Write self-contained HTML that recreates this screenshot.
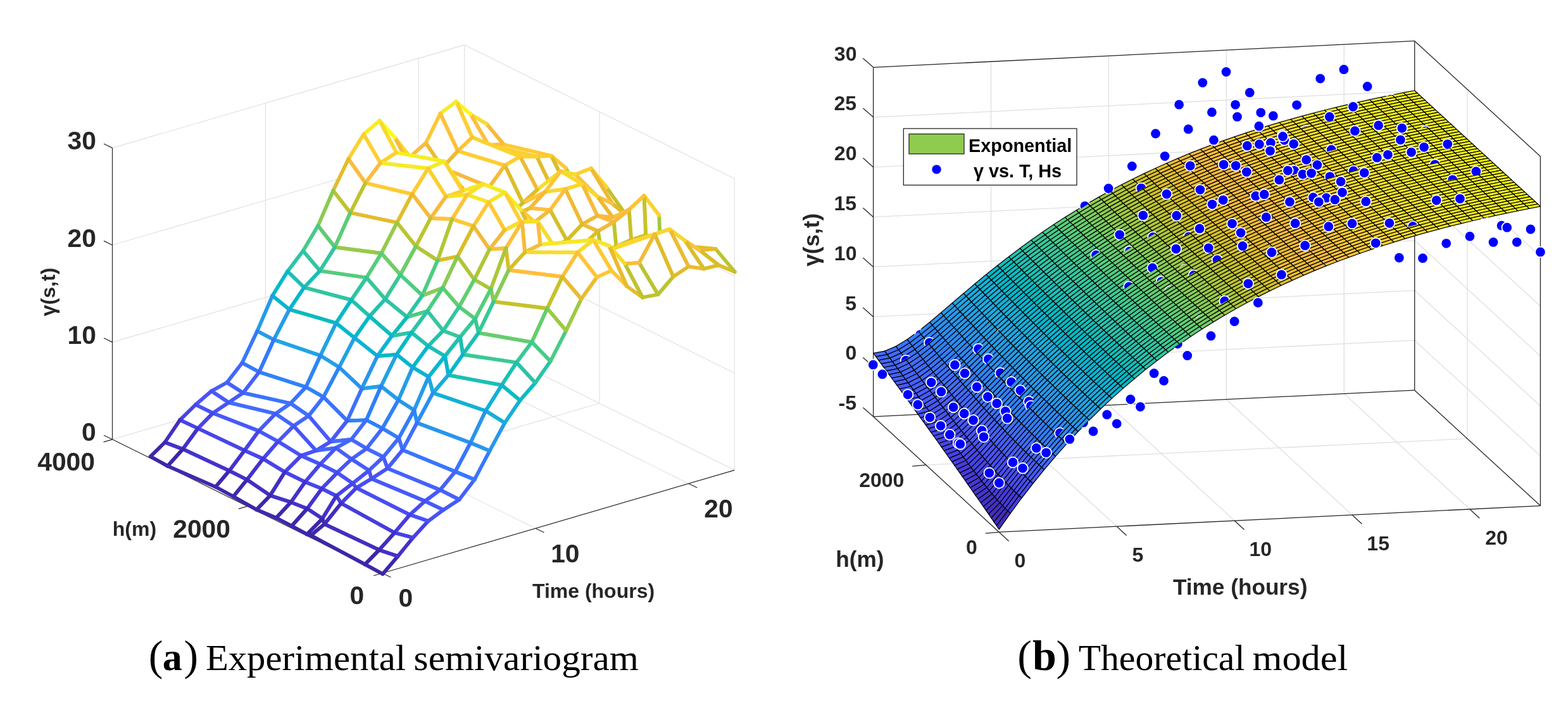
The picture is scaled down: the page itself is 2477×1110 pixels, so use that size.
<!DOCTYPE html>
<html lang="en"><head><meta charset="utf-8"><title>Experimental semivariogram and theoretical model</title>
<style>html,body{margin:0;padding:0;background:#fff}body{width:2477px;height:1110px;overflow:hidden}svg{display:block}</style>
</head><body>
<svg xmlns="http://www.w3.org/2000/svg" width="2477" height="1110" viewBox="0 0 2477 1110">
<rect width="2477" height="1110" fill="#fff"/>
<g id="left-axes" fill="none">
<line x1="177.5" y1="693.8" x2="733.8" y2="531.1" stroke="#dfdfdf" stroke-width="1.1"/>
<line x1="177.5" y1="540.4" x2="733.8" y2="377.7" stroke="#dfdfdf" stroke-width="1.1"/>
<line x1="177.5" y1="387" x2="733.8" y2="224.3" stroke="#dfdfdf" stroke-width="1.1"/>
<line x1="177.5" y1="233.6" x2="733.8" y2="70.9" stroke="#dfdfdf" stroke-width="1.1"/>
<line x1="419.4" y1="623.1" x2="419.4" y2="162.9" stroke="#dfdfdf" stroke-width="1.1"/>
<line x1="661.2" y1="552.3" x2="661.2" y2="92.1" stroke="#dfdfdf" stroke-width="1.1"/>
<line x1="733.8" y1="531.1" x2="733.8" y2="70.9" stroke="#dfdfdf" stroke-width="1.1"/>
<line x1="733.8" y1="531.1" x2="1160.3" y2="742.3" stroke="#dfdfdf" stroke-width="1.1"/>
<line x1="733.8" y1="377.7" x2="1160.3" y2="588.9" stroke="#dfdfdf" stroke-width="1.1"/>
<line x1="733.8" y1="224.3" x2="1160.3" y2="435.5" stroke="#dfdfdf" stroke-width="1.1"/>
<line x1="733.8" y1="70.9" x2="1160.3" y2="282.1" stroke="#dfdfdf" stroke-width="1.1"/>
<line x1="947" y1="636.7" x2="947" y2="176.5" stroke="#dfdfdf" stroke-width="1.1"/>
<line x1="1160.3" y1="742.3" x2="1160.3" y2="282.1" stroke="#dfdfdf" stroke-width="1.1"/>
<line x1="845.9" y1="834.3" x2="419.4" y2="623.1" stroke="#dfdfdf" stroke-width="1.1"/>
<line x1="1087.7" y1="763.5" x2="661.2" y2="552.3" stroke="#dfdfdf" stroke-width="1.1"/>
<line x1="390.8" y1="799.4" x2="947" y2="636.7" stroke="#dfdfdf" stroke-width="1.1"/>
<line x1="177.5" y1="693.8" x2="177.5" y2="233.6" stroke="#262626" stroke-width="1.2"/>
<line x1="177.5" y1="693.8" x2="604" y2="905" stroke="#262626" stroke-width="1.2"/>
<line x1="604" y1="905" x2="1160.3" y2="742.3" stroke="#262626" stroke-width="1.2"/>
<line x1="177.5" y1="693.8" x2="164" y2="687.2" stroke="#262626" stroke-width="1.2"/>
<line x1="177.5" y1="540.4" x2="164" y2="533.8" stroke="#262626" stroke-width="1.2"/>
<line x1="177.5" y1="387" x2="164" y2="380.4" stroke="#262626" stroke-width="1.2"/>
<line x1="177.5" y1="233.6" x2="164" y2="227" stroke="#262626" stroke-width="1.2"/>
<line x1="604" y1="905" x2="590.1" y2="909" stroke="#262626" stroke-width="1.2"/>
<line x1="390.8" y1="799.4" x2="376.9" y2="803.4" stroke="#262626" stroke-width="1.2"/>
<line x1="177.5" y1="693.8" x2="163.6" y2="697.8" stroke="#262626" stroke-width="1.2"/>
<line x1="604" y1="905" x2="617.6" y2="911.5" stroke="#262626" stroke-width="1.2"/>
<line x1="845.9" y1="834.3" x2="859.5" y2="840.8" stroke="#262626" stroke-width="1.2"/>
<line x1="1087.7" y1="763.5" x2="1101.3" y2="770" stroke="#262626" stroke-width="1.2"/>
</g>
<g id="mesh" stroke-linecap="round" stroke-linejoin="round" stroke-width="5.8">
<polygon points="795.7,228.2 819.8,248.3 793.8,228.4 768.6,195.6" fill="#fff" stroke="none"/>
<line x1="795.7" y1="228.2" x2="819.8" y2="248.3" stroke="#f8ba3d"/>
<line x1="819.8" y1="248.3" x2="793.8" y2="228.4" stroke="#d1bf27"/>
<line x1="793.8" y1="228.4" x2="768.6" y2="195.6" stroke="#fec934"/>
<line x1="768.6" y1="195.6" x2="795.7" y2="228.2" stroke="#f8ba3d"/>
<polygon points="771.5,228.9 795.7,228.2 768.6,195.6 743.4,180.4" fill="#fff" stroke="none"/>
<line x1="771.5" y1="228.9" x2="795.7" y2="228.2" stroke="#febe3c"/>
<line x1="795.7" y1="228.2" x2="768.6" y2="195.6" stroke="#f8ba3d"/>
<line x1="768.6" y1="195.6" x2="743.4" y2="180.4" stroke="#f7dd2a"/>
<line x1="743.4" y1="180.4" x2="771.5" y2="228.9" stroke="#febe3c"/>
<polygon points="745.9,217.0 771.5,228.9 743.4,180.4 720.7,160.3" fill="#fff" stroke="none"/>
<line x1="745.9" y1="217.0" x2="771.5" y2="228.9" stroke="#fdce31"/>
<line x1="771.5" y1="228.9" x2="743.4" y2="180.4" stroke="#febe3c"/>
<line x1="743.4" y1="180.4" x2="720.7" y2="160.3" stroke="#f8f719"/>
<line x1="720.7" y1="160.3" x2="745.9" y2="217.0" stroke="#fdce31"/>
<polygon points="723.2,238.5 745.9,217.0 720.7,160.3 695.5,179.2" fill="#fff" stroke="none"/>
<line x1="723.2" y1="238.5" x2="745.9" y2="217.0" stroke="#fec13a"/>
<line x1="745.9" y1="217.0" x2="720.7" y2="160.3" stroke="#fdce31"/>
<line x1="720.7" y1="160.3" x2="695.5" y2="179.2" stroke="#f5ec23"/>
<line x1="695.5" y1="179.2" x2="723.2" y2="238.5" stroke="#fec13a"/>
<polygon points="698.9,265.1 723.2,238.5 695.5,179.2 672.8,225.8" fill="#fff" stroke="none"/>
<line x1="698.9" y1="265.1" x2="723.2" y2="238.5" stroke="#edba34"/>
<line x1="723.2" y1="238.5" x2="695.5" y2="179.2" stroke="#fec13a"/>
<line x1="695.5" y1="179.2" x2="672.8" y2="225.8" stroke="#fec735"/>
<line x1="672.8" y1="225.8" x2="698.9" y2="265.1" stroke="#edba34"/>
<polygon points="674.7,277.6 698.9,265.1 672.8,225.8 647.7,247.4" fill="#fff" stroke="none"/>
<line x1="674.7" y1="277.6" x2="698.9" y2="265.1" stroke="#e6bb2d"/>
<line x1="698.9" y1="265.1" x2="672.8" y2="225.8" stroke="#edba34"/>
<line x1="672.8" y1="225.8" x2="647.7" y2="247.4" stroke="#fbbc3d"/>
<line x1="647.7" y1="247.4" x2="674.7" y2="277.6" stroke="#e6bb2d"/>
<polygon points="650.5,268.9 674.7,277.6 647.7,247.4 623.6,217.0" fill="#fff" stroke="none"/>
<line x1="650.5" y1="268.9" x2="674.7" y2="277.6" stroke="#fabb3d"/>
<line x1="674.7" y1="277.6" x2="647.7" y2="247.4" stroke="#e6bb2d"/>
<line x1="647.7" y1="247.4" x2="623.6" y2="217.0" stroke="#f7dc2a"/>
<line x1="623.6" y1="217.0" x2="650.5" y2="268.9" stroke="#fabb3d"/>
<polygon points="626.1,241.0 650.5,268.9 623.6,217.0 599.6,190.5" fill="#fff" stroke="none"/>
<line x1="626.1" y1="241.0" x2="650.5" y2="268.9" stroke="#f8d92c"/>
<line x1="650.5" y1="268.9" x2="623.6" y2="217.0" stroke="#fabb3d"/>
<line x1="623.6" y1="217.0" x2="599.6" y2="190.5" stroke="#f9fb15"/>
<line x1="599.6" y1="190.5" x2="626.1" y2="241.0" stroke="#f8d92c"/>
<polygon points="600.9,257.4 626.1,241.0 599.6,190.5 574.4,212.0" fill="#fff" stroke="none"/>
<line x1="600.9" y1="257.4" x2="626.1" y2="241.0" stroke="#fcd030"/>
<line x1="626.1" y1="241.0" x2="599.6" y2="190.5" stroke="#f8d92c"/>
<line x1="599.6" y1="190.5" x2="574.4" y2="212.0" stroke="#f5ee21"/>
<line x1="574.4" y1="212.0" x2="600.9" y2="257.4" stroke="#fcd030"/>
<polygon points="577.3,289.0 600.9,257.4 574.4,212.0 550.4,251.1" fill="#fff" stroke="none"/>
<line x1="577.3" y1="289.0" x2="600.9" y2="257.4" stroke="#fbbc3d"/>
<line x1="600.9" y1="257.4" x2="574.4" y2="212.0" stroke="#fcd030"/>
<line x1="574.4" y1="212.0" x2="550.4" y2="251.1" stroke="#fcd030"/>
<line x1="550.4" y1="251.1" x2="577.3" y2="289.0" stroke="#fbbc3d"/>
<polygon points="553.4,336.0 577.3,289.0 550.4,251.1 526.3,301.0" fill="#fff" stroke="none"/>
<line x1="553.4" y1="336.0" x2="577.3" y2="289.0" stroke="#bfc32d"/>
<line x1="577.3" y1="289.0" x2="550.4" y2="251.1" stroke="#fbbc3d"/>
<line x1="550.4" y1="251.1" x2="526.3" y2="301.0" stroke="#e4bb2c"/>
<line x1="526.3" y1="301.0" x2="553.4" y2="336.0" stroke="#bfc32d"/>
<polygon points="529.0,390.4 553.4,336.0 526.3,301.0 502.3,356.5" fill="#fff" stroke="none"/>
<line x1="529.0" y1="390.4" x2="553.4" y2="336.0" stroke="#5dcc75"/>
<line x1="553.4" y1="336.0" x2="526.3" y2="301.0" stroke="#bfc32d"/>
<line x1="526.3" y1="301.0" x2="502.3" y2="356.5" stroke="#89cb53"/>
<line x1="502.3" y1="356.5" x2="529.0" y2="390.4" stroke="#5dcc75"/>
<polygon points="505.4,427.7 529.0,390.4 502.3,356.5 478.7,396.2" fill="#fff" stroke="none"/>
<line x1="505.4" y1="427.7" x2="529.0" y2="390.4" stroke="#32c69f"/>
<line x1="529.0" y1="390.4" x2="502.3" y2="356.5" stroke="#5dcc75"/>
<line x1="502.3" y1="356.5" x2="478.7" y2="396.2" stroke="#47cb87"/>
<line x1="478.7" y1="396.2" x2="505.4" y2="427.7" stroke="#32c69f"/>
<polygon points="480.5,454.0 505.4,427.7 478.7,396.2 454.2,428.5" fill="#fff" stroke="none"/>
<line x1="480.5" y1="454.0" x2="505.4" y2="427.7" stroke="#1ac0b4"/>
<line x1="505.4" y1="427.7" x2="478.7" y2="396.2" stroke="#32c69f"/>
<line x1="478.7" y1="396.2" x2="454.2" y2="428.5" stroke="#2cc4a7"/>
<line x1="454.2" y1="428.5" x2="480.5" y2="454.0" stroke="#1ac0b4"/>
<polygon points="457.2,488.7 480.5,454.0 454.2,428.5 430.3,467.0" fill="#fff" stroke="none"/>
<line x1="457.2" y1="488.7" x2="480.5" y2="454.0" stroke="#07b5cf"/>
<line x1="480.5" y1="454.0" x2="454.2" y2="428.5" stroke="#1ac0b4"/>
<line x1="454.2" y1="428.5" x2="430.3" y2="467.0" stroke="#01b9c8"/>
<line x1="430.3" y1="467.0" x2="457.2" y2="488.7" stroke="#07b5cf"/>
<polygon points="432.6,536.5 457.2,488.7 430.3,467.0 406.3,522.8" fill="#fff" stroke="none"/>
<line x1="432.6" y1="536.5" x2="457.2" y2="488.7" stroke="#259ce7"/>
<line x1="457.2" y1="488.7" x2="430.3" y2="467.0" stroke="#07b5cf"/>
<line x1="430.3" y1="467.0" x2="406.3" y2="522.8" stroke="#259ce7"/>
<line x1="406.3" y1="522.8" x2="432.6" y2="536.5" stroke="#259ce7"/>
<polygon points="409.4,587.5 432.6,536.5 406.3,522.8 382.5,573.0" fill="#fff" stroke="none"/>
<line x1="409.4" y1="587.5" x2="432.6" y2="536.5" stroke="#3479fd"/>
<line x1="432.6" y1="536.5" x2="406.3" y2="522.8" stroke="#259ce7"/>
<line x1="406.3" y1="522.8" x2="382.5" y2="573.0" stroke="#337afd"/>
<line x1="382.5" y1="573.0" x2="409.4" y2="587.5" stroke="#3479fd"/>
<polygon points="384.0,620.4 409.4,587.5 382.5,573.0 358.5,604.0" fill="#fff" stroke="none"/>
<line x1="384.0" y1="620.4" x2="409.4" y2="587.5" stroke="#4561fc"/>
<line x1="409.4" y1="587.5" x2="382.5" y2="573.0" stroke="#3479fd"/>
<line x1="382.5" y1="573.0" x2="358.5" y2="604.0" stroke="#4465fd"/>
<line x1="358.5" y1="604.0" x2="384.0" y2="620.4" stroke="#4561fc"/>
<polygon points="361.3,635.6 384.0,620.4 358.5,604.0 334.0,617.5" fill="#fff" stroke="none"/>
<line x1="361.3" y1="635.6" x2="384.0" y2="620.4" stroke="#475bf9"/>
<line x1="384.0" y1="620.4" x2="358.5" y2="604.0" stroke="#4561fc"/>
<line x1="358.5" y1="604.0" x2="334.0" y2="617.5" stroke="#465ffb"/>
<line x1="334.0" y1="617.5" x2="361.3" y2="635.6" stroke="#475bf9"/>
<polygon points="336.3,652.4 361.3,635.6 334.0,617.5 309.0,639.0" fill="#fff" stroke="none"/>
<line x1="336.3" y1="652.4" x2="361.3" y2="635.6" stroke="#4853f5"/>
<line x1="361.3" y1="635.6" x2="334.0" y2="617.5" stroke="#475bf9"/>
<line x1="334.0" y1="617.5" x2="309.0" y2="639.0" stroke="#4853f5"/>
<line x1="309.0" y1="639.0" x2="336.3" y2="652.4" stroke="#4853f5"/>
<polygon points="312.7,676.5 336.3,652.4 309.0,639.0 284.3,663.1" fill="#fff" stroke="none"/>
<line x1="312.7" y1="676.5" x2="336.3" y2="652.4" stroke="#4745e9"/>
<line x1="336.3" y1="652.4" x2="309.0" y2="639.0" stroke="#4853f5"/>
<line x1="309.0" y1="639.0" x2="284.3" y2="663.1" stroke="#4744e8"/>
<line x1="284.3" y1="663.1" x2="312.7" y2="676.5" stroke="#4745e9"/>
<polygon points="288.8,709.2 312.7,676.5 284.3,663.1 260.4,698.5" fill="#fff" stroke="none"/>
<line x1="288.8" y1="709.2" x2="312.7" y2="676.5" stroke="#4332c9"/>
<line x1="312.7" y1="676.5" x2="284.3" y2="663.1" stroke="#4745e9"/>
<line x1="284.3" y1="663.1" x2="260.4" y2="698.5" stroke="#4230c3"/>
<line x1="260.4" y1="698.5" x2="288.8" y2="709.2" stroke="#4332c9"/>
<polygon points="264.9,735.9 288.8,709.2 260.4,698.5 237.7,720.8" fill="#fff" stroke="none"/>
<line x1="264.9" y1="735.9" x2="288.8" y2="709.2" stroke="#3e26a8"/>
<line x1="288.8" y1="709.2" x2="260.4" y2="698.5" stroke="#4332c9"/>
<line x1="260.4" y1="698.5" x2="237.7" y2="720.8" stroke="#3e27ab"/>
<line x1="237.7" y1="720.8" x2="264.9" y2="735.9" stroke="#3e26a8"/>
<polygon points="870.7,246.0 894.0,265.6 819.8,248.3 795.7,228.2" fill="#fff" stroke="none"/>
<line x1="870.7" y1="246.0" x2="894.0" y2="265.6" stroke="#fec934"/>
<line x1="894.0" y1="265.6" x2="819.8" y2="248.3" stroke="#efba35"/>
<line x1="819.8" y1="248.3" x2="795.7" y2="228.2" stroke="#f8ba3d"/>
<line x1="795.7" y1="228.2" x2="870.7" y2="246.0" stroke="#fec934"/>
<polygon points="848.0,247.3 870.7,246.0 795.7,228.2 771.5,228.9" fill="#fff" stroke="none"/>
<line x1="848.0" y1="247.3" x2="870.7" y2="246.0" stroke="#fccf30"/>
<line x1="870.7" y1="246.0" x2="795.7" y2="228.2" stroke="#fec934"/>
<line x1="795.7" y1="228.2" x2="771.5" y2="228.9" stroke="#febe3c"/>
<line x1="771.5" y1="228.9" x2="848.0" y2="247.3" stroke="#fccf30"/>
<polygon points="821.6,247.3 848.0,247.3 771.5,228.9 745.9,217.0" fill="#fff" stroke="none"/>
<line x1="821.6" y1="247.3" x2="848.0" y2="247.3" stroke="#fad42e"/>
<line x1="848.0" y1="247.3" x2="771.5" y2="228.9" stroke="#fccf30"/>
<line x1="771.5" y1="228.9" x2="745.9" y2="217.0" stroke="#fdce31"/>
<line x1="745.9" y1="217.0" x2="821.6" y2="247.3" stroke="#fad42e"/>
<polygon points="797.6,261.2 821.6,247.3 745.9,217.0 723.2,238.5" fill="#fff" stroke="none"/>
<line x1="797.6" y1="261.2" x2="821.6" y2="247.3" stroke="#fdce31"/>
<line x1="821.6" y1="247.3" x2="745.9" y2="217.0" stroke="#fad42e"/>
<line x1="745.9" y1="217.0" x2="723.2" y2="238.5" stroke="#fec13a"/>
<line x1="723.2" y1="238.5" x2="797.6" y2="261.2" stroke="#fdce31"/>
<polygon points="773.0,295.3 797.6,261.2 723.2,238.5 698.9,265.1" fill="#fff" stroke="none"/>
<line x1="773.0" y1="295.3" x2="797.6" y2="261.2" stroke="#f6ba3b"/>
<line x1="797.6" y1="261.2" x2="723.2" y2="238.5" stroke="#fdce31"/>
<line x1="723.2" y1="238.5" x2="698.9" y2="265.1" stroke="#edba34"/>
<line x1="698.9" y1="265.1" x2="773.0" y2="295.3" stroke="#f6ba3b"/>
<polygon points="748.8,321.5 773.0,295.3 698.9,265.1 674.7,277.6" fill="#fff" stroke="none"/>
<line x1="748.8" y1="321.5" x2="773.0" y2="295.3" stroke="#dbbd29"/>
<line x1="773.0" y1="295.3" x2="698.9" y2="265.1" stroke="#f6ba3b"/>
<line x1="698.9" y1="265.1" x2="674.7" y2="277.6" stroke="#e6bb2d"/>
<line x1="674.7" y1="277.6" x2="748.8" y2="321.5" stroke="#dbbd29"/>
<polygon points="727.0,292.4 748.8,321.5 674.7,277.6 650.5,268.9" fill="#fff" stroke="none"/>
<line x1="727.0" y1="292.4" x2="748.8" y2="321.5" stroke="#fec636"/>
<line x1="748.8" y1="321.5" x2="674.7" y2="277.6" stroke="#dbbd29"/>
<line x1="674.7" y1="277.6" x2="650.5" y2="268.9" stroke="#fabb3d"/>
<line x1="650.5" y1="268.9" x2="727.0" y2="292.4" stroke="#fec636"/>
<polygon points="701.8,254.8 727.0,292.4 650.5,268.9 626.1,241.0" fill="#fff" stroke="none"/>
<line x1="701.8" y1="254.8" x2="727.0" y2="292.4" stroke="#f6ef20"/>
<line x1="727.0" y1="292.4" x2="650.5" y2="268.9" stroke="#fec636"/>
<line x1="650.5" y1="268.9" x2="626.1" y2="241.0" stroke="#f8d92c"/>
<line x1="626.1" y1="241.0" x2="701.8" y2="254.8" stroke="#f6ef20"/>
<polygon points="676.4,266.0 701.8,254.8 626.1,241.0 600.9,257.4" fill="#fff" stroke="none"/>
<line x1="676.4" y1="266.0" x2="701.8" y2="254.8" stroke="#f5eb23"/>
<line x1="701.8" y1="254.8" x2="626.1" y2="241.0" stroke="#f6ef20"/>
<line x1="626.1" y1="241.0" x2="600.9" y2="257.4" stroke="#fcd030"/>
<line x1="600.9" y1="257.4" x2="676.4" y2="266.0" stroke="#f5eb23"/>
<polygon points="651.2,306.6 676.4,266.0 600.9,257.4 577.3,289.0" fill="#fff" stroke="none"/>
<line x1="651.2" y1="306.6" x2="676.4" y2="266.0" stroke="#fdcb33"/>
<line x1="676.4" y1="266.0" x2="600.9" y2="257.4" stroke="#f5eb23"/>
<line x1="600.9" y1="257.4" x2="577.3" y2="289.0" stroke="#fbbc3d"/>
<line x1="577.3" y1="289.0" x2="651.2" y2="306.6" stroke="#fdcb33"/>
<polygon points="627.2,351.5 651.2,306.6 577.3,289.0 553.4,336.0" fill="#fff" stroke="none"/>
<line x1="627.2" y1="351.5" x2="651.2" y2="306.6" stroke="#e3bc2c"/>
<line x1="651.2" y1="306.6" x2="577.3" y2="289.0" stroke="#fdcb33"/>
<line x1="577.3" y1="289.0" x2="553.4" y2="336.0" stroke="#bfc32d"/>
<line x1="553.4" y1="336.0" x2="627.2" y2="351.5" stroke="#e3bc2c"/>
<polygon points="602.5,400.0 627.2,351.5 553.4,336.0 529.0,390.4" fill="#fff" stroke="none"/>
<line x1="602.5" y1="400.0" x2="627.2" y2="351.5" stroke="#96ca49"/>
<line x1="627.2" y1="351.5" x2="553.4" y2="336.0" stroke="#e3bc2c"/>
<line x1="553.4" y1="336.0" x2="529.0" y2="390.4" stroke="#5dcc75"/>
<line x1="529.0" y1="390.4" x2="602.5" y2="400.0" stroke="#96ca49"/>
<polygon points="579.0,438.5 602.5,400.0 529.0,390.4 505.4,427.7" fill="#fff" stroke="none"/>
<line x1="579.0" y1="438.5" x2="602.5" y2="400.0" stroke="#55cc7c"/>
<line x1="602.5" y1="400.0" x2="529.0" y2="390.4" stroke="#96ca49"/>
<line x1="529.0" y1="390.4" x2="505.4" y2="427.7" stroke="#32c69f"/>
<line x1="505.4" y1="427.7" x2="579.0" y2="438.5" stroke="#55cc7c"/>
<polygon points="555.0,473.6 579.0,438.5 505.4,427.7 480.5,454.0" fill="#fff" stroke="none"/>
<line x1="555.0" y1="473.6" x2="579.0" y2="438.5" stroke="#30c5a2"/>
<line x1="579.0" y1="438.5" x2="505.4" y2="427.7" stroke="#55cc7c"/>
<line x1="505.4" y1="427.7" x2="480.5" y2="454.0" stroke="#1ac0b4"/>
<line x1="480.5" y1="454.0" x2="555.0" y2="473.6" stroke="#30c5a2"/>
<polygon points="531.0,510.2 555.0,473.6 480.5,454.0 457.2,488.7" fill="#fff" stroke="none"/>
<line x1="531.0" y1="510.2" x2="555.0" y2="473.6" stroke="#05bbc1"/>
<line x1="555.0" y1="473.6" x2="480.5" y2="454.0" stroke="#30c5a2"/>
<line x1="480.5" y1="454.0" x2="457.2" y2="488.7" stroke="#07b5cf"/>
<line x1="457.2" y1="488.7" x2="531.0" y2="510.2" stroke="#05bbc1"/>
<polygon points="506.2,561.5 531.0,510.2 457.2,488.7 432.6,536.5" fill="#fff" stroke="none"/>
<line x1="506.2" y1="561.5" x2="531.0" y2="510.2" stroke="#21a4e3"/>
<line x1="531.0" y1="510.2" x2="457.2" y2="488.7" stroke="#05bbc1"/>
<line x1="457.2" y1="488.7" x2="432.6" y2="536.5" stroke="#259ce7"/>
<line x1="432.6" y1="536.5" x2="506.2" y2="561.5" stroke="#21a4e3"/>
<polygon points="483.3,611.3 506.2,561.5 432.6,536.5 409.4,587.5" fill="#fff" stroke="none"/>
<line x1="483.3" y1="611.3" x2="506.2" y2="561.5" stroke="#2e84f8"/>
<line x1="506.2" y1="561.5" x2="432.6" y2="536.5" stroke="#21a4e3"/>
<line x1="432.6" y1="536.5" x2="409.4" y2="587.5" stroke="#3479fd"/>
<line x1="409.4" y1="587.5" x2="483.3" y2="611.3" stroke="#2e84f8"/>
<polygon points="459.0,637.0 483.3,611.3 409.4,587.5 384.0,620.4" fill="#fff" stroke="none"/>
<line x1="459.0" y1="637.0" x2="483.3" y2="611.3" stroke="#3a74fe"/>
<line x1="483.3" y1="611.3" x2="409.4" y2="587.5" stroke="#2e84f8"/>
<line x1="409.4" y1="587.5" x2="384.0" y2="620.4" stroke="#4561fc"/>
<line x1="384.0" y1="620.4" x2="459.0" y2="637.0" stroke="#3a74fe"/>
<polygon points="435.2,653.3 459.0,637.0 384.0,620.4 361.3,635.6" fill="#fff" stroke="none"/>
<line x1="435.2" y1="653.3" x2="459.0" y2="637.0" stroke="#416cfe"/>
<line x1="459.0" y1="637.0" x2="384.0" y2="620.4" stroke="#3a74fe"/>
<line x1="384.0" y1="620.4" x2="361.3" y2="635.6" stroke="#475bf9"/>
<line x1="361.3" y1="635.6" x2="435.2" y2="653.3" stroke="#416cfe"/>
<polygon points="408.8,680.5 435.2,653.3 361.3,635.6 336.3,652.4" fill="#fff" stroke="none"/>
<line x1="408.8" y1="680.5" x2="435.2" y2="653.3" stroke="#4759f9"/>
<line x1="435.2" y1="653.3" x2="361.3" y2="635.6" stroke="#416cfe"/>
<line x1="361.3" y1="635.6" x2="336.3" y2="652.4" stroke="#4853f5"/>
<line x1="336.3" y1="652.4" x2="408.8" y2="680.5" stroke="#4759f9"/>
<polygon points="386.4,711.3 408.8,680.5 336.3,652.4 312.7,676.5" fill="#fff" stroke="none"/>
<line x1="386.4" y1="711.3" x2="408.8" y2="680.5" stroke="#4746ea"/>
<line x1="408.8" y1="680.5" x2="336.3" y2="652.4" stroke="#4759f9"/>
<line x1="336.3" y1="652.4" x2="312.7" y2="676.5" stroke="#4745e9"/>
<line x1="312.7" y1="676.5" x2="386.4" y2="711.3" stroke="#4746ea"/>
<polygon points="362.2,743.4 386.4,711.3 312.7,676.5 288.8,709.2" fill="#fff" stroke="none"/>
<line x1="362.2" y1="743.4" x2="386.4" y2="711.3" stroke="#4433cc"/>
<line x1="386.4" y1="711.3" x2="312.7" y2="676.5" stroke="#4746ea"/>
<line x1="312.7" y1="676.5" x2="288.8" y2="709.2" stroke="#4332c9"/>
<line x1="288.8" y1="709.2" x2="362.2" y2="743.4" stroke="#4433cc"/>
<polygon points="340.6,768.8 362.2,743.4 288.8,709.2 264.9,735.9" fill="#fff" stroke="none"/>
<line x1="340.6" y1="768.8" x2="362.2" y2="743.4" stroke="#3f29b0"/>
<line x1="362.2" y1="743.4" x2="288.8" y2="709.2" stroke="#4433cc"/>
<line x1="288.8" y1="709.2" x2="264.9" y2="735.9" stroke="#3e26a8"/>
<line x1="264.9" y1="735.9" x2="340.6" y2="768.8" stroke="#3f29b0"/>
<polygon points="898.8,302.1 923.0,322.2 894.0,265.6 870.7,246.0" fill="#fff" stroke="none"/>
<line x1="898.8" y1="302.1" x2="923.0" y2="322.2" stroke="#d8be28"/>
<line x1="923.0" y1="322.2" x2="894.0" y2="265.6" stroke="#a6c73c"/>
<line x1="894.0" y1="265.6" x2="870.7" y2="246.0" stroke="#fec934"/>
<line x1="870.7" y1="246.0" x2="898.8" y2="302.1" stroke="#d8be28"/>
<polygon points="874.6,302.8 898.8,302.1 870.7,246.0 848.0,247.3" fill="#fff" stroke="none"/>
<line x1="874.6" y1="302.8" x2="898.8" y2="302.1" stroke="#e2bc2b"/>
<line x1="898.8" y1="302.1" x2="870.7" y2="246.0" stroke="#d8be28"/>
<line x1="870.7" y1="246.0" x2="848.0" y2="247.3" stroke="#fccf30"/>
<line x1="848.0" y1="247.3" x2="874.6" y2="302.8" stroke="#e2bc2b"/>
<polygon points="848.9,299.5 874.6,302.8 848.0,247.3 821.6,247.3" fill="#fff" stroke="none"/>
<line x1="848.9" y1="299.5" x2="874.6" y2="302.8" stroke="#f0ba36"/>
<line x1="874.6" y1="302.8" x2="848.0" y2="247.3" stroke="#e2bc2b"/>
<line x1="848.0" y1="247.3" x2="821.6" y2="247.3" stroke="#fad42e"/>
<line x1="821.6" y1="247.3" x2="848.9" y2="299.5" stroke="#f0ba36"/>
<polygon points="825.9,320.6 848.9,299.5 821.6,247.3 797.6,261.2" fill="#fff" stroke="none"/>
<line x1="825.9" y1="320.6" x2="848.9" y2="299.5" stroke="#ddbd29"/>
<line x1="848.9" y1="299.5" x2="821.6" y2="247.3" stroke="#f0ba36"/>
<line x1="821.6" y1="247.3" x2="797.6" y2="261.2" stroke="#fdce31"/>
<line x1="797.6" y1="261.2" x2="825.9" y2="320.6" stroke="#ddbd29"/>
<polygon points="802.0,343.1 825.9,320.6 797.6,261.2 773.0,295.3" fill="#fff" stroke="none"/>
<line x1="802.0" y1="343.1" x2="825.9" y2="320.6" stroke="#c2c22b"/>
<line x1="825.9" y1="320.6" x2="797.6" y2="261.2" stroke="#ddbd29"/>
<line x1="797.6" y1="261.2" x2="773.0" y2="295.3" stroke="#f6ba3b"/>
<line x1="773.0" y1="295.3" x2="802.0" y2="343.1" stroke="#c2c22b"/>
<polygon points="777.8,351.3 802.0,343.1 773.0,295.3 748.8,321.5" fill="#fff" stroke="none"/>
<line x1="777.8" y1="351.3" x2="802.0" y2="343.1" stroke="#c0c32d"/>
<line x1="802.0" y1="343.1" x2="773.0" y2="295.3" stroke="#c2c22b"/>
<line x1="773.0" y1="295.3" x2="748.8" y2="321.5" stroke="#dbbd29"/>
<line x1="748.8" y1="321.5" x2="777.8" y2="351.3" stroke="#c0c32d"/>
<polygon points="753.6,338.3 777.8,351.3 748.8,321.5 727.0,292.4" fill="#fff" stroke="none"/>
<line x1="753.6" y1="338.3" x2="777.8" y2="351.3" stroke="#e2bc2b"/>
<line x1="777.8" y1="351.3" x2="748.8" y2="321.5" stroke="#c0c32d"/>
<line x1="748.8" y1="321.5" x2="727.0" y2="292.4" stroke="#fec636"/>
<line x1="727.0" y1="292.4" x2="753.6" y2="338.3" stroke="#e2bc2b"/>
<polygon points="730.8,301.5 753.6,338.3 727.0,292.4 701.8,254.8" fill="#fff" stroke="none"/>
<line x1="730.8" y1="301.5" x2="753.6" y2="338.3" stroke="#fcd12f"/>
<line x1="753.6" y1="338.3" x2="727.0" y2="292.4" stroke="#e2bc2b"/>
<line x1="727.0" y1="292.4" x2="701.8" y2="254.8" stroke="#f6ef20"/>
<line x1="701.8" y1="254.8" x2="730.8" y2="301.5" stroke="#fcd12f"/>
<polygon points="704.5,310.4 730.8,301.5 701.8,254.8 676.4,266.0" fill="#fff" stroke="none"/>
<line x1="704.5" y1="310.4" x2="730.8" y2="301.5" stroke="#fdce31"/>
<line x1="730.8" y1="301.5" x2="701.8" y2="254.8" stroke="#fcd12f"/>
<line x1="701.8" y1="254.8" x2="676.4" y2="266.0" stroke="#f5eb23"/>
<line x1="676.4" y1="266.0" x2="704.5" y2="310.4" stroke="#fdce31"/>
<polygon points="680.3,344.5 704.5,310.4 676.4,266.0 651.2,306.6" fill="#fff" stroke="none"/>
<line x1="680.3" y1="344.5" x2="704.5" y2="310.4" stroke="#f6ba3b"/>
<line x1="704.5" y1="310.4" x2="676.4" y2="266.0" stroke="#fdce31"/>
<line x1="676.4" y1="266.0" x2="651.2" y2="306.6" stroke="#fdcb33"/>
<line x1="651.2" y1="306.6" x2="680.3" y2="344.5" stroke="#f6ba3b"/>
<polygon points="657.0,389.0 680.3,344.5 651.2,306.6 627.2,351.5" fill="#fff" stroke="none"/>
<line x1="657.0" y1="389.0" x2="680.3" y2="344.5" stroke="#bcc42f"/>
<line x1="680.3" y1="344.5" x2="651.2" y2="306.6" stroke="#f6ba3b"/>
<line x1="651.2" y1="306.6" x2="627.2" y2="351.5" stroke="#e3bc2c"/>
<line x1="627.2" y1="351.5" x2="657.0" y2="389.0" stroke="#bcc42f"/>
<polygon points="632.5,434.0 657.0,389.0 627.2,351.5 602.5,400.0" fill="#fff" stroke="none"/>
<line x1="632.5" y1="434.0" x2="657.0" y2="389.0" stroke="#6ccd68"/>
<line x1="657.0" y1="389.0" x2="627.2" y2="351.5" stroke="#bcc42f"/>
<line x1="627.2" y1="351.5" x2="602.5" y2="400.0" stroke="#96ca49"/>
<line x1="602.5" y1="400.0" x2="632.5" y2="434.0" stroke="#6ccd68"/>
<polygon points="608.5,472.4 632.5,434.0 602.5,400.0 579.0,438.5" fill="#fff" stroke="none"/>
<line x1="608.5" y1="472.4" x2="632.5" y2="434.0" stroke="#37c897"/>
<line x1="632.5" y1="434.0" x2="602.5" y2="400.0" stroke="#6ccd68"/>
<line x1="602.5" y1="400.0" x2="579.0" y2="438.5" stroke="#55cc7c"/>
<line x1="579.0" y1="438.5" x2="608.5" y2="472.4" stroke="#37c897"/>
<polygon points="583.9,499.5 608.5,472.4 579.0,438.5 555.0,473.6" fill="#fff" stroke="none"/>
<line x1="583.9" y1="499.5" x2="608.5" y2="472.4" stroke="#24c1ae"/>
<line x1="608.5" y1="472.4" x2="579.0" y2="438.5" stroke="#37c897"/>
<line x1="579.0" y1="438.5" x2="555.0" y2="473.6" stroke="#30c5a2"/>
<line x1="555.0" y1="473.6" x2="583.9" y2="499.5" stroke="#24c1ae"/>
<polygon points="560.0,533.5 583.9,499.5 555.0,473.6 531.0,510.2" fill="#fff" stroke="none"/>
<line x1="560.0" y1="533.5" x2="583.9" y2="499.5" stroke="#01b8ca"/>
<line x1="583.9" y1="499.5" x2="555.0" y2="473.6" stroke="#24c1ae"/>
<line x1="555.0" y1="473.6" x2="531.0" y2="510.2" stroke="#05bbc1"/>
<line x1="531.0" y1="510.2" x2="560.0" y2="533.5" stroke="#01b8ca"/>
<polygon points="535.8,580.0 560.0,533.5 531.0,510.2 506.2,561.5" fill="#fff" stroke="none"/>
<line x1="535.8" y1="580.0" x2="560.0" y2="533.5" stroke="#23a1e4"/>
<line x1="560.0" y1="533.5" x2="531.0" y2="510.2" stroke="#01b8ca"/>
<line x1="531.0" y1="510.2" x2="506.2" y2="561.5" stroke="#21a4e3"/>
<line x1="506.2" y1="561.5" x2="535.8" y2="580.0" stroke="#23a1e4"/>
<polygon points="511.0,627.0 535.8,580.0 506.2,561.5 483.3,611.3" fill="#fff" stroke="none"/>
<line x1="511.0" y1="627.0" x2="535.8" y2="580.0" stroke="#2f83f9"/>
<line x1="535.8" y1="580.0" x2="506.2" y2="561.5" stroke="#23a1e4"/>
<line x1="506.2" y1="561.5" x2="483.3" y2="611.3" stroke="#2e84f8"/>
<line x1="483.3" y1="611.3" x2="511.0" y2="627.0" stroke="#2f83f9"/>
<polygon points="487.6,656.6 511.0,627.0 483.3,611.3 459.0,637.0" fill="#fff" stroke="none"/>
<line x1="487.6" y1="656.6" x2="511.0" y2="627.0" stroke="#3e6fff"/>
<line x1="511.0" y1="627.0" x2="483.3" y2="611.3" stroke="#2f83f9"/>
<line x1="483.3" y1="611.3" x2="459.0" y2="637.0" stroke="#3a74fe"/>
<line x1="459.0" y1="637.0" x2="487.6" y2="656.6" stroke="#3e6fff"/>
<polygon points="463.8,672.6 487.6,656.6 459.0,637.0 435.2,653.3" fill="#fff" stroke="none"/>
<line x1="463.8" y1="672.6" x2="487.6" y2="656.6" stroke="#4367fd"/>
<line x1="487.6" y1="656.6" x2="459.0" y2="637.0" stroke="#3e6fff"/>
<line x1="459.0" y1="637.0" x2="435.2" y2="653.3" stroke="#416cfe"/>
<line x1="435.2" y1="653.3" x2="463.8" y2="672.6" stroke="#4367fd"/>
<polygon points="439.4,697.2 463.8,672.6 435.2,653.3 408.8,680.5" fill="#fff" stroke="none"/>
<line x1="439.4" y1="697.2" x2="463.8" y2="672.6" stroke="#4758f8"/>
<line x1="463.8" y1="672.6" x2="435.2" y2="653.3" stroke="#4367fd"/>
<line x1="435.2" y1="653.3" x2="408.8" y2="680.5" stroke="#4759f9"/>
<line x1="408.8" y1="680.5" x2="439.4" y2="697.2" stroke="#4758f8"/>
<polygon points="415.6,724.5 439.4,697.2 408.8,680.5 386.4,711.3" fill="#fff" stroke="none"/>
<line x1="415.6" y1="724.5" x2="439.4" y2="697.2" stroke="#4747eb"/>
<line x1="439.4" y1="697.2" x2="408.8" y2="680.5" stroke="#4758f8"/>
<line x1="408.8" y1="680.5" x2="386.4" y2="711.3" stroke="#4746ea"/>
<line x1="386.4" y1="711.3" x2="415.6" y2="724.5" stroke="#4747eb"/>
<polygon points="390.2,757.5 415.6,724.5 386.4,711.3 362.2,743.4" fill="#fff" stroke="none"/>
<line x1="390.2" y1="757.5" x2="415.6" y2="724.5" stroke="#4433cc"/>
<line x1="415.6" y1="724.5" x2="386.4" y2="711.3" stroke="#4747eb"/>
<line x1="386.4" y1="711.3" x2="362.2" y2="743.4" stroke="#4433cc"/>
<line x1="362.2" y1="743.4" x2="390.2" y2="757.5" stroke="#4433cc"/>
<polygon points="368.7,784.0 390.2,757.5 362.2,743.4 340.6,768.8" fill="#fff" stroke="none"/>
<line x1="368.7" y1="784.0" x2="390.2" y2="757.5" stroke="#3f28ae"/>
<line x1="390.2" y1="757.5" x2="362.2" y2="743.4" stroke="#4433cc"/>
<line x1="362.2" y1="743.4" x2="340.6" y2="768.8" stroke="#3f29b0"/>
<line x1="340.6" y1="768.8" x2="368.7" y2="784.0" stroke="#3f28ae"/>
<polygon points="933.6,265.9 958.3,295.9 923.0,322.2 898.8,302.1" fill="#fff" stroke="none"/>
<line x1="933.6" y1="265.9" x2="958.3" y2="295.9" stroke="#fbd32e"/>
<line x1="958.3" y1="295.9" x2="923.0" y2="322.2" stroke="#f1ba37"/>
<line x1="923.0" y1="322.2" x2="898.8" y2="302.1" stroke="#d8be28"/>
<line x1="898.8" y1="302.1" x2="933.6" y2="265.9" stroke="#fbd32e"/>
<polygon points="908.9,275.6 933.6,265.9 898.8,302.1 874.6,302.8" fill="#fff" stroke="none"/>
<line x1="908.9" y1="275.6" x2="933.6" y2="265.9" stroke="#fcd030"/>
<line x1="933.6" y1="265.9" x2="898.8" y2="302.1" stroke="#fbd32e"/>
<line x1="898.8" y1="302.1" x2="874.6" y2="302.8" stroke="#e2bc2b"/>
<line x1="874.6" y1="302.8" x2="908.9" y2="275.6" stroke="#fcd030"/>
<polygon points="885.9,270.3 908.9,275.6 874.6,302.8 848.9,299.5" fill="#fff" stroke="none"/>
<line x1="885.9" y1="270.3" x2="908.9" y2="275.6" stroke="#f7dd2a"/>
<line x1="908.9" y1="275.6" x2="874.6" y2="302.8" stroke="#fcd030"/>
<line x1="874.6" y1="302.8" x2="848.9" y2="299.5" stroke="#f0ba36"/>
<line x1="848.9" y1="299.5" x2="885.9" y2="270.3" stroke="#f7dd2a"/>
<polygon points="861.5,302.8 885.9,270.3 848.9,299.5 825.9,320.6" fill="#fff" stroke="none"/>
<line x1="861.5" y1="302.8" x2="885.9" y2="270.3" stroke="#fec537"/>
<line x1="885.9" y1="270.3" x2="848.9" y2="299.5" stroke="#f7dd2a"/>
<line x1="848.9" y1="299.5" x2="825.9" y2="320.6" stroke="#ddbd29"/>
<line x1="825.9" y1="320.6" x2="861.5" y2="302.8" stroke="#fec537"/>
<polygon points="837.3,328.6 861.5,302.8 825.9,320.6 802.0,343.1" fill="#fff" stroke="none"/>
<line x1="837.3" y1="328.6" x2="861.5" y2="302.8" stroke="#f4ba39"/>
<line x1="861.5" y1="302.8" x2="825.9" y2="320.6" stroke="#fec537"/>
<line x1="825.9" y1="320.6" x2="802.0" y2="343.1" stroke="#c2c22b"/>
<line x1="802.0" y1="343.1" x2="837.3" y2="328.6" stroke="#f4ba39"/>
<polygon points="813.1,342.6 837.3,328.6 802.0,343.1 777.8,351.3" fill="#fff" stroke="none"/>
<line x1="813.1" y1="342.6" x2="837.3" y2="328.6" stroke="#ebba31"/>
<line x1="837.3" y1="328.6" x2="802.0" y2="343.1" stroke="#f4ba39"/>
<line x1="802.0" y1="343.1" x2="777.8" y2="351.3" stroke="#c0c32d"/>
<line x1="777.8" y1="351.3" x2="813.1" y2="342.6" stroke="#ebba31"/>
<polygon points="788.9,322.1 813.1,342.6 777.8,351.3 753.6,338.3" fill="#fff" stroke="none"/>
<line x1="788.9" y1="322.1" x2="813.1" y2="342.6" stroke="#fec736"/>
<line x1="813.1" y1="342.6" x2="777.8" y2="351.3" stroke="#ebba31"/>
<line x1="777.8" y1="351.3" x2="753.6" y2="338.3" stroke="#e2bc2b"/>
<line x1="753.6" y1="338.3" x2="788.9" y2="322.1" stroke="#fec736"/>
<polygon points="763.4,290.8 788.9,322.1 753.6,338.3 730.8,301.5" fill="#fff" stroke="none"/>
<line x1="763.4" y1="290.8" x2="788.9" y2="322.1" stroke="#f5ea24"/>
<line x1="788.9" y1="322.1" x2="753.6" y2="338.3" stroke="#fec736"/>
<line x1="753.6" y1="338.3" x2="730.8" y2="301.5" stroke="#fcd12f"/>
<line x1="730.8" y1="301.5" x2="763.4" y2="290.8" stroke="#f5ea24"/>
<polygon points="738.0,307.5 763.4,290.8 730.8,301.5 704.5,310.4" fill="#fff" stroke="none"/>
<line x1="738.0" y1="307.5" x2="763.4" y2="290.8" stroke="#f6e028"/>
<line x1="763.4" y1="290.8" x2="730.8" y2="301.5" stroke="#f5ea24"/>
<line x1="730.8" y1="301.5" x2="704.5" y2="310.4" stroke="#fdce31"/>
<line x1="704.5" y1="310.4" x2="738.0" y2="307.5" stroke="#f6e028"/>
<polygon points="714.2,346.0 738.0,307.5 704.5,310.4 680.3,344.5" fill="#fff" stroke="none"/>
<line x1="714.2" y1="346.0" x2="738.0" y2="307.5" stroke="#fec338"/>
<line x1="738.0" y1="307.5" x2="704.5" y2="310.4" stroke="#f6e028"/>
<line x1="704.5" y1="310.4" x2="680.3" y2="344.5" stroke="#f6ba3b"/>
<line x1="680.3" y1="344.5" x2="714.2" y2="346.0" stroke="#fec338"/>
<polygon points="691.3,411.3 714.2,346.0 680.3,344.5 657.0,389.0" fill="#fff" stroke="none"/>
<line x1="691.3" y1="411.3" x2="714.2" y2="346.0" stroke="#b2c635"/>
<line x1="714.2" y1="346.0" x2="680.3" y2="344.5" stroke="#fec338"/>
<line x1="680.3" y1="344.5" x2="657.0" y2="389.0" stroke="#bcc42f"/>
<line x1="657.0" y1="389.0" x2="691.3" y2="411.3" stroke="#b2c635"/>
<polygon points="667.2,466.7 691.3,411.3 657.0,389.0 632.5,434.0" fill="#fff" stroke="none"/>
<line x1="667.2" y1="466.7" x2="691.3" y2="411.3" stroke="#4ecc81"/>
<line x1="691.3" y1="411.3" x2="657.0" y2="389.0" stroke="#b2c635"/>
<line x1="657.0" y1="389.0" x2="632.5" y2="434.0" stroke="#6ccd68"/>
<line x1="632.5" y1="434.0" x2="667.2" y2="466.7" stroke="#4ecc81"/>
<polygon points="643.2,500.7 667.2,466.7 632.5,434.0 608.5,472.4" fill="#fff" stroke="none"/>
<line x1="643.2" y1="500.7" x2="667.2" y2="466.7" stroke="#2ec4a4"/>
<line x1="667.2" y1="466.7" x2="632.5" y2="434.0" stroke="#4ecc81"/>
<line x1="632.5" y1="434.0" x2="608.5" y2="472.4" stroke="#37c897"/>
<line x1="608.5" y1="472.4" x2="643.2" y2="500.7" stroke="#2ec4a4"/>
<polygon points="619.2,530.3 643.2,500.7 608.5,472.4 583.9,499.5" fill="#fff" stroke="none"/>
<line x1="619.2" y1="530.3" x2="643.2" y2="500.7" stroke="#0bbdbc"/>
<line x1="643.2" y1="500.7" x2="608.5" y2="472.4" stroke="#2ec4a4"/>
<line x1="608.5" y1="472.4" x2="583.9" y2="499.5" stroke="#24c1ae"/>
<line x1="583.9" y1="499.5" x2="619.2" y2="530.3" stroke="#0bbdbc"/>
<polygon points="596.3,562.3 619.2,530.3 583.9,499.5 560.0,533.5" fill="#fff" stroke="none"/>
<line x1="596.3" y1="562.3" x2="619.2" y2="530.3" stroke="#0db3d4"/>
<line x1="619.2" y1="530.3" x2="583.9" y2="499.5" stroke="#0bbdbc"/>
<line x1="583.9" y1="499.5" x2="560.0" y2="533.5" stroke="#01b8ca"/>
<line x1="560.0" y1="533.5" x2="596.3" y2="562.3" stroke="#0db3d4"/>
<polygon points="571.6,613.6 596.3,562.3 560.0,533.5 535.8,580.0" fill="#fff" stroke="none"/>
<line x1="571.6" y1="613.6" x2="596.3" y2="562.3" stroke="#2896ec"/>
<line x1="596.3" y1="562.3" x2="560.0" y2="533.5" stroke="#0db3d4"/>
<line x1="560.0" y1="533.5" x2="535.8" y2="580.0" stroke="#23a1e4"/>
<line x1="535.8" y1="580.0" x2="571.6" y2="613.6" stroke="#2896ec"/>
<polygon points="548.5,664.4 571.6,613.6 535.8,580.0 511.0,627.0" fill="#fff" stroke="none"/>
<line x1="548.5" y1="664.4" x2="571.6" y2="613.6" stroke="#3c72ff"/>
<line x1="571.6" y1="613.6" x2="535.8" y2="580.0" stroke="#2896ec"/>
<line x1="535.8" y1="580.0" x2="511.0" y2="627.0" stroke="#2f83f9"/>
<line x1="511.0" y1="627.0" x2="548.5" y2="664.4" stroke="#3c72ff"/>
<polygon points="522.4,697.4 548.5,664.4 511.0,627.0 487.6,656.6" fill="#fff" stroke="none"/>
<line x1="522.4" y1="697.4" x2="548.5" y2="664.4" stroke="#475af9"/>
<line x1="548.5" y1="664.4" x2="511.0" y2="627.0" stroke="#3c72ff"/>
<line x1="511.0" y1="627.0" x2="487.6" y2="656.6" stroke="#3e6fff"/>
<line x1="487.6" y1="656.6" x2="522.4" y2="697.4" stroke="#475af9"/>
<polygon points="499.3,711.6 522.4,697.4 487.6,656.6 463.8,672.6" fill="#fff" stroke="none"/>
<line x1="499.3" y1="711.6" x2="522.4" y2="697.4" stroke="#4755f6"/>
<line x1="522.4" y1="697.4" x2="487.6" y2="656.6" stroke="#475af9"/>
<line x1="487.6" y1="656.6" x2="463.8" y2="672.6" stroke="#4367fd"/>
<line x1="463.8" y1="672.6" x2="499.3" y2="711.6" stroke="#4755f6"/>
<polygon points="475.7,719.6 499.3,711.6 463.8,672.6 439.4,697.2" fill="#fff" stroke="none"/>
<line x1="475.7" y1="719.6" x2="499.3" y2="711.6" stroke="#4854f6"/>
<line x1="499.3" y1="711.6" x2="463.8" y2="672.6" stroke="#4755f6"/>
<line x1="463.8" y1="672.6" x2="439.4" y2="697.2" stroke="#4758f8"/>
<line x1="439.4" y1="697.2" x2="475.7" y2="719.6" stroke="#4854f6"/>
<polygon points="450.0,745.4 475.7,719.6 439.4,697.2 415.6,724.5" fill="#fff" stroke="none"/>
<line x1="450.0" y1="745.4" x2="475.7" y2="719.6" stroke="#4744e8"/>
<line x1="475.7" y1="719.6" x2="439.4" y2="697.2" stroke="#4854f6"/>
<line x1="439.4" y1="697.2" x2="415.6" y2="724.5" stroke="#4747eb"/>
<line x1="415.6" y1="724.5" x2="450.0" y2="745.4" stroke="#4744e8"/>
<polygon points="426.8,782.4 450.0,745.4 415.6,724.5 390.2,757.5" fill="#fff" stroke="none"/>
<line x1="426.8" y1="782.4" x2="450.0" y2="745.4" stroke="#422fc1"/>
<line x1="450.0" y1="745.4" x2="415.6" y2="724.5" stroke="#4744e8"/>
<line x1="415.6" y1="724.5" x2="390.2" y2="757.5" stroke="#4433cc"/>
<line x1="390.2" y1="757.5" x2="426.8" y2="782.4" stroke="#422fc1"/>
<polygon points="405.4,804.8 426.8,782.4 390.2,757.5 368.7,784.0" fill="#fff" stroke="none"/>
<line x1="405.4" y1="804.8" x2="426.8" y2="782.4" stroke="#3e27a9"/>
<line x1="426.8" y1="782.4" x2="390.2" y2="757.5" stroke="#422fc1"/>
<line x1="390.2" y1="757.5" x2="368.7" y2="784.0" stroke="#3f28ae"/>
<line x1="368.7" y1="784.0" x2="405.4" y2="804.8" stroke="#3e27a9"/>
<polygon points="967.2,321.5 989.9,340.8 958.3,295.9 933.6,265.9" fill="#fff" stroke="none"/>
<line x1="967.2" y1="321.5" x2="989.9" y2="340.8" stroke="#eeba34"/>
<line x1="989.9" y1="340.8" x2="958.3" y2="295.9" stroke="#c3c22b"/>
<line x1="958.3" y1="295.9" x2="933.6" y2="265.9" stroke="#fbd32e"/>
<line x1="933.6" y1="265.9" x2="967.2" y2="321.5" stroke="#eeba34"/>
<polygon points="943.3,310.1 967.2,321.5 933.6,265.9 908.9,275.6" fill="#fff" stroke="none"/>
<line x1="943.3" y1="310.1" x2="967.2" y2="321.5" stroke="#fec13a"/>
<line x1="967.2" y1="321.5" x2="933.6" y2="265.9" stroke="#eeba34"/>
<line x1="933.6" y1="265.9" x2="908.9" y2="275.6" stroke="#fcd030"/>
<line x1="908.9" y1="275.6" x2="943.3" y2="310.1" stroke="#fec13a"/>
<polygon points="919.5,290.6 943.3,310.1 908.9,275.6 885.9,270.3" fill="#fff" stroke="none"/>
<line x1="919.5" y1="290.6" x2="943.3" y2="310.1" stroke="#f8d92b"/>
<line x1="943.3" y1="310.1" x2="908.9" y2="275.6" stroke="#fec13a"/>
<line x1="908.9" y1="275.6" x2="885.9" y2="270.3" stroke="#f7dd2a"/>
<line x1="885.9" y1="270.3" x2="919.5" y2="290.6" stroke="#f8d92b"/>
<polygon points="893.0,298.6 919.5,290.6 885.9,270.3 861.5,302.8" fill="#fff" stroke="none"/>
<line x1="893.0" y1="298.6" x2="919.5" y2="290.6" stroke="#f9d72c"/>
<line x1="919.5" y1="290.6" x2="885.9" y2="270.3" stroke="#f8d92b"/>
<line x1="885.9" y1="270.3" x2="861.5" y2="302.8" stroke="#fec537"/>
<line x1="861.5" y1="302.8" x2="893.0" y2="298.6" stroke="#f9d72c"/>
<polygon points="869.0,331.7 893.0,298.6 861.5,302.8 837.3,328.6" fill="#fff" stroke="none"/>
<line x1="869.0" y1="331.7" x2="893.0" y2="298.6" stroke="#fec03b"/>
<line x1="893.0" y1="298.6" x2="861.5" y2="302.8" stroke="#f9d72c"/>
<line x1="861.5" y1="302.8" x2="837.3" y2="328.6" stroke="#f4ba39"/>
<line x1="837.3" y1="328.6" x2="869.0" y2="331.7" stroke="#fec03b"/>
<polygon points="844.8,350.6 869.0,331.7 837.3,328.6 813.1,342.6" fill="#fff" stroke="none"/>
<line x1="844.8" y1="350.6" x2="869.0" y2="331.7" stroke="#f5ba3a"/>
<line x1="869.0" y1="331.7" x2="837.3" y2="328.6" stroke="#fec03b"/>
<line x1="837.3" y1="328.6" x2="813.1" y2="342.6" stroke="#ebba31"/>
<line x1="813.1" y1="342.6" x2="844.8" y2="350.6" stroke="#f5ba3a"/>
<polygon points="823.1,331.7 844.8,350.6 813.1,342.6 788.9,322.1" fill="#fff" stroke="none"/>
<line x1="823.1" y1="331.7" x2="844.8" y2="350.6" stroke="#fdcd31"/>
<line x1="844.8" y1="350.6" x2="813.1" y2="342.6" stroke="#f5ba3a"/>
<line x1="813.1" y1="342.6" x2="788.9" y2="322.1" stroke="#fec736"/>
<line x1="788.9" y1="322.1" x2="823.1" y2="331.7" stroke="#fdcd31"/>
<polygon points="797.6,304.0 823.1,331.7 788.9,322.1 763.4,290.8" fill="#fff" stroke="none"/>
<line x1="797.6" y1="304.0" x2="823.1" y2="331.7" stroke="#f5ed21"/>
<line x1="823.1" y1="331.7" x2="788.9" y2="322.1" stroke="#fdcd31"/>
<line x1="788.9" y1="322.1" x2="763.4" y2="290.8" stroke="#f5ea24"/>
<line x1="763.4" y1="290.8" x2="797.6" y2="304.0" stroke="#f5ed21"/>
<polygon points="772.0,319.3 797.6,304.0 763.4,290.8 738.0,307.5" fill="#fff" stroke="none"/>
<line x1="772.0" y1="319.3" x2="797.6" y2="304.0" stroke="#f5e526"/>
<line x1="797.6" y1="304.0" x2="763.4" y2="290.8" stroke="#f5ed21"/>
<line x1="763.4" y1="290.8" x2="738.0" y2="307.5" stroke="#f6e028"/>
<line x1="738.0" y1="307.5" x2="772.0" y2="319.3" stroke="#f5e526"/>
<polygon points="748.0,357.1 772.0,319.3 738.0,307.5 714.2,346.0" fill="#fff" stroke="none"/>
<line x1="748.0" y1="357.1" x2="772.0" y2="319.3" stroke="#fec834"/>
<line x1="772.0" y1="319.3" x2="738.0" y2="307.5" stroke="#f5e526"/>
<line x1="738.0" y1="307.5" x2="714.2" y2="346.0" stroke="#fec338"/>
<line x1="714.2" y1="346.0" x2="748.0" y2="357.1" stroke="#fec834"/>
<polygon points="722.8,405.0 748.0,357.1 714.2,346.0 691.3,411.3" fill="#fff" stroke="none"/>
<line x1="722.8" y1="405.0" x2="748.0" y2="357.1" stroke="#d9bd28"/>
<line x1="748.0" y1="357.1" x2="714.2" y2="346.0" stroke="#fec834"/>
<line x1="714.2" y1="346.0" x2="691.3" y2="411.3" stroke="#b2c635"/>
<line x1="691.3" y1="411.3" x2="722.8" y2="405.0" stroke="#d9bd28"/>
<polygon points="699.4,454.6 722.8,405.0 691.3,411.3 667.2,466.7" fill="#fff" stroke="none"/>
<line x1="699.4" y1="454.6" x2="722.8" y2="405.0" stroke="#88cb53"/>
<line x1="722.8" y1="405.0" x2="691.3" y2="411.3" stroke="#d9bd28"/>
<line x1="691.3" y1="411.3" x2="667.2" y2="466.7" stroke="#4ecc81"/>
<line x1="667.2" y1="466.7" x2="699.4" y2="454.6" stroke="#88cb53"/>
<polygon points="675.3,491.2 699.4,454.6 667.2,466.7 643.2,500.7" fill="#fff" stroke="none"/>
<line x1="675.3" y1="491.2" x2="699.4" y2="454.6" stroke="#4ccb83"/>
<line x1="699.4" y1="454.6" x2="667.2" y2="466.7" stroke="#88cb53"/>
<line x1="667.2" y1="466.7" x2="643.2" y2="500.7" stroke="#2ec4a4"/>
<line x1="643.2" y1="500.7" x2="675.3" y2="491.2" stroke="#4ccb83"/>
<polygon points="650.2,525.2 675.3,491.2 643.2,500.7 619.2,530.3" fill="#fff" stroke="none"/>
<line x1="650.2" y1="525.2" x2="675.3" y2="491.2" stroke="#2cc4a7"/>
<line x1="675.3" y1="491.2" x2="643.2" y2="500.7" stroke="#4ccb83"/>
<line x1="643.2" y1="500.7" x2="619.2" y2="530.3" stroke="#0bbdbc"/>
<line x1="619.2" y1="530.3" x2="650.2" y2="525.2" stroke="#2cc4a7"/>
<polygon points="626.6,559.8 650.2,525.2 619.2,530.3 596.3,562.3" fill="#fff" stroke="none"/>
<line x1="626.6" y1="559.8" x2="650.2" y2="525.2" stroke="#02bac3"/>
<line x1="650.2" y1="525.2" x2="619.2" y2="530.3" stroke="#2cc4a7"/>
<line x1="619.2" y1="530.3" x2="596.3" y2="562.3" stroke="#0db3d4"/>
<line x1="596.3" y1="562.3" x2="626.6" y2="559.8" stroke="#02bac3"/>
<polygon points="602.0,610.0 626.6,559.8 596.3,562.3 571.6,613.6" fill="#fff" stroke="none"/>
<line x1="602.0" y1="610.0" x2="626.6" y2="559.8" stroke="#21a3e3"/>
<line x1="626.6" y1="559.8" x2="596.3" y2="562.3" stroke="#02bac3"/>
<line x1="596.3" y1="562.3" x2="571.6" y2="613.6" stroke="#2896ec"/>
<line x1="571.6" y1="613.6" x2="602.0" y2="610.0" stroke="#21a3e3"/>
<polygon points="578.7,663.3 602.0,610.0 571.6,613.6 548.5,664.4" fill="#fff" stroke="none"/>
<line x1="578.7" y1="663.3" x2="602.0" y2="610.0" stroke="#2f80fa"/>
<line x1="602.0" y1="610.0" x2="571.6" y2="613.6" stroke="#21a3e3"/>
<line x1="571.6" y1="613.6" x2="548.5" y2="664.4" stroke="#3c72ff"/>
<line x1="548.5" y1="664.4" x2="578.7" y2="663.3" stroke="#2f80fa"/>
<polygon points="555.0,694.0 578.7,663.3 548.5,664.4 522.4,697.4" fill="#fff" stroke="none"/>
<line x1="555.0" y1="694.0" x2="578.7" y2="663.3" stroke="#416bfe"/>
<line x1="578.7" y1="663.3" x2="548.5" y2="664.4" stroke="#2f80fa"/>
<line x1="548.5" y1="664.4" x2="522.4" y2="697.4" stroke="#475af9"/>
<line x1="522.4" y1="697.4" x2="555.0" y2="694.0" stroke="#416bfe"/>
<polygon points="530.6,707.4 555.0,694.0 522.4,697.4 499.3,711.6" fill="#fff" stroke="none"/>
<line x1="530.6" y1="707.4" x2="555.0" y2="694.0" stroke="#4465fd"/>
<line x1="555.0" y1="694.0" x2="522.4" y2="697.4" stroke="#416bfe"/>
<line x1="522.4" y1="697.4" x2="499.3" y2="711.6" stroke="#4755f6"/>
<line x1="499.3" y1="711.6" x2="530.6" y2="707.4" stroke="#4465fd"/>
<polygon points="505.9,733.0 530.6,707.4 499.3,711.6 475.7,719.6" fill="#fff" stroke="none"/>
<line x1="505.9" y1="733.0" x2="530.6" y2="707.4" stroke="#4756f6"/>
<line x1="530.6" y1="707.4" x2="499.3" y2="711.6" stroke="#4465fd"/>
<line x1="499.3" y1="711.6" x2="475.7" y2="719.6" stroke="#4854f6"/>
<line x1="475.7" y1="719.6" x2="505.9" y2="733.0" stroke="#4756f6"/>
<polygon points="482.0,761.1 505.9,733.0 475.7,719.6 450.0,745.4" fill="#fff" stroke="none"/>
<line x1="482.0" y1="761.1" x2="505.9" y2="733.0" stroke="#4744e8"/>
<line x1="505.9" y1="733.0" x2="475.7" y2="719.6" stroke="#4756f6"/>
<line x1="475.7" y1="719.6" x2="450.0" y2="745.4" stroke="#4744e8"/>
<line x1="450.0" y1="745.4" x2="482.0" y2="761.1" stroke="#4744e8"/>
<polygon points="459.6,793.1 482.0,761.1 450.0,745.4 426.8,782.4" fill="#fff" stroke="none"/>
<line x1="459.6" y1="793.1" x2="482.0" y2="761.1" stroke="#4332ca"/>
<line x1="482.0" y1="761.1" x2="450.0" y2="745.4" stroke="#4744e8"/>
<line x1="450.0" y1="745.4" x2="426.8" y2="782.4" stroke="#422fc1"/>
<line x1="426.8" y1="782.4" x2="459.6" y2="793.1" stroke="#4332ca"/>
<polygon points="436.4,817.7 459.6,793.1 426.8,782.4 405.4,804.8" fill="#fff" stroke="none"/>
<line x1="436.4" y1="817.7" x2="459.6" y2="793.1" stroke="#3f28ad"/>
<line x1="459.6" y1="793.1" x2="426.8" y2="782.4" stroke="#4332ca"/>
<line x1="426.8" y1="782.4" x2="405.4" y2="804.8" stroke="#3e27a9"/>
<line x1="405.4" y1="804.8" x2="436.4" y2="817.7" stroke="#3f28ad"/>
<polygon points="992.2,342.6 1016.4,362.6 989.9,340.8 967.2,321.5" fill="#fff" stroke="none"/>
<line x1="992.2" y1="342.6" x2="1016.4" y2="362.6" stroke="#e1bc2b"/>
<line x1="1016.4" y1="362.6" x2="989.9" y2="340.8" stroke="#b2c635"/>
<line x1="989.9" y1="340.8" x2="967.2" y2="321.5" stroke="#eeba34"/>
<line x1="967.2" y1="321.5" x2="992.2" y2="342.6" stroke="#e1bc2b"/>
<polygon points="968.0,343.3 992.2,342.6 967.2,321.5 943.3,310.1" fill="#fff" stroke="none"/>
<line x1="968.0" y1="343.3" x2="992.2" y2="342.6" stroke="#ebba31"/>
<line x1="992.2" y1="342.6" x2="967.2" y2="321.5" stroke="#e1bc2b"/>
<line x1="967.2" y1="321.5" x2="943.3" y2="310.1" stroke="#fec13a"/>
<line x1="943.3" y1="310.1" x2="968.0" y2="343.3" stroke="#ebba31"/>
<polygon points="943.8,340.7 968.0,343.3 943.3,310.1 919.5,290.6" fill="#fff" stroke="none"/>
<line x1="943.8" y1="340.7" x2="968.0" y2="343.3" stroke="#f7ba3c"/>
<line x1="968.0" y1="343.3" x2="943.3" y2="310.1" stroke="#ebba31"/>
<line x1="943.3" y1="310.1" x2="919.5" y2="290.6" stroke="#f8d92b"/>
<line x1="919.5" y1="290.6" x2="943.8" y2="340.7" stroke="#f7ba3c"/>
<polygon points="919.6,354.2 943.8,340.7 919.5,290.6 893.0,298.6" fill="#fff" stroke="none"/>
<line x1="919.6" y1="354.2" x2="943.8" y2="340.7" stroke="#efba35"/>
<line x1="943.8" y1="340.7" x2="919.5" y2="290.6" stroke="#f7ba3c"/>
<line x1="919.5" y1="290.6" x2="893.0" y2="298.6" stroke="#f9d72c"/>
<line x1="893.0" y1="298.6" x2="919.6" y2="354.2" stroke="#efba35"/>
<polygon points="895.4,379.7 919.6,354.2 893.0,298.6 869.0,331.7" fill="#fff" stroke="none"/>
<line x1="895.4" y1="379.7" x2="919.6" y2="354.2" stroke="#d3bf27"/>
<line x1="919.6" y1="354.2" x2="893.0" y2="298.6" stroke="#efba35"/>
<line x1="893.0" y1="298.6" x2="869.0" y2="331.7" stroke="#fec03b"/>
<line x1="869.0" y1="331.7" x2="895.4" y2="379.7" stroke="#d3bf27"/>
<polygon points="871.2,391.0 895.4,379.7 869.0,331.7 844.8,350.6" fill="#fff" stroke="none"/>
<line x1="871.2" y1="391.0" x2="895.4" y2="379.7" stroke="#ccc028"/>
<line x1="895.4" y1="379.7" x2="869.0" y2="331.7" stroke="#d3bf27"/>
<line x1="869.0" y1="331.7" x2="844.8" y2="350.6" stroke="#f5ba3a"/>
<line x1="844.8" y1="350.6" x2="871.2" y2="391.0" stroke="#ccc028"/>
<polygon points="847.0,381.2 871.2,391.0 844.8,350.6 823.1,331.7" fill="#fff" stroke="none"/>
<line x1="847.0" y1="381.2" x2="871.2" y2="391.0" stroke="#e7bb2e"/>
<line x1="871.2" y1="391.0" x2="844.8" y2="350.6" stroke="#ccc028"/>
<line x1="844.8" y1="350.6" x2="823.1" y2="331.7" stroke="#fdcd31"/>
<line x1="823.1" y1="331.7" x2="847.0" y2="381.2" stroke="#e7bb2e"/>
<polygon points="823.0,350.3 847.0,381.2 823.1,331.7 797.6,304.0" fill="#fff" stroke="none"/>
<line x1="823.0" y1="350.3" x2="847.0" y2="381.2" stroke="#fdce31"/>
<line x1="847.0" y1="381.2" x2="823.1" y2="331.7" stroke="#e7bb2e"/>
<line x1="823.1" y1="331.7" x2="797.6" y2="304.0" stroke="#f5ed21"/>
<line x1="797.6" y1="304.0" x2="823.0" y2="350.3" stroke="#fdce31"/>
<polygon points="797.2,363.4 823.0,350.3 797.6,304.0 772.0,319.3" fill="#fff" stroke="none"/>
<line x1="797.2" y1="363.4" x2="823.0" y2="350.3" stroke="#fec835"/>
<line x1="823.0" y1="350.3" x2="797.6" y2="304.0" stroke="#fdce31"/>
<line x1="797.6" y1="304.0" x2="772.0" y2="319.3" stroke="#f5e526"/>
<line x1="772.0" y1="319.3" x2="797.2" y2="363.4" stroke="#fec835"/>
<polygon points="773.3,393.7 797.2,363.4 772.0,319.3 748.0,357.1" fill="#fff" stroke="none"/>
<line x1="773.3" y1="393.7" x2="797.2" y2="363.4" stroke="#f2ba38"/>
<line x1="797.2" y1="363.4" x2="772.0" y2="319.3" stroke="#fec835"/>
<line x1="772.0" y1="319.3" x2="748.0" y2="357.1" stroke="#fec834"/>
<line x1="748.0" y1="357.1" x2="773.3" y2="393.7" stroke="#f2ba38"/>
<polygon points="749.3,441.6 773.3,393.7 748.0,357.1 722.8,405.0" fill="#fff" stroke="none"/>
<line x1="749.3" y1="441.6" x2="773.3" y2="393.7" stroke="#afc637"/>
<line x1="773.3" y1="393.7" x2="748.0" y2="357.1" stroke="#f2ba38"/>
<line x1="748.0" y1="357.1" x2="722.8" y2="405.0" stroke="#d9bd28"/>
<line x1="722.8" y1="405.0" x2="749.3" y2="441.6" stroke="#afc637"/>
<polygon points="725.3,484.5 749.3,441.6 722.8,405.0 699.4,454.6" fill="#fff" stroke="none"/>
<line x1="725.3" y1="484.5" x2="749.3" y2="441.6" stroke="#63cd70"/>
<line x1="749.3" y1="441.6" x2="722.8" y2="405.0" stroke="#afc637"/>
<line x1="722.8" y1="405.0" x2="699.4" y2="454.6" stroke="#88cb53"/>
<line x1="699.4" y1="454.6" x2="725.3" y2="484.5" stroke="#63cd70"/>
<polygon points="700.1,522.3 725.3,484.5 699.4,454.6 675.3,491.2" fill="#fff" stroke="none"/>
<line x1="700.1" y1="522.3" x2="725.3" y2="484.5" stroke="#33c79d"/>
<line x1="725.3" y1="484.5" x2="699.4" y2="454.6" stroke="#63cd70"/>
<line x1="699.4" y1="454.6" x2="675.3" y2="491.2" stroke="#4ccb83"/>
<line x1="675.3" y1="491.2" x2="700.1" y2="522.3" stroke="#33c79d"/>
<polygon points="676.5,546.5 700.1,522.3 675.3,491.2 650.2,525.2" fill="#fff" stroke="none"/>
<line x1="676.5" y1="546.5" x2="700.1" y2="522.3" stroke="#22c1b0"/>
<line x1="700.1" y1="522.3" x2="675.3" y2="491.2" stroke="#33c79d"/>
<line x1="675.3" y1="491.2" x2="650.2" y2="525.2" stroke="#2cc4a7"/>
<line x1="650.2" y1="525.2" x2="676.5" y2="546.5" stroke="#22c1b0"/>
<polygon points="651.8,580.1 676.5,546.5 650.2,525.2 626.6,559.8" fill="#fff" stroke="none"/>
<line x1="651.8" y1="580.1" x2="676.5" y2="546.5" stroke="#02b7cb"/>
<line x1="676.5" y1="546.5" x2="650.2" y2="525.2" stroke="#22c1b0"/>
<line x1="650.2" y1="525.2" x2="626.6" y2="559.8" stroke="#02bac3"/>
<line x1="626.6" y1="559.8" x2="651.8" y2="580.1" stroke="#02b7cb"/>
<polygon points="629.4,631.6 651.8,580.1 626.6,559.8 602.0,610.0" fill="#fff" stroke="none"/>
<line x1="629.4" y1="631.6" x2="651.8" y2="580.1" stroke="#249de6"/>
<line x1="651.8" y1="580.1" x2="626.6" y2="559.8" stroke="#02b7cb"/>
<line x1="626.6" y1="559.8" x2="602.0" y2="610.0" stroke="#21a3e3"/>
<line x1="602.0" y1="610.0" x2="629.4" y2="631.6" stroke="#249de6"/>
<polygon points="604.1,676.5 629.4,631.6 602.0,610.0 578.7,663.3" fill="#fff" stroke="none"/>
<line x1="604.1" y1="676.5" x2="629.4" y2="631.6" stroke="#3080fb"/>
<line x1="629.4" y1="631.6" x2="602.0" y2="610.0" stroke="#249de6"/>
<line x1="602.0" y1="610.0" x2="578.7" y2="663.3" stroke="#2f80fa"/>
<line x1="578.7" y1="663.3" x2="604.1" y2="676.5" stroke="#3080fb"/>
<polygon points="579.1,708.3 604.1,676.5 578.7,663.3 555.0,694.0" fill="#fff" stroke="none"/>
<line x1="579.1" y1="708.3" x2="604.1" y2="676.5" stroke="#4269fe"/>
<line x1="604.1" y1="676.5" x2="578.7" y2="663.3" stroke="#3080fb"/>
<line x1="578.7" y1="663.3" x2="555.0" y2="694.0" stroke="#416bfe"/>
<line x1="555.0" y1="694.0" x2="579.1" y2="708.3" stroke="#4269fe"/>
<polygon points="555.3,725.0 579.1,708.3 555.0,694.0 530.6,707.4" fill="#fff" stroke="none"/>
<line x1="555.3" y1="725.0" x2="579.1" y2="708.3" stroke="#4561fc"/>
<line x1="579.1" y1="708.3" x2="555.0" y2="694.0" stroke="#4269fe"/>
<line x1="555.0" y1="694.0" x2="530.6" y2="707.4" stroke="#4465fd"/>
<line x1="530.6" y1="707.4" x2="555.3" y2="725.0" stroke="#4561fc"/>
<polygon points="532.6,746.4 555.3,725.0 530.6,707.4 505.9,733.0" fill="#fff" stroke="none"/>
<line x1="532.6" y1="746.4" x2="555.3" y2="725.0" stroke="#4756f6"/>
<line x1="555.3" y1="725.0" x2="530.6" y2="707.4" stroke="#4561fc"/>
<line x1="530.6" y1="707.4" x2="505.9" y2="733.0" stroke="#4756f6"/>
<line x1="505.9" y1="733.0" x2="532.6" y2="746.4" stroke="#4756f6"/>
<polygon points="508.4,771.6 532.6,746.4 505.9,733.0 482.0,761.1" fill="#fff" stroke="none"/>
<line x1="508.4" y1="771.6" x2="532.6" y2="746.4" stroke="#4746ea"/>
<line x1="532.6" y1="746.4" x2="505.9" y2="733.0" stroke="#4756f6"/>
<line x1="505.9" y1="733.0" x2="482.0" y2="761.1" stroke="#4744e8"/>
<line x1="482.0" y1="761.1" x2="508.4" y2="771.6" stroke="#4746ea"/>
<polygon points="485.3,803.2 508.4,771.6 482.0,761.1 459.6,793.1" fill="#fff" stroke="none"/>
<line x1="485.3" y1="803.2" x2="508.4" y2="771.6" stroke="#4434ce"/>
<line x1="508.4" y1="771.6" x2="482.0" y2="761.1" stroke="#4746ea"/>
<line x1="482.0" y1="761.1" x2="459.6" y2="793.1" stroke="#4332ca"/>
<line x1="459.6" y1="793.1" x2="485.3" y2="803.2" stroke="#4434ce"/>
<polygon points="460.9,830.5 485.3,803.2 459.6,793.1 436.4,817.7" fill="#fff" stroke="none"/>
<line x1="460.9" y1="830.5" x2="485.3" y2="803.2" stroke="#3e27ac"/>
<line x1="485.3" y1="803.2" x2="459.6" y2="793.1" stroke="#4434ce"/>
<line x1="459.6" y1="793.1" x2="436.4" y2="817.7" stroke="#3f28ad"/>
<line x1="436.4" y1="817.7" x2="460.9" y2="830.5" stroke="#3e27ac"/>
<polygon points="1017.4,309.1 1041.2,340.0 1016.4,362.6 992.2,342.6" fill="#fff" stroke="none"/>
<line x1="1017.4" y1="309.1" x2="1041.2" y2="340.0" stroke="#fbd22f"/>
<line x1="1041.2" y1="340.0" x2="1016.4" y2="362.6" stroke="#edba33"/>
<line x1="1016.4" y1="362.6" x2="992.2" y2="342.6" stroke="#e1bc2b"/>
<line x1="992.2" y1="342.6" x2="1017.4" y2="309.1" stroke="#fbd22f"/>
<polygon points="993.6,331.2 1017.4,309.1 992.2,342.6 968.0,343.3" fill="#fff" stroke="none"/>
<line x1="993.6" y1="331.2" x2="1017.4" y2="309.1" stroke="#fec437"/>
<line x1="1017.4" y1="309.1" x2="992.2" y2="342.6" stroke="#fbd22f"/>
<line x1="992.2" y1="342.6" x2="968.0" y2="343.3" stroke="#ebba31"/>
<line x1="968.0" y1="343.3" x2="993.6" y2="331.2" stroke="#fec437"/>
<polygon points="969.7,350.6 993.6,331.2 968.0,343.3 943.8,340.7" fill="#fff" stroke="none"/>
<line x1="969.7" y1="350.6" x2="993.6" y2="331.2" stroke="#fabb3d"/>
<line x1="993.6" y1="331.2" x2="968.0" y2="343.3" stroke="#fec437"/>
<line x1="968.0" y1="343.3" x2="943.8" y2="340.7" stroke="#f7ba3c"/>
<line x1="943.8" y1="340.7" x2="969.7" y2="350.6" stroke="#fabb3d"/>
<polygon points="944.7,365.0 969.7,350.6 943.8,340.7 919.6,354.2" fill="#fff" stroke="none"/>
<line x1="944.7" y1="365.0" x2="969.7" y2="350.6" stroke="#f1ba37"/>
<line x1="969.7" y1="350.6" x2="943.8" y2="340.7" stroke="#fabb3d"/>
<line x1="943.8" y1="340.7" x2="919.6" y2="354.2" stroke="#efba35"/>
<line x1="919.6" y1="354.2" x2="944.7" y2="365.0" stroke="#f1ba37"/>
<polygon points="920.5,388.0 944.7,365.0 919.6,354.2 895.4,379.7" fill="#fff" stroke="none"/>
<line x1="920.5" y1="388.0" x2="944.7" y2="365.0" stroke="#dabd28"/>
<line x1="944.7" y1="365.0" x2="919.6" y2="354.2" stroke="#f1ba37"/>
<line x1="919.6" y1="354.2" x2="895.4" y2="379.7" stroke="#d3bf27"/>
<line x1="895.4" y1="379.7" x2="920.5" y2="388.0" stroke="#dabd28"/>
<polygon points="896.3,396.7 920.5,388.0 895.4,379.7 871.2,391.0" fill="#fff" stroke="none"/>
<line x1="896.3" y1="396.7" x2="920.5" y2="388.0" stroke="#d8be28"/>
<line x1="920.5" y1="388.0" x2="895.4" y2="379.7" stroke="#dabd28"/>
<line x1="895.4" y1="379.7" x2="871.2" y2="391.0" stroke="#ccc028"/>
<line x1="871.2" y1="391.0" x2="896.3" y2="396.7" stroke="#d8be28"/>
<polygon points="872.1,384.3 896.3,396.7 871.2,391.0 847.0,381.2" fill="#fff" stroke="none"/>
<line x1="872.1" y1="384.3" x2="896.3" y2="396.7" stroke="#f4ba39"/>
<line x1="896.3" y1="396.7" x2="871.2" y2="391.0" stroke="#d8be28"/>
<line x1="871.2" y1="391.0" x2="847.0" y2="381.2" stroke="#e7bb2e"/>
<line x1="847.0" y1="381.2" x2="872.1" y2="384.3" stroke="#f4ba39"/>
<polygon points="849.6,349.9 872.1,384.3 847.0,381.2 823.0,350.3" fill="#fff" stroke="none"/>
<line x1="849.6" y1="349.9" x2="872.1" y2="384.3" stroke="#f7db2b"/>
<line x1="872.1" y1="384.3" x2="847.0" y2="381.2" stroke="#f4ba39"/>
<line x1="847.0" y1="381.2" x2="823.0" y2="350.3" stroke="#fdce31"/>
<line x1="823.0" y1="350.3" x2="849.6" y2="349.9" stroke="#f7db2b"/>
<polygon points="824.6,350.6 849.6,349.9 823.0,350.3 797.2,363.4" fill="#fff" stroke="none"/>
<line x1="824.6" y1="350.6" x2="849.6" y2="349.9" stroke="#f6e028"/>
<line x1="849.6" y1="349.9" x2="823.0" y2="350.3" stroke="#f7db2b"/>
<line x1="823.0" y1="350.3" x2="797.2" y2="363.4" stroke="#fec835"/>
<line x1="797.2" y1="363.4" x2="824.6" y2="350.6" stroke="#f6e028"/>
<polygon points="799.2,392.0 824.6,350.6 797.2,363.4 773.3,393.7" fill="#fff" stroke="none"/>
<line x1="799.2" y1="392.0" x2="824.6" y2="350.6" stroke="#fec03a"/>
<line x1="824.6" y1="350.6" x2="797.2" y2="363.4" stroke="#f6e028"/>
<line x1="797.2" y1="363.4" x2="773.3" y2="393.7" stroke="#f2ba38"/>
<line x1="773.3" y1="393.7" x2="799.2" y2="392.0" stroke="#fec03a"/>
<polygon points="775.4,456.5 799.2,392.0 773.3,393.7 749.3,441.6" fill="#fff" stroke="none"/>
<line x1="775.4" y1="456.5" x2="799.2" y2="392.0" stroke="#abc739"/>
<line x1="799.2" y1="392.0" x2="773.3" y2="393.7" stroke="#fec03a"/>
<line x1="773.3" y1="393.7" x2="749.3" y2="441.6" stroke="#afc637"/>
<line x1="749.3" y1="441.6" x2="775.4" y2="456.5" stroke="#abc739"/>
<polygon points="750.6,503.3 775.4,456.5 749.3,441.6 725.3,484.5" fill="#fff" stroke="none"/>
<line x1="750.6" y1="503.3" x2="775.4" y2="456.5" stroke="#57cc7a"/>
<line x1="775.4" y1="456.5" x2="749.3" y2="441.6" stroke="#abc739"/>
<line x1="749.3" y1="441.6" x2="725.3" y2="484.5" stroke="#63cd70"/>
<line x1="725.3" y1="484.5" x2="750.6" y2="503.3" stroke="#57cc7a"/>
<polygon points="726.8,532.4 750.6,503.3 725.3,484.5 700.1,522.3" fill="#fff" stroke="none"/>
<line x1="726.8" y1="532.4" x2="750.6" y2="503.3" stroke="#36c899"/>
<line x1="750.6" y1="503.3" x2="725.3" y2="484.5" stroke="#57cc7a"/>
<line x1="725.3" y1="484.5" x2="700.1" y2="522.3" stroke="#33c79d"/>
<line x1="700.1" y1="522.3" x2="726.8" y2="532.4" stroke="#36c899"/>
<polygon points="703.0,562.4 726.8,532.4 700.1,522.3 676.5,546.5" fill="#fff" stroke="none"/>
<line x1="703.0" y1="562.4" x2="726.8" y2="532.4" stroke="#1dc0b3"/>
<line x1="726.8" y1="532.4" x2="700.1" y2="522.3" stroke="#36c899"/>
<line x1="700.1" y1="522.3" x2="676.5" y2="546.5" stroke="#22c1b0"/>
<line x1="676.5" y1="546.5" x2="703.0" y2="562.4" stroke="#1dc0b3"/>
<polygon points="677.0,595.1 703.0,562.4 676.5,546.5 651.8,580.1" fill="#fff" stroke="none"/>
<line x1="677.0" y1="595.1" x2="703.0" y2="562.4" stroke="#04b6cd"/>
<line x1="703.0" y1="562.4" x2="676.5" y2="546.5" stroke="#1dc0b3"/>
<line x1="676.5" y1="546.5" x2="651.8" y2="580.1" stroke="#02b7cb"/>
<line x1="651.8" y1="580.1" x2="677.0" y2="595.1" stroke="#04b6cd"/>
<polygon points="654.2,647.8 677.0,595.1 651.8,580.1 629.4,631.6" fill="#fff" stroke="none"/>
<line x1="654.2" y1="647.8" x2="677.0" y2="595.1" stroke="#269ae8"/>
<line x1="677.0" y1="595.1" x2="651.8" y2="580.1" stroke="#04b6cd"/>
<line x1="651.8" y1="580.1" x2="629.4" y2="631.6" stroke="#249de6"/>
<line x1="629.4" y1="631.6" x2="654.2" y2="647.8" stroke="#269ae8"/>
<polygon points="630.0,691.8 654.2,647.8 629.4,631.6 604.1,676.5" fill="#fff" stroke="none"/>
<line x1="630.0" y1="691.8" x2="654.2" y2="647.8" stroke="#317efb"/>
<line x1="654.2" y1="647.8" x2="629.4" y2="631.6" stroke="#269ae8"/>
<line x1="629.4" y1="631.6" x2="604.1" y2="676.5" stroke="#3080fb"/>
<line x1="604.1" y1="676.5" x2="630.0" y2="691.8" stroke="#317efb"/>
<polygon points="605.6,721.7 630.0,691.8 604.1,676.5 579.1,708.3" fill="#fff" stroke="none"/>
<line x1="605.6" y1="721.7" x2="630.0" y2="691.8" stroke="#4269fe"/>
<line x1="630.0" y1="691.8" x2="604.1" y2="676.5" stroke="#317efb"/>
<line x1="604.1" y1="676.5" x2="579.1" y2="708.3" stroke="#4269fe"/>
<line x1="579.1" y1="708.3" x2="605.6" y2="721.7" stroke="#4269fe"/>
<polygon points="582.9,742.9 605.6,721.7 579.1,708.3 555.3,725.0" fill="#fff" stroke="none"/>
<line x1="582.9" y1="742.9" x2="605.6" y2="721.7" stroke="#465dfb"/>
<line x1="605.6" y1="721.7" x2="579.1" y2="708.3" stroke="#4269fe"/>
<line x1="579.1" y1="708.3" x2="555.3" y2="725.0" stroke="#4561fc"/>
<line x1="555.3" y1="725.0" x2="582.9" y2="742.9" stroke="#465dfb"/>
<polygon points="557.2,763.3 582.9,742.9 555.3,725.0 532.6,746.4" fill="#fff" stroke="none"/>
<line x1="557.2" y1="763.3" x2="582.9" y2="742.9" stroke="#4852f4"/>
<line x1="582.9" y1="742.9" x2="555.3" y2="725.0" stroke="#465dfb"/>
<line x1="555.3" y1="725.0" x2="532.6" y2="746.4" stroke="#4756f6"/>
<line x1="532.6" y1="746.4" x2="557.2" y2="763.3" stroke="#4852f4"/>
<polygon points="531.4,783.1 557.2,763.3 532.6,746.4 508.4,771.6" fill="#fff" stroke="none"/>
<line x1="531.4" y1="783.1" x2="557.2" y2="763.3" stroke="#4746ea"/>
<line x1="557.2" y1="763.3" x2="532.6" y2="746.4" stroke="#4852f4"/>
<line x1="532.6" y1="746.4" x2="508.4" y2="771.6" stroke="#4746ea"/>
<line x1="508.4" y1="771.6" x2="531.4" y2="783.1" stroke="#4746ea"/>
<polygon points="509.3,819.0 531.4,783.1 508.4,771.6 485.3,803.2" fill="#fff" stroke="none"/>
<line x1="509.3" y1="819.0" x2="531.4" y2="783.1" stroke="#4331c8"/>
<line x1="531.4" y1="783.1" x2="508.4" y2="771.6" stroke="#4746ea"/>
<line x1="508.4" y1="771.6" x2="485.3" y2="803.2" stroke="#4434ce"/>
<line x1="485.3" y1="803.2" x2="509.3" y2="819.0" stroke="#4331c8"/>
<polygon points="485.1,843.6 509.3,819.0 485.3,803.2 460.9,830.5" fill="#fff" stroke="none"/>
<line x1="485.1" y1="843.6" x2="509.3" y2="819.0" stroke="#3e27aa"/>
<line x1="509.3" y1="819.0" x2="485.3" y2="803.2" stroke="#4331c8"/>
<line x1="485.3" y1="803.2" x2="460.9" y2="830.5" stroke="#3e27ac"/>
<line x1="460.9" y1="830.5" x2="485.1" y2="843.6" stroke="#3e27aa"/>
<polygon points="1020.1,371.3 1043.0,385.1 1041.2,340.0 1017.4,309.1" fill="#fff" stroke="none"/>
<line x1="1020.1" y1="371.3" x2="1043.0" y2="385.1" stroke="#c9c129"/>
<line x1="1043.0" y1="385.1" x2="1041.2" y2="340.0" stroke="#9fc941"/>
<line x1="1041.2" y1="340.0" x2="1017.4" y2="309.1" stroke="#fbd22f"/>
<line x1="1017.4" y1="309.1" x2="1020.1" y2="371.3" stroke="#c9c129"/>
<polygon points="997.1,379.0 1020.1,371.3 1017.4,309.1 993.6,331.2" fill="#fff" stroke="none"/>
<line x1="997.1" y1="379.0" x2="1020.1" y2="371.3" stroke="#c9c129"/>
<line x1="1020.1" y1="371.3" x2="1017.4" y2="309.1" stroke="#c9c129"/>
<line x1="1017.4" y1="309.1" x2="993.6" y2="331.2" stroke="#fec437"/>
<line x1="993.6" y1="331.2" x2="997.1" y2="379.0" stroke="#c9c129"/>
<polygon points="973.3,389.3 997.1,379.0 993.6,331.2 969.7,350.6" fill="#fff" stroke="none"/>
<line x1="973.3" y1="389.3" x2="997.1" y2="379.0" stroke="#c3c22b"/>
<line x1="997.1" y1="379.0" x2="993.6" y2="331.2" stroke="#c9c129"/>
<line x1="993.6" y1="331.2" x2="969.7" y2="350.6" stroke="#fabb3d"/>
<line x1="969.7" y1="350.6" x2="973.3" y2="389.3" stroke="#c3c22b"/>
<polygon points="950.1,399.1 973.3,389.3 969.7,350.6 944.7,365.0" fill="#fff" stroke="none"/>
<line x1="950.1" y1="399.1" x2="973.3" y2="389.3" stroke="#bfc32d"/>
<line x1="973.3" y1="389.3" x2="969.7" y2="350.6" stroke="#c3c22b"/>
<line x1="969.7" y1="350.6" x2="944.7" y2="365.0" stroke="#f1ba37"/>
<line x1="944.7" y1="365.0" x2="950.1" y2="399.1" stroke="#bfc32d"/>
<polygon points="925.9,420.9 950.1,399.1 944.7,365.0 920.5,388.0" fill="#fff" stroke="none"/>
<line x1="925.9" y1="420.9" x2="950.1" y2="399.1" stroke="#a2c83f"/>
<line x1="950.1" y1="399.1" x2="944.7" y2="365.0" stroke="#bfc32d"/>
<line x1="944.7" y1="365.0" x2="920.5" y2="388.0" stroke="#dabd28"/>
<line x1="920.5" y1="388.0" x2="925.9" y2="420.9" stroke="#a2c83f"/>
<polygon points="901.7,428.6 925.9,420.9 920.5,388.0 896.3,396.7" fill="#fff" stroke="none"/>
<line x1="901.7" y1="428.6" x2="925.9" y2="420.9" stroke="#a1c840"/>
<line x1="925.9" y1="420.9" x2="920.5" y2="388.0" stroke="#a2c83f"/>
<line x1="920.5" y1="388.0" x2="896.3" y2="396.7" stroke="#d8be28"/>
<line x1="896.3" y1="396.7" x2="901.7" y2="428.6" stroke="#a1c840"/>
<polygon points="877.5,415.0 901.7,428.6 896.3,396.7 872.1,384.3" fill="#fff" stroke="none"/>
<line x1="877.5" y1="415.0" x2="901.7" y2="428.6" stroke="#c9c129"/>
<line x1="901.7" y1="428.6" x2="896.3" y2="396.7" stroke="#a1c840"/>
<line x1="896.3" y1="396.7" x2="872.1" y2="384.3" stroke="#f4ba39"/>
<line x1="872.1" y1="384.3" x2="877.5" y2="415.0" stroke="#c9c129"/>
<polygon points="853.4,386.2 877.5,415.0 872.1,384.3 849.6,349.9" fill="#fff" stroke="none"/>
<line x1="853.4" y1="386.2" x2="877.5" y2="415.0" stroke="#fcbc3d"/>
<line x1="877.5" y1="415.0" x2="872.1" y2="384.3" stroke="#c9c129"/>
<line x1="872.1" y1="384.3" x2="849.6" y2="349.9" stroke="#f7db2b"/>
<line x1="849.6" y1="349.9" x2="853.4" y2="386.2" stroke="#fcbc3d"/>
<polygon points="829.2,398.4 853.4,386.2 849.6,349.9 824.6,350.6" fill="#fff" stroke="none"/>
<line x1="829.2" y1="398.4" x2="853.4" y2="386.2" stroke="#f7ba3c"/>
<line x1="853.4" y1="386.2" x2="849.6" y2="349.9" stroke="#fcbc3d"/>
<line x1="849.6" y1="349.9" x2="824.6" y2="350.6" stroke="#f6e028"/>
<line x1="824.6" y1="350.6" x2="829.2" y2="398.4" stroke="#f7ba3c"/>
<polygon points="803.6,426.5 829.2,398.4 824.6,350.6 799.2,392.0" fill="#fff" stroke="none"/>
<line x1="803.6" y1="426.5" x2="829.2" y2="398.4" stroke="#d8be28"/>
<line x1="829.2" y1="398.4" x2="824.6" y2="350.6" stroke="#f7ba3c"/>
<line x1="824.6" y1="350.6" x2="799.2" y2="392.0" stroke="#fec03a"/>
<line x1="799.2" y1="392.0" x2="803.6" y2="426.5" stroke="#d8be28"/>
<polygon points="779.8,476.3 803.6,426.5 799.2,392.0 775.4,456.5" fill="#fff" stroke="none"/>
<line x1="779.8" y1="476.3" x2="803.6" y2="426.5" stroke="#86cb55"/>
<line x1="803.6" y1="426.5" x2="799.2" y2="392.0" stroke="#d8be28"/>
<line x1="799.2" y1="392.0" x2="775.4" y2="456.5" stroke="#abc739"/>
<line x1="775.4" y1="456.5" x2="779.8" y2="476.3" stroke="#86cb55"/>
<polygon points="755.9,525.7 779.8,476.3 775.4,456.5 750.6,503.3" fill="#fff" stroke="none"/>
<line x1="755.9" y1="525.7" x2="779.8" y2="476.3" stroke="#38c896"/>
<line x1="779.8" y1="476.3" x2="775.4" y2="456.5" stroke="#86cb55"/>
<line x1="775.4" y1="456.5" x2="750.6" y2="503.3" stroke="#57cc7a"/>
<line x1="750.6" y1="503.3" x2="755.9" y2="525.7" stroke="#38c896"/>
<polygon points="731.2,559.8 755.9,525.7 750.6,503.3 726.8,532.4" fill="#fff" stroke="none"/>
<line x1="731.2" y1="559.8" x2="755.9" y2="525.7" stroke="#19bfb5"/>
<line x1="755.9" y1="525.7" x2="750.6" y2="503.3" stroke="#38c896"/>
<line x1="750.6" y1="503.3" x2="726.8" y2="532.4" stroke="#36c899"/>
<line x1="726.8" y1="532.4" x2="731.2" y2="559.8" stroke="#19bfb5"/>
<polygon points="708.3,592.4 731.2,559.8 726.8,532.4 703.0,562.4" fill="#fff" stroke="none"/>
<line x1="708.3" y1="592.4" x2="731.2" y2="559.8" stroke="#05b6ce"/>
<line x1="731.2" y1="559.8" x2="726.8" y2="532.4" stroke="#19bfb5"/>
<line x1="726.8" y1="532.4" x2="703.0" y2="562.4" stroke="#1dc0b3"/>
<line x1="703.0" y1="562.4" x2="708.3" y2="592.4" stroke="#05b6ce"/>
<polygon points="684.0,620.5 708.3,592.4 703.0,562.4 677.0,595.1" fill="#fff" stroke="none"/>
<line x1="684.0" y1="620.5" x2="708.3" y2="592.4" stroke="#1baade"/>
<line x1="708.3" y1="592.4" x2="703.0" y2="562.4" stroke="#05b6ce"/>
<line x1="703.0" y1="562.4" x2="677.0" y2="595.1" stroke="#04b6cd"/>
<line x1="677.0" y1="595.1" x2="684.0" y2="620.5" stroke="#1baade"/>
<polygon points="658.7,667.7 684.0,620.5 677.0,595.1 654.2,647.8" fill="#fff" stroke="none"/>
<line x1="658.7" y1="667.7" x2="684.0" y2="620.5" stroke="#2d8df2"/>
<line x1="684.0" y1="620.5" x2="677.0" y2="595.1" stroke="#1baade"/>
<line x1="677.0" y1="595.1" x2="654.2" y2="647.8" stroke="#269ae8"/>
<line x1="654.2" y1="647.8" x2="658.7" y2="667.7" stroke="#2d8df2"/>
<polygon points="636.0,710.6 658.7,667.7 654.2,647.8 630.0,691.8" fill="#fff" stroke="none"/>
<line x1="636.0" y1="710.6" x2="658.7" y2="667.7" stroke="#3e6fff"/>
<line x1="658.7" y1="667.7" x2="654.2" y2="647.8" stroke="#2d8df2"/>
<line x1="654.2" y1="647.8" x2="630.0" y2="691.8" stroke="#317efb"/>
<line x1="630.0" y1="691.8" x2="636.0" y2="710.6" stroke="#3e6fff"/>
<polygon points="612.1,739.6 636.0,710.6 630.0,691.8 605.6,721.7" fill="#fff" stroke="none"/>
<line x1="612.1" y1="739.6" x2="636.0" y2="710.6" stroke="#475cfa"/>
<line x1="636.0" y1="710.6" x2="630.0" y2="691.8" stroke="#3e6fff"/>
<line x1="630.0" y1="691.8" x2="605.6" y2="721.7" stroke="#4269fe"/>
<line x1="605.6" y1="721.7" x2="612.1" y2="739.6" stroke="#475cfa"/>
<polygon points="586.8,756.0 612.1,739.6 605.6,721.7 582.9,742.9" fill="#fff" stroke="none"/>
<line x1="586.8" y1="756.0" x2="612.1" y2="739.6" stroke="#4854f5"/>
<line x1="612.1" y1="739.6" x2="605.6" y2="721.7" stroke="#475cfa"/>
<line x1="605.6" y1="721.7" x2="582.9" y2="742.9" stroke="#465dfb"/>
<line x1="582.9" y1="742.9" x2="586.8" y2="756.0" stroke="#4854f5"/>
<polygon points="562.9,770.4 586.8,756.0 582.9,742.9 557.2,763.3" fill="#fff" stroke="none"/>
<line x1="562.9" y1="770.4" x2="586.8" y2="756.0" stroke="#484ef1"/>
<line x1="586.8" y1="756.0" x2="582.9" y2="742.9" stroke="#4854f5"/>
<line x1="582.9" y1="742.9" x2="557.2" y2="763.3" stroke="#4852f4"/>
<line x1="557.2" y1="763.3" x2="562.9" y2="770.4" stroke="#484ef1"/>
<polygon points="538.9,794.8 562.9,770.4 557.2,763.3 531.4,783.1" fill="#fff" stroke="none"/>
<line x1="538.9" y1="794.8" x2="562.9" y2="770.4" stroke="#4740e3"/>
<line x1="562.9" y1="770.4" x2="557.2" y2="763.3" stroke="#484ef1"/>
<line x1="557.2" y1="763.3" x2="531.4" y2="783.1" stroke="#4746ea"/>
<line x1="531.4" y1="783.1" x2="538.9" y2="794.8" stroke="#4740e3"/>
<polygon points="512.6,827.6 538.9,794.8 531.4,783.1 509.3,819.0" fill="#fff" stroke="none"/>
<line x1="512.6" y1="827.6" x2="538.9" y2="794.8" stroke="#412dbc"/>
<line x1="538.9" y1="794.8" x2="531.4" y2="783.1" stroke="#4740e3"/>
<line x1="531.4" y1="783.1" x2="509.3" y2="819.0" stroke="#4331c8"/>
<line x1="509.3" y1="819.0" x2="512.6" y2="827.6" stroke="#412dbc"/>
<polygon points="491.1,845.4 512.6,827.6 509.3,819.0 485.1,843.6" fill="#fff" stroke="none"/>
<line x1="491.1" y1="845.4" x2="512.6" y2="827.6" stroke="#3e28ac"/>
<line x1="512.6" y1="827.6" x2="509.3" y2="819.0" stroke="#412dbc"/>
<line x1="509.3" y1="819.0" x2="485.1" y2="843.6" stroke="#3e27aa"/>
<line x1="485.1" y1="843.6" x2="491.1" y2="845.4" stroke="#3e28ac"/>
<polygon points="1105.0,395.0 1130.4,393.0 1043.0,385.1 1020.1,371.3" fill="#fff" stroke="none"/>
<line x1="1105.0" y1="395.0" x2="1130.4" y2="393.0" stroke="#e7bb2d"/>
<line x1="1130.4" y1="393.0" x2="1043.0" y2="385.1" stroke="#e0bc2a"/>
<line x1="1043.0" y1="385.1" x2="1020.1" y2="371.3" stroke="#c9c129"/>
<line x1="1020.1" y1="371.3" x2="1105.0" y2="395.0" stroke="#e7bb2d"/>
<polygon points="1081.9,379.8 1105.0,395.0 1020.1,371.3 997.1,379.0" fill="#fff" stroke="none"/>
<line x1="1081.9" y1="379.8" x2="1105.0" y2="395.0" stroke="#fec03b"/>
<line x1="1105.0" y1="395.0" x2="1020.1" y2="371.3" stroke="#e7bb2d"/>
<line x1="1020.1" y1="371.3" x2="997.1" y2="379.0" stroke="#c9c129"/>
<line x1="997.1" y1="379.0" x2="1081.9" y2="379.8" stroke="#fec03b"/>
<polygon points="1058.0,362.1 1081.9,379.8 997.1,379.0 973.3,389.3" fill="#fff" stroke="none"/>
<line x1="1058.0" y1="362.1" x2="1081.9" y2="379.8" stroke="#f9d72d"/>
<line x1="1081.9" y1="379.8" x2="997.1" y2="379.0" stroke="#fec03b"/>
<line x1="997.1" y1="379.0" x2="973.3" y2="389.3" stroke="#c3c22b"/>
<line x1="973.3" y1="389.3" x2="1058.0" y2="362.1" stroke="#f9d72d"/>
<polygon points="1034.2,370.0 1058.0,362.1 973.3,389.3 950.1,399.1" fill="#fff" stroke="none"/>
<line x1="1034.2" y1="370.0" x2="1058.0" y2="362.1" stroke="#fad62d"/>
<line x1="1058.0" y1="362.1" x2="973.3" y2="389.3" stroke="#f9d72d"/>
<line x1="973.3" y1="389.3" x2="950.1" y2="399.1" stroke="#bfc32d"/>
<line x1="950.1" y1="399.1" x2="1034.2" y2="370.0" stroke="#fad62d"/>
<polygon points="1009.8,415.2 1034.2,370.0 950.1,399.1 925.9,420.9" fill="#fff" stroke="none"/>
<line x1="1009.8" y1="415.2" x2="1034.2" y2="370.0" stroke="#f2ba38"/>
<line x1="1034.2" y1="370.0" x2="950.1" y2="399.1" stroke="#fad62d"/>
<line x1="950.1" y1="399.1" x2="925.9" y2="420.9" stroke="#a2c83f"/>
<line x1="925.9" y1="420.9" x2="1009.8" y2="415.2" stroke="#f2ba38"/>
<polygon points="987.0,416.3 1009.8,415.2 925.9,420.9 901.7,428.6" fill="#fff" stroke="none"/>
<line x1="987.0" y1="416.3" x2="1009.8" y2="415.2" stroke="#fabb3d"/>
<line x1="1009.8" y1="415.2" x2="925.9" y2="420.9" stroke="#f2ba38"/>
<line x1="925.9" y1="420.9" x2="901.7" y2="428.6" stroke="#a1c840"/>
<line x1="901.7" y1="428.6" x2="987.0" y2="416.3" stroke="#fabb3d"/>
<polygon points="962.0,388.0 987.0,416.3 901.7,428.6 877.5,415.0" fill="#fff" stroke="none"/>
<line x1="962.0" y1="388.0" x2="987.0" y2="416.3" stroke="#f8d92b"/>
<line x1="987.0" y1="416.3" x2="901.7" y2="428.6" stroke="#fabb3d"/>
<line x1="901.7" y1="428.6" x2="877.5" y2="415.0" stroke="#c9c129"/>
<line x1="877.5" y1="415.0" x2="962.0" y2="388.0" stroke="#f8d92b"/>
<polygon points="937.3,379.0 962.0,388.0 877.5,415.0 853.4,386.2" fill="#fff" stroke="none"/>
<line x1="937.3" y1="379.0" x2="962.0" y2="388.0" stroke="#f5e825"/>
<line x1="962.0" y1="388.0" x2="877.5" y2="415.0" stroke="#f8d92b"/>
<line x1="877.5" y1="415.0" x2="853.4" y2="386.2" stroke="#fcbc3d"/>
<line x1="853.4" y1="386.2" x2="937.3" y2="379.0" stroke="#f5e825"/>
<polygon points="912.4,398.6 937.3,379.0 853.4,386.2 829.2,398.4" fill="#fff" stroke="none"/>
<line x1="912.4" y1="398.6" x2="937.3" y2="379.0" stroke="#f7dc2a"/>
<line x1="937.3" y1="379.0" x2="853.4" y2="386.2" stroke="#f5e825"/>
<line x1="853.4" y1="386.2" x2="829.2" y2="398.4" stroke="#f7ba3c"/>
<line x1="829.2" y1="398.4" x2="912.4" y2="398.6" stroke="#f7dc2a"/>
<polygon points="888.4,437.0 912.4,398.6 829.2,398.4 803.6,426.5" fill="#fff" stroke="none"/>
<line x1="888.4" y1="437.0" x2="912.4" y2="398.6" stroke="#febf3b"/>
<line x1="912.4" y1="398.6" x2="829.2" y2="398.4" stroke="#f7dc2a"/>
<line x1="829.2" y1="398.4" x2="803.6" y2="426.5" stroke="#d8be28"/>
<line x1="803.6" y1="426.5" x2="888.4" y2="437.0" stroke="#febf3b"/>
<polygon points="864.5,487.0 888.4,437.0 803.6,426.5 779.8,476.3" fill="#fff" stroke="none"/>
<line x1="864.5" y1="487.0" x2="888.4" y2="437.0" stroke="#c5c22a"/>
<line x1="888.4" y1="437.0" x2="803.6" y2="426.5" stroke="#febf3b"/>
<line x1="803.6" y1="426.5" x2="779.8" y2="476.3" stroke="#86cb55"/>
<line x1="779.8" y1="476.3" x2="864.5" y2="487.0" stroke="#c5c22a"/>
<polygon points="840.2,540.3 864.5,487.0 779.8,476.3 755.9,525.7" fill="#fff" stroke="none"/>
<line x1="840.2" y1="540.3" x2="864.5" y2="487.0" stroke="#65cd6e"/>
<line x1="864.5" y1="487.0" x2="779.8" y2="476.3" stroke="#c5c22a"/>
<line x1="779.8" y1="476.3" x2="755.9" y2="525.7" stroke="#38c896"/>
<line x1="755.9" y1="525.7" x2="840.2" y2="540.3" stroke="#65cd6e"/>
<polygon points="816.0,572.5 840.2,540.3 755.9,525.7 731.2,559.8" fill="#fff" stroke="none"/>
<line x1="816.0" y1="572.5" x2="840.2" y2="540.3" stroke="#3ac994"/>
<line x1="840.2" y1="540.3" x2="755.9" y2="525.7" stroke="#65cd6e"/>
<line x1="755.9" y1="525.7" x2="731.2" y2="559.8" stroke="#19bfb5"/>
<line x1="731.2" y1="559.8" x2="816.0" y2="572.5" stroke="#3ac994"/>
<polygon points="792.6,608.2 816.0,572.5 731.2,559.8 708.3,592.4" fill="#fff" stroke="none"/>
<line x1="792.6" y1="608.2" x2="816.0" y2="572.5" stroke="#1bc0b4"/>
<line x1="816.0" y1="572.5" x2="731.2" y2="559.8" stroke="#3ac994"/>
<line x1="731.2" y1="559.8" x2="708.3" y2="592.4" stroke="#05b6ce"/>
<line x1="708.3" y1="592.4" x2="792.6" y2="608.2" stroke="#1bc0b4"/>
<polygon points="767.2,648.8 792.6,608.2 708.3,592.4 684.0,620.5" fill="#fff" stroke="none"/>
<line x1="767.2" y1="648.8" x2="792.6" y2="608.2" stroke="#10b2d5"/>
<line x1="792.6" y1="608.2" x2="708.3" y2="592.4" stroke="#1bc0b4"/>
<line x1="708.3" y1="592.4" x2="684.0" y2="620.5" stroke="#1baade"/>
<line x1="684.0" y1="620.5" x2="767.2" y2="648.8" stroke="#10b2d5"/>
<polygon points="743.2,699.3 767.2,648.8 684.0,620.5 658.7,667.7" fill="#fff" stroke="none"/>
<line x1="743.2" y1="699.3" x2="767.2" y2="648.8" stroke="#2895ec"/>
<line x1="767.2" y1="648.8" x2="684.0" y2="620.5" stroke="#10b2d5"/>
<line x1="684.0" y1="620.5" x2="658.7" y2="667.7" stroke="#2d8df2"/>
<line x1="658.7" y1="667.7" x2="743.2" y2="699.3" stroke="#2895ec"/>
<polygon points="719.2,744.7 743.2,699.3 658.7,667.7 636.0,710.6" fill="#fff" stroke="none"/>
<line x1="719.2" y1="744.7" x2="743.2" y2="699.3" stroke="#3876fe"/>
<line x1="743.2" y1="699.3" x2="658.7" y2="667.7" stroke="#2895ec"/>
<line x1="658.7" y1="667.7" x2="636.0" y2="710.6" stroke="#3e6fff"/>
<line x1="636.0" y1="710.6" x2="719.2" y2="744.7" stroke="#3876fe"/>
<polygon points="695.3,773.7 719.2,744.7 636.0,710.6 612.1,739.6" fill="#fff" stroke="none"/>
<line x1="695.3" y1="773.7" x2="719.2" y2="744.7" stroke="#4562fc"/>
<line x1="719.2" y1="744.7" x2="636.0" y2="710.6" stroke="#3876fe"/>
<line x1="636.0" y1="710.6" x2="612.1" y2="739.6" stroke="#475cfa"/>
<line x1="612.1" y1="739.6" x2="695.3" y2="773.7" stroke="#4562fc"/>
<polygon points="671.3,791.3 695.3,773.7 612.1,739.6 586.8,756.0" fill="#fff" stroke="none"/>
<line x1="671.3" y1="791.3" x2="695.3" y2="773.7" stroke="#4759f9"/>
<line x1="695.3" y1="773.7" x2="612.1" y2="739.6" stroke="#4562fc"/>
<line x1="612.1" y1="739.6" x2="586.8" y2="756.0" stroke="#4854f5"/>
<line x1="586.8" y1="756.0" x2="671.3" y2="791.3" stroke="#4759f9"/>
<polygon points="647.4,812.8 671.3,791.3 586.8,756.0 562.9,770.4" fill="#fff" stroke="none"/>
<line x1="647.4" y1="812.8" x2="671.3" y2="791.3" stroke="#484ef1"/>
<line x1="671.3" y1="791.3" x2="586.8" y2="756.0" stroke="#4759f9"/>
<line x1="586.8" y1="756.0" x2="562.9" y2="770.4" stroke="#484ef1"/>
<line x1="562.9" y1="770.4" x2="647.4" y2="812.8" stroke="#484ef1"/>
<polygon points="623.4,841.2 647.4,812.8 562.9,770.4 538.9,794.8" fill="#fff" stroke="none"/>
<line x1="623.4" y1="841.2" x2="647.4" y2="812.8" stroke="#463cde"/>
<line x1="647.4" y1="812.8" x2="562.9" y2="770.4" stroke="#484ef1"/>
<line x1="562.9" y1="770.4" x2="538.9" y2="794.8" stroke="#4740e3"/>
<line x1="538.9" y1="794.8" x2="623.4" y2="841.2" stroke="#463cde"/>
<polygon points="599.0,868.4 623.4,841.2 538.9,794.8 512.6,827.6" fill="#fff" stroke="none"/>
<line x1="599.0" y1="868.4" x2="623.4" y2="841.2" stroke="#422ec0"/>
<line x1="623.4" y1="841.2" x2="538.9" y2="794.8" stroke="#463cde"/>
<line x1="538.9" y1="794.8" x2="512.6" y2="827.6" stroke="#412dbc"/>
<line x1="512.6" y1="827.6" x2="599.0" y2="868.4" stroke="#422ec0"/>
<polygon points="576.7,891.1 599.0,868.4 512.6,827.6 491.1,845.4" fill="#fff" stroke="none"/>
<line x1="576.7" y1="891.1" x2="599.0" y2="868.4" stroke="#3e26a8"/>
<line x1="599.0" y1="868.4" x2="512.6" y2="827.6" stroke="#422ec0"/>
<line x1="512.6" y1="827.6" x2="491.1" y2="845.4" stroke="#3e28ac"/>
<line x1="491.1" y1="845.4" x2="576.7" y2="891.1" stroke="#3e26a8"/>
<polygon points="1135.2,418.6 1160.8,429.2 1130.4,393.0 1105.0,395.0" fill="#fff" stroke="none"/>
<line x1="1135.2" y1="418.6" x2="1160.8" y2="429.2" stroke="#d9bd28"/>
<line x1="1160.8" y1="429.2" x2="1130.4" y2="393.0" stroke="#bcc42f"/>
<line x1="1130.4" y1="393.0" x2="1105.0" y2="395.0" stroke="#e7bb2d"/>
<line x1="1105.0" y1="395.0" x2="1135.2" y2="418.6" stroke="#d9bd28"/>
<polygon points="1111.8,424.4 1135.2,418.6 1105.0,395.0 1081.9,379.8" fill="#fff" stroke="none"/>
<line x1="1111.8" y1="424.4" x2="1135.2" y2="418.6" stroke="#dcbd29"/>
<line x1="1135.2" y1="418.6" x2="1105.0" y2="395.0" stroke="#d9bd28"/>
<line x1="1105.0" y1="395.0" x2="1081.9" y2="379.8" stroke="#fec03b"/>
<line x1="1081.9" y1="379.8" x2="1111.8" y2="424.4" stroke="#dcbd29"/>
<polygon points="1087.7,420.8 1111.8,424.4 1081.9,379.8 1058.0,362.1" fill="#fff" stroke="none"/>
<line x1="1087.7" y1="420.8" x2="1111.8" y2="424.4" stroke="#ecba32"/>
<line x1="1111.8" y1="424.4" x2="1081.9" y2="379.8" stroke="#dcbd29"/>
<line x1="1081.9" y1="379.8" x2="1058.0" y2="362.1" stroke="#f9d72d"/>
<line x1="1058.0" y1="362.1" x2="1087.7" y2="420.8" stroke="#ecba32"/>
<polygon points="1063.5,436.9 1087.7,420.8 1058.0,362.1 1034.2,370.0" fill="#fff" stroke="none"/>
<line x1="1063.5" y1="436.9" x2="1087.7" y2="420.8" stroke="#dfbc2a"/>
<line x1="1087.7" y1="420.8" x2="1058.0" y2="362.1" stroke="#ecba32"/>
<line x1="1058.0" y1="362.1" x2="1034.2" y2="370.0" stroke="#fad62d"/>
<line x1="1034.2" y1="370.0" x2="1063.5" y2="436.9" stroke="#dfbc2a"/>
<polygon points="1039.4,465.0 1063.5,436.9 1034.2,370.0 1009.8,415.2" fill="#fff" stroke="none"/>
<line x1="1039.4" y1="465.0" x2="1063.5" y2="436.9" stroke="#bac430"/>
<line x1="1063.5" y1="436.9" x2="1034.2" y2="370.0" stroke="#dfbc2a"/>
<line x1="1034.2" y1="370.0" x2="1009.8" y2="415.2" stroke="#f2ba38"/>
<line x1="1009.8" y1="415.2" x2="1039.4" y2="465.0" stroke="#bac430"/>
<polygon points="1015.0,469.6 1039.4,465.0 1009.8,415.2 987.0,416.3" fill="#fff" stroke="none"/>
<line x1="1015.0" y1="469.6" x2="1039.4" y2="465.0" stroke="#bfc32d"/>
<line x1="1039.4" y1="465.0" x2="1009.8" y2="415.2" stroke="#bac430"/>
<line x1="1009.8" y1="415.2" x2="987.0" y2="416.3" stroke="#fabb3d"/>
<line x1="987.0" y1="416.3" x2="1015.0" y2="469.6" stroke="#bfc32d"/>
<polygon points="990.3,452.0 1015.0,469.6 987.0,416.3 962.0,388.0" fill="#fff" stroke="none"/>
<line x1="990.3" y1="452.0" x2="1015.0" y2="469.6" stroke="#e7bb2e"/>
<line x1="1015.0" y1="469.6" x2="987.0" y2="416.3" stroke="#bfc32d"/>
<line x1="987.0" y1="416.3" x2="962.0" y2="388.0" stroke="#f8d92b"/>
<line x1="962.0" y1="388.0" x2="990.3" y2="452.0" stroke="#e7bb2e"/>
<polygon points="966.0,427.2 990.3,452.0 962.0,388.0 937.3,379.0" fill="#fff" stroke="none"/>
<line x1="966.0" y1="427.2" x2="990.3" y2="452.0" stroke="#fec834"/>
<line x1="990.3" y1="452.0" x2="962.0" y2="388.0" stroke="#e7bb2e"/>
<line x1="962.0" y1="388.0" x2="937.3" y2="379.0" stroke="#f5e825"/>
<line x1="937.3" y1="379.0" x2="966.0" y2="427.2" stroke="#fec834"/>
<polygon points="942.9,437.7 966.0,427.2 937.3,379.0 912.4,398.6" fill="#fff" stroke="none"/>
<line x1="942.9" y1="437.7" x2="966.0" y2="427.2" stroke="#fec636"/>
<line x1="966.0" y1="427.2" x2="937.3" y2="379.0" stroke="#fec834"/>
<line x1="937.3" y1="379.0" x2="912.4" y2="398.6" stroke="#f7dc2a"/>
<line x1="912.4" y1="398.6" x2="942.9" y2="437.7" stroke="#fec636"/>
<polygon points="918.2,472.0 942.9,437.7 912.4,398.6 888.4,437.0" fill="#fff" stroke="none"/>
<line x1="918.2" y1="472.0" x2="942.9" y2="437.7" stroke="#e9bb30"/>
<line x1="942.9" y1="437.7" x2="912.4" y2="398.6" stroke="#fec636"/>
<line x1="912.4" y1="398.6" x2="888.4" y2="437.0" stroke="#febf3b"/>
<line x1="888.4" y1="437.0" x2="918.2" y2="472.0" stroke="#e9bb30"/>
<polygon points="894.2,522.2 918.2,472.0 888.4,437.0 864.5,487.0" fill="#fff" stroke="none"/>
<line x1="894.2" y1="522.2" x2="918.2" y2="472.0" stroke="#9dc943"/>
<line x1="918.2" y1="472.0" x2="888.4" y2="437.0" stroke="#e9bb30"/>
<line x1="888.4" y1="437.0" x2="864.5" y2="487.0" stroke="#c5c22a"/>
<line x1="864.5" y1="487.0" x2="894.2" y2="522.2" stroke="#9dc943"/>
<polygon points="869.5,570.4 894.2,522.2 864.5,487.0 840.2,540.3" fill="#fff" stroke="none"/>
<line x1="869.5" y1="570.4" x2="894.2" y2="522.2" stroke="#48cb86"/>
<line x1="894.2" y1="522.2" x2="864.5" y2="487.0" stroke="#9dc943"/>
<line x1="864.5" y1="487.0" x2="840.2" y2="540.3" stroke="#65cd6e"/>
<line x1="840.2" y1="540.3" x2="869.5" y2="570.4" stroke="#48cb86"/>
<polygon points="845.6,604.5 869.5,570.4 840.2,540.3 816.0,572.5" fill="#fff" stroke="none"/>
<line x1="845.6" y1="604.5" x2="869.5" y2="570.4" stroke="#2ac3a8"/>
<line x1="869.5" y1="570.4" x2="840.2" y2="540.3" stroke="#48cb86"/>
<line x1="840.2" y1="540.3" x2="816.0" y2="572.5" stroke="#3ac994"/>
<line x1="816.0" y1="572.5" x2="845.6" y2="604.5" stroke="#2ac3a8"/>
<polygon points="821.5,632.2 845.6,604.5 816.0,572.5 792.6,608.2" fill="#fff" stroke="none"/>
<line x1="821.5" y1="632.2" x2="845.6" y2="604.5" stroke="#09bcbe"/>
<line x1="845.6" y1="604.5" x2="816.0" y2="572.5" stroke="#2ac3a8"/>
<line x1="816.0" y1="572.5" x2="792.6" y2="608.2" stroke="#1bc0b4"/>
<line x1="792.6" y1="608.2" x2="821.5" y2="632.2" stroke="#09bcbe"/>
<polygon points="797.4,667.7 821.5,632.2 792.6,608.2 767.2,648.8" fill="#fff" stroke="none"/>
<line x1="797.4" y1="667.7" x2="821.5" y2="632.2" stroke="#15afd8"/>
<line x1="821.5" y1="632.2" x2="792.6" y2="608.2" stroke="#09bcbe"/>
<line x1="792.6" y1="608.2" x2="767.2" y2="648.8" stroke="#10b2d5"/>
<line x1="767.2" y1="648.8" x2="797.4" y2="667.7" stroke="#15afd8"/>
<polygon points="773.5,711.9 797.4,667.7 767.2,648.8 743.2,699.3" fill="#fff" stroke="none"/>
<line x1="773.5" y1="711.9" x2="797.4" y2="667.7" stroke="#2797eb"/>
<line x1="797.4" y1="667.7" x2="767.2" y2="648.8" stroke="#15afd8"/>
<line x1="767.2" y1="648.8" x2="743.2" y2="699.3" stroke="#2895ec"/>
<line x1="743.2" y1="699.3" x2="773.5" y2="711.9" stroke="#2797eb"/>
<polygon points="749.5,757.3 773.5,711.9 743.2,699.3 719.2,744.7" fill="#fff" stroke="none"/>
<line x1="749.5" y1="757.3" x2="773.5" y2="711.9" stroke="#3678fd"/>
<line x1="773.5" y1="711.9" x2="743.2" y2="699.3" stroke="#2797eb"/>
<line x1="743.2" y1="699.3" x2="719.2" y2="744.7" stroke="#3876fe"/>
<line x1="719.2" y1="744.7" x2="749.5" y2="757.3" stroke="#3678fd"/>
<polygon points="725.5,788.8 749.5,757.3 719.2,744.7 695.3,773.7" fill="#fff" stroke="none"/>
<line x1="725.5" y1="788.8" x2="749.5" y2="757.3" stroke="#4562fc"/>
<line x1="749.5" y1="757.3" x2="719.2" y2="744.7" stroke="#3678fd"/>
<line x1="719.2" y1="744.7" x2="695.3" y2="773.7" stroke="#4562fc"/>
<line x1="695.3" y1="773.7" x2="725.5" y2="788.8" stroke="#4562fc"/>
<polygon points="700.3,805.2 725.5,788.8 695.3,773.7 671.3,791.3" fill="#fff" stroke="none"/>
<line x1="700.3" y1="805.2" x2="725.5" y2="788.8" stroke="#475af9"/>
<line x1="725.5" y1="788.8" x2="695.3" y2="773.7" stroke="#4562fc"/>
<line x1="695.3" y1="773.7" x2="671.3" y2="791.3" stroke="#4759f9"/>
<line x1="671.3" y1="791.3" x2="700.3" y2="805.2" stroke="#475af9"/>
<polygon points="676.4,822.8 700.3,805.2 671.3,791.3 647.4,812.8" fill="#fff" stroke="none"/>
<line x1="676.4" y1="822.8" x2="700.3" y2="805.2" stroke="#4851f3"/>
<line x1="700.3" y1="805.2" x2="671.3" y2="791.3" stroke="#475af9"/>
<line x1="671.3" y1="791.3" x2="647.4" y2="812.8" stroke="#484ef1"/>
<line x1="647.4" y1="812.8" x2="676.4" y2="822.8" stroke="#4851f3"/>
<polygon points="652.4,849.0 676.4,822.8 647.4,812.8 623.4,841.2" fill="#fff" stroke="none"/>
<line x1="652.4" y1="849.0" x2="676.4" y2="822.8" stroke="#4741e5"/>
<line x1="676.4" y1="822.8" x2="647.4" y2="812.8" stroke="#4851f3"/>
<line x1="647.4" y1="812.8" x2="623.4" y2="841.2" stroke="#463cde"/>
<line x1="623.4" y1="841.2" x2="652.4" y2="849.0" stroke="#4741e5"/>
<polygon points="628.4,878.3 652.4,849.0 623.4,841.2 599.0,868.4" fill="#fff" stroke="none"/>
<line x1="628.4" y1="878.3" x2="652.4" y2="849.0" stroke="#4331c7"/>
<line x1="652.4" y1="849.0" x2="623.4" y2="841.2" stroke="#4741e5"/>
<line x1="623.4" y1="841.2" x2="599.0" y2="868.4" stroke="#422ec0"/>
<line x1="599.0" y1="868.4" x2="628.4" y2="878.3" stroke="#4331c7"/>
<polygon points="604.5,906.3 628.4,878.3 599.0,868.4 576.7,891.1" fill="#fff" stroke="none"/>
<line x1="604.5" y1="906.3" x2="628.4" y2="878.3" stroke="#3e26a8"/>
<line x1="628.4" y1="878.3" x2="599.0" y2="868.4" stroke="#4331c7"/>
<line x1="599.0" y1="868.4" x2="576.7" y2="891.1" stroke="#3e26a8"/>
<line x1="576.7" y1="891.1" x2="604.5" y2="906.3" stroke="#3e26a8"/>
</g>
<g id="left-labels" font-family="'Liberation Sans',Arial,Helvetica,sans-serif" font-weight="bold">
<text x="129.10" y="696.32" font-size="40.8" fill="#262626">0</text>
<text x="106.47" y="542.92" font-size="40.8" fill="#262626">10</text>
<text x="106.47" y="389.52" font-size="40.8" fill="#262626">20</text>
<text x="106.47" y="236.00" font-size="40.8" fill="#262626">30</text>
<text x="59.20" y="743.23" font-size="40.8" fill="#262626">4000</text>
<text x="273.23" y="848.92" font-size="40.8" fill="#262626">2000</text>
<text x="552.38" y="954.23" font-size="40.8" fill="#262626">0</text>
<text x="629.38" y="958.02" font-size="40.8" fill="#262626">0</text>
<text x="870.17" y="887.83" font-size="40.8" fill="#262626">10</text>
<text x="1112.33" y="817.23" font-size="40.8" fill="#262626">20</text>
<text x="177.75" y="846.00" font-size="32" fill="#262626">h(m)</text>
<text x="840.92" y="943.60" font-size="32" fill="#262626">Time (hours)</text>
<text transform="translate(87,461.7) rotate(-90)" x="-37.44" y="0" font-size="32" fill="#262626">γ(s,t)</text>
</g>
<g id="right-grid" fill="none">
<line x1="1379.6" y1="579" x2="2234.7" y2="537.4" stroke="#dfdfdf" stroke-width="1.3"/>
<line x1="2234.7" y1="537.4" x2="2433.4" y2="719.8" stroke="#dfdfdf" stroke-width="1.3"/>
<line x1="1379.6" y1="500.2" x2="2234.7" y2="458.6" stroke="#dfdfdf" stroke-width="1.3"/>
<line x1="2234.7" y1="458.6" x2="2433.4" y2="641" stroke="#dfdfdf" stroke-width="1.3"/>
<line x1="1379.6" y1="421.4" x2="2234.7" y2="379.8" stroke="#dfdfdf" stroke-width="1.3"/>
<line x1="2234.7" y1="379.8" x2="2433.4" y2="562.2" stroke="#dfdfdf" stroke-width="1.3"/>
<line x1="1379.6" y1="342.7" x2="2234.7" y2="301.1" stroke="#dfdfdf" stroke-width="1.3"/>
<line x1="2234.7" y1="301.1" x2="2433.4" y2="483.5" stroke="#dfdfdf" stroke-width="1.3"/>
<line x1="1379.6" y1="263.9" x2="2234.7" y2="222.3" stroke="#dfdfdf" stroke-width="1.3"/>
<line x1="2234.7" y1="222.3" x2="2433.4" y2="404.7" stroke="#dfdfdf" stroke-width="1.3"/>
<line x1="1379.6" y1="185.1" x2="2234.7" y2="143.5" stroke="#dfdfdf" stroke-width="1.3"/>
<line x1="2234.7" y1="143.5" x2="2433.4" y2="325.9" stroke="#dfdfdf" stroke-width="1.3"/>
<line x1="1565.5" y1="648.8" x2="1565.5" y2="97.3" stroke="#dfdfdf" stroke-width="1.3"/>
<line x1="1764.2" y1="831.2" x2="1565.5" y2="648.8" stroke="#dfdfdf" stroke-width="1.3"/>
<line x1="1751.4" y1="639.7" x2="1751.4" y2="88.2" stroke="#dfdfdf" stroke-width="1.3"/>
<line x1="1950.1" y1="822.1" x2="1751.4" y2="639.7" stroke="#dfdfdf" stroke-width="1.3"/>
<line x1="1937.3" y1="630.7" x2="1937.3" y2="79.2" stroke="#dfdfdf" stroke-width="1.3"/>
<line x1="2136" y1="813.1" x2="1937.3" y2="630.7" stroke="#dfdfdf" stroke-width="1.3"/>
<line x1="2123.2" y1="621.6" x2="2123.2" y2="70.1" stroke="#dfdfdf" stroke-width="1.3"/>
<line x1="2321.9" y1="804" x2="2123.2" y2="621.6" stroke="#dfdfdf" stroke-width="1.3"/>
<line x1="2317.9" y1="692.6" x2="2317.9" y2="141.1" stroke="#dfdfdf" stroke-width="1.3"/>
<line x1="1462.8" y1="734.2" x2="2317.9" y2="692.6" stroke="#dfdfdf" stroke-width="1.3"/>
</g>
<g id="right-box" fill="none">
<line x1="1379.6" y1="657.8" x2="1379.6" y2="106.3" stroke="#262626" stroke-width="1.3"/>
<line x1="2234.7" y1="616.2" x2="2234.7" y2="64.7" stroke="#262626" stroke-width="1.3"/>
<line x1="2433.4" y1="798.6" x2="2433.4" y2="247.1" stroke="#262626" stroke-width="1.3"/>
<line x1="1379.6" y1="106.3" x2="2234.7" y2="64.7" stroke="#262626" stroke-width="1.3"/>
<line x1="2234.7" y1="64.7" x2="2433.4" y2="247.1" stroke="#262626" stroke-width="1.3"/>
<line x1="1379.6" y1="657.8" x2="2234.7" y2="616.2" stroke="#262626" stroke-width="1.3"/>
<line x1="2234.7" y1="616.2" x2="2433.4" y2="798.6" stroke="#262626" stroke-width="1.3"/>
<line x1="1578.3" y1="840.2" x2="2433.4" y2="798.6" stroke="#262626" stroke-width="1.3"/>
<line x1="1578.3" y1="840.2" x2="1379.6" y2="657.8" stroke="#262626" stroke-width="1.3"/>
<line x1="1379.6" y1="657.8" x2="1363.3" y2="643.4" stroke="#262626" stroke-width="1.3"/>
<line x1="1379.6" y1="579" x2="1363.3" y2="564.6" stroke="#262626" stroke-width="1.3"/>
<line x1="1379.6" y1="500.2" x2="1363.3" y2="485.8" stroke="#262626" stroke-width="1.3"/>
<line x1="1379.6" y1="421.4" x2="1363.3" y2="407" stroke="#262626" stroke-width="1.3"/>
<line x1="1379.6" y1="342.7" x2="1363.3" y2="328.3" stroke="#262626" stroke-width="1.3"/>
<line x1="1379.6" y1="263.9" x2="1363.3" y2="249.5" stroke="#262626" stroke-width="1.3"/>
<line x1="1379.6" y1="185.1" x2="1363.3" y2="170.7" stroke="#262626" stroke-width="1.3"/>
<line x1="1379.6" y1="106.3" x2="1363.3" y2="91.9" stroke="#262626" stroke-width="1.3"/>
<line x1="1578.3" y1="840.2" x2="1556.7" y2="842.1" stroke="#262626" stroke-width="1.3"/>
<line x1="1462.8" y1="734.2" x2="1441.2" y2="736.1" stroke="#262626" stroke-width="1.3"/>
<line x1="1578.3" y1="840.2" x2="1593.7" y2="854.4" stroke="#262626" stroke-width="1.3"/>
<line x1="1764.2" y1="831.2" x2="1779.6" y2="845.4" stroke="#262626" stroke-width="1.3"/>
<line x1="1950.1" y1="822.1" x2="1965.5" y2="836.3" stroke="#262626" stroke-width="1.3"/>
<line x1="2136" y1="813.1" x2="2151.4" y2="827.3" stroke="#262626" stroke-width="1.3"/>
<line x1="2321.9" y1="804" x2="2337.3" y2="818.2" stroke="#262626" stroke-width="1.3"/>
</g>
<g id="surface" stroke="#000" stroke-width="1.25" stroke-linejoin="round">
<path d="M2221.0 150.2l17.8 -3.4 -4.1 -3.8 -17.8 3.4z" fill="#f8f917"/>
<path d="M2225.2 154.1l17.8 -3.4 -4.2 -3.9 -17.8 3.4z" fill="#f8f917"/>
<path d="M2229.3 157.9l17.8 -3.4 -4.1 -3.8 -17.8 3.4z" fill="#f8f917"/>
<path d="M2233.4 161.7l17.9 -3.4 -4.2 -3.8 -17.8 3.4z" fill="#f8f917"/>
<path d="M2237.6 165.5l17.8 -3.4 -4.1 -3.8 -17.9 3.4z" fill="#f8f917"/>
<path d="M2241.7 169.3l17.8 -3.4 -4.1 -3.8 -17.8 3.4z" fill="#f8f917"/>
<path d="M2245.9 173.2l17.8 -3.4 -4.2 -3.9 -17.8 3.4z" fill="#f8f917"/>
<path d="M2250.0 177.0l17.8 -3.4 -4.1 -3.8 -17.8 3.4z" fill="#f8f917"/>
<path d="M2254.1 180.8l17.9 -3.4 -4.2 -3.8 -17.8 3.4z" fill="#f8f917"/>
<path d="M2258.3 184.6l17.8 -3.4 -4.1 -3.8 -17.9 3.4z" fill="#f8f917"/>
<path d="M2262.4 188.4l17.8 -3.4 -4.1 -3.8 -17.8 3.4z" fill="#f8f917"/>
<path d="M2266.6 192.2l17.8 -3.4 -4.2 -3.8 -17.8 3.4z" fill="#f8f917"/>
<path d="M2270.7 196.1l17.8 -3.5 -4.1 -3.8 -17.8 3.4z" fill="#f8f917"/>
<path d="M2274.8 199.9l17.9 -3.4 -4.2 -3.9 -17.8 3.5z" fill="#f8f917"/>
<path d="M2279.0 203.7l17.8 -3.4 -4.1 -3.8 -17.9 3.4z" fill="#f8f917"/>
<path d="M2283.1 207.5l17.8 -3.4 -4.1 -3.8 -17.8 3.4z" fill="#f8f917"/>
<path d="M2287.3 211.3l17.8 -3.4 -4.2 -3.8 -17.8 3.4z" fill="#f8f917"/>
<path d="M2291.4 215.1l17.8 -3.4 -4.1 -3.8 -17.8 3.4z" fill="#f8f917"/>
<path d="M2295.5 218.9l17.9 -3.4 -4.2 -3.8 -17.8 3.4z" fill="#f8f917"/>
<path d="M2299.7 222.8l17.8 -3.5 -4.1 -3.8 -17.9 3.4z" fill="#f8f917"/>
<path d="M2303.8 226.6l17.8 -3.5 -4.1 -3.8 -17.8 3.5z" fill="#f8f917"/>
<path d="M2308.0 230.4l17.8 -3.4 -4.2 -3.9 -17.8 3.5z" fill="#f8f917"/>
<path d="M2312.1 234.2l17.8 -3.4 -4.1 -3.8 -17.8 3.4z" fill="#f8f917"/>
<path d="M2316.2 238.0l17.9 -3.4 -4.2 -3.8 -17.8 3.4z" fill="#f8f917"/>
<path d="M2320.4 241.8l17.8 -3.4 -4.1 -3.8 -17.9 3.4z" fill="#f8f917"/>
<path d="M2324.5 245.6l17.8 -3.4 -4.1 -3.8 -17.8 3.4z" fill="#f8f917"/>
<path d="M2328.7 249.4l17.8 -3.4 -4.2 -3.8 -17.8 3.4z" fill="#f8f917"/>
<path d="M2332.8 253.2l17.8 -3.4 -4.1 -3.8 -17.8 3.4z" fill="#f8f917"/>
<path d="M2336.9 257.0l17.8 -3.4 -4.1 -3.8 -17.8 3.4z" fill="#f8f917"/>
<path d="M2341.1 260.9l17.8 -3.5 -4.2 -3.8 -17.8 3.4z" fill="#f8f917"/>
<path d="M2345.2 264.7l17.8 -3.5 -4.1 -3.8 -17.8 3.5z" fill="#f8f917"/>
<path d="M2349.4 268.5l17.8 -3.5 -4.2 -3.8 -17.8 3.5z" fill="#f8f917"/>
<path d="M2353.5 272.3l17.8 -3.5 -4.1 -3.8 -17.8 3.5z" fill="#f8f917"/>
<path d="M2357.6 276.1l17.8 -3.4 -4.1 -3.9 -17.8 3.5z" fill="#f8f917"/>
<path d="M2361.8 279.9l17.8 -3.4 -4.2 -3.8 -17.8 3.4z" fill="#f8f917"/>
<path d="M2365.9 283.7l17.8 -3.4 -4.1 -3.8 -17.8 3.4z" fill="#f8f917"/>
<path d="M2370.1 287.5l17.8 -3.4 -4.2 -3.8 -17.8 3.4z" fill="#f8f917"/>
<path d="M2374.2 291.3l17.8 -3.4 -4.1 -3.8 -17.8 3.4z" fill="#f8f917"/>
<path d="M2378.3 295.1l17.8 -3.4 -4.1 -3.8 -17.8 3.4z" fill="#f8f917"/>
<path d="M2382.5 298.9l17.8 -3.4 -4.2 -3.8 -17.8 3.4z" fill="#f8f917"/>
<path d="M2386.6 302.7l17.8 -3.4 -4.1 -3.8 -17.8 3.4z" fill="#f8f917"/>
<path d="M2390.7 306.5l17.9 -3.4 -4.2 -3.8 -17.8 3.4z" fill="#f8f917"/>
<path d="M2394.9 310.3l17.8 -3.4 -4.1 -3.8 -17.9 3.4z" fill="#f8f917"/>
<path d="M2399.0 314.1l17.8 -3.4 -4.1 -3.8 -17.8 3.4z" fill="#f8f917"/>
<path d="M2403.2 317.9l17.8 -3.4 -4.2 -3.8 -17.8 3.4z" fill="#f8f917"/>
<path d="M2407.3 321.7l17.8 -3.4 -4.1 -3.8 -17.8 3.4z" fill="#f8f917"/>
<path d="M2411.4 325.5l17.9 -3.4 -4.2 -3.8 -17.8 3.4z" fill="#f8f917"/>
<path d="M2415.6 329.3l17.8 -3.4 -4.1 -3.8 -17.9 3.4z" fill="#f8f917"/>
<path d="M2203.2 153.8l17.8 -3.6 -4.1 -3.8 -17.8 3.5z" fill="#f8f719"/>
<path d="M2207.4 157.6l17.8 -3.5 -4.2 -3.9 -17.8 3.6z" fill="#f8f719"/>
<path d="M2211.5 161.4l17.8 -3.5 -4.1 -3.8 -17.8 3.5z" fill="#f8f719"/>
<path d="M2215.6 165.2l17.8 -3.5 -4.1 -3.8 -17.8 3.5z" fill="#f8f719"/>
<path d="M2219.8 169.1l17.8 -3.6 -4.2 -3.8 -17.8 3.5z" fill="#f8f719"/>
<path d="M2223.9 172.9l17.8 -3.6 -4.1 -3.8 -17.8 3.6z" fill="#f8f719"/>
<path d="M2228.0 176.7l17.9 -3.5 -4.2 -3.9 -17.8 3.6z" fill="#f8f719"/>
<path d="M2232.2 180.5l17.8 -3.5 -4.1 -3.8 -17.9 3.5z" fill="#f8f719"/>
<path d="M2236.3 184.3l17.8 -3.5 -4.1 -3.8 -17.8 3.5z" fill="#f8f719"/>
<path d="M2240.5 188.1l17.8 -3.5 -4.2 -3.8 -17.8 3.5z" fill="#f8f719"/>
<path d="M2244.6 192.0l17.8 -3.6 -4.1 -3.8 -17.8 3.5z" fill="#f8f719"/>
<path d="M2248.7 195.8l17.9 -3.6 -4.2 -3.8 -17.8 3.6z" fill="#f8f719"/>
<path d="M2252.9 199.6l17.8 -3.5 -4.1 -3.9 -17.9 3.6z" fill="#f8f719"/>
<path d="M2257.0 203.4l17.8 -3.5 -4.1 -3.8 -17.8 3.5z" fill="#f8f719"/>
<path d="M2261.2 207.2l17.8 -3.5 -4.2 -3.8 -17.8 3.5z" fill="#f8f719"/>
<path d="M2265.3 211.0l17.8 -3.5 -4.1 -3.8 -17.8 3.5z" fill="#f8f719"/>
<path d="M2269.4 214.9l17.9 -3.6 -4.2 -3.8 -17.8 3.5z" fill="#f8f719"/>
<path d="M2273.6 218.7l17.8 -3.6 -4.1 -3.8 -17.9 3.6z" fill="#f8f719"/>
<path d="M2277.7 222.5l17.8 -3.6 -4.1 -3.8 -17.8 3.6z" fill="#f8f719"/>
<path d="M2281.9 226.3l17.8 -3.5 -4.2 -3.9 -17.8 3.6z" fill="#f8f719"/>
<path d="M2286.0 230.1l17.8 -3.5 -4.1 -3.8 -17.8 3.5z" fill="#f8f719"/>
<path d="M2290.1 233.9l17.9 -3.5 -4.2 -3.8 -17.8 3.5z" fill="#f8f719"/>
<path d="M2294.3 237.7l17.8 -3.5 -4.1 -3.8 -17.9 3.5z" fill="#f8f719"/>
<path d="M2298.4 241.5l17.8 -3.5 -4.1 -3.8 -17.8 3.5z" fill="#f8f719"/>
<path d="M2302.6 245.4l17.8 -3.6 -4.2 -3.8 -17.8 3.5z" fill="#f8f719"/>
<path d="M2306.7 249.2l17.8 -3.6 -4.1 -3.8 -17.8 3.6z" fill="#f8f719"/>
<path d="M2310.8 253.0l17.9 -3.6 -4.2 -3.8 -17.8 3.6z" fill="#f8f719"/>
<path d="M2315.0 256.8l17.8 -3.6 -4.1 -3.8 -17.9 3.6z" fill="#f8f719"/>
<path d="M2319.1 260.6l17.8 -3.6 -4.1 -3.8 -17.8 3.6z" fill="#f8f719"/>
<path d="M2323.3 264.4l17.8 -3.5 -4.2 -3.9 -17.8 3.6z" fill="#f8f719"/>
<path d="M2327.4 268.2l17.8 -3.5 -4.1 -3.8 -17.8 3.5z" fill="#f8f719"/>
<path d="M2331.5 272.0l17.9 -3.5 -4.2 -3.8 -17.8 3.5z" fill="#f8f719"/>
<path d="M2335.7 275.8l17.8 -3.5 -4.1 -3.8 -17.9 3.5z" fill="#f8f719"/>
<path d="M2339.8 279.6l17.8 -3.5 -4.1 -3.8 -17.8 3.5z" fill="#f8f719"/>
<path d="M2344.0 283.4l17.8 -3.5 -4.2 -3.8 -17.8 3.5z" fill="#f8f719"/>
<path d="M2348.1 287.2l17.8 -3.5 -4.1 -3.8 -17.8 3.5z" fill="#f8f719"/>
<path d="M2352.2 291.1l17.9 -3.6 -4.2 -3.8 -17.8 3.5z" fill="#f8f719"/>
<path d="M2356.4 294.9l17.8 -3.6 -4.1 -3.8 -17.9 3.6z" fill="#f8f719"/>
<path d="M2360.5 298.7l17.8 -3.6 -4.1 -3.8 -17.8 3.6z" fill="#f8f719"/>
<path d="M2364.7 302.5l17.8 -3.6 -4.2 -3.8 -17.8 3.6z" fill="#f8f719"/>
<path d="M2368.8 306.3l17.8 -3.6 -4.1 -3.8 -17.8 3.6z" fill="#f8f719"/>
<path d="M2372.9 310.1l17.8 -3.6 -4.1 -3.8 -17.8 3.6z" fill="#f8f719"/>
<path d="M2377.1 313.9l17.8 -3.6 -4.2 -3.8 -17.8 3.6z" fill="#f8f719"/>
<path d="M2381.2 317.7l17.8 -3.6 -4.1 -3.8 -17.8 3.6z" fill="#f8f719"/>
<path d="M2385.4 321.5l17.8 -3.6 -4.2 -3.8 -17.8 3.6z" fill="#f8f719"/>
<path d="M2389.5 325.3l17.8 -3.6 -4.1 -3.8 -17.8 3.6z" fill="#f8f719"/>
<path d="M2393.6 329.1l17.8 -3.6 -4.1 -3.8 -17.8 3.6z" fill="#f8f719"/>
<path d="M2397.8 332.9l17.8 -3.6 -4.2 -3.8 -17.8 3.6z" fill="#f8f719"/>
<path d="M2185.4 157.4l17.8 -3.6 -4.1 -3.9 -17.8 3.7z" fill="#f7f51b"/>
<path d="M2189.5 161.2l17.9 -3.6 -4.2 -3.8 -17.8 3.6z" fill="#f7f51b"/>
<path d="M2193.7 165.1l17.8 -3.7 -4.1 -3.8 -17.9 3.6z" fill="#f7f51b"/>
<path d="M2197.8 168.9l17.8 -3.7 -4.1 -3.8 -17.8 3.7z" fill="#f7f51b"/>
<path d="M2202.0 172.7l17.8 -3.6 -4.2 -3.9 -17.8 3.7z" fill="#f7f51b"/>
<path d="M2206.1 176.5l17.8 -3.6 -4.1 -3.8 -17.8 3.6z" fill="#f7f51b"/>
<path d="M2210.2 180.4l17.8 -3.7 -4.1 -3.8 -17.8 3.6z" fill="#f7f51b"/>
<path d="M2214.4 184.2l17.8 -3.7 -4.2 -3.8 -17.8 3.7z" fill="#f7f51b"/>
<path d="M2218.5 188.0l17.8 -3.7 -4.1 -3.8 -17.8 3.7z" fill="#f7f51b"/>
<path d="M2222.7 191.8l17.8 -3.7 -4.2 -3.8 -17.8 3.7z" fill="#f7f51b"/>
<path d="M2226.8 195.6l17.8 -3.6 -4.1 -3.9 -17.8 3.7z" fill="#f7f51b"/>
<path d="M2230.9 199.4l17.8 -3.6 -4.1 -3.8 -17.8 3.6z" fill="#f7f51b"/>
<path d="M2235.1 203.3l17.8 -3.7 -4.2 -3.8 -17.8 3.6z" fill="#f7f51b"/>
<path d="M2239.2 207.1l17.8 -3.7 -4.1 -3.8 -17.8 3.7z" fill="#f7f51b"/>
<path d="M2243.4 210.9l17.8 -3.7 -4.2 -3.8 -17.8 3.7z" fill="#f7f51b"/>
<path d="M2247.5 214.7l17.8 -3.7 -4.1 -3.8 -17.8 3.7z" fill="#f7f51b"/>
<path d="M2251.6 218.5l17.8 -3.6 -4.1 -3.9 -17.8 3.7z" fill="#f7f51c"/>
<path d="M2255.8 222.3l17.8 -3.6 -4.2 -3.8 -17.8 3.6z" fill="#f7f51c"/>
<path d="M2259.9 226.2l17.8 -3.7 -4.1 -3.8 -17.8 3.6z" fill="#f7f41c"/>
<path d="M2264.0 230.0l17.9 -3.7 -4.2 -3.8 -17.8 3.7z" fill="#f7f41c"/>
<path d="M2268.2 233.8l17.8 -3.7 -4.1 -3.8 -17.9 3.7z" fill="#f7f41c"/>
<path d="M2272.3 237.6l17.8 -3.7 -4.1 -3.8 -17.8 3.7z" fill="#f7f41c"/>
<path d="M2276.5 241.4l17.8 -3.7 -4.2 -3.8 -17.8 3.7z" fill="#f7f41c"/>
<path d="M2280.6 245.2l17.8 -3.7 -4.1 -3.8 -17.8 3.7z" fill="#f7f41c"/>
<path d="M2284.7 249.0l17.9 -3.6 -4.2 -3.9 -17.8 3.7z" fill="#f7f41c"/>
<path d="M2288.9 252.9l17.8 -3.7 -4.1 -3.8 -17.9 3.6z" fill="#f7f41c"/>
<path d="M2293.0 256.7l17.8 -3.7 -4.1 -3.8 -17.8 3.7z" fill="#f7f41c"/>
<path d="M2297.2 260.5l17.8 -3.7 -4.2 -3.8 -17.8 3.7z" fill="#f7f41c"/>
<path d="M2301.3 264.3l17.8 -3.7 -4.1 -3.8 -17.8 3.7z" fill="#f7f41c"/>
<path d="M2305.4 268.1l17.9 -3.7 -4.2 -3.8 -17.8 3.7z" fill="#f7f41c"/>
<path d="M2309.6 271.9l17.8 -3.7 -4.1 -3.8 -17.9 3.7z" fill="#f7f41c"/>
<path d="M2313.7 275.7l17.8 -3.7 -4.1 -3.8 -17.8 3.7z" fill="#f7f41c"/>
<path d="M2317.9 279.5l17.8 -3.7 -4.2 -3.8 -17.8 3.7z" fill="#f7f41c"/>
<path d="M2322.0 283.3l17.8 -3.7 -4.1 -3.8 -17.8 3.7z" fill="#f7f41c"/>
<path d="M2326.1 287.1l17.9 -3.7 -4.2 -3.8 -17.8 3.7z" fill="#f7f41c"/>
<path d="M2330.3 290.9l17.8 -3.7 -4.1 -3.8 -17.9 3.7z" fill="#f7f41c"/>
<path d="M2334.4 294.7l17.8 -3.6 -4.1 -3.9 -17.8 3.7z" fill="#f7f41c"/>
<path d="M2338.6 298.5l17.8 -3.6 -4.2 -3.8 -17.8 3.6z" fill="#f7f41c"/>
<path d="M2342.7 302.4l17.8 -3.7 -4.1 -3.8 -17.8 3.6z" fill="#f7f41c"/>
<path d="M2346.8 306.2l17.9 -3.7 -4.2 -3.8 -17.8 3.7z" fill="#f7f41c"/>
<path d="M2351.0 310.0l17.8 -3.7 -4.1 -3.8 -17.9 3.7z" fill="#f7f41c"/>
<path d="M2355.1 313.8l17.8 -3.7 -4.1 -3.8 -17.8 3.7z" fill="#f7f41c"/>
<path d="M2359.3 317.6l17.8 -3.7 -4.2 -3.8 -17.8 3.7z" fill="#f7f41c"/>
<path d="M2363.4 321.4l17.8 -3.7 -4.1 -3.8 -17.8 3.7z" fill="#f7f41c"/>
<path d="M2367.5 325.2l17.9 -3.7 -4.2 -3.8 -17.8 3.7z" fill="#f7f41c"/>
<path d="M2371.7 329.0l17.8 -3.7 -4.1 -3.8 -17.9 3.7z" fill="#f7f41c"/>
<path d="M2375.8 332.8l17.8 -3.7 -4.1 -3.8 -17.8 3.7z" fill="#f7f41c"/>
<path d="M2380.0 336.6l17.8 -3.7 -4.2 -3.8 -17.8 3.7z" fill="#f7f41c"/>
<path d="M2167.6 161.2l17.8 -3.8 -4.1 -3.8 -17.9 3.8z" fill="#f6f21d"/>
<path d="M2171.7 165.0l17.8 -3.8 -4.1 -3.8 -17.8 3.8z" fill="#f6f21d"/>
<path d="M2175.9 168.9l17.8 -3.8 -4.2 -3.9 -17.8 3.8z" fill="#f6f21d"/>
<path d="M2180.0 172.7l17.8 -3.8 -4.1 -3.8 -17.8 3.8z" fill="#f6f21d"/>
<path d="M2184.1 176.5l17.9 -3.8 -4.2 -3.8 -17.8 3.8z" fill="#f6f21d"/>
<path d="M2188.3 180.3l17.8 -3.8 -4.1 -3.8 -17.9 3.8z" fill="#f6f21d"/>
<path d="M2192.4 184.1l17.8 -3.7 -4.1 -3.9 -17.8 3.8z" fill="#f6f21d"/>
<path d="M2196.6 188.0l17.8 -3.8 -4.2 -3.8 -17.8 3.7z" fill="#f6f21d"/>
<path d="M2200.7 191.8l17.8 -3.8 -4.1 -3.8 -17.8 3.8z" fill="#f6f21d"/>
<path d="M2204.8 195.6l17.9 -3.8 -4.2 -3.8 -17.8 3.8z" fill="#f6f21d"/>
<path d="M2209.0 199.4l17.8 -3.8 -4.1 -3.8 -17.9 3.8z" fill="#f6f21d"/>
<path d="M2213.1 203.3l17.8 -3.9 -4.1 -3.8 -17.8 3.8z" fill="#f6f21d"/>
<path d="M2217.3 207.1l17.8 -3.8 -4.2 -3.9 -17.8 3.9z" fill="#f6f21d"/>
<path d="M2221.4 210.9l17.8 -3.8 -4.1 -3.8 -17.8 3.8z" fill="#f6f21d"/>
<path d="M2225.5 214.7l17.9 -3.8 -4.2 -3.8 -17.8 3.8z" fill="#f6f21d"/>
<path d="M2229.7 218.5l17.8 -3.8 -4.1 -3.8 -17.9 3.8z" fill="#f6f21d"/>
<path d="M2233.8 222.3l17.8 -3.8 -4.1 -3.8 -17.8 3.8z" fill="#f6f21d"/>
<path d="M2238.0 226.2l17.8 -3.9 -4.2 -3.8 -17.8 3.8z" fill="#f6f21d"/>
<path d="M2242.1 230.0l17.8 -3.8 -4.1 -3.9 -17.8 3.9z" fill="#f6f21e"/>
<path d="M2246.2 233.8l17.8 -3.8 -4.1 -3.8 -17.8 3.8z" fill="#f6f21e"/>
<path d="M2250.4 237.6l17.8 -3.8 -4.2 -3.8 -17.8 3.8z" fill="#f6f21e"/>
<path d="M2254.5 241.4l17.8 -3.8 -4.1 -3.8 -17.8 3.8z" fill="#f6f21e"/>
<path d="M2258.7 245.2l17.8 -3.8 -4.2 -3.8 -17.8 3.8z" fill="#f6f21e"/>
<path d="M2262.8 249.0l17.8 -3.8 -4.1 -3.8 -17.8 3.8z" fill="#f6f21e"/>
<path d="M2266.9 252.9l17.8 -3.9 -4.1 -3.8 -17.8 3.8z" fill="#f6f21e"/>
<path d="M2271.1 256.7l17.8 -3.8 -4.2 -3.9 -17.8 3.9z" fill="#f6f21e"/>
<path d="M2275.2 260.5l17.8 -3.8 -4.1 -3.8 -17.8 3.8z" fill="#f6f21e"/>
<path d="M2279.3 264.3l17.9 -3.8 -4.2 -3.8 -17.8 3.8z" fill="#f6f21e"/>
<path d="M2283.5 268.1l17.8 -3.8 -4.1 -3.8 -17.9 3.8z" fill="#f6f21e"/>
<path d="M2287.6 271.9l17.8 -3.8 -4.1 -3.8 -17.8 3.8z" fill="#f6f21e"/>
<path d="M2291.8 275.7l17.8 -3.8 -4.2 -3.8 -17.8 3.8z" fill="#f6f21e"/>
<path d="M2295.9 279.5l17.8 -3.8 -4.1 -3.8 -17.8 3.8z" fill="#f6f21e"/>
<path d="M2300.0 283.3l17.9 -3.8 -4.2 -3.8 -17.8 3.8z" fill="#f6f21e"/>
<path d="M2304.2 287.1l17.8 -3.8 -4.1 -3.8 -17.9 3.8z" fill="#f6f21e"/>
<path d="M2308.3 291.0l17.8 -3.9 -4.1 -3.8 -17.8 3.8z" fill="#f6f21e"/>
<path d="M2312.5 294.8l17.8 -3.9 -4.2 -3.8 -17.8 3.9z" fill="#f6f21e"/>
<path d="M2316.6 298.6l17.8 -3.9 -4.1 -3.8 -17.8 3.9z" fill="#f6f21e"/>
<path d="M2320.7 302.4l17.9 -3.9 -4.2 -3.8 -17.8 3.9z" fill="#f6f21e"/>
<path d="M2324.9 306.2l17.8 -3.8 -4.1 -3.9 -17.9 3.9z" fill="#f6f21e"/>
<path d="M2329.0 310.0l17.8 -3.8 -4.1 -3.8 -17.8 3.8z" fill="#f6f21e"/>
<path d="M2333.2 313.8l17.8 -3.8 -4.2 -3.8 -17.8 3.8z" fill="#f6f21e"/>
<path d="M2337.3 317.6l17.8 -3.8 -4.1 -3.8 -17.8 3.8z" fill="#f6f21e"/>
<path d="M2341.4 321.4l17.9 -3.8 -4.2 -3.8 -17.8 3.8z" fill="#f6f21e"/>
<path d="M2345.6 325.2l17.8 -3.8 -4.1 -3.8 -17.9 3.8z" fill="#f6f21e"/>
<path d="M2349.7 329.0l17.8 -3.8 -4.1 -3.8 -17.8 3.8z" fill="#f6f21e"/>
<path d="M2353.9 332.8l17.8 -3.8 -4.2 -3.8 -17.8 3.8z" fill="#f6f21e"/>
<path d="M2358.0 336.6l17.8 -3.8 -4.1 -3.8 -17.8 3.8z" fill="#f6f21e"/>
<path d="M2362.1 340.4l17.9 -3.8 -4.2 -3.8 -17.8 3.8z" fill="#f6f21e"/>
<path d="M2149.8 165.1l17.8 -3.9 -4.2 -3.8 -17.8 3.9z" fill="#f6f01f"/>
<path d="M2153.9 169.0l17.8 -4 -4.1 -3.8 -17.8 3.9z" fill="#f6f01f"/>
<path d="M2158.0 172.8l17.9 -3.9 -4.2 -3.9 -17.8 4z" fill="#f6f01f"/>
<path d="M2162.2 176.6l17.8 -3.9 -4.1 -3.8 -17.9 3.9z" fill="#f6f01f"/>
<path d="M2166.3 180.4l17.8 -3.9 -4.1 -3.8 -17.8 3.9z" fill="#f6f01f"/>
<path d="M2170.5 184.3l17.8 -4 -4.2 -3.8 -17.8 3.9z" fill="#f6f01f"/>
<path d="M2174.6 188.1l17.8 -4 -4.1 -3.8 -17.8 4z" fill="#f6f01f"/>
<path d="M2178.7 191.9l17.9 -3.9 -4.2 -3.9 -17.8 4z" fill="#f6f01f"/>
<path d="M2182.9 195.7l17.8 -3.9 -4.1 -3.8 -17.9 3.9z" fill="#f6f01f"/>
<path d="M2187.0 199.6l17.8 -4 -4.1 -3.8 -17.8 3.9z" fill="#f6f01f"/>
<path d="M2191.2 203.4l17.8 -4 -4.2 -3.8 -17.8 4z" fill="#f6f01f"/>
<path d="M2195.3 207.2l17.8 -3.9 -4.1 -3.9 -17.8 4z" fill="#f6f01f"/>
<path d="M2199.4 211.0l17.9 -3.9 -4.2 -3.8 -17.8 3.9z" fill="#f6f020"/>
<path d="M2203.6 214.8l17.8 -3.9 -4.1 -3.8 -17.9 3.9z" fill="#f6f020"/>
<path d="M2207.7 218.7l17.8 -4 -4.1 -3.8 -17.8 3.9z" fill="#f6f020"/>
<path d="M2211.9 222.5l17.8 -4 -4.2 -3.8 -17.8 4z" fill="#f6f020"/>
<path d="M2216.0 226.3l17.8 -4 -4.1 -3.8 -17.8 4z" fill="#f6f020"/>
<path d="M2220.1 230.1l17.9 -3.9 -4.2 -3.9 -17.8 4z" fill="#f6f020"/>
<path d="M2224.3 233.9l17.8 -3.9 -4.1 -3.8 -17.9 3.9z" fill="#f6f020"/>
<path d="M2228.4 237.7l17.8 -3.9 -4.1 -3.8 -17.8 3.9z" fill="#f6f020"/>
<path d="M2232.6 241.6l17.8 -4 -4.2 -3.8 -17.8 3.9z" fill="#f6f020"/>
<path d="M2236.7 245.4l17.8 -4 -4.1 -3.8 -17.8 4z" fill="#f6f020"/>
<path d="M2240.8 249.2l17.9 -4 -4.2 -3.8 -17.8 4z" fill="#f6f020"/>
<path d="M2245.0 253.0l17.8 -4 -4.1 -3.8 -17.9 4z" fill="#f6f020"/>
<path d="M2249.1 256.8l17.8 -3.9 -4.1 -3.9 -17.8 4z" fill="#f6f020"/>
<path d="M2253.3 260.6l17.8 -3.9 -4.2 -3.8 -17.8 3.9z" fill="#f6f020"/>
<path d="M2257.4 264.4l17.8 -3.9 -4.1 -3.8 -17.8 3.9z" fill="#f6f020"/>
<path d="M2261.5 268.3l17.8 -4 -4.1 -3.8 -17.8 3.9z" fill="#f6f020"/>
<path d="M2265.7 272.1l17.8 -4 -4.2 -3.8 -17.8 4z" fill="#f6f020"/>
<path d="M2269.8 275.9l17.8 -4 -4.1 -3.8 -17.8 4z" fill="#f6f020"/>
<path d="M2274.0 279.7l17.8 -4 -4.2 -3.8 -17.8 4z" fill="#f6f020"/>
<path d="M2278.1 283.5l17.8 -4 -4.1 -3.8 -17.8 4z" fill="#f6f020"/>
<path d="M2282.2 287.3l17.8 -4 -4.1 -3.8 -17.8 4z" fill="#f6f020"/>
<path d="M2286.4 291.1l17.8 -4 -4.2 -3.8 -17.8 4z" fill="#f6f020"/>
<path d="M2290.5 294.9l17.8 -3.9 -4.1 -3.9 -17.8 4z" fill="#f6f020"/>
<path d="M2294.7 298.7l17.8 -3.9 -4.2 -3.8 -17.8 3.9z" fill="#f6f020"/>
<path d="M2298.8 302.5l17.8 -3.9 -4.1 -3.8 -17.8 3.9z" fill="#f6f020"/>
<path d="M2302.9 306.3l17.8 -3.9 -4.1 -3.8 -17.8 3.9z" fill="#f6f020"/>
<path d="M2307.1 310.1l17.8 -3.9 -4.2 -3.8 -17.8 3.9z" fill="#f6f020"/>
<path d="M2311.2 314.0l17.8 -4 -4.1 -3.8 -17.8 3.9z" fill="#f6f020"/>
<path d="M2315.4 317.8l17.8 -4 -4.2 -3.8 -17.8 4z" fill="#f6f020"/>
<path d="M2319.5 321.6l17.8 -4 -4.1 -3.8 -17.8 4z" fill="#f6f020"/>
<path d="M2323.6 325.4l17.8 -4 -4.1 -3.8 -17.8 4z" fill="#f6f020"/>
<path d="M2327.8 329.2l17.8 -4 -4.2 -3.8 -17.8 4z" fill="#f6f020"/>
<path d="M2331.9 333.0l17.8 -4 -4.1 -3.8 -17.8 4z" fill="#f6f020"/>
<path d="M2336.0 336.8l17.9 -4 -4.2 -3.8 -17.8 4z" fill="#f6f020"/>
<path d="M2340.2 340.6l17.8 -4 -4.1 -3.8 -17.9 4z" fill="#f6f020"/>
<path d="M2344.3 344.4l17.8 -4 -4.1 -3.8 -17.8 4z" fill="#f6f020"/>
<path d="M2132.0 169.2l17.8 -4.1 -4.2 -3.8 -17.8 4.1z" fill="#f5ee21"/>
<path d="M2136.1 173.0l17.8 -4 -4.1 -3.9 -17.8 4.1z" fill="#f5ee21"/>
<path d="M2140.2 176.9l17.8 -4.1 -4.1 -3.8 -17.8 4z" fill="#f5ee21"/>
<path d="M2144.4 180.7l17.8 -4.1 -4.2 -3.8 -17.8 4.1z" fill="#f5ee21"/>
<path d="M2148.5 184.5l17.8 -4.1 -4.1 -3.8 -17.8 4.1z" fill="#f5ed21"/>
<path d="M2152.6 188.4l17.9 -4.1 -4.2 -3.9 -17.8 4.1z" fill="#f5ed21"/>
<path d="M2156.8 192.2l17.8 -4.1 -4.1 -3.8 -17.9 4.1z" fill="#f5ed21"/>
<path d="M2160.9 196.0l17.8 -4.1 -4.1 -3.8 -17.8 4.1z" fill="#f5ed21"/>
<path d="M2165.1 199.8l17.8 -4.1 -4.2 -3.8 -17.8 4.1z" fill="#f5ed21"/>
<path d="M2169.2 203.7l17.8 -4.1 -4.1 -3.9 -17.8 4.1z" fill="#f5ed21"/>
<path d="M2173.3 207.5l17.9 -4.1 -4.2 -3.8 -17.8 4.1z" fill="#f5ed21"/>
<path d="M2177.5 211.3l17.8 -4.1 -4.1 -3.8 -17.9 4.1z" fill="#f5ed21"/>
<path d="M2181.6 215.1l17.8 -4.1 -4.1 -3.8 -17.8 4.1z" fill="#f5ed21"/>
<path d="M2185.8 218.9l17.8 -4.1 -4.2 -3.8 -17.8 4.1z" fill="#f5ed21"/>
<path d="M2189.9 222.8l17.8 -4.1 -4.1 -3.9 -17.8 4.1z" fill="#f5ed21"/>
<path d="M2194.0 226.6l17.9 -4.1 -4.2 -3.8 -17.8 4.1z" fill="#f5ed21"/>
<path d="M2198.2 230.4l17.8 -4.1 -4.1 -3.8 -17.9 4.1z" fill="#f5ed21"/>
<path d="M2202.3 234.2l17.8 -4.1 -4.1 -3.8 -17.8 4.1z" fill="#f5ed21"/>
<path d="M2206.5 238.0l17.8 -4.1 -4.2 -3.8 -17.8 4.1z" fill="#f5ed21"/>
<path d="M2210.6 241.9l17.8 -4.2 -4.1 -3.8 -17.8 4.1z" fill="#f5ed21"/>
<path d="M2214.7 245.7l17.9 -4.1 -4.2 -3.9 -17.8 4.2z" fill="#f5ed21"/>
<path d="M2218.9 249.5l17.8 -4.1 -4.1 -3.8 -17.9 4.1z" fill="#f5ed21"/>
<path d="M2223.0 253.3l17.8 -4.1 -4.1 -3.8 -17.8 4.1z" fill="#f5ed21"/>
<path d="M2227.2 257.1l17.8 -4.1 -4.2 -3.8 -17.8 4.1z" fill="#f5ed21"/>
<path d="M2231.3 260.9l17.8 -4.1 -4.1 -3.8 -17.8 4.1z" fill="#f5ed21"/>
<path d="M2235.4 264.7l17.9 -4.1 -4.2 -3.8 -17.8 4.1z" fill="#f5ed21"/>
<path d="M2239.6 268.6l17.8 -4.2 -4.1 -3.8 -17.9 4.1z" fill="#f5ed21"/>
<path d="M2243.7 272.4l17.8 -4.1 -4.1 -3.9 -17.8 4.2z" fill="#f5ed22"/>
<path d="M2247.9 276.2l17.8 -4.1 -4.2 -3.8 -17.8 4.1z" fill="#f5ed22"/>
<path d="M2252.0 280.0l17.8 -4.1 -4.1 -3.8 -17.8 4.1z" fill="#f5ed22"/>
<path d="M2256.1 283.8l17.9 -4.1 -4.2 -3.8 -17.8 4.1z" fill="#f5ed22"/>
<path d="M2260.3 287.6l17.8 -4.1 -4.1 -3.8 -17.9 4.1z" fill="#f5ed22"/>
<path d="M2264.4 291.4l17.8 -4.1 -4.1 -3.8 -17.8 4.1z" fill="#f5ed22"/>
<path d="M2268.6 295.2l17.8 -4.1 -4.2 -3.8 -17.8 4.1z" fill="#f5ed22"/>
<path d="M2272.7 299.0l17.8 -4.1 -4.1 -3.8 -17.8 4.1z" fill="#f5ed22"/>
<path d="M2276.8 302.9l17.9 -4.2 -4.2 -3.8 -17.8 4.1z" fill="#f5ed22"/>
<path d="M2281.0 306.7l17.8 -4.2 -4.1 -3.8 -17.9 4.2z" fill="#f5ed22"/>
<path d="M2285.1 310.5l17.8 -4.2 -4.1 -3.8 -17.8 4.2z" fill="#f5ed22"/>
<path d="M2289.3 314.3l17.8 -4.2 -4.2 -3.8 -17.8 4.2z" fill="#f5ed22"/>
<path d="M2293.4 318.1l17.8 -4.1 -4.1 -3.9 -17.8 4.2z" fill="#f5ed22"/>
<path d="M2297.5 321.9l17.9 -4.1 -4.2 -3.8 -17.8 4.1z" fill="#f5ed22"/>
<path d="M2301.7 325.7l17.8 -4.1 -4.1 -3.8 -17.9 4.1z" fill="#f5ed22"/>
<path d="M2305.8 329.5l17.8 -4.1 -4.1 -3.8 -17.8 4.1z" fill="#f5ed22"/>
<path d="M2310.0 333.3l17.8 -4.1 -4.2 -3.8 -17.8 4.1z" fill="#f5ed22"/>
<path d="M2314.1 337.1l17.8 -4.1 -4.1 -3.8 -17.8 4.1z" fill="#f5ed22"/>
<path d="M2318.2 340.9l17.8 -4.1 -4.1 -3.8 -17.8 4.1z" fill="#f5ed22"/>
<path d="M2322.4 344.7l17.8 -4.1 -4.2 -3.8 -17.8 4.1z" fill="#f5ed22"/>
<path d="M2326.5 348.5l17.8 -4.1 -4.1 -3.8 -17.8 4.1z" fill="#f5ed22"/>
<path d="M2114.1 173.5l17.9 -4.3 -4.2 -3.8 -17.8 4.2z" fill="#f5eb23"/>
<path d="M2118.3 177.3l17.8 -4.3 -4.1 -3.8 -17.9 4.3z" fill="#f5eb23"/>
<path d="M2122.4 181.1l17.8 -4.2 -4.1 -3.9 -17.8 4.3z" fill="#f5eb23"/>
<path d="M2126.6 184.9l17.8 -4.2 -4.2 -3.8 -17.8 4.2z" fill="#f5eb23"/>
<path d="M2130.7 188.8l17.8 -4.3 -4.1 -3.8 -17.8 4.2z" fill="#f5eb23"/>
<path d="M2134.8 192.6l17.8 -4.2 -4.1 -3.9 -17.8 4.3z" fill="#f5eb23"/>
<path d="M2139.0 196.4l17.8 -4.2 -4.2 -3.8 -17.8 4.2z" fill="#f5eb23"/>
<path d="M2143.1 200.3l17.8 -4.3 -4.1 -3.8 -17.8 4.2z" fill="#f5eb23"/>
<path d="M2147.3 204.1l17.8 -4.3 -4.2 -3.8 -17.8 4.3z" fill="#f5eb23"/>
<path d="M2151.4 207.9l17.8 -4.2 -4.1 -3.9 -17.8 4.3z" fill="#f5eb23"/>
<path d="M2155.5 211.7l17.8 -4.2 -4.1 -3.8 -17.8 4.2z" fill="#f5eb23"/>
<path d="M2159.7 215.6l17.8 -4.3 -4.2 -3.8 -17.8 4.2z" fill="#f5eb23"/>
<path d="M2163.8 219.4l17.8 -4.3 -4.1 -3.8 -17.8 4.3z" fill="#f5eb23"/>
<path d="M2168.0 223.2l17.8 -4.3 -4.2 -3.8 -17.8 4.3z" fill="#f5eb23"/>
<path d="M2172.1 227.0l17.8 -4.2 -4.1 -3.9 -17.8 4.3z" fill="#f5eb23"/>
<path d="M2176.2 230.8l17.8 -4.2 -4.1 -3.8 -17.8 4.2z" fill="#f5eb23"/>
<path d="M2180.4 234.7l17.8 -4.3 -4.2 -3.8 -17.8 4.2z" fill="#f5eb23"/>
<path d="M2184.5 238.5l17.8 -4.3 -4.1 -3.8 -17.8 4.3z" fill="#f5eb23"/>
<path d="M2188.6 242.3l17.9 -4.3 -4.2 -3.8 -17.8 4.3z" fill="#f5eb23"/>
<path d="M2192.8 246.1l17.8 -4.2 -4.1 -3.9 -17.9 4.3z" fill="#f5eb23"/>
<path d="M2196.9 249.9l17.8 -4.2 -4.1 -3.8 -17.8 4.2z" fill="#f5eb23"/>
<path d="M2201.1 253.8l17.8 -4.3 -4.2 -3.8 -17.8 4.2z" fill="#f5ea23"/>
<path d="M2205.2 257.6l17.8 -4.3 -4.1 -3.8 -17.8 4.3z" fill="#f5ea23"/>
<path d="M2209.3 261.4l17.9 -4.3 -4.2 -3.8 -17.8 4.3z" fill="#f5ea23"/>
<path d="M2213.5 265.2l17.8 -4.3 -4.1 -3.8 -17.9 4.3z" fill="#f5ea23"/>
<path d="M2217.6 269.0l17.8 -4.3 -4.1 -3.8 -17.8 4.3z" fill="#f5ea23"/>
<path d="M2221.8 272.8l17.8 -4.2 -4.2 -3.9 -17.8 4.3z" fill="#f5ea23"/>
<path d="M2225.9 276.7l17.8 -4.3 -4.1 -3.8 -17.8 4.2z" fill="#f5ea23"/>
<path d="M2230.0 280.5l17.9 -4.3 -4.2 -3.8 -17.8 4.3z" fill="#f5ea23"/>
<path d="M2234.2 284.3l17.8 -4.3 -4.1 -3.8 -17.9 4.3z" fill="#f5ea23"/>
<path d="M2238.3 288.1l17.8 -4.3 -4.1 -3.8 -17.8 4.3z" fill="#f5ea23"/>
<path d="M2242.5 291.9l17.8 -4.3 -4.2 -3.8 -17.8 4.3z" fill="#f5ea23"/>
<path d="M2246.6 295.7l17.8 -4.3 -4.1 -3.8 -17.8 4.3z" fill="#f5ea23"/>
<path d="M2250.7 299.5l17.9 -4.3 -4.2 -3.8 -17.8 4.3z" fill="#f5ea23"/>
<path d="M2254.9 303.3l17.8 -4.3 -4.1 -3.8 -17.9 4.3z" fill="#f5ea23"/>
<path d="M2259.0 307.1l17.8 -4.2 -4.1 -3.9 -17.8 4.3z" fill="#f5ea23"/>
<path d="M2263.2 310.9l17.8 -4.2 -4.2 -3.8 -17.8 4.2z" fill="#f5ea23"/>
<path d="M2267.3 314.8l17.8 -4.3 -4.1 -3.8 -17.8 4.2z" fill="#f5ea23"/>
<path d="M2271.4 318.6l17.9 -4.3 -4.2 -3.8 -17.8 4.3z" fill="#f5ea23"/>
<path d="M2275.6 322.4l17.8 -4.3 -4.1 -3.8 -17.9 4.3z" fill="#f5ea23"/>
<path d="M2279.7 326.2l17.8 -4.3 -4.1 -3.8 -17.8 4.3z" fill="#f5ea23"/>
<path d="M2283.9 330.0l17.8 -4.3 -4.2 -3.8 -17.8 4.3z" fill="#f5ea23"/>
<path d="M2288.0 333.8l17.8 -4.3 -4.1 -3.8 -17.8 4.3z" fill="#f5ea23"/>
<path d="M2292.1 337.6l17.9 -4.3 -4.2 -3.8 -17.8 4.3z" fill="#f5ea23"/>
<path d="M2296.3 341.4l17.8 -4.3 -4.1 -3.8 -17.9 4.3z" fill="#f5ea23"/>
<path d="M2300.4 345.2l17.8 -4.3 -4.1 -3.8 -17.8 4.3z" fill="#f5ea23"/>
<path d="M2304.6 349.0l17.8 -4.3 -4.2 -3.8 -17.8 4.3z" fill="#f5ea23"/>
<path d="M2308.7 352.8l17.8 -4.3 -4.1 -3.8 -17.8 4.3z" fill="#f5ea23"/>
<path d="M2096.3 177.8l17.8 -4.3 -4.1 -3.9 -17.8 4.4z" fill="#f5e825"/>
<path d="M2100.5 181.7l17.8 -4.4 -4.2 -3.8 -17.8 4.3z" fill="#f5e825"/>
<path d="M2104.6 185.5l17.8 -4.4 -4.1 -3.8 -17.8 4.4z" fill="#f5e825"/>
<path d="M2108.7 189.3l17.9 -4.4 -4.2 -3.8 -17.8 4.4z" fill="#f5e825"/>
<path d="M2112.9 193.2l17.8 -4.4 -4.1 -3.9 -17.9 4.4z" fill="#f5e825"/>
<path d="M2117.0 197.0l17.8 -4.4 -4.1 -3.8 -17.8 4.4z" fill="#f5e825"/>
<path d="M2121.2 200.8l17.8 -4.4 -4.2 -3.8 -17.8 4.4z" fill="#f5e825"/>
<path d="M2125.3 204.7l17.8 -4.4 -4.1 -3.9 -17.8 4.4z" fill="#f5e825"/>
<path d="M2129.4 208.5l17.9 -4.4 -4.2 -3.8 -17.8 4.4z" fill="#f5e825"/>
<path d="M2133.6 212.3l17.8 -4.4 -4.1 -3.8 -17.9 4.4z" fill="#f5e825"/>
<path d="M2137.7 216.1l17.8 -4.4 -4.1 -3.8 -17.8 4.4z" fill="#f5e825"/>
<path d="M2141.9 220.0l17.8 -4.4 -4.2 -3.9 -17.8 4.4z" fill="#f5e825"/>
<path d="M2146.0 223.8l17.8 -4.4 -4.1 -3.8 -17.8 4.4z" fill="#f5e825"/>
<path d="M2150.1 227.6l17.9 -4.4 -4.2 -3.8 -17.8 4.4z" fill="#f5e825"/>
<path d="M2154.3 231.4l17.8 -4.4 -4.1 -3.8 -17.9 4.4z" fill="#f5e825"/>
<path d="M2158.4 235.3l17.8 -4.5 -4.1 -3.8 -17.8 4.4z" fill="#f5e825"/>
<path d="M2162.6 239.1l17.8 -4.4 -4.2 -3.9 -17.8 4.5z" fill="#f5e825"/>
<path d="M2166.7 242.9l17.8 -4.4 -4.1 -3.8 -17.8 4.4z" fill="#f5e825"/>
<path d="M2170.8 246.7l17.8 -4.4 -4.1 -3.8 -17.8 4.4z" fill="#f5e825"/>
<path d="M2175.0 250.6l17.8 -4.5 -4.2 -3.8 -17.8 4.4z" fill="#f5e825"/>
<path d="M2179.1 254.4l17.8 -4.5 -4.1 -3.8 -17.8 4.5z" fill="#f5e825"/>
<path d="M2183.3 258.2l17.8 -4.4 -4.2 -3.9 -17.8 4.5z" fill="#f5e825"/>
<path d="M2187.4 262.0l17.8 -4.4 -4.1 -3.8 -17.8 4.4z" fill="#f5e825"/>
<path d="M2191.5 265.8l17.8 -4.4 -4.1 -3.8 -17.8 4.4z" fill="#f5e825"/>
<path d="M2195.7 269.6l17.8 -4.4 -4.2 -3.8 -17.8 4.4z" fill="#f5e825"/>
<path d="M2199.8 273.5l17.8 -4.5 -4.1 -3.8 -17.8 4.4z" fill="#f5e825"/>
<path d="M2204.0 277.3l17.8 -4.5 -4.2 -3.8 -17.8 4.5z" fill="#f5e825"/>
<path d="M2208.1 281.1l17.8 -4.4 -4.1 -3.9 -17.8 4.5z" fill="#f5e825"/>
<path d="M2212.2 284.9l17.8 -4.4 -4.1 -3.8 -17.8 4.4z" fill="#f5e825"/>
<path d="M2216.4 288.7l17.8 -4.4 -4.2 -3.8 -17.8 4.4z" fill="#f5e825"/>
<path d="M2220.5 292.5l17.8 -4.4 -4.1 -3.8 -17.8 4.4z" fill="#f5e825"/>
<path d="M2224.7 296.3l17.8 -4.4 -4.2 -3.8 -17.8 4.4z" fill="#f5e725"/>
<path d="M2228.8 300.2l17.8 -4.5 -4.1 -3.8 -17.8 4.4z" fill="#f5e725"/>
<path d="M2232.9 304.0l17.8 -4.5 -4.1 -3.8 -17.8 4.5z" fill="#f5e725"/>
<path d="M2237.1 307.8l17.8 -4.5 -4.2 -3.8 -17.8 4.5z" fill="#f5e725"/>
<path d="M2241.2 311.6l17.8 -4.5 -4.1 -3.8 -17.8 4.5z" fill="#f5e725"/>
<path d="M2245.3 315.4l17.9 -4.5 -4.2 -3.8 -17.8 4.5z" fill="#f5e725"/>
<path d="M2249.5 319.2l17.8 -4.4 -4.1 -3.9 -17.9 4.5z" fill="#f5e725"/>
<path d="M2253.6 323.0l17.8 -4.4 -4.1 -3.8 -17.8 4.4z" fill="#f5e725"/>
<path d="M2257.8 326.8l17.8 -4.4 -4.2 -3.8 -17.8 4.4z" fill="#f5e725"/>
<path d="M2261.9 330.6l17.8 -4.4 -4.1 -3.8 -17.8 4.4z" fill="#f5e725"/>
<path d="M2266.0 334.4l17.9 -4.4 -4.2 -3.8 -17.8 4.4z" fill="#f5e725"/>
<path d="M2270.2 338.2l17.8 -4.4 -4.1 -3.8 -17.9 4.4z" fill="#f5e725"/>
<path d="M2274.3 342.0l17.8 -4.4 -4.1 -3.8 -17.8 4.4z" fill="#f5e725"/>
<path d="M2278.5 345.8l17.8 -4.4 -4.2 -3.8 -17.8 4.4z" fill="#f5e725"/>
<path d="M2282.6 349.6l17.8 -4.4 -4.1 -3.8 -17.8 4.4z" fill="#f5e725"/>
<path d="M2286.7 353.4l17.9 -4.4 -4.2 -3.8 -17.8 4.4z" fill="#f5e725"/>
<path d="M2290.9 357.2l17.8 -4.4 -4.1 -3.8 -17.9 4.4z" fill="#f5e725"/>
<path d="M2078.5 182.4l17.8 -4.6 -4.1 -3.8 -17.8 4.6z" fill="#f5e526"/>
<path d="M2082.6 186.3l17.9 -4.6 -4.2 -3.9 -17.8 4.6z" fill="#f5e526"/>
<path d="M2086.8 190.1l17.8 -4.6 -4.1 -3.8 -17.9 4.6z" fill="#f5e526"/>
<path d="M2090.9 193.9l17.8 -4.6 -4.1 -3.8 -17.8 4.6z" fill="#f5e526"/>
<path d="M2095.1 197.8l17.8 -4.6 -4.2 -3.9 -17.8 4.6z" fill="#f5e526"/>
<path d="M2099.2 201.6l17.8 -4.6 -4.1 -3.8 -17.8 4.6z" fill="#f5e526"/>
<path d="M2103.3 205.4l17.9 -4.6 -4.2 -3.8 -17.8 4.6z" fill="#f5e526"/>
<path d="M2107.5 209.3l17.8 -4.6 -4.1 -3.9 -17.9 4.6z" fill="#f5e526"/>
<path d="M2111.6 213.1l17.8 -4.6 -4.1 -3.8 -17.8 4.6z" fill="#f5e526"/>
<path d="M2115.8 216.9l17.8 -4.6 -4.2 -3.8 -17.8 4.6z" fill="#f5e526"/>
<path d="M2119.9 220.7l17.8 -4.6 -4.1 -3.8 -17.8 4.6z" fill="#f5e526"/>
<path d="M2124.0 224.6l17.9 -4.6 -4.2 -3.9 -17.8 4.6z" fill="#f5e526"/>
<path d="M2128.2 228.4l17.8 -4.6 -4.1 -3.8 -17.9 4.6z" fill="#f5e526"/>
<path d="M2132.3 232.2l17.8 -4.6 -4.1 -3.8 -17.8 4.6z" fill="#f5e526"/>
<path d="M2136.5 236.0l17.8 -4.6 -4.2 -3.8 -17.8 4.6z" fill="#f5e526"/>
<path d="M2140.6 239.9l17.8 -4.6 -4.1 -3.9 -17.8 4.6z" fill="#f5e526"/>
<path d="M2144.7 243.7l17.9 -4.6 -4.2 -3.8 -17.8 4.6z" fill="#f5e526"/>
<path d="M2148.9 247.5l17.8 -4.6 -4.1 -3.8 -17.9 4.6z" fill="#f5e526"/>
<path d="M2153.0 251.3l17.8 -4.6 -4.1 -3.8 -17.8 4.6z" fill="#f5e526"/>
<path d="M2157.2 255.2l17.8 -4.6 -4.2 -3.9 -17.8 4.6z" fill="#f5e526"/>
<path d="M2161.3 259.0l17.8 -4.6 -4.1 -3.8 -17.8 4.6z" fill="#f5e526"/>
<path d="M2165.4 262.8l17.9 -4.6 -4.2 -3.8 -17.8 4.6z" fill="#f5e526"/>
<path d="M2169.6 266.6l17.8 -4.6 -4.1 -3.8 -17.9 4.6z" fill="#f5e526"/>
<path d="M2173.7 270.4l17.8 -4.6 -4.1 -3.8 -17.8 4.6z" fill="#f5e526"/>
<path d="M2177.9 274.3l17.8 -4.7 -4.2 -3.8 -17.8 4.6z" fill="#f5e526"/>
<path d="M2182.0 278.1l17.8 -4.6 -4.1 -3.9 -17.8 4.7z" fill="#f5e426"/>
<path d="M2186.1 281.9l17.9 -4.6 -4.2 -3.8 -17.8 4.6z" fill="#f5e426"/>
<path d="M2190.3 285.7l17.8 -4.6 -4.1 -3.8 -17.9 4.6z" fill="#f5e426"/>
<path d="M2194.4 289.5l17.8 -4.6 -4.1 -3.8 -17.8 4.6z" fill="#f5e426"/>
<path d="M2198.6 293.3l17.8 -4.6 -4.2 -3.8 -17.8 4.6z" fill="#f5e426"/>
<path d="M2202.7 297.2l17.8 -4.7 -4.1 -3.8 -17.8 4.6z" fill="#f5e426"/>
<path d="M2206.8 301.0l17.9 -4.7 -4.2 -3.8 -17.8 4.7z" fill="#f5e426"/>
<path d="M2211.0 304.8l17.8 -4.6 -4.1 -3.9 -17.9 4.7z" fill="#f5e426"/>
<path d="M2215.1 308.6l17.8 -4.6 -4.1 -3.8 -17.8 4.6z" fill="#f5e426"/>
<path d="M2219.3 312.4l17.8 -4.6 -4.2 -3.8 -17.8 4.6z" fill="#f5e426"/>
<path d="M2223.4 316.2l17.8 -4.6 -4.1 -3.8 -17.8 4.6z" fill="#f5e426"/>
<path d="M2227.5 320.0l17.8 -4.6 -4.1 -3.8 -17.8 4.6z" fill="#f5e426"/>
<path d="M2231.7 323.8l17.8 -4.6 -4.2 -3.8 -17.8 4.6z" fill="#f5e426"/>
<path d="M2235.8 327.6l17.8 -4.6 -4.1 -3.8 -17.8 4.6z" fill="#f5e426"/>
<path d="M2240.0 331.4l17.8 -4.6 -4.2 -3.8 -17.8 4.6z" fill="#f5e426"/>
<path d="M2244.1 335.2l17.8 -4.6 -4.1 -3.8 -17.8 4.6z" fill="#f5e426"/>
<path d="M2248.2 339.1l17.8 -4.7 -4.1 -3.8 -17.8 4.6z" fill="#f5e426"/>
<path d="M2252.4 342.9l17.8 -4.7 -4.2 -3.8 -17.8 4.7z" fill="#f5e426"/>
<path d="M2256.5 346.7l17.8 -4.7 -4.1 -3.8 -17.8 4.7z" fill="#f5e426"/>
<path d="M2260.7 350.5l17.8 -4.7 -4.2 -3.8 -17.8 4.7z" fill="#f5e426"/>
<path d="M2264.8 354.3l17.8 -4.7 -4.1 -3.8 -17.8 4.7z" fill="#f5e426"/>
<path d="M2268.9 358.1l17.8 -4.7 -4.1 -3.8 -17.8 4.7z" fill="#f5e426"/>
<path d="M2273.1 361.9l17.8 -4.7 -4.2 -3.8 -17.8 4.7z" fill="#f5e426"/>
<path d="M2060.7 187.2l17.8 -4.8 -4.1 -3.8 -17.8 4.7z" fill="#f5e228"/>
<path d="M2064.8 191.0l17.8 -4.7 -4.1 -3.9 -17.8 4.8z" fill="#f5e228"/>
<path d="M2069.0 194.8l17.8 -4.7 -4.2 -3.8 -17.8 4.7z" fill="#f5e228"/>
<path d="M2073.1 198.7l17.8 -4.8 -4.1 -3.8 -17.8 4.7z" fill="#f5e228"/>
<path d="M2077.3 202.5l17.8 -4.7 -4.2 -3.9 -17.8 4.8z" fill="#f5e228"/>
<path d="M2081.4 206.3l17.8 -4.7 -4.1 -3.8 -17.8 4.7z" fill="#f5e228"/>
<path d="M2085.5 210.2l17.8 -4.8 -4.1 -3.8 -17.8 4.7z" fill="#f5e228"/>
<path d="M2089.7 214.0l17.8 -4.7 -4.2 -3.9 -17.8 4.8z" fill="#f5e228"/>
<path d="M2093.8 217.8l17.8 -4.7 -4.1 -3.8 -17.8 4.7z" fill="#f5e228"/>
<path d="M2097.9 221.7l17.9 -4.8 -4.2 -3.8 -17.8 4.7z" fill="#f5e228"/>
<path d="M2102.1 225.5l17.8 -4.8 -4.1 -3.8 -17.9 4.8z" fill="#f5e228"/>
<path d="M2106.2 229.3l17.8 -4.7 -4.1 -3.9 -17.8 4.8z" fill="#f5e228"/>
<path d="M2110.4 233.2l17.8 -4.8 -4.2 -3.8 -17.8 4.7z" fill="#f5e228"/>
<path d="M2114.5 237.0l17.8 -4.8 -4.1 -3.8 -17.8 4.8z" fill="#f5e128"/>
<path d="M2118.6 240.8l17.9 -4.8 -4.2 -3.8 -17.8 4.8z" fill="#f5e128"/>
<path d="M2122.8 244.7l17.8 -4.8 -4.1 -3.9 -17.9 4.8z" fill="#f5e128"/>
<path d="M2126.9 248.5l17.8 -4.8 -4.1 -3.8 -17.8 4.8z" fill="#f5e128"/>
<path d="M2131.1 252.3l17.8 -4.8 -4.2 -3.8 -17.8 4.8z" fill="#f5e128"/>
<path d="M2135.2 256.1l17.8 -4.8 -4.1 -3.8 -17.8 4.8z" fill="#f5e128"/>
<path d="M2139.3 260.0l17.9 -4.8 -4.2 -3.9 -17.8 4.8z" fill="#f5e128"/>
<path d="M2143.5 263.8l17.8 -4.8 -4.1 -3.8 -17.9 4.8z" fill="#f5e128"/>
<path d="M2147.6 267.6l17.8 -4.8 -4.1 -3.8 -17.8 4.8z" fill="#f5e128"/>
<path d="M2151.8 271.4l17.8 -4.8 -4.2 -3.8 -17.8 4.8z" fill="#f5e128"/>
<path d="M2155.9 275.2l17.8 -4.8 -4.1 -3.8 -17.8 4.8z" fill="#f5e128"/>
<path d="M2160.0 279.1l17.9 -4.8 -4.2 -3.9 -17.8 4.8z" fill="#f5e128"/>
<path d="M2164.2 282.9l17.8 -4.8 -4.1 -3.8 -17.9 4.8z" fill="#f5e128"/>
<path d="M2168.3 286.7l17.8 -4.8 -4.1 -3.8 -17.8 4.8z" fill="#f5e128"/>
<path d="M2172.5 290.5l17.8 -4.8 -4.2 -3.8 -17.8 4.8z" fill="#f5e128"/>
<path d="M2176.6 294.3l17.8 -4.8 -4.1 -3.8 -17.8 4.8z" fill="#f5e128"/>
<path d="M2180.7 298.1l17.9 -4.8 -4.2 -3.8 -17.8 4.8z" fill="#f5e128"/>
<path d="M2184.9 302.0l17.8 -4.8 -4.1 -3.9 -17.9 4.8z" fill="#f5e128"/>
<path d="M2189.0 305.8l17.8 -4.8 -4.1 -3.8 -17.8 4.8z" fill="#f5e128"/>
<path d="M2193.2 309.6l17.8 -4.8 -4.2 -3.8 -17.8 4.8z" fill="#f5e128"/>
<path d="M2197.3 313.4l17.8 -4.8 -4.1 -3.8 -17.8 4.8z" fill="#f5e128"/>
<path d="M2201.4 317.2l17.9 -4.8 -4.2 -3.8 -17.8 4.8z" fill="#f5e128"/>
<path d="M2205.6 321.0l17.8 -4.8 -4.1 -3.8 -17.9 4.8z" fill="#f5e128"/>
<path d="M2209.7 324.8l17.8 -4.8 -4.1 -3.8 -17.8 4.8z" fill="#f5e128"/>
<path d="M2213.9 328.6l17.8 -4.8 -4.2 -3.8 -17.8 4.8z" fill="#f5e128"/>
<path d="M2218.0 332.4l17.8 -4.8 -4.1 -3.8 -17.8 4.8z" fill="#f5e128"/>
<path d="M2222.1 336.3l17.9 -4.9 -4.2 -3.8 -17.8 4.8z" fill="#f5e128"/>
<path d="M2226.3 340.1l17.8 -4.9 -4.1 -3.8 -17.9 4.9z" fill="#f5e128"/>
<path d="M2230.4 343.9l17.8 -4.8 -4.1 -3.9 -17.8 4.9z" fill="#f5e128"/>
<path d="M2234.6 347.7l17.8 -4.8 -4.2 -3.8 -17.8 4.8z" fill="#f5e128"/>
<path d="M2238.7 351.5l17.8 -4.8 -4.1 -3.8 -17.8 4.8z" fill="#f5e128"/>
<path d="M2242.8 355.3l17.9 -4.8 -4.2 -3.8 -17.8 4.8z" fill="#f5e128"/>
<path d="M2247.0 359.1l17.8 -4.8 -4.1 -3.8 -17.9 4.8z" fill="#f5e128"/>
<path d="M2251.1 362.9l17.8 -4.8 -4.1 -3.8 -17.8 4.8z" fill="#f5e128"/>
<path d="M2255.3 366.7l17.8 -4.8 -4.2 -3.8 -17.8 4.8z" fill="#f5e128"/>
<path d="M2042.9 192.1l17.8 -4.9 -4.1 -3.9 -17.9 5z" fill="#f6de29"/>
<path d="M2047.0 195.9l17.8 -4.9 -4.1 -3.8 -17.8 4.9z" fill="#f6de29"/>
<path d="M2051.2 199.8l17.8 -5 -4.2 -3.8 -17.8 4.9z" fill="#f6de29"/>
<path d="M2055.3 203.6l17.8 -4.9 -4.1 -3.9 -17.8 5z" fill="#f6de29"/>
<path d="M2059.4 207.5l17.9 -5 -4.2 -3.8 -17.8 4.9z" fill="#f6de29"/>
<path d="M2063.6 211.3l17.8 -5 -4.1 -3.8 -17.9 5z" fill="#f6de29"/>
<path d="M2067.7 215.1l17.8 -4.9 -4.1 -3.9 -17.8 5z" fill="#f6de29"/>
<path d="M2071.9 219.0l17.8 -5 -4.2 -3.8 -17.8 4.9z" fill="#f6de29"/>
<path d="M2076.0 222.8l17.8 -5 -4.1 -3.8 -17.8 5z" fill="#f6de29"/>
<path d="M2080.1 226.6l17.8 -4.9 -4.1 -3.9 -17.8 5z" fill="#f6de29"/>
<path d="M2084.3 230.5l17.8 -5 -4.2 -3.8 -17.8 4.9z" fill="#f6de29"/>
<path d="M2088.4 234.3l17.8 -5 -4.1 -3.8 -17.8 5z" fill="#f6de29"/>
<path d="M2092.6 238.1l17.8 -4.9 -4.2 -3.9 -17.8 5z" fill="#f6de29"/>
<path d="M2096.7 242.0l17.8 -5 -4.1 -3.8 -17.8 4.9z" fill="#f6de29"/>
<path d="M2100.8 245.8l17.8 -5 -4.1 -3.8 -17.8 5z" fill="#f6de29"/>
<path d="M2105.0 249.6l17.8 -4.9 -4.2 -3.9 -17.8 5z" fill="#f6de29"/>
<path d="M2109.1 253.5l17.8 -5 -4.1 -3.8 -17.8 4.9z" fill="#f6de29"/>
<path d="M2113.3 257.3l17.8 -5 -4.2 -3.8 -17.8 5z" fill="#f6de29"/>
<path d="M2117.4 261.1l17.8 -5 -4.1 -3.8 -17.8 5z" fill="#f6de29"/>
<path d="M2121.5 264.9l17.8 -4.9 -4.1 -3.9 -17.8 5z" fill="#f6de29"/>
<path d="M2125.7 268.8l17.8 -5 -4.2 -3.8 -17.8 4.9z" fill="#f6de29"/>
<path d="M2129.8 272.6l17.8 -5 -4.1 -3.8 -17.8 5z" fill="#f6de29"/>
<path d="M2133.9 276.4l17.9 -5 -4.2 -3.8 -17.8 5z" fill="#f6de29"/>
<path d="M2138.1 280.2l17.8 -5 -4.1 -3.8 -17.9 5z" fill="#f6de29"/>
<path d="M2142.2 284.0l17.8 -4.9 -4.1 -3.9 -17.8 5z" fill="#f6de29"/>
<path d="M2146.4 287.9l17.8 -5 -4.2 -3.8 -17.8 4.9z" fill="#f6de29"/>
<path d="M2150.5 291.7l17.8 -5 -4.1 -3.8 -17.8 5z" fill="#f6de29"/>
<path d="M2154.6 295.5l17.9 -5 -4.2 -3.8 -17.8 5z" fill="#f6de29"/>
<path d="M2158.8 299.3l17.8 -5 -4.1 -3.8 -17.9 5z" fill="#f6de29"/>
<path d="M2162.9 303.1l17.8 -5 -4.1 -3.8 -17.8 5z" fill="#f6de29"/>
<path d="M2167.1 307.0l17.8 -5 -4.2 -3.9 -17.8 5z" fill="#f6de29"/>
<path d="M2171.2 310.8l17.8 -5 -4.1 -3.8 -17.8 5z" fill="#f6de29"/>
<path d="M2175.3 314.6l17.9 -5 -4.2 -3.8 -17.8 5z" fill="#f6de29"/>
<path d="M2179.5 318.4l17.8 -5 -4.1 -3.8 -17.9 5z" fill="#f6de29"/>
<path d="M2183.6 322.2l17.8 -5 -4.1 -3.8 -17.8 5z" fill="#f6de29"/>
<path d="M2187.8 326.0l17.8 -5 -4.2 -3.8 -17.8 5z" fill="#f6de29"/>
<path d="M2191.9 329.8l17.8 -5 -4.1 -3.8 -17.8 5z" fill="#f6de29"/>
<path d="M2196.0 333.6l17.9 -5 -4.2 -3.8 -17.8 5z" fill="#f6de29"/>
<path d="M2200.2 337.4l17.8 -5 -4.1 -3.8 -17.9 5z" fill="#f6de29"/>
<path d="M2204.3 341.3l17.8 -5 -4.1 -3.9 -17.8 5z" fill="#f6de29"/>
<path d="M2208.5 345.1l17.8 -5 -4.2 -3.8 -17.8 5z" fill="#f6de29"/>
<path d="M2212.6 348.9l17.8 -5 -4.1 -3.8 -17.8 5z" fill="#f6de29"/>
<path d="M2216.7 352.7l17.9 -5 -4.2 -3.8 -17.8 5z" fill="#f6de29"/>
<path d="M2220.9 356.5l17.8 -5 -4.1 -3.8 -17.9 5z" fill="#f6de29"/>
<path d="M2225.0 360.3l17.8 -5 -4.1 -3.8 -17.8 5z" fill="#f6de29"/>
<path d="M2229.2 364.1l17.8 -5 -4.2 -3.8 -17.8 5z" fill="#f6de29"/>
<path d="M2233.3 367.9l17.8 -5 -4.1 -3.8 -17.8 5z" fill="#f6de29"/>
<path d="M2237.4 371.7l17.9 -5 -4.2 -3.8 -17.8 5z" fill="#f6de29"/>
<path d="M2025.1 197.2l17.8 -5.1 -4.2 -3.8 -17.8 5.1z" fill="#f7db2b"/>
<path d="M2029.2 201.1l17.8 -5.2 -4.1 -3.8 -17.8 5.1z" fill="#f7db2b"/>
<path d="M2033.3 204.9l17.9 -5.1 -4.2 -3.9 -17.8 5.2z" fill="#f7db2b"/>
<path d="M2037.5 208.8l17.8 -5.2 -4.1 -3.8 -17.9 5.1z" fill="#f7db2b"/>
<path d="M2041.6 212.6l17.8 -5.1 -4.1 -3.9 -17.8 5.2z" fill="#f7db2b"/>
<path d="M2045.8 216.4l17.8 -5.1 -4.2 -3.8 -17.8 5.1z" fill="#f7db2b"/>
<path d="M2049.9 220.3l17.8 -5.2 -4.1 -3.8 -17.8 5.1z" fill="#f7db2b"/>
<path d="M2054.0 224.1l17.9 -5.1 -4.2 -3.9 -17.8 5.2z" fill="#f7db2b"/>
<path d="M2058.2 228.0l17.8 -5.2 -4.1 -3.8 -17.9 5.1z" fill="#f7db2b"/>
<path d="M2062.3 231.8l17.8 -5.2 -4.1 -3.8 -17.8 5.2z" fill="#f8db2b"/>
<path d="M2066.5 235.6l17.8 -5.1 -4.2 -3.9 -17.8 5.2z" fill="#f8db2b"/>
<path d="M2070.6 239.5l17.8 -5.2 -4.1 -3.8 -17.8 5.1z" fill="#f8da2b"/>
<path d="M2074.7 243.3l17.9 -5.2 -4.2 -3.8 -17.8 5.2z" fill="#f8da2b"/>
<path d="M2078.9 247.1l17.8 -5.1 -4.1 -3.9 -17.9 5.2z" fill="#f8da2b"/>
<path d="M2083.0 251.0l17.8 -5.2 -4.1 -3.8 -17.8 5.1z" fill="#f8da2b"/>
<path d="M2087.2 254.8l17.8 -5.2 -4.2 -3.8 -17.8 5.2z" fill="#f8da2b"/>
<path d="M2091.3 258.6l17.8 -5.1 -4.1 -3.9 -17.8 5.2z" fill="#f8da2b"/>
<path d="M2095.4 262.5l17.9 -5.2 -4.2 -3.8 -17.8 5.1z" fill="#f8da2b"/>
<path d="M2099.6 266.3l17.8 -5.2 -4.1 -3.8 -17.9 5.2z" fill="#f8da2b"/>
<path d="M2103.7 270.1l17.8 -5.2 -4.1 -3.8 -17.8 5.2z" fill="#f8da2b"/>
<path d="M2107.9 273.9l17.8 -5.1 -4.2 -3.9 -17.8 5.2z" fill="#f8da2b"/>
<path d="M2112.0 277.8l17.8 -5.2 -4.1 -3.8 -17.8 5.1z" fill="#f8da2b"/>
<path d="M2116.1 281.6l17.8 -5.2 -4.1 -3.8 -17.8 5.2z" fill="#f8da2b"/>
<path d="M2120.3 285.4l17.8 -5.2 -4.2 -3.8 -17.8 5.2z" fill="#f8da2b"/>
<path d="M2124.4 289.2l17.8 -5.2 -4.1 -3.8 -17.8 5.2z" fill="#f8da2b"/>
<path d="M2128.6 293.1l17.8 -5.2 -4.2 -3.9 -17.8 5.2z" fill="#f8da2b"/>
<path d="M2132.7 296.9l17.8 -5.2 -4.1 -3.8 -17.8 5.2z" fill="#f8da2b"/>
<path d="M2136.8 300.7l17.8 -5.2 -4.1 -3.8 -17.8 5.2z" fill="#f8da2b"/>
<path d="M2141.0 304.5l17.8 -5.2 -4.2 -3.8 -17.8 5.2z" fill="#f8da2b"/>
<path d="M2145.1 308.3l17.8 -5.2 -4.1 -3.8 -17.8 5.2z" fill="#f8da2b"/>
<path d="M2149.3 312.2l17.8 -5.2 -4.2 -3.9 -17.8 5.2z" fill="#f8da2b"/>
<path d="M2153.4 316.0l17.8 -5.2 -4.1 -3.8 -17.8 5.2z" fill="#f8da2b"/>
<path d="M2157.5 319.8l17.8 -5.2 -4.1 -3.8 -17.8 5.2z" fill="#f8da2b"/>
<path d="M2161.7 323.6l17.8 -5.2 -4.2 -3.8 -17.8 5.2z" fill="#f8da2b"/>
<path d="M2165.8 327.4l17.8 -5.2 -4.1 -3.8 -17.8 5.2z" fill="#f8da2b"/>
<path d="M2169.9 331.2l17.9 -5.2 -4.2 -3.8 -17.8 5.2z" fill="#f8da2b"/>
<path d="M2174.1 335.0l17.8 -5.2 -4.1 -3.8 -17.9 5.2z" fill="#f8da2b"/>
<path d="M2178.2 338.8l17.8 -5.2 -4.1 -3.8 -17.8 5.2z" fill="#f8da2b"/>
<path d="M2182.4 342.7l17.8 -5.3 -4.2 -3.8 -17.8 5.2z" fill="#f8da2b"/>
<path d="M2186.5 346.5l17.8 -5.2 -4.1 -3.9 -17.8 5.3z" fill="#f8da2b"/>
<path d="M2190.6 350.3l17.9 -5.2 -4.2 -3.8 -17.8 5.2z" fill="#f8da2b"/>
<path d="M2194.8 354.1l17.8 -5.2 -4.1 -3.8 -17.9 5.2z" fill="#f8da2b"/>
<path d="M2198.9 357.9l17.8 -5.2 -4.1 -3.8 -17.8 5.2z" fill="#f8da2b"/>
<path d="M2203.1 361.7l17.8 -5.2 -4.2 -3.8 -17.8 5.2z" fill="#f8da2b"/>
<path d="M2207.2 365.5l17.8 -5.2 -4.1 -3.8 -17.8 5.2z" fill="#f8da2b"/>
<path d="M2211.3 369.3l17.9 -5.2 -4.2 -3.8 -17.8 5.2z" fill="#f8da2b"/>
<path d="M2215.5 373.1l17.8 -5.2 -4.1 -3.8 -17.9 5.2z" fill="#f8da2b"/>
<path d="M2219.6 376.9l17.8 -5.2 -4.1 -3.8 -17.8 5.2z" fill="#f8da2b"/>
<path d="M2007.2 202.6l17.9 -5.4 -4.2 -3.8 -17.8 5.3z" fill="#f9d72c"/>
<path d="M2011.4 206.4l17.8 -5.3 -4.1 -3.9 -17.9 5.4z" fill="#f9d72c"/>
<path d="M2015.5 210.3l17.8 -5.4 -4.1 -3.8 -17.8 5.3z" fill="#f9d72c"/>
<path d="M2019.7 214.1l17.8 -5.3 -4.2 -3.9 -17.8 5.4z" fill="#f9d72c"/>
<path d="M2023.8 218.0l17.8 -5.4 -4.1 -3.8 -17.8 5.3z" fill="#f9d72d"/>
<path d="M2027.9 221.8l17.9 -5.4 -4.2 -3.8 -17.8 5.4z" fill="#f9d72d"/>
<path d="M2032.1 225.6l17.8 -5.3 -4.1 -3.9 -17.9 5.4z" fill="#f9d72d"/>
<path d="M2036.2 229.5l17.8 -5.4 -4.1 -3.8 -17.8 5.3z" fill="#f9d72d"/>
<path d="M2040.4 233.3l17.8 -5.3 -4.2 -3.9 -17.8 5.4z" fill="#f9d72d"/>
<path d="M2044.5 237.2l17.8 -5.4 -4.1 -3.8 -17.8 5.3z" fill="#f9d72d"/>
<path d="M2048.6 241.0l17.9 -5.4 -4.2 -3.8 -17.8 5.4z" fill="#f9d72d"/>
<path d="M2052.8 244.8l17.8 -5.3 -4.1 -3.9 -17.9 5.4z" fill="#f9d72d"/>
<path d="M2056.9 248.7l17.8 -5.4 -4.1 -3.8 -17.8 5.3z" fill="#f9d72d"/>
<path d="M2061.1 252.5l17.8 -5.4 -4.2 -3.8 -17.8 5.4z" fill="#f9d72d"/>
<path d="M2065.2 256.4l17.8 -5.4 -4.1 -3.9 -17.8 5.4z" fill="#f9d72d"/>
<path d="M2069.3 260.2l17.9 -5.4 -4.2 -3.8 -17.8 5.4z" fill="#f9d72d"/>
<path d="M2073.5 264.0l17.8 -5.4 -4.1 -3.8 -17.9 5.4z" fill="#f9d72d"/>
<path d="M2077.6 267.9l17.8 -5.4 -4.1 -3.9 -17.8 5.4z" fill="#f9d62d"/>
<path d="M2081.8 271.7l17.8 -5.4 -4.2 -3.8 -17.8 5.4z" fill="#f9d62d"/>
<path d="M2085.9 275.5l17.8 -5.4 -4.1 -3.8 -17.8 5.4z" fill="#f9d62d"/>
<path d="M2090.0 279.3l17.9 -5.4 -4.2 -3.8 -17.8 5.4z" fill="#f9d62d"/>
<path d="M2094.2 283.2l17.8 -5.4 -4.1 -3.9 -17.9 5.4z" fill="#f9d62d"/>
<path d="M2098.3 287.0l17.8 -5.4 -4.1 -3.8 -17.8 5.4z" fill="#f9d62d"/>
<path d="M2102.5 290.8l17.8 -5.4 -4.2 -3.8 -17.8 5.4z" fill="#f9d62d"/>
<path d="M2106.6 294.6l17.8 -5.4 -4.1 -3.8 -17.8 5.4z" fill="#f9d62d"/>
<path d="M2110.7 298.5l17.9 -5.4 -4.2 -3.9 -17.8 5.4z" fill="#f9d62d"/>
<path d="M2114.9 302.3l17.8 -5.4 -4.1 -3.8 -17.9 5.4z" fill="#f9d62d"/>
<path d="M2119.0 306.1l17.8 -5.4 -4.1 -3.8 -17.8 5.4z" fill="#f9d62d"/>
<path d="M2123.2 309.9l17.8 -5.4 -4.2 -3.8 -17.8 5.4z" fill="#f9d62d"/>
<path d="M2127.3 313.7l17.8 -5.4 -4.1 -3.8 -17.8 5.4z" fill="#f9d62d"/>
<path d="M2131.4 317.6l17.9 -5.4 -4.2 -3.9 -17.8 5.4z" fill="#f9d62d"/>
<path d="M2135.6 321.4l17.8 -5.4 -4.1 -3.8 -17.9 5.4z" fill="#f9d62d"/>
<path d="M2139.7 325.2l17.8 -5.4 -4.1 -3.8 -17.8 5.4z" fill="#f9d62d"/>
<path d="M2143.9 329.0l17.8 -5.4 -4.2 -3.8 -17.8 5.4z" fill="#f9d62d"/>
<path d="M2148.0 332.8l17.8 -5.4 -4.1 -3.8 -17.8 5.4z" fill="#f9d62d"/>
<path d="M2152.1 336.6l17.8 -5.4 -4.1 -3.8 -17.8 5.4z" fill="#f9d62d"/>
<path d="M2156.3 340.5l17.8 -5.5 -4.2 -3.8 -17.8 5.4z" fill="#f9d62d"/>
<path d="M2160.4 344.3l17.8 -5.5 -4.1 -3.8 -17.8 5.5z" fill="#f9d62d"/>
<path d="M2164.6 348.1l17.8 -5.4 -4.2 -3.9 -17.8 5.5z" fill="#f9d62d"/>
<path d="M2168.7 351.9l17.8 -5.4 -4.1 -3.8 -17.8 5.4z" fill="#f9d62d"/>
<path d="M2172.8 355.7l17.8 -5.4 -4.1 -3.8 -17.8 5.4z" fill="#f9d62d"/>
<path d="M2177.0 359.5l17.8 -5.4 -4.2 -3.8 -17.8 5.4z" fill="#f9d62d"/>
<path d="M2181.1 363.3l17.8 -5.4 -4.1 -3.8 -17.8 5.4z" fill="#f9d62d"/>
<path d="M2185.3 367.1l17.8 -5.4 -4.2 -3.8 -17.8 5.4z" fill="#f9d62d"/>
<path d="M2189.4 370.9l17.8 -5.4 -4.1 -3.8 -17.8 5.4z" fill="#f9d62d"/>
<path d="M2193.5 374.7l17.8 -5.4 -4.1 -3.8 -17.8 5.4z" fill="#f9d62d"/>
<path d="M2197.7 378.5l17.8 -5.4 -4.2 -3.8 -17.8 5.4z" fill="#f9d62d"/>
<path d="M2201.8 382.3l17.8 -5.4 -4.1 -3.8 -17.8 5.4z" fill="#f9d62d"/>
<path d="M1989.4 208.1l17.8 -5.5 -4.1 -3.9 -17.8 5.6z" fill="#fbd32e"/>
<path d="M1993.6 212.0l17.8 -5.6 -4.2 -3.8 -17.8 5.5z" fill="#fbd32e"/>
<path d="M1997.7 215.8l17.8 -5.5 -4.1 -3.9 -17.8 5.6z" fill="#fbd32e"/>
<path d="M2001.9 219.7l17.8 -5.6 -4.2 -3.8 -17.8 5.5z" fill="#fbd32e"/>
<path d="M2006.0 223.5l17.8 -5.5 -4.1 -3.9 -17.8 5.6z" fill="#fbd32e"/>
<path d="M2010.1 227.4l17.8 -5.6 -4.1 -3.8 -17.8 5.5z" fill="#fbd32e"/>
<path d="M2014.3 231.2l17.8 -5.6 -4.2 -3.8 -17.8 5.6z" fill="#fbd32e"/>
<path d="M2018.4 235.1l17.8 -5.6 -4.1 -3.9 -17.8 5.6z" fill="#fbd32e"/>
<path d="M2022.6 238.9l17.8 -5.6 -4.2 -3.8 -17.8 5.6z" fill="#fbd32e"/>
<path d="M2026.7 242.8l17.8 -5.6 -4.1 -3.9 -17.8 5.6z" fill="#fbd32e"/>
<path d="M2030.8 246.6l17.8 -5.6 -4.1 -3.8 -17.8 5.6z" fill="#fbd32f"/>
<path d="M2035.0 250.4l17.8 -5.6 -4.2 -3.8 -17.8 5.6z" fill="#fbd32f"/>
<path d="M2039.1 254.3l17.8 -5.6 -4.1 -3.9 -17.8 5.6z" fill="#fbd32f"/>
<path d="M2043.2 258.1l17.9 -5.6 -4.2 -3.8 -17.8 5.6z" fill="#fbd32f"/>
<path d="M2047.4 262.0l17.8 -5.6 -4.1 -3.9 -17.9 5.6z" fill="#fbd32f"/>
<path d="M2051.5 265.8l17.8 -5.6 -4.1 -3.8 -17.8 5.6z" fill="#fbd32f"/>
<path d="M2055.7 269.6l17.8 -5.6 -4.2 -3.8 -17.8 5.6z" fill="#fbd32f"/>
<path d="M2059.8 273.5l17.8 -5.6 -4.1 -3.9 -17.8 5.6z" fill="#fbd32f"/>
<path d="M2063.9 277.3l17.9 -5.6 -4.2 -3.8 -17.8 5.6z" fill="#fbd32f"/>
<path d="M2068.1 281.1l17.8 -5.6 -4.1 -3.8 -17.9 5.6z" fill="#fbd22f"/>
<path d="M2072.2 285.0l17.8 -5.7 -4.1 -3.8 -17.8 5.6z" fill="#fbd22f"/>
<path d="M2076.4 288.8l17.8 -5.6 -4.2 -3.9 -17.8 5.7z" fill="#fbd22f"/>
<path d="M2080.5 292.6l17.8 -5.6 -4.1 -3.8 -17.8 5.6z" fill="#fbd22f"/>
<path d="M2084.6 296.4l17.9 -5.6 -4.2 -3.8 -17.8 5.6z" fill="#fbd22f"/>
<path d="M2088.8 300.3l17.8 -5.7 -4.1 -3.8 -17.9 5.6z" fill="#fbd22f"/>
<path d="M2092.9 304.1l17.8 -5.6 -4.1 -3.9 -17.8 5.7z" fill="#fbd22f"/>
<path d="M2097.1 307.9l17.8 -5.6 -4.2 -3.8 -17.8 5.6z" fill="#fbd22f"/>
<path d="M2101.2 311.7l17.8 -5.6 -4.1 -3.8 -17.8 5.6z" fill="#fbd22f"/>
<path d="M2105.3 315.6l17.9 -5.7 -4.2 -3.8 -17.8 5.6z" fill="#fbd22f"/>
<path d="M2109.5 319.4l17.8 -5.7 -4.1 -3.8 -17.9 5.7z" fill="#fbd22f"/>
<path d="M2113.6 323.2l17.8 -5.6 -4.1 -3.9 -17.8 5.7z" fill="#fbd22f"/>
<path d="M2117.8 327.0l17.8 -5.6 -4.2 -3.8 -17.8 5.6z" fill="#fbd22f"/>
<path d="M2121.9 330.8l17.8 -5.6 -4.1 -3.8 -17.8 5.6z" fill="#fbd22f"/>
<path d="M2126.0 334.7l17.9 -5.7 -4.2 -3.8 -17.8 5.6z" fill="#fbd22f"/>
<path d="M2130.2 338.5l17.8 -5.7 -4.1 -3.8 -17.9 5.7z" fill="#fbd22f"/>
<path d="M2134.3 342.3l17.8 -5.7 -4.1 -3.8 -17.8 5.7z" fill="#fbd22f"/>
<path d="M2138.5 346.1l17.8 -5.6 -4.2 -3.9 -17.8 5.7z" fill="#fbd22f"/>
<path d="M2142.6 349.9l17.8 -5.6 -4.1 -3.8 -17.8 5.6z" fill="#fbd22f"/>
<path d="M2146.7 353.7l17.9 -5.6 -4.2 -3.8 -17.8 5.6z" fill="#fbd22f"/>
<path d="M2150.9 357.5l17.8 -5.6 -4.1 -3.8 -17.9 5.6z" fill="#fbd22f"/>
<path d="M2155.0 361.3l17.8 -5.6 -4.1 -3.8 -17.8 5.6z" fill="#fbd22f"/>
<path d="M2159.2 365.1l17.8 -5.6 -4.2 -3.8 -17.8 5.6z" fill="#fbd22f"/>
<path d="M2163.3 369.0l17.8 -5.7 -4.1 -3.8 -17.8 5.6z" fill="#fbd22f"/>
<path d="M2167.4 372.8l17.9 -5.7 -4.2 -3.8 -17.8 5.7z" fill="#fbd22f"/>
<path d="M2171.6 376.6l17.8 -5.7 -4.1 -3.8 -17.9 5.7z" fill="#fbd22f"/>
<path d="M2175.7 380.4l17.8 -5.7 -4.1 -3.8 -17.8 5.7z" fill="#fbd22f"/>
<path d="M2179.9 384.2l17.8 -5.7 -4.2 -3.8 -17.8 5.7z" fill="#fbd22f"/>
<path d="M2184.0 388.0l17.8 -5.7 -4.1 -3.8 -17.8 5.7z" fill="#fbd22f"/>
<path d="M1971.6 213.9l17.8 -5.8 -4.1 -3.8 -17.8 5.8z" fill="#fccf30"/>
<path d="M1975.8 217.8l17.8 -5.8 -4.2 -3.9 -17.8 5.8z" fill="#fccf30"/>
<path d="M1979.9 221.6l17.8 -5.8 -4.1 -3.8 -17.8 5.8z" fill="#fccf30"/>
<path d="M1984.0 225.5l17.9 -5.8 -4.2 -3.9 -17.8 5.8z" fill="#fccf30"/>
<path d="M1988.2 229.3l17.8 -5.8 -4.1 -3.8 -17.9 5.8z" fill="#fccf30"/>
<path d="M1992.3 233.2l17.8 -5.8 -4.1 -3.9 -17.8 5.8z" fill="#fccf30"/>
<path d="M1996.5 237.0l17.8 -5.8 -4.2 -3.8 -17.8 5.8z" fill="#fccf30"/>
<path d="M2000.6 240.9l17.8 -5.8 -4.1 -3.9 -17.8 5.8z" fill="#fccf30"/>
<path d="M2004.7 244.7l17.9 -5.8 -4.2 -3.8 -17.8 5.8z" fill="#fccf31"/>
<path d="M2008.9 248.6l17.8 -5.8 -4.1 -3.9 -17.9 5.8z" fill="#fccf31"/>
<path d="M2013.0 252.4l17.8 -5.8 -4.1 -3.8 -17.8 5.8z" fill="#fccf31"/>
<path d="M2017.2 256.3l17.8 -5.9 -4.2 -3.8 -17.8 5.8z" fill="#fccf31"/>
<path d="M2021.3 260.1l17.8 -5.8 -4.1 -3.9 -17.8 5.9z" fill="#fccf31"/>
<path d="M2025.4 263.9l17.8 -5.8 -4.1 -3.8 -17.8 5.8z" fill="#fccf31"/>
<path d="M2029.6 267.8l17.8 -5.8 -4.2 -3.9 -17.8 5.8z" fill="#fccf31"/>
<path d="M2033.7 271.6l17.8 -5.8 -4.1 -3.8 -17.8 5.8z" fill="#fcce31"/>
<path d="M2037.9 275.5l17.8 -5.9 -4.2 -3.8 -17.8 5.8z" fill="#fcce31"/>
<path d="M2042.0 279.3l17.8 -5.8 -4.1 -3.9 -17.8 5.9z" fill="#fdce31"/>
<path d="M2046.1 283.1l17.8 -5.8 -4.1 -3.8 -17.8 5.8z" fill="#fdce31"/>
<path d="M2050.3 287.0l17.8 -5.9 -4.2 -3.8 -17.8 5.8z" fill="#fdce31"/>
<path d="M2054.4 290.8l17.8 -5.8 -4.1 -3.9 -17.8 5.9z" fill="#fdce31"/>
<path d="M2058.6 294.6l17.8 -5.8 -4.2 -3.8 -17.8 5.8z" fill="#fdce31"/>
<path d="M2062.7 298.5l17.8 -5.9 -4.1 -3.8 -17.8 5.8z" fill="#fdce31"/>
<path d="M2066.8 302.3l17.8 -5.9 -4.1 -3.8 -17.8 5.9z" fill="#fdce31"/>
<path d="M2071.0 306.1l17.8 -5.8 -4.2 -3.9 -17.8 5.9z" fill="#fdce31"/>
<path d="M2075.1 310.0l17.8 -5.9 -4.1 -3.8 -17.8 5.8z" fill="#fdce31"/>
<path d="M2079.2 313.8l17.9 -5.9 -4.2 -3.8 -17.8 5.9z" fill="#fdce31"/>
<path d="M2083.4 317.6l17.8 -5.9 -4.1 -3.8 -17.9 5.9z" fill="#fdce31"/>
<path d="M2087.5 321.4l17.8 -5.8 -4.1 -3.9 -17.8 5.9z" fill="#fdce31"/>
<path d="M2091.7 325.2l17.8 -5.8 -4.2 -3.8 -17.8 5.8z" fill="#fdce31"/>
<path d="M2095.8 329.1l17.8 -5.9 -4.1 -3.8 -17.8 5.8z" fill="#fdce31"/>
<path d="M2099.9 332.9l17.9 -5.9 -4.2 -3.8 -17.8 5.9z" fill="#fdce31"/>
<path d="M2104.1 336.7l17.8 -5.9 -4.1 -3.8 -17.9 5.9z" fill="#fdce31"/>
<path d="M2108.2 340.5l17.8 -5.8 -4.1 -3.9 -17.8 5.9z" fill="#fdce31"/>
<path d="M2112.4 344.3l17.8 -5.8 -4.2 -3.8 -17.8 5.8z" fill="#fdce31"/>
<path d="M2116.5 348.2l17.8 -5.9 -4.1 -3.8 -17.8 5.8z" fill="#fdce31"/>
<path d="M2120.6 352.0l17.9 -5.9 -4.2 -3.8 -17.8 5.9z" fill="#fdce31"/>
<path d="M2124.8 355.8l17.8 -5.9 -4.1 -3.8 -17.9 5.9z" fill="#fdce31"/>
<path d="M2128.9 359.6l17.8 -5.9 -4.1 -3.8 -17.8 5.9z" fill="#fdce31"/>
<path d="M2133.1 363.4l17.8 -5.9 -4.2 -3.8 -17.8 5.9z" fill="#fdce31"/>
<path d="M2137.2 367.2l17.8 -5.9 -4.1 -3.8 -17.8 5.9z" fill="#fdce31"/>
<path d="M2141.3 371.0l17.9 -5.9 -4.2 -3.8 -17.8 5.9z" fill="#fdce31"/>
<path d="M2145.5 374.8l17.8 -5.8 -4.1 -3.9 -17.9 5.9z" fill="#fdce31"/>
<path d="M2149.6 378.6l17.8 -5.8 -4.1 -3.8 -17.8 5.8z" fill="#fdce31"/>
<path d="M2153.8 382.4l17.8 -5.8 -4.2 -3.8 -17.8 5.8z" fill="#fdce31"/>
<path d="M2157.9 386.2l17.8 -5.8 -4.1 -3.8 -17.8 5.8z" fill="#fdce31"/>
<path d="M2162.0 390.0l17.9 -5.8 -4.2 -3.8 -17.8 5.8z" fill="#fdce31"/>
<path d="M2166.2 393.8l17.8 -5.8 -4.1 -3.8 -17.9 5.8z" fill="#fdce31"/>
<path d="M1953.8 219.9l17.8 -6 -4.1 -3.8 -17.8 6z" fill="#fdcb33"/>
<path d="M1957.9 223.8l17.9 -6 -4.2 -3.9 -17.8 6z" fill="#fdcb33"/>
<path d="M1962.1 227.6l17.8 -6 -4.1 -3.8 -17.9 6z" fill="#fdcb33"/>
<path d="M1966.2 231.5l17.8 -6 -4.1 -3.9 -17.8 6z" fill="#fdcb33"/>
<path d="M1970.4 235.4l17.8 -6.1 -4.2 -3.8 -17.8 6z" fill="#fdcb33"/>
<path d="M1974.5 239.2l17.8 -6 -4.1 -3.9 -17.8 6.1z" fill="#fdcb33"/>
<path d="M1978.6 243.1l17.9 -6.1 -4.2 -3.8 -17.8 6z" fill="#fdcb33"/>
<path d="M1982.8 246.9l17.8 -6 -4.1 -3.9 -17.9 6.1z" fill="#fdcb33"/>
<path d="M1986.9 250.8l17.8 -6.1 -4.1 -3.8 -17.8 6z" fill="#fdcb33"/>
<path d="M1991.1 254.6l17.8 -6 -4.2 -3.9 -17.8 6.1z" fill="#fdca33"/>
<path d="M1995.2 258.5l17.8 -6.1 -4.1 -3.8 -17.8 6z" fill="#fdca33"/>
<path d="M1999.3 262.3l17.9 -6 -4.2 -3.9 -17.8 6.1z" fill="#fdca33"/>
<path d="M2003.5 266.2l17.8 -6.1 -4.1 -3.8 -17.9 6z" fill="#feca33"/>
<path d="M2007.6 270.0l17.8 -6.1 -4.1 -3.8 -17.8 6.1z" fill="#feca33"/>
<path d="M2011.8 273.9l17.8 -6.1 -4.2 -3.9 -17.8 6.1z" fill="#feca33"/>
<path d="M2015.9 277.7l17.8 -6.1 -4.1 -3.8 -17.8 6.1z" fill="#feca33"/>
<path d="M2020.0 281.5l17.9 -6 -4.2 -3.9 -17.8 6.1z" fill="#feca33"/>
<path d="M2024.2 285.4l17.8 -6.1 -4.1 -3.8 -17.9 6z" fill="#feca33"/>
<path d="M2028.3 289.2l17.8 -6.1 -4.1 -3.8 -17.8 6.1z" fill="#feca33"/>
<path d="M2032.5 293.1l17.8 -6.1 -4.2 -3.9 -17.8 6.1z" fill="#feca33"/>
<path d="M2036.6 296.9l17.8 -6.1 -4.1 -3.8 -17.8 6.1z" fill="#feca33"/>
<path d="M2040.7 300.7l17.9 -6.1 -4.2 -3.8 -17.8 6.1z" fill="#feca33"/>
<path d="M2044.9 304.6l17.8 -6.1 -4.1 -3.9 -17.9 6.1z" fill="#feca33"/>
<path d="M2049.0 308.4l17.8 -6.1 -4.1 -3.8 -17.8 6.1z" fill="#feca33"/>
<path d="M2053.2 312.2l17.8 -6.1 -4.2 -3.8 -17.8 6.1z" fill="#feca33"/>
<path d="M2057.3 316.1l17.8 -6.1 -4.1 -3.9 -17.8 6.1z" fill="#feca33"/>
<path d="M2061.4 319.9l17.8 -6.1 -4.1 -3.8 -17.8 6.1z" fill="#feca33"/>
<path d="M2065.6 323.7l17.8 -6.1 -4.2 -3.8 -17.8 6.1z" fill="#feca33"/>
<path d="M2069.7 327.5l17.8 -6.1 -4.1 -3.8 -17.8 6.1z" fill="#feca33"/>
<path d="M2073.9 331.4l17.8 -6.2 -4.2 -3.8 -17.8 6.1z" fill="#feca33"/>
<path d="M2078.0 335.2l17.8 -6.1 -4.1 -3.9 -17.8 6.2z" fill="#feca33"/>
<path d="M2082.1 339.0l17.8 -6.1 -4.1 -3.8 -17.8 6.1z" fill="#feca33"/>
<path d="M2086.3 342.8l17.8 -6.1 -4.2 -3.8 -17.8 6.1z" fill="#feca33"/>
<path d="M2090.4 346.6l17.8 -6.1 -4.1 -3.8 -17.8 6.1z" fill="#feca33"/>
<path d="M2094.6 350.5l17.8 -6.2 -4.2 -3.8 -17.8 6.1z" fill="#feca33"/>
<path d="M2098.7 354.3l17.8 -6.1 -4.1 -3.9 -17.8 6.2z" fill="#feca33"/>
<path d="M2102.8 358.1l17.8 -6.1 -4.1 -3.8 -17.8 6.1z" fill="#feca33"/>
<path d="M2107.0 361.9l17.8 -6.1 -4.2 -3.8 -17.8 6.1z" fill="#feca33"/>
<path d="M2111.1 365.7l17.8 -6.1 -4.1 -3.8 -17.8 6.1z" fill="#feca33"/>
<path d="M2115.2 369.5l17.9 -6.1 -4.2 -3.8 -17.8 6.1z" fill="#feca33"/>
<path d="M2119.4 373.3l17.8 -6.1 -4.1 -3.8 -17.9 6.1z" fill="#feca33"/>
<path d="M2123.5 377.1l17.8 -6.1 -4.1 -3.8 -17.8 6.1z" fill="#feca33"/>
<path d="M2127.7 381.0l17.8 -6.2 -4.2 -3.8 -17.8 6.1z" fill="#feca33"/>
<path d="M2131.8 384.8l17.8 -6.2 -4.1 -3.8 -17.8 6.2z" fill="#feca33"/>
<path d="M2135.9 388.6l17.9 -6.2 -4.2 -3.8 -17.8 6.2z" fill="#feca33"/>
<path d="M2140.1 392.4l17.8 -6.2 -4.1 -3.8 -17.9 6.2z" fill="#feca33"/>
<path d="M2144.2 396.2l17.8 -6.2 -4.1 -3.8 -17.8 6.2z" fill="#feca33"/>
<path d="M2148.4 400.0l17.8 -6.2 -4.2 -3.8 -17.8 6.2z" fill="#feca33"/>
<path d="M1936.0 226.2l17.8 -6.3 -4.1 -3.8 -17.8 6.2z" fill="#fec736"/>
<path d="M1940.1 230.1l17.8 -6.3 -4.1 -3.9 -17.8 6.3z" fill="#fec736"/>
<path d="M1944.3 233.9l17.8 -6.3 -4.2 -3.8 -17.8 6.3z" fill="#fec636"/>
<path d="M1948.4 237.8l17.8 -6.3 -4.1 -3.9 -17.8 6.3z" fill="#fec636"/>
<path d="M1952.6 241.6l17.8 -6.2 -4.2 -3.9 -17.8 6.3z" fill="#fec636"/>
<path d="M1956.7 245.5l17.8 -6.3 -4.1 -3.8 -17.8 6.2z" fill="#fec636"/>
<path d="M1960.8 249.4l17.8 -6.3 -4.1 -3.9 -17.8 6.3z" fill="#fec636"/>
<path d="M1965.0 253.2l17.8 -6.3 -4.2 -3.8 -17.8 6.3z" fill="#fec636"/>
<path d="M1969.1 257.1l17.8 -6.3 -4.1 -3.9 -17.8 6.3z" fill="#fec636"/>
<path d="M1973.2 260.9l17.9 -6.3 -4.2 -3.8 -17.8 6.3z" fill="#fec636"/>
<path d="M1977.4 264.8l17.8 -6.3 -4.1 -3.9 -17.9 6.3z" fill="#fec636"/>
<path d="M1981.5 268.6l17.8 -6.3 -4.1 -3.8 -17.8 6.3z" fill="#fec636"/>
<path d="M1985.7 272.5l17.8 -6.3 -4.2 -3.9 -17.8 6.3z" fill="#fec636"/>
<path d="M1989.8 276.3l17.8 -6.3 -4.1 -3.8 -17.8 6.3z" fill="#fec636"/>
<path d="M1993.9 280.2l17.9 -6.3 -4.2 -3.9 -17.8 6.3z" fill="#fec636"/>
<path d="M1998.1 284.0l17.8 -6.3 -4.1 -3.8 -17.9 6.3z" fill="#fec636"/>
<path d="M2002.2 287.9l17.8 -6.4 -4.1 -3.8 -17.8 6.3z" fill="#fec636"/>
<path d="M2006.4 291.7l17.8 -6.3 -4.2 -3.9 -17.8 6.4z" fill="#fec636"/>
<path d="M2010.5 295.6l17.8 -6.4 -4.1 -3.8 -17.8 6.3z" fill="#fec636"/>
<path d="M2014.6 299.4l17.9 -6.3 -4.2 -3.9 -17.8 6.4z" fill="#fec636"/>
<path d="M2018.8 303.2l17.8 -6.3 -4.1 -3.8 -17.9 6.3z" fill="#fec636"/>
<path d="M2022.9 307.1l17.8 -6.4 -4.1 -3.8 -17.8 6.3z" fill="#fec636"/>
<path d="M2027.1 310.9l17.8 -6.3 -4.2 -3.9 -17.8 6.4z" fill="#fec636"/>
<path d="M2031.2 314.7l17.8 -6.3 -4.1 -3.8 -17.8 6.3z" fill="#fec636"/>
<path d="M2035.3 318.6l17.9 -6.4 -4.2 -3.8 -17.8 6.3z" fill="#fec636"/>
<path d="M2039.5 322.4l17.8 -6.3 -4.1 -3.9 -17.9 6.4z" fill="#fec636"/>
<path d="M2043.6 326.2l17.8 -6.3 -4.1 -3.8 -17.8 6.3z" fill="#fec636"/>
<path d="M2047.8 330.1l17.8 -6.4 -4.2 -3.8 -17.8 6.3z" fill="#fec636"/>
<path d="M2051.9 333.9l17.8 -6.4 -4.1 -3.8 -17.8 6.4z" fill="#fec636"/>
<path d="M2056.0 337.7l17.9 -6.3 -4.2 -3.9 -17.8 6.4z" fill="#fec636"/>
<path d="M2060.2 341.5l17.8 -6.3 -4.1 -3.8 -17.9 6.3z" fill="#fec636"/>
<path d="M2064.3 345.4l17.8 -6.4 -4.1 -3.8 -17.8 6.3z" fill="#fec636"/>
<path d="M2068.5 349.2l17.8 -6.4 -4.2 -3.8 -17.8 6.4z" fill="#fec536"/>
<path d="M2072.6 353.0l17.8 -6.4 -4.1 -3.8 -17.8 6.4z" fill="#fec536"/>
<path d="M2076.7 356.8l17.9 -6.3 -4.2 -3.9 -17.8 6.4z" fill="#fec536"/>
<path d="M2080.9 360.7l17.8 -6.4 -4.1 -3.8 -17.9 6.3z" fill="#fec537"/>
<path d="M2085.0 364.5l17.8 -6.4 -4.1 -3.8 -17.8 6.4z" fill="#fec537"/>
<path d="M2089.2 368.3l17.8 -6.4 -4.2 -3.8 -17.8 6.4z" fill="#fec537"/>
<path d="M2093.3 372.1l17.8 -6.4 -4.1 -3.8 -17.8 6.4z" fill="#fec537"/>
<path d="M2097.4 375.9l17.8 -6.4 -4.1 -3.8 -17.8 6.4z" fill="#fec537"/>
<path d="M2101.6 379.7l17.8 -6.4 -4.2 -3.8 -17.8 6.4z" fill="#fec537"/>
<path d="M2105.7 383.5l17.8 -6.4 -4.1 -3.8 -17.8 6.4z" fill="#fec537"/>
<path d="M2109.9 387.3l17.8 -6.3 -4.2 -3.9 -17.8 6.4z" fill="#fec537"/>
<path d="M2114.0 391.1l17.8 -6.3 -4.1 -3.8 -17.8 6.3z" fill="#fec537"/>
<path d="M2118.1 394.9l17.8 -6.3 -4.1 -3.8 -17.8 6.3z" fill="#fec537"/>
<path d="M2122.3 398.8l17.8 -6.4 -4.2 -3.8 -17.8 6.3z" fill="#fec537"/>
<path d="M2126.4 402.6l17.8 -6.4 -4.1 -3.8 -17.8 6.4z" fill="#fec537"/>
<path d="M2130.6 406.4l17.8 -6.4 -4.2 -3.8 -17.8 6.4z" fill="#fec537"/>
<path d="M1918.2 232.7l17.8 -6.5 -4.1 -3.9 -17.9 6.5z" fill="#fec239"/>
<path d="M1922.3 236.6l17.8 -6.5 -4.1 -3.9 -17.8 6.5z" fill="#fec239"/>
<path d="M1926.5 240.5l17.8 -6.6 -4.2 -3.8 -17.8 6.5z" fill="#fec239"/>
<path d="M1930.6 244.3l17.8 -6.5 -4.1 -3.9 -17.8 6.6z" fill="#fec239"/>
<path d="M1934.7 248.2l17.9 -6.6 -4.2 -3.8 -17.8 6.5z" fill="#fec239"/>
<path d="M1938.9 252.1l17.8 -6.6 -4.1 -3.9 -17.9 6.6z" fill="#fec239"/>
<path d="M1943.0 255.9l17.8 -6.5 -4.1 -3.9 -17.8 6.6z" fill="#fec239"/>
<path d="M1947.2 259.8l17.8 -6.6 -4.2 -3.8 -17.8 6.5z" fill="#fec239"/>
<path d="M1951.3 263.6l17.8 -6.5 -4.1 -3.9 -17.8 6.6z" fill="#fec239"/>
<path d="M1955.4 267.5l17.8 -6.6 -4.1 -3.8 -17.8 6.5z" fill="#fec239"/>
<path d="M1959.6 271.4l17.8 -6.6 -4.2 -3.9 -17.8 6.6z" fill="#fec239"/>
<path d="M1963.7 275.2l17.8 -6.6 -4.1 -3.8 -17.8 6.6z" fill="#fec239"/>
<path d="M1967.9 279.1l17.8 -6.6 -4.2 -3.9 -17.8 6.6z" fill="#fec239"/>
<path d="M1972.0 282.9l17.8 -6.6 -4.1 -3.8 -17.8 6.6z" fill="#fec239"/>
<path d="M1976.1 286.8l17.8 -6.6 -4.1 -3.9 -17.8 6.6z" fill="#fec239"/>
<path d="M1980.3 290.6l17.8 -6.6 -4.2 -3.8 -17.8 6.6z" fill="#fec239"/>
<path d="M1984.4 294.5l17.8 -6.6 -4.1 -3.9 -17.8 6.6z" fill="#fec239"/>
<path d="M1988.6 298.3l17.8 -6.6 -4.2 -3.8 -17.8 6.6z" fill="#fec139"/>
<path d="M1992.7 302.2l17.8 -6.6 -4.1 -3.9 -17.8 6.6z" fill="#fec13a"/>
<path d="M1996.8 306.0l17.8 -6.6 -4.1 -3.8 -17.8 6.6z" fill="#fec13a"/>
<path d="M2001.0 309.8l17.8 -6.6 -4.2 -3.8 -17.8 6.6z" fill="#fec13a"/>
<path d="M2005.1 313.7l17.8 -6.6 -4.1 -3.9 -17.8 6.6z" fill="#fec13a"/>
<path d="M2009.2 317.5l17.9 -6.6 -4.2 -3.8 -17.8 6.6z" fill="#fec13a"/>
<path d="M2013.4 321.4l17.8 -6.7 -4.1 -3.8 -17.9 6.6z" fill="#fec13a"/>
<path d="M2017.5 325.2l17.8 -6.6 -4.1 -3.9 -17.8 6.7z" fill="#fec13a"/>
<path d="M2021.7 329.0l17.8 -6.6 -4.2 -3.8 -17.8 6.6z" fill="#fec13a"/>
<path d="M2025.8 332.9l17.8 -6.7 -4.1 -3.8 -17.8 6.6z" fill="#fec13a"/>
<path d="M2029.9 336.7l17.9 -6.6 -4.2 -3.9 -17.8 6.7z" fill="#fec13a"/>
<path d="M2034.1 340.5l17.8 -6.6 -4.1 -3.8 -17.9 6.6z" fill="#fec13a"/>
<path d="M2038.2 344.4l17.8 -6.7 -4.1 -3.8 -17.8 6.6z" fill="#fec13a"/>
<path d="M2042.4 348.2l17.8 -6.7 -4.2 -3.8 -17.8 6.7z" fill="#fec13a"/>
<path d="M2046.5 352.0l17.8 -6.6 -4.1 -3.9 -17.8 6.7z" fill="#fec13a"/>
<path d="M2050.6 355.8l17.9 -6.6 -4.2 -3.8 -17.8 6.6z" fill="#fec13a"/>
<path d="M2054.8 359.7l17.8 -6.7 -4.1 -3.8 -17.9 6.6z" fill="#fec13a"/>
<path d="M2058.9 363.5l17.8 -6.7 -4.1 -3.8 -17.8 6.7z" fill="#fec13a"/>
<path d="M2063.1 367.3l17.8 -6.6 -4.2 -3.9 -17.8 6.7z" fill="#fec13a"/>
<path d="M2067.2 371.1l17.8 -6.6 -4.1 -3.8 -17.8 6.6z" fill="#fec13a"/>
<path d="M2071.3 374.9l17.9 -6.6 -4.2 -3.8 -17.8 6.6z" fill="#fec13a"/>
<path d="M2075.5 378.7l17.8 -6.6 -4.1 -3.8 -17.9 6.6z" fill="#fec13a"/>
<path d="M2079.6 382.6l17.8 -6.7 -4.1 -3.8 -17.8 6.6z" fill="#fec13a"/>
<path d="M2083.8 386.4l17.8 -6.7 -4.2 -3.8 -17.8 6.7z" fill="#fec13a"/>
<path d="M2087.9 390.2l17.8 -6.7 -4.1 -3.8 -17.8 6.7z" fill="#fec13a"/>
<path d="M2092.0 394.0l17.9 -6.7 -4.2 -3.8 -17.8 6.7z" fill="#fec13a"/>
<path d="M2096.2 397.8l17.8 -6.7 -4.1 -3.8 -17.9 6.7z" fill="#fec13a"/>
<path d="M2100.3 401.6l17.8 -6.7 -4.1 -3.8 -17.8 6.7z" fill="#fec13a"/>
<path d="M2104.5 405.4l17.8 -6.6 -4.2 -3.9 -17.8 6.7z" fill="#fec13a"/>
<path d="M2108.6 409.2l17.8 -6.6 -4.1 -3.8 -17.8 6.6z" fill="#fec13a"/>
<path d="M2112.7 413.0l17.9 -6.6 -4.2 -3.8 -17.8 6.6z" fill="#fec13a"/>
<path d="M1900.4 239.5l17.8 -6.8 -4.2 -3.9 -17.8 6.8z" fill="#febe3c"/>
<path d="M1904.5 243.4l17.8 -6.8 -4.1 -3.9 -17.8 6.8z" fill="#febe3c"/>
<path d="M1908.6 247.3l17.9 -6.8 -4.2 -3.9 -17.8 6.8z" fill="#febe3c"/>
<path d="M1912.8 251.1l17.8 -6.8 -4.1 -3.8 -17.9 6.8z" fill="#febe3c"/>
<path d="M1916.9 255.0l17.8 -6.8 -4.1 -3.9 -17.8 6.8z" fill="#febe3c"/>
<path d="M1921.1 258.9l17.8 -6.8 -4.2 -3.9 -17.8 6.8z" fill="#febe3c"/>
<path d="M1925.2 262.7l17.8 -6.8 -4.1 -3.8 -17.8 6.8z" fill="#febd3c"/>
<path d="M1929.3 266.6l17.9 -6.8 -4.2 -3.9 -17.8 6.8z" fill="#febd3c"/>
<path d="M1933.5 270.5l17.8 -6.9 -4.1 -3.8 -17.9 6.8z" fill="#febd3c"/>
<path d="M1937.6 274.3l17.8 -6.8 -4.1 -3.9 -17.8 6.9z" fill="#febd3c"/>
<path d="M1941.8 278.2l17.8 -6.8 -4.2 -3.9 -17.8 6.8z" fill="#febd3c"/>
<path d="M1945.9 282.1l17.8 -6.9 -4.1 -3.8 -17.8 6.8z" fill="#febd3c"/>
<path d="M1950.0 285.9l17.9 -6.8 -4.2 -3.9 -17.8 6.9z" fill="#fdbd3d"/>
<path d="M1954.2 289.8l17.8 -6.9 -4.1 -3.8 -17.9 6.8z" fill="#fdbd3d"/>
<path d="M1958.3 293.6l17.8 -6.8 -4.1 -3.9 -17.8 6.9z" fill="#fdbd3d"/>
<path d="M1962.5 297.5l17.8 -6.9 -4.2 -3.8 -17.8 6.8z" fill="#fdbd3d"/>
<path d="M1966.6 301.3l17.8 -6.8 -4.1 -3.9 -17.8 6.9z" fill="#fdbd3d"/>
<path d="M1970.7 305.2l17.9 -6.9 -4.2 -3.8 -17.8 6.8z" fill="#fdbd3d"/>
<path d="M1974.9 309.0l17.8 -6.8 -4.1 -3.9 -17.9 6.9z" fill="#fdbd3d"/>
<path d="M1979.0 312.9l17.8 -6.9 -4.1 -3.8 -17.8 6.8z" fill="#fdbd3d"/>
<path d="M1983.2 316.7l17.8 -6.9 -4.2 -3.8 -17.8 6.9z" fill="#fdbd3d"/>
<path d="M1987.3 320.6l17.8 -6.9 -4.1 -3.9 -17.8 6.9z" fill="#fdbd3d"/>
<path d="M1991.4 324.4l17.8 -6.9 -4.1 -3.8 -17.8 6.9z" fill="#fdbd3d"/>
<path d="M1995.6 328.3l17.8 -6.9 -4.2 -3.9 -17.8 6.9z" fill="#fdbd3d"/>
<path d="M1999.7 332.1l17.8 -6.9 -4.1 -3.8 -17.8 6.9z" fill="#fdbd3d"/>
<path d="M2003.9 335.9l17.8 -6.9 -4.2 -3.8 -17.8 6.9z" fill="#fdbd3d"/>
<path d="M2008.0 339.8l17.8 -6.9 -4.1 -3.9 -17.8 6.9z" fill="#fdbd3d"/>
<path d="M2012.1 343.6l17.8 -6.9 -4.1 -3.8 -17.8 6.9z" fill="#fdbd3d"/>
<path d="M2016.3 347.4l17.8 -6.9 -4.2 -3.8 -17.8 6.9z" fill="#fdbd3d"/>
<path d="M2020.4 351.3l17.8 -6.9 -4.1 -3.9 -17.8 6.9z" fill="#fdbd3d"/>
<path d="M2024.5 355.1l17.9 -6.9 -4.2 -3.8 -17.8 6.9z" fill="#fdbd3d"/>
<path d="M2028.7 358.9l17.8 -6.9 -4.1 -3.8 -17.9 6.9z" fill="#fdbd3d"/>
<path d="M2032.8 362.8l17.8 -7 -4.1 -3.8 -17.8 6.9z" fill="#fdbd3d"/>
<path d="M2037.0 366.6l17.8 -6.9 -4.2 -3.9 -17.8 7z" fill="#fdbd3d"/>
<path d="M2041.1 370.4l17.8 -6.9 -4.1 -3.8 -17.8 6.9z" fill="#fdbd3d"/>
<path d="M2045.2 374.2l17.9 -6.9 -4.2 -3.8 -17.8 6.9z" fill="#fdbd3d"/>
<path d="M2049.4 378.0l17.8 -6.9 -4.1 -3.8 -17.9 6.9z" fill="#fdbd3d"/>
<path d="M2053.5 381.9l17.8 -7 -4.1 -3.8 -17.8 6.9z" fill="#fdbd3d"/>
<path d="M2057.7 385.7l17.8 -7 -4.2 -3.8 -17.8 7z" fill="#fdbd3d"/>
<path d="M2061.8 389.5l17.8 -6.9 -4.1 -3.9 -17.8 7z" fill="#fdbd3d"/>
<path d="M2065.9 393.3l17.9 -6.9 -4.2 -3.8 -17.8 6.9z" fill="#fdbd3d"/>
<path d="M2070.1 397.1l17.8 -6.9 -4.1 -3.8 -17.9 6.9z" fill="#fdbd3d"/>
<path d="M2074.2 400.9l17.8 -6.9 -4.1 -3.8 -17.8 6.9z" fill="#fdbd3d"/>
<path d="M2078.4 404.7l17.8 -6.9 -4.2 -3.8 -17.8 6.9z" fill="#fdbd3d"/>
<path d="M2082.5 408.5l17.8 -6.9 -4.1 -3.8 -17.8 6.9z" fill="#fdbd3d"/>
<path d="M2086.6 412.3l17.9 -6.9 -4.2 -3.8 -17.8 6.9z" fill="#fdbd3d"/>
<path d="M2090.8 416.1l17.8 -6.9 -4.1 -3.8 -17.9 6.9z" fill="#fdbd3d"/>
<path d="M2094.9 419.9l17.8 -6.9 -4.1 -3.8 -17.8 6.9z" fill="#fdbd3d"/>
<path d="M1882.5 246.6l17.9 -7.1 -4.2 -3.9 -17.8 7.1z" fill="#f9bb3d"/>
<path d="M1886.7 250.5l17.8 -7.1 -4.1 -3.9 -17.9 7.1z" fill="#f9bb3d"/>
<path d="M1890.8 254.4l17.8 -7.1 -4.1 -3.9 -17.8 7.1z" fill="#f9bb3d"/>
<path d="M1895.0 258.2l17.8 -7.1 -4.2 -3.8 -17.8 7.1z" fill="#f9bb3d"/>
<path d="M1899.1 262.1l17.8 -7.1 -4.1 -3.9 -17.8 7.1z" fill="#f9bb3d"/>
<path d="M1903.2 266.0l17.9 -7.1 -4.2 -3.9 -17.8 7.1z" fill="#f9bb3d"/>
<path d="M1907.4 269.9l17.8 -7.2 -4.1 -3.8 -17.9 7.1z" fill="#f9bb3d"/>
<path d="M1911.5 273.7l17.8 -7.1 -4.1 -3.9 -17.8 7.2z" fill="#f9bb3d"/>
<path d="M1915.7 277.6l17.8 -7.1 -4.2 -3.9 -17.8 7.1z" fill="#f9bb3d"/>
<path d="M1919.8 281.5l17.8 -7.2 -4.1 -3.8 -17.8 7.1z" fill="#f9bb3d"/>
<path d="M1923.9 285.3l17.9 -7.1 -4.2 -3.9 -17.8 7.2z" fill="#f9bb3d"/>
<path d="M1928.1 289.2l17.8 -7.1 -4.1 -3.9 -17.9 7.1z" fill="#f9ba3d"/>
<path d="M1932.2 293.1l17.8 -7.2 -4.1 -3.8 -17.8 7.1z" fill="#f9ba3d"/>
<path d="M1936.4 296.9l17.8 -7.1 -4.2 -3.9 -17.8 7.2z" fill="#f9ba3d"/>
<path d="M1940.5 300.8l17.8 -7.2 -4.1 -3.8 -17.8 7.1z" fill="#f9ba3d"/>
<path d="M1944.6 304.7l17.9 -7.2 -4.2 -3.9 -17.8 7.2z" fill="#f9ba3d"/>
<path d="M1948.8 308.5l17.8 -7.2 -4.1 -3.8 -17.9 7.2z" fill="#f8ba3d"/>
<path d="M1952.9 312.4l17.8 -7.2 -4.1 -3.9 -17.8 7.2z" fill="#f8ba3d"/>
<path d="M1957.1 316.2l17.8 -7.2 -4.2 -3.8 -17.8 7.2z" fill="#f8ba3d"/>
<path d="M1961.2 320.1l17.8 -7.2 -4.1 -3.9 -17.8 7.2z" fill="#f8ba3d"/>
<path d="M1965.3 323.9l17.9 -7.2 -4.2 -3.8 -17.8 7.2z" fill="#f8ba3d"/>
<path d="M1969.5 327.8l17.8 -7.2 -4.1 -3.9 -17.9 7.2z" fill="#f8ba3d"/>
<path d="M1973.6 331.6l17.8 -7.2 -4.1 -3.8 -17.8 7.2z" fill="#f8ba3d"/>
<path d="M1977.8 335.5l17.8 -7.2 -4.2 -3.9 -17.8 7.2z" fill="#f8ba3d"/>
<path d="M1981.9 339.3l17.8 -7.2 -4.1 -3.8 -17.8 7.2z" fill="#f8ba3d"/>
<path d="M1986.0 343.1l17.9 -7.2 -4.2 -3.8 -17.8 7.2z" fill="#f8ba3d"/>
<path d="M1990.2 347.0l17.8 -7.2 -4.1 -3.9 -17.9 7.2z" fill="#f8ba3d"/>
<path d="M1994.3 350.8l17.8 -7.2 -4.1 -3.8 -17.8 7.2z" fill="#f8ba3d"/>
<path d="M1998.5 354.7l17.8 -7.3 -4.2 -3.8 -17.8 7.2z" fill="#f8ba3d"/>
<path d="M2002.6 358.5l17.8 -7.2 -4.1 -3.9 -17.8 7.3z" fill="#f8ba3d"/>
<path d="M2006.7 362.3l17.8 -7.2 -4.1 -3.8 -17.8 7.2z" fill="#f8ba3d"/>
<path d="M2010.9 366.2l17.8 -7.3 -4.2 -3.8 -17.8 7.2z" fill="#f8ba3d"/>
<path d="M2015.0 370.0l17.8 -7.2 -4.1 -3.9 -17.8 7.3z" fill="#f8ba3d"/>
<path d="M2019.2 373.8l17.8 -7.2 -4.2 -3.8 -17.8 7.2z" fill="#f8ba3d"/>
<path d="M2023.3 377.6l17.8 -7.2 -4.1 -3.8 -17.8 7.2z" fill="#f8ba3d"/>
<path d="M2027.4 381.5l17.8 -7.3 -4.1 -3.8 -17.8 7.2z" fill="#f8ba3d"/>
<path d="M2031.6 385.3l17.8 -7.3 -4.2 -3.8 -17.8 7.3z" fill="#f8ba3d"/>
<path d="M2035.7 389.1l17.8 -7.2 -4.1 -3.9 -17.8 7.3z" fill="#f8ba3d"/>
<path d="M2039.9 392.9l17.8 -7.2 -4.2 -3.8 -17.8 7.2z" fill="#f8ba3d"/>
<path d="M2044.0 396.7l17.8 -7.2 -4.1 -3.8 -17.8 7.2z" fill="#f8ba3d"/>
<path d="M2048.1 400.5l17.8 -7.2 -4.1 -3.8 -17.8 7.2z" fill="#f8ba3d"/>
<path d="M2052.3 404.4l17.8 -7.3 -4.2 -3.8 -17.8 7.2z" fill="#f8ba3d"/>
<path d="M2056.4 408.2l17.8 -7.3 -4.1 -3.8 -17.8 7.3z" fill="#f8ba3d"/>
<path d="M2060.6 412.0l17.8 -7.3 -4.2 -3.8 -17.8 7.3z" fill="#f8ba3d"/>
<path d="M2064.7 415.8l17.8 -7.3 -4.1 -3.8 -17.8 7.3z" fill="#f8ba3d"/>
<path d="M2068.8 419.6l17.8 -7.3 -4.1 -3.8 -17.8 7.3z" fill="#f8ba3d"/>
<path d="M2073.0 423.4l17.8 -7.3 -4.2 -3.8 -17.8 7.3z" fill="#f8ba3d"/>
<path d="M2077.1 427.2l17.8 -7.3 -4.1 -3.8 -17.8 7.3z" fill="#f8ba3d"/>
<path d="M1864.7 254.0l17.8 -7.4 -4.1 -3.9 -17.8 7.4z" fill="#f3ba38"/>
<path d="M1868.9 257.9l17.8 -7.4 -4.2 -3.9 -17.8 7.4z" fill="#f3ba38"/>
<path d="M1873.0 261.7l17.8 -7.3 -4.1 -3.9 -17.8 7.4z" fill="#f2ba38"/>
<path d="M1877.2 265.6l17.8 -7.4 -4.2 -3.8 -17.8 7.3z" fill="#f2ba38"/>
<path d="M1881.3 269.5l17.8 -7.4 -4.1 -3.9 -17.8 7.4z" fill="#f2ba38"/>
<path d="M1885.4 273.4l17.8 -7.4 -4.1 -3.9 -17.8 7.4z" fill="#f2ba38"/>
<path d="M1889.6 277.3l17.8 -7.4 -4.2 -3.9 -17.8 7.4z" fill="#f2ba38"/>
<path d="M1893.7 281.2l17.8 -7.5 -4.1 -3.8 -17.8 7.4z" fill="#f2ba38"/>
<path d="M1897.8 285.0l17.9 -7.4 -4.2 -3.9 -17.8 7.5z" fill="#f2ba38"/>
<path d="M1902.0 288.9l17.8 -7.4 -4.1 -3.9 -17.9 7.4z" fill="#f2ba38"/>
<path d="M1906.1 292.8l17.8 -7.5 -4.1 -3.8 -17.8 7.4z" fill="#f2ba38"/>
<path d="M1910.3 296.7l17.8 -7.5 -4.2 -3.9 -17.8 7.5z" fill="#f2ba37"/>
<path d="M1914.4 300.5l17.8 -7.4 -4.1 -3.9 -17.8 7.5z" fill="#f2ba37"/>
<path d="M1918.5 304.4l17.9 -7.5 -4.2 -3.8 -17.8 7.4z" fill="#f2ba37"/>
<path d="M1922.7 308.3l17.8 -7.5 -4.1 -3.9 -17.9 7.5z" fill="#f1ba37"/>
<path d="M1926.8 312.1l17.8 -7.4 -4.1 -3.9 -17.8 7.5z" fill="#f1ba37"/>
<path d="M1931.0 316.0l17.8 -7.5 -4.2 -3.8 -17.8 7.4z" fill="#f1ba37"/>
<path d="M1935.1 319.8l17.8 -7.4 -4.1 -3.9 -17.8 7.5z" fill="#f1ba37"/>
<path d="M1939.2 323.7l17.9 -7.5 -4.2 -3.8 -17.8 7.4z" fill="#f1ba37"/>
<path d="M1943.4 327.6l17.8 -7.5 -4.1 -3.9 -17.9 7.5z" fill="#f1ba37"/>
<path d="M1947.5 331.4l17.8 -7.5 -4.1 -3.8 -17.8 7.5z" fill="#f1ba37"/>
<path d="M1951.7 335.3l17.8 -7.5 -4.2 -3.9 -17.8 7.5z" fill="#f1ba37"/>
<path d="M1955.8 339.1l17.8 -7.5 -4.1 -3.8 -17.8 7.5z" fill="#f1ba37"/>
<path d="M1959.9 343.0l17.9 -7.5 -4.2 -3.9 -17.8 7.5z" fill="#f1ba37"/>
<path d="M1964.1 346.8l17.8 -7.5 -4.1 -3.8 -17.9 7.5z" fill="#f1ba37"/>
<path d="M1968.2 350.7l17.8 -7.6 -4.1 -3.8 -17.8 7.5z" fill="#f1ba37"/>
<path d="M1972.4 354.5l17.8 -7.5 -4.2 -3.9 -17.8 7.6z" fill="#f1ba37"/>
<path d="M1976.5 358.3l17.8 -7.5 -4.1 -3.8 -17.8 7.5z" fill="#f1ba37"/>
<path d="M1980.6 362.2l17.9 -7.5 -4.2 -3.9 -17.8 7.5z" fill="#f1ba37"/>
<path d="M1984.8 366.0l17.8 -7.5 -4.1 -3.8 -17.9 7.5z" fill="#f1ba37"/>
<path d="M1988.9 369.8l17.8 -7.5 -4.1 -3.8 -17.8 7.5z" fill="#f1ba36"/>
<path d="M1993.1 373.7l17.8 -7.5 -4.2 -3.9 -17.8 7.5z" fill="#f1ba36"/>
<path d="M1997.2 377.5l17.8 -7.5 -4.1 -3.8 -17.8 7.5z" fill="#f0ba36"/>
<path d="M2001.3 381.3l17.9 -7.5 -4.2 -3.8 -17.8 7.5z" fill="#f0ba36"/>
<path d="M2005.5 385.2l17.8 -7.6 -4.1 -3.8 -17.9 7.5z" fill="#f0ba36"/>
<path d="M2009.6 389.0l17.8 -7.5 -4.1 -3.9 -17.8 7.6z" fill="#f0ba36"/>
<path d="M2013.8 392.8l17.8 -7.5 -4.2 -3.8 -17.8 7.5z" fill="#f0ba36"/>
<path d="M2017.9 396.6l17.8 -7.5 -4.1 -3.8 -17.8 7.5z" fill="#f0ba36"/>
<path d="M2022.0 400.5l17.9 -7.6 -4.2 -3.8 -17.8 7.5z" fill="#f0ba36"/>
<path d="M2026.2 404.3l17.8 -7.6 -4.1 -3.8 -17.9 7.6z" fill="#f0ba36"/>
<path d="M2030.3 408.1l17.8 -7.6 -4.1 -3.8 -17.8 7.6z" fill="#f0ba36"/>
<path d="M2034.5 411.9l17.8 -7.5 -4.2 -3.9 -17.8 7.6z" fill="#f0ba36"/>
<path d="M2038.6 415.7l17.8 -7.5 -4.1 -3.8 -17.8 7.5z" fill="#f0ba36"/>
<path d="M2042.7 419.5l17.9 -7.5 -4.2 -3.8 -17.8 7.5z" fill="#f0ba36"/>
<path d="M2046.9 423.3l17.8 -7.5 -4.1 -3.8 -17.9 7.5z" fill="#f0ba36"/>
<path d="M2051.0 427.1l17.8 -7.5 -4.1 -3.8 -17.8 7.5z" fill="#f0ba36"/>
<path d="M2055.2 430.9l17.8 -7.5 -4.2 -3.8 -17.8 7.5z" fill="#f0ba36"/>
<path d="M2059.3 434.7l17.8 -7.5 -4.1 -3.8 -17.8 7.5z" fill="#f0ba36"/>
<path d="M1846.9 261.7l17.8 -7.7 -4.1 -3.9 -17.8 7.7z" fill="#ebba31"/>
<path d="M1851.1 265.6l17.8 -7.7 -4.2 -3.9 -17.8 7.7z" fill="#ebba31"/>
<path d="M1855.2 269.4l17.8 -7.7 -4.1 -3.8 -17.8 7.7z" fill="#eaba31"/>
<path d="M1859.3 273.3l17.9 -7.7 -4.2 -3.9 -17.8 7.7z" fill="#eaba31"/>
<path d="M1863.5 277.2l17.8 -7.7 -4.1 -3.9 -17.9 7.7z" fill="#eaba31"/>
<path d="M1867.6 281.1l17.8 -7.7 -4.1 -3.9 -17.8 7.7z" fill="#eaba31"/>
<path d="M1871.8 285.0l17.8 -7.7 -4.2 -3.9 -17.8 7.7z" fill="#eaba31"/>
<path d="M1875.9 288.9l17.8 -7.7 -4.1 -3.9 -17.8 7.7z" fill="#eaba30"/>
<path d="M1880.0 292.8l17.8 -7.8 -4.1 -3.8 -17.8 7.7z" fill="#eabb30"/>
<path d="M1884.2 296.7l17.8 -7.8 -4.2 -3.9 -17.8 7.8z" fill="#eabb30"/>
<path d="M1888.3 300.5l17.8 -7.7 -4.1 -3.9 -17.8 7.8z" fill="#eabb30"/>
<path d="M1892.5 304.4l17.8 -7.7 -4.2 -3.9 -17.8 7.7z" fill="#eabb30"/>
<path d="M1896.6 308.3l17.8 -7.8 -4.1 -3.8 -17.8 7.7z" fill="#e9bb30"/>
<path d="M1900.7 312.2l17.8 -7.8 -4.1 -3.9 -17.8 7.8z" fill="#e9bb30"/>
<path d="M1904.9 316.0l17.8 -7.7 -4.2 -3.9 -17.8 7.8z" fill="#e9bb30"/>
<path d="M1909.0 319.9l17.8 -7.8 -4.1 -3.8 -17.8 7.7z" fill="#e9bb30"/>
<path d="M1913.2 323.8l17.8 -7.8 -4.2 -3.9 -17.8 7.8z" fill="#e9bb30"/>
<path d="M1917.3 327.6l17.8 -7.8 -4.1 -3.8 -17.8 7.8z" fill="#e9bb30"/>
<path d="M1921.4 331.5l17.8 -7.8 -4.1 -3.9 -17.8 7.8z" fill="#e9bb30"/>
<path d="M1925.6 335.4l17.8 -7.8 -4.2 -3.9 -17.8 7.8z" fill="#e9bb30"/>
<path d="M1929.7 339.2l17.8 -7.8 -4.1 -3.8 -17.8 7.8z" fill="#e9bb2f"/>
<path d="M1933.9 343.1l17.8 -7.8 -4.2 -3.9 -17.8 7.8z" fill="#e9bb2f"/>
<path d="M1938.0 346.9l17.8 -7.8 -4.1 -3.8 -17.8 7.8z" fill="#e9bb2f"/>
<path d="M1942.1 350.8l17.8 -7.8 -4.1 -3.9 -17.8 7.8z" fill="#e9bb2f"/>
<path d="M1946.3 354.6l17.8 -7.8 -4.2 -3.8 -17.8 7.8z" fill="#e9bb2f"/>
<path d="M1950.4 358.5l17.8 -7.8 -4.1 -3.9 -17.8 7.8z" fill="#e9bb2f"/>
<path d="M1954.5 362.3l17.9 -7.8 -4.2 -3.8 -17.8 7.8z" fill="#e8bb2f"/>
<path d="M1958.7 366.2l17.8 -7.9 -4.1 -3.8 -17.9 7.8z" fill="#e8bb2f"/>
<path d="M1962.8 370.0l17.8 -7.8 -4.1 -3.9 -17.8 7.9z" fill="#e8bb2f"/>
<path d="M1967.0 373.9l17.8 -7.9 -4.2 -3.8 -17.8 7.8z" fill="#e8bb2f"/>
<path d="M1971.1 377.7l17.8 -7.9 -4.1 -3.8 -17.8 7.9z" fill="#e8bb2f"/>
<path d="M1975.2 381.5l17.9 -7.8 -4.2 -3.9 -17.8 7.9z" fill="#e8bb2f"/>
<path d="M1979.4 385.4l17.8 -7.9 -4.1 -3.8 -17.9 7.8z" fill="#e8bb2f"/>
<path d="M1983.5 389.2l17.8 -7.9 -4.1 -3.8 -17.8 7.9z" fill="#e8bb2f"/>
<path d="M1987.7 393.0l17.8 -7.8 -4.2 -3.9 -17.8 7.9z" fill="#e8bb2f"/>
<path d="M1991.8 396.9l17.8 -7.9 -4.1 -3.8 -17.8 7.8z" fill="#e8bb2f"/>
<path d="M1995.9 400.7l17.9 -7.9 -4.2 -3.8 -17.8 7.9z" fill="#e8bb2f"/>
<path d="M2000.1 404.5l17.8 -7.9 -4.1 -3.8 -17.9 7.9z" fill="#e8bb2f"/>
<path d="M2004.2 408.3l17.8 -7.8 -4.1 -3.9 -17.8 7.9z" fill="#e8bb2f"/>
<path d="M2008.4 412.1l17.8 -7.8 -4.2 -3.8 -17.8 7.8z" fill="#e8bb2f"/>
<path d="M2012.5 416.0l17.8 -7.9 -4.1 -3.8 -17.8 7.8z" fill="#e8bb2f"/>
<path d="M2016.6 419.8l17.9 -7.9 -4.2 -3.8 -17.8 7.9z" fill="#e8bb2f"/>
<path d="M2020.8 423.6l17.8 -7.9 -4.1 -3.8 -17.9 7.9z" fill="#e8bb2f"/>
<path d="M2024.9 427.4l17.8 -7.9 -4.1 -3.8 -17.8 7.9z" fill="#e8bb2f"/>
<path d="M2029.1 431.2l17.8 -7.9 -4.2 -3.8 -17.8 7.9z" fill="#e8bb2f"/>
<path d="M2033.2 435.0l17.8 -7.9 -4.1 -3.8 -17.8 7.9z" fill="#e8bb2f"/>
<path d="M2037.3 438.8l17.9 -7.9 -4.2 -3.8 -17.8 7.9z" fill="#e8bb2f"/>
<path d="M2041.5 442.6l17.8 -7.9 -4.1 -3.8 -17.9 7.9z" fill="#e8bb2f"/>
<path d="M1829.1 269.7l17.8 -8 -4.1 -3.9 -17.8 8z" fill="#e2bc2b"/>
<path d="M1833.2 273.6l17.9 -8 -4.2 -3.9 -17.8 8z" fill="#e2bc2b"/>
<path d="M1837.4 277.5l17.8 -8.1 -4.1 -3.8 -17.9 8z" fill="#e1bc2b"/>
<path d="M1841.5 281.4l17.8 -8.1 -4.1 -3.9 -17.8 8.1z" fill="#e1bc2b"/>
<path d="M1845.7 285.3l17.8 -8.1 -4.2 -3.9 -17.8 8.1z" fill="#e1bc2b"/>
<path d="M1849.8 289.2l17.8 -8.1 -4.1 -3.9 -17.8 8.1z" fill="#e1bc2b"/>
<path d="M1853.9 293.1l17.9 -8.1 -4.2 -3.9 -17.8 8.1z" fill="#e1bc2b"/>
<path d="M1858.1 297.0l17.8 -8.1 -4.1 -3.9 -17.9 8.1z" fill="#e1bc2b"/>
<path d="M1862.2 300.9l17.8 -8.1 -4.1 -3.9 -17.8 8.1z" fill="#e1bc2b"/>
<path d="M1866.4 304.7l17.8 -8 -4.2 -3.9 -17.8 8.1z" fill="#e1bc2b"/>
<path d="M1870.5 308.6l17.8 -8.1 -4.1 -3.8 -17.8 8z" fill="#e0bc2b"/>
<path d="M1874.6 312.5l17.9 -8.1 -4.2 -3.9 -17.8 8.1z" fill="#e0bc2b"/>
<path d="M1878.8 316.4l17.8 -8.1 -4.1 -3.9 -17.9 8.1z" fill="#e0bc2a"/>
<path d="M1882.9 320.3l17.8 -8.1 -4.1 -3.9 -17.8 8.1z" fill="#e0bc2a"/>
<path d="M1887.1 324.2l17.8 -8.2 -4.2 -3.8 -17.8 8.1z" fill="#e0bc2a"/>
<path d="M1891.2 328.0l17.8 -8.1 -4.1 -3.9 -17.8 8.2z" fill="#e0bc2a"/>
<path d="M1895.3 331.9l17.9 -8.1 -4.2 -3.9 -17.8 8.1z" fill="#e0bc2a"/>
<path d="M1899.5 335.8l17.8 -8.2 -4.1 -3.8 -17.9 8.1z" fill="#e0bc2a"/>
<path d="M1903.6 339.6l17.8 -8.1 -4.1 -3.9 -17.8 8.2z" fill="#e0bc2a"/>
<path d="M1907.8 343.5l17.8 -8.1 -4.2 -3.9 -17.8 8.1z" fill="#dfbc2a"/>
<path d="M1911.9 347.4l17.8 -8.2 -4.1 -3.8 -17.8 8.1z" fill="#dfbc2a"/>
<path d="M1916.0 351.2l17.9 -8.1 -4.2 -3.9 -17.8 8.2z" fill="#dfbc2a"/>
<path d="M1920.2 355.1l17.8 -8.2 -4.1 -3.8 -17.9 8.1z" fill="#dfbc2a"/>
<path d="M1924.3 359.0l17.8 -8.2 -4.1 -3.9 -17.8 8.2z" fill="#dfbc2a"/>
<path d="M1928.5 362.8l17.8 -8.2 -4.2 -3.8 -17.8 8.2z" fill="#dfbc2a"/>
<path d="M1932.6 366.7l17.8 -8.2 -4.1 -3.9 -17.8 8.2z" fill="#dfbc2a"/>
<path d="M1936.7 370.5l17.8 -8.2 -4.1 -3.8 -17.8 8.2z" fill="#dfbc2a"/>
<path d="M1940.9 374.4l17.8 -8.2 -4.2 -3.9 -17.8 8.2z" fill="#dfbc2a"/>
<path d="M1945.0 378.2l17.8 -8.2 -4.1 -3.8 -17.8 8.2z" fill="#dfbc2a"/>
<path d="M1949.2 382.0l17.8 -8.1 -4.2 -3.9 -17.8 8.2z" fill="#dfbc2a"/>
<path d="M1953.3 385.9l17.8 -8.2 -4.1 -3.8 -17.8 8.1z" fill="#dfbc2a"/>
<path d="M1957.4 389.7l17.8 -8.2 -4.1 -3.8 -17.8 8.2z" fill="#dfbc2a"/>
<path d="M1961.6 393.6l17.8 -8.2 -4.2 -3.9 -17.8 8.2z" fill="#dfbc2a"/>
<path d="M1965.7 397.4l17.8 -8.2 -4.1 -3.8 -17.8 8.2z" fill="#dfbc2a"/>
<path d="M1969.8 401.2l17.9 -8.2 -4.2 -3.8 -17.8 8.2z" fill="#dfbc2a"/>
<path d="M1974.0 405.1l17.8 -8.2 -4.1 -3.9 -17.9 8.2z" fill="#debc2a"/>
<path d="M1978.1 408.9l17.8 -8.2 -4.1 -3.8 -17.8 8.2z" fill="#debc2a"/>
<path d="M1982.3 412.7l17.8 -8.2 -4.2 -3.8 -17.8 8.2z" fill="#debc2a"/>
<path d="M1986.4 416.5l17.8 -8.2 -4.1 -3.8 -17.8 8.2z" fill="#debc2a"/>
<path d="M1990.5 420.4l17.9 -8.3 -4.2 -3.8 -17.8 8.2z" fill="#debc2a"/>
<path d="M1994.7 424.2l17.8 -8.2 -4.1 -3.9 -17.9 8.3z" fill="#debc2a"/>
<path d="M1998.8 428.0l17.8 -8.2 -4.1 -3.8 -17.8 8.2z" fill="#debc2a"/>
<path d="M2003.0 431.8l17.8 -8.2 -4.2 -3.8 -17.8 8.2z" fill="#debc2a"/>
<path d="M2007.1 435.6l17.8 -8.2 -4.1 -3.8 -17.8 8.2z" fill="#debc2a"/>
<path d="M2011.2 439.4l17.9 -8.2 -4.2 -3.8 -17.8 8.2z" fill="#debc2a"/>
<path d="M2015.4 443.2l17.8 -8.2 -4.1 -3.8 -17.9 8.2z" fill="#debc2a"/>
<path d="M2019.5 447.0l17.8 -8.2 -4.1 -3.8 -17.8 8.2z" fill="#debc2a"/>
<path d="M2023.7 450.8l17.8 -8.2 -4.2 -3.8 -17.8 8.2z" fill="#debc2a"/>
<path d="M1811.3 278.0l17.8 -8.3 -4.1 -3.9 -17.9 8.3z" fill="#d7be28"/>
<path d="M1815.4 281.9l17.8 -8.3 -4.1 -3.9 -17.8 8.3z" fill="#d7be28"/>
<path d="M1819.6 285.8l17.8 -8.3 -4.2 -3.9 -17.8 8.3z" fill="#d7be28"/>
<path d="M1823.7 289.7l17.8 -8.3 -4.1 -3.9 -17.8 8.3z" fill="#d7be28"/>
<path d="M1827.8 293.7l17.9 -8.4 -4.2 -3.9 -17.8 8.3z" fill="#d7be28"/>
<path d="M1832.0 297.6l17.8 -8.4 -4.1 -3.9 -17.9 8.4z" fill="#d7be28"/>
<path d="M1836.1 301.5l17.8 -8.4 -4.1 -3.9 -17.8 8.4z" fill="#d6be28"/>
<path d="M1840.3 305.4l17.8 -8.4 -4.2 -3.9 -17.8 8.4z" fill="#d6be28"/>
<path d="M1844.4 309.3l17.8 -8.4 -4.1 -3.9 -17.8 8.4z" fill="#d6be28"/>
<path d="M1848.5 313.2l17.9 -8.5 -4.2 -3.8 -17.8 8.4z" fill="#d6be28"/>
<path d="M1852.7 317.1l17.8 -8.5 -4.1 -3.9 -17.9 8.5z" fill="#d6be28"/>
<path d="M1856.8 321.0l17.8 -8.5 -4.1 -3.9 -17.8 8.5z" fill="#d6be28"/>
<path d="M1861.0 324.8l17.8 -8.4 -4.2 -3.9 -17.8 8.5z" fill="#d6be28"/>
<path d="M1865.1 328.7l17.8 -8.4 -4.1 -3.9 -17.8 8.4z" fill="#d5be28"/>
<path d="M1869.2 332.6l17.9 -8.4 -4.2 -3.9 -17.8 8.4z" fill="#d5be28"/>
<path d="M1873.4 336.5l17.8 -8.5 -4.1 -3.8 -17.9 8.4z" fill="#d5be28"/>
<path d="M1877.5 340.4l17.8 -8.5 -4.1 -3.9 -17.8 8.5z" fill="#d5be28"/>
<path d="M1881.7 344.3l17.8 -8.5 -4.2 -3.9 -17.8 8.5z" fill="#d5be28"/>
<path d="M1885.8 348.1l17.8 -8.5 -4.1 -3.8 -17.8 8.5z" fill="#d5be28"/>
<path d="M1889.9 352.0l17.9 -8.5 -4.2 -3.9 -17.8 8.5z" fill="#d5be28"/>
<path d="M1894.1 355.9l17.8 -8.5 -4.1 -3.9 -17.9 8.5z" fill="#d5be28"/>
<path d="M1898.2 359.7l17.8 -8.5 -4.1 -3.8 -17.8 8.5z" fill="#d5be28"/>
<path d="M1902.4 363.6l17.8 -8.5 -4.2 -3.9 -17.8 8.5z" fill="#d4be28"/>
<path d="M1906.5 367.5l17.8 -8.5 -4.1 -3.9 -17.8 8.5z" fill="#d4bf28"/>
<path d="M1910.6 371.3l17.9 -8.5 -4.2 -3.8 -17.8 8.5z" fill="#d4bf28"/>
<path d="M1914.8 375.2l17.8 -8.5 -4.1 -3.9 -17.9 8.5z" fill="#d4bf28"/>
<path d="M1918.9 379.0l17.8 -8.5 -4.1 -3.8 -17.8 8.5z" fill="#d4bf28"/>
<path d="M1923.1 382.9l17.8 -8.5 -4.2 -3.9 -17.8 8.5z" fill="#d4bf28"/>
<path d="M1927.2 386.7l17.8 -8.5 -4.1 -3.8 -17.8 8.5z" fill="#d4bf28"/>
<path d="M1931.3 390.6l17.9 -8.6 -4.2 -3.8 -17.8 8.5z" fill="#d4bf28"/>
<path d="M1935.5 394.4l17.8 -8.5 -4.1 -3.9 -17.9 8.6z" fill="#d4bf28"/>
<path d="M1939.6 398.3l17.8 -8.6 -4.1 -3.8 -17.8 8.5z" fill="#d4bf28"/>
<path d="M1943.8 402.1l17.8 -8.5 -4.2 -3.9 -17.8 8.6z" fill="#d4bf28"/>
<path d="M1947.9 406.0l17.8 -8.6 -4.1 -3.8 -17.8 8.5z" fill="#d4bf27"/>
<path d="M1952.0 409.8l17.8 -8.6 -4.1 -3.8 -17.8 8.6z" fill="#d4bf27"/>
<path d="M1956.2 413.6l17.8 -8.5 -4.2 -3.9 -17.8 8.6z" fill="#d4bf27"/>
<path d="M1960.3 417.5l17.8 -8.6 -4.1 -3.8 -17.8 8.5z" fill="#d4bf27"/>
<path d="M1964.5 421.3l17.8 -8.6 -4.2 -3.8 -17.8 8.6z" fill="#d3bf27"/>
<path d="M1968.6 425.1l17.8 -8.6 -4.1 -3.8 -17.8 8.6z" fill="#d3bf27"/>
<path d="M1972.7 428.9l17.8 -8.5 -4.1 -3.9 -17.8 8.6z" fill="#d3bf27"/>
<path d="M1976.9 432.7l17.8 -8.5 -4.2 -3.8 -17.8 8.5z" fill="#d3bf27"/>
<path d="M1981.0 436.6l17.8 -8.6 -4.1 -3.8 -17.8 8.5z" fill="#d3bf27"/>
<path d="M1985.2 440.4l17.8 -8.6 -4.2 -3.8 -17.8 8.6z" fill="#d3bf27"/>
<path d="M1989.3 444.2l17.8 -8.6 -4.1 -3.8 -17.8 8.6z" fill="#d3bf27"/>
<path d="M1993.4 448.0l17.8 -8.6 -4.1 -3.8 -17.8 8.6z" fill="#d3bf27"/>
<path d="M1997.6 451.8l17.8 -8.6 -4.2 -3.8 -17.8 8.6z" fill="#d3bf27"/>
<path d="M2001.7 455.6l17.8 -8.6 -4.1 -3.8 -17.8 8.6z" fill="#d3bf27"/>
<path d="M2005.8 459.4l17.9 -8.6 -4.2 -3.8 -17.8 8.6z" fill="#d3bf27"/>
<path d="M1793.5 286.7l17.8 -8.7 -4.2 -3.9 -17.8 8.7z" fill="#ccc028"/>
<path d="M1797.6 290.6l17.8 -8.7 -4.1 -3.9 -17.8 8.7z" fill="#cbc029"/>
<path d="M1801.8 294.6l17.8 -8.8 -4.2 -3.9 -17.8 8.7z" fill="#cbc029"/>
<path d="M1805.9 298.5l17.8 -8.8 -4.1 -3.9 -17.8 8.8z" fill="#cbc129"/>
<path d="M1810.0 302.4l17.8 -8.7 -4.1 -4 -17.8 8.8z" fill="#cbc129"/>
<path d="M1814.2 306.3l17.8 -8.7 -4.2 -3.9 -17.8 8.7z" fill="#cbc129"/>
<path d="M1818.3 310.2l17.8 -8.7 -4.1 -3.9 -17.8 8.7z" fill="#cbc129"/>
<path d="M1822.5 314.1l17.8 -8.7 -4.2 -3.9 -17.8 8.7z" fill="#cac129"/>
<path d="M1826.6 318.0l17.8 -8.7 -4.1 -3.9 -17.8 8.7z" fill="#cac129"/>
<path d="M1830.7 322.0l17.8 -8.8 -4.1 -3.9 -17.8 8.7z" fill="#cac129"/>
<path d="M1834.9 325.9l17.8 -8.8 -4.2 -3.9 -17.8 8.8z" fill="#cac129"/>
<path d="M1839.0 329.8l17.8 -8.8 -4.1 -3.9 -17.8 8.8z" fill="#cac129"/>
<path d="M1843.1 333.7l17.9 -8.9 -4.2 -3.8 -17.8 8.8z" fill="#cac129"/>
<path d="M1847.3 337.6l17.8 -8.9 -4.1 -3.9 -17.9 8.9z" fill="#c9c129"/>
<path d="M1851.4 341.4l17.8 -8.8 -4.1 -3.9 -17.8 8.9z" fill="#c9c129"/>
<path d="M1855.6 345.3l17.8 -8.8 -4.2 -3.9 -17.8 8.8z" fill="#c9c129"/>
<path d="M1859.7 349.2l17.8 -8.8 -4.1 -3.9 -17.8 8.8z" fill="#c9c129"/>
<path d="M1863.8 353.1l17.9 -8.8 -4.2 -3.9 -17.8 8.8z" fill="#c9c129"/>
<path d="M1868.0 357.0l17.8 -8.9 -4.1 -3.8 -17.9 8.8z" fill="#c9c129"/>
<path d="M1872.1 360.9l17.8 -8.9 -4.1 -3.9 -17.8 8.9z" fill="#c9c129"/>
<path d="M1876.3 364.7l17.8 -8.8 -4.2 -3.9 -17.8 8.9z" fill="#c9c129"/>
<path d="M1880.4 368.6l17.8 -8.9 -4.1 -3.8 -17.8 8.8z" fill="#c8c129"/>
<path d="M1884.5 372.5l17.9 -8.9 -4.2 -3.9 -17.8 8.9z" fill="#c8c129"/>
<path d="M1888.7 376.4l17.8 -8.9 -4.1 -3.9 -17.9 8.9z" fill="#c8c129"/>
<path d="M1892.8 380.2l17.8 -8.9 -4.1 -3.8 -17.8 8.9z" fill="#c8c129"/>
<path d="M1897.0 384.1l17.8 -8.9 -4.2 -3.9 -17.8 8.9z" fill="#c8c129"/>
<path d="M1901.1 387.9l17.8 -8.9 -4.1 -3.8 -17.8 8.9z" fill="#c8c129"/>
<path d="M1905.2 391.8l17.9 -8.9 -4.2 -3.9 -17.8 8.9z" fill="#c8c129"/>
<path d="M1909.4 395.7l17.8 -9 -4.1 -3.8 -17.9 8.9z" fill="#c8c129"/>
<path d="M1913.5 399.5l17.8 -8.9 -4.1 -3.9 -17.8 9z" fill="#c8c129"/>
<path d="M1917.7 403.4l17.8 -9 -4.2 -3.8 -17.8 8.9z" fill="#c8c129"/>
<path d="M1921.8 407.2l17.8 -8.9 -4.1 -3.9 -17.8 9z" fill="#c7c129"/>
<path d="M1925.9 411.1l17.9 -9 -4.2 -3.8 -17.8 8.9z" fill="#c7c129"/>
<path d="M1930.1 414.9l17.8 -8.9 -4.1 -3.9 -17.9 9z" fill="#c7c129"/>
<path d="M1934.2 418.7l17.8 -8.9 -4.1 -3.8 -17.8 8.9z" fill="#c7c12a"/>
<path d="M1938.4 422.6l17.8 -9 -4.2 -3.8 -17.8 8.9z" fill="#c7c12a"/>
<path d="M1942.5 426.4l17.8 -8.9 -4.1 -3.9 -17.8 9z" fill="#c7c12a"/>
<path d="M1946.6 430.2l17.9 -8.9 -4.2 -3.8 -17.8 8.9z" fill="#c7c12a"/>
<path d="M1950.8 434.1l17.8 -9 -4.1 -3.8 -17.9 8.9z" fill="#c7c12a"/>
<path d="M1954.9 437.9l17.8 -9 -4.1 -3.8 -17.8 9z" fill="#c7c12a"/>
<path d="M1959.1 441.7l17.8 -9 -4.2 -3.8 -17.8 9z" fill="#c7c12a"/>
<path d="M1963.2 445.5l17.8 -8.9 -4.1 -3.9 -17.8 9z" fill="#c7c12a"/>
<path d="M1967.3 449.3l17.9 -8.9 -4.2 -3.8 -17.8 8.9z" fill="#c7c12a"/>
<path d="M1971.5 453.1l17.8 -8.9 -4.1 -3.8 -17.9 8.9z" fill="#c7c12a"/>
<path d="M1975.6 457.0l17.8 -9 -4.1 -3.8 -17.8 8.9z" fill="#c7c12a"/>
<path d="M1979.8 460.8l17.8 -9 -4.2 -3.8 -17.8 9z" fill="#c7c12a"/>
<path d="M1983.9 464.6l17.8 -9 -4.1 -3.8 -17.8 9z" fill="#c7c12a"/>
<path d="M1988.0 468.4l17.8 -9 -4.1 -3.8 -17.8 9z" fill="#c7c12a"/>
<path d="M1775.7 295.8l17.8 -9.1 -4.2 -3.9 -17.8 9z" fill="#bfc32e"/>
<path d="M1779.8 299.7l17.8 -9.1 -4.1 -3.9 -17.8 9.1z" fill="#bec32e"/>
<path d="M1783.9 303.6l17.9 -9 -4.2 -4 -17.8 9.1z" fill="#bec32e"/>
<path d="M1788.1 307.6l17.8 -9.1 -4.1 -3.9 -17.9 9z" fill="#bec32e"/>
<path d="M1792.2 311.5l17.8 -9.1 -4.1 -3.9 -17.8 9.1z" fill="#bec32e"/>
<path d="M1796.4 315.4l17.8 -9.1 -4.2 -3.9 -17.8 9.1z" fill="#bdc32e"/>
<path d="M1800.5 319.4l17.8 -9.2 -4.1 -3.9 -17.8 9.1z" fill="#bdc32e"/>
<path d="M1804.6 323.3l17.9 -9.2 -4.2 -3.9 -17.8 9.2z" fill="#bdc32e"/>
<path d="M1808.8 327.2l17.8 -9.2 -4.1 -3.9 -17.9 9.2z" fill="#bdc32f"/>
<path d="M1812.9 331.1l17.8 -9.1 -4.1 -4 -17.8 9.2z" fill="#bdc42f"/>
<path d="M1817.1 335.0l17.8 -9.1 -4.2 -3.9 -17.8 9.1z" fill="#bcc42f"/>
<path d="M1821.2 338.9l17.8 -9.1 -4.1 -3.9 -17.8 9.1z" fill="#bcc42f"/>
<path d="M1825.3 342.8l17.8 -9.1 -4.1 -3.9 -17.8 9.1z" fill="#bcc42f"/>
<path d="M1829.5 346.8l17.8 -9.2 -4.2 -3.9 -17.8 9.1z" fill="#bcc42f"/>
<path d="M1833.6 350.7l17.8 -9.3 -4.1 -3.8 -17.8 9.2z" fill="#bcc42f"/>
<path d="M1837.8 354.6l17.8 -9.3 -4.2 -3.9 -17.8 9.3z" fill="#bcc42f"/>
<path d="M1841.9 358.4l17.8 -9.2 -4.1 -3.9 -17.8 9.3z" fill="#bbc42f"/>
<path d="M1846.0 362.3l17.8 -9.2 -4.1 -3.9 -17.8 9.2z" fill="#bbc42f"/>
<path d="M1850.2 366.2l17.8 -9.2 -4.2 -3.9 -17.8 9.2z" fill="#bbc42f"/>
<path d="M1854.3 370.1l17.8 -9.2 -4.1 -3.9 -17.8 9.2z" fill="#bbc42f"/>
<path d="M1858.5 374.0l17.8 -9.3 -4.2 -3.8 -17.8 9.2z" fill="#bbc430"/>
<path d="M1862.6 377.9l17.8 -9.3 -4.1 -3.9 -17.8 9.3z" fill="#bbc430"/>
<path d="M1866.7 381.8l17.8 -9.3 -4.1 -3.9 -17.8 9.3z" fill="#bbc430"/>
<path d="M1870.9 385.6l17.8 -9.2 -4.2 -3.9 -17.8 9.3z" fill="#bac430"/>
<path d="M1875.0 389.5l17.8 -9.3 -4.1 -3.8 -17.8 9.2z" fill="#bac430"/>
<path d="M1879.2 393.4l17.8 -9.3 -4.2 -3.9 -17.8 9.3z" fill="#bac430"/>
<path d="M1883.3 397.2l17.8 -9.3 -4.1 -3.8 -17.8 9.3z" fill="#bac430"/>
<path d="M1887.4 401.1l17.8 -9.3 -4.1 -3.9 -17.8 9.3z" fill="#bac430"/>
<path d="M1891.6 405.0l17.8 -9.3 -4.2 -3.9 -17.8 9.3z" fill="#bac430"/>
<path d="M1895.7 408.8l17.8 -9.3 -4.1 -3.8 -17.8 9.3z" fill="#bac430"/>
<path d="M1899.8 412.7l17.9 -9.3 -4.2 -3.9 -17.8 9.3z" fill="#bac430"/>
<path d="M1904.0 416.5l17.8 -9.3 -4.1 -3.8 -17.9 9.3z" fill="#bac430"/>
<path d="M1908.1 420.4l17.8 -9.3 -4.1 -3.9 -17.8 9.3z" fill="#bac430"/>
<path d="M1912.3 424.2l17.8 -9.3 -4.2 -3.8 -17.8 9.3z" fill="#b9c430"/>
<path d="M1916.4 428.1l17.8 -9.4 -4.1 -3.8 -17.8 9.3z" fill="#b9c430"/>
<path d="M1920.5 431.9l17.9 -9.3 -4.2 -3.9 -17.8 9.4z" fill="#b9c430"/>
<path d="M1924.7 435.7l17.8 -9.3 -4.1 -3.8 -17.9 9.3z" fill="#b9c430"/>
<path d="M1928.8 439.6l17.8 -9.4 -4.1 -3.8 -17.8 9.3z" fill="#b9c430"/>
<path d="M1933.0 443.4l17.8 -9.3 -4.2 -3.9 -17.8 9.4z" fill="#b9c430"/>
<path d="M1937.1 447.2l17.8 -9.3 -4.1 -3.8 -17.8 9.3z" fill="#b9c430"/>
<path d="M1941.2 451.0l17.9 -9.3 -4.2 -3.8 -17.8 9.3z" fill="#b9c430"/>
<path d="M1945.4 454.9l17.8 -9.4 -4.1 -3.8 -17.9 9.3z" fill="#b9c431"/>
<path d="M1949.5 458.7l17.8 -9.4 -4.1 -3.8 -17.8 9.4z" fill="#b9c431"/>
<path d="M1953.7 462.5l17.8 -9.4 -4.2 -3.8 -17.8 9.4z" fill="#b9c431"/>
<path d="M1957.8 466.3l17.8 -9.3 -4.1 -3.9 -17.8 9.4z" fill="#b9c431"/>
<path d="M1961.9 470.1l17.9 -9.3 -4.2 -3.8 -17.8 9.3z" fill="#b9c431"/>
<path d="M1966.1 473.9l17.8 -9.3 -4.1 -3.8 -17.9 9.3z" fill="#b9c431"/>
<path d="M1970.2 477.7l17.8 -9.3 -4.1 -3.8 -17.8 9.3z" fill="#b9c431"/>
<path d="M1757.8 305.2l17.9 -9.4 -4.2 -4 -17.8 9.5z" fill="#b0c636"/>
<path d="M1762.0 309.2l17.8 -9.5 -4.1 -3.9 -17.9 9.4z" fill="#b0c636"/>
<path d="M1766.1 313.1l17.8 -9.5 -4.1 -3.9 -17.8 9.5z" fill="#afc636"/>
<path d="M1770.3 317.1l17.8 -9.5 -4.2 -4 -17.8 9.5z" fill="#afc637"/>
<path d="M1774.4 321.0l17.8 -9.5 -4.1 -3.9 -17.8 9.5z" fill="#afc637"/>
<path d="M1778.5 324.9l17.9 -9.5 -4.2 -3.9 -17.8 9.5z" fill="#afc637"/>
<path d="M1782.7 328.9l17.8 -9.5 -4.1 -4 -17.9 9.5z" fill="#aec637"/>
<path d="M1786.8 332.8l17.8 -9.5 -4.1 -3.9 -17.8 9.5z" fill="#aec637"/>
<path d="M1791.0 336.7l17.8 -9.5 -4.2 -3.9 -17.8 9.5z" fill="#aec637"/>
<path d="M1795.1 340.7l17.8 -9.6 -4.1 -3.9 -17.8 9.5z" fill="#aec637"/>
<path d="M1799.2 344.6l17.9 -9.6 -4.2 -3.9 -17.8 9.6z" fill="#adc638"/>
<path d="M1803.4 348.5l17.8 -9.6 -4.1 -3.9 -17.9 9.6z" fill="#adc638"/>
<path d="M1807.5 352.4l17.8 -9.6 -4.1 -3.9 -17.8 9.6z" fill="#adc638"/>
<path d="M1811.7 356.3l17.8 -9.5 -4.2 -4 -17.8 9.6z" fill="#adc638"/>
<path d="M1815.8 360.3l17.8 -9.6 -4.1 -3.9 -17.8 9.5z" fill="#adc638"/>
<path d="M1819.9 364.2l17.9 -9.6 -4.2 -3.9 -17.8 9.6z" fill="#acc738"/>
<path d="M1824.1 368.1l17.8 -9.7 -4.1 -3.8 -17.9 9.6z" fill="#acc738"/>
<path d="M1828.2 372.0l17.8 -9.7 -4.1 -3.9 -17.8 9.7z" fill="#acc738"/>
<path d="M1832.4 375.9l17.8 -9.7 -4.2 -3.9 -17.8 9.7z" fill="#acc738"/>
<path d="M1836.5 379.8l17.8 -9.7 -4.1 -3.9 -17.8 9.7z" fill="#acc739"/>
<path d="M1840.6 383.7l17.9 -9.7 -4.2 -3.9 -17.8 9.7z" fill="#acc739"/>
<path d="M1844.8 387.6l17.8 -9.7 -4.1 -3.9 -17.9 9.7z" fill="#abc739"/>
<path d="M1848.9 391.4l17.8 -9.6 -4.1 -3.9 -17.8 9.7z" fill="#abc739"/>
<path d="M1853.1 395.3l17.8 -9.7 -4.2 -3.8 -17.8 9.6z" fill="#abc739"/>
<path d="M1857.2 399.2l17.8 -9.7 -4.1 -3.9 -17.8 9.7z" fill="#abc739"/>
<path d="M1861.3 403.1l17.9 -9.7 -4.2 -3.9 -17.8 9.7z" fill="#abc739"/>
<path d="M1865.5 406.9l17.8 -9.7 -4.1 -3.8 -17.9 9.7z" fill="#abc739"/>
<path d="M1869.6 410.8l17.8 -9.7 -4.1 -3.9 -17.8 9.7z" fill="#abc739"/>
<path d="M1873.8 414.7l17.8 -9.7 -4.2 -3.9 -17.8 9.7z" fill="#aac739"/>
<path d="M1877.9 418.5l17.8 -9.7 -4.1 -3.8 -17.8 9.7z" fill="#aac739"/>
<path d="M1882.0 422.4l17.8 -9.7 -4.1 -3.9 -17.8 9.7z" fill="#aac73a"/>
<path d="M1886.2 426.3l17.8 -9.8 -4.2 -3.8 -17.8 9.7z" fill="#aac73a"/>
<path d="M1890.3 430.1l17.8 -9.7 -4.1 -3.9 -17.8 9.8z" fill="#aac73a"/>
<path d="M1894.5 434.0l17.8 -9.8 -4.2 -3.8 -17.8 9.7z" fill="#aac73a"/>
<path d="M1898.6 437.8l17.8 -9.7 -4.1 -3.9 -17.8 9.8z" fill="#aac73a"/>
<path d="M1902.7 441.7l17.8 -9.8 -4.1 -3.8 -17.8 9.7z" fill="#aac73a"/>
<path d="M1906.9 445.5l17.8 -9.8 -4.2 -3.8 -17.8 9.8z" fill="#aac73a"/>
<path d="M1911.0 449.3l17.8 -9.7 -4.1 -3.9 -17.8 9.8z" fill="#aac73a"/>
<path d="M1915.2 453.2l17.8 -9.8 -4.2 -3.8 -17.8 9.7z" fill="#aac73a"/>
<path d="M1919.3 457.0l17.8 -9.8 -4.1 -3.8 -17.8 9.8z" fill="#aac73a"/>
<path d="M1923.4 460.8l17.8 -9.8 -4.1 -3.8 -17.8 9.8z" fill="#aac73a"/>
<path d="M1927.6 464.6l17.8 -9.7 -4.2 -3.9 -17.8 9.8z" fill="#a9c73a"/>
<path d="M1931.7 468.5l17.8 -9.8 -4.1 -3.8 -17.8 9.7z" fill="#a9c73a"/>
<path d="M1935.8 472.3l17.9 -9.8 -4.2 -3.8 -17.8 9.8z" fill="#a9c73a"/>
<path d="M1940.0 476.1l17.8 -9.8 -4.1 -3.8 -17.9 9.8z" fill="#a9c73a"/>
<path d="M1944.1 479.9l17.8 -9.8 -4.1 -3.8 -17.8 9.8z" fill="#a9c73a"/>
<path d="M1948.3 483.7l17.8 -9.8 -4.2 -3.8 -17.8 9.8z" fill="#a9c73a"/>
<path d="M1952.4 487.5l17.8 -9.8 -4.1 -3.8 -17.8 9.8z" fill="#a9c73a"/>
<path d="M1740.0 315.1l17.8 -9.9 -4.1 -3.9 -17.8 9.8z" fill="#a0c841"/>
<path d="M1744.2 319.0l17.8 -9.8 -4.2 -4 -17.8 9.9z" fill="#9fc941"/>
<path d="M1748.3 323.0l17.8 -9.9 -4.1 -3.9 -17.8 9.8z" fill="#9fc941"/>
<path d="M1752.5 326.9l17.8 -9.8 -4.2 -4 -17.8 9.9z" fill="#9fc942"/>
<path d="M1756.6 330.9l17.8 -9.9 -4.1 -3.9 -17.8 9.8z" fill="#9fc942"/>
<path d="M1760.7 334.9l17.8 -10 -4.1 -3.9 -17.8 9.9z" fill="#9ec942"/>
<path d="M1764.9 338.8l17.8 -9.9 -4.2 -4 -17.8 10z" fill="#9ec942"/>
<path d="M1769.0 342.8l17.8 -10 -4.1 -3.9 -17.8 9.9z" fill="#9ec942"/>
<path d="M1773.1 346.7l17.9 -10 -4.2 -3.9 -17.8 10z" fill="#9dc943"/>
<path d="M1777.3 350.6l17.8 -9.9 -4.1 -4 -17.9 10z" fill="#9dc943"/>
<path d="M1781.4 354.6l17.8 -10 -4.1 -3.9 -17.8 9.9z" fill="#9dc943"/>
<path d="M1785.6 358.5l17.8 -10 -4.2 -3.9 -17.8 10z" fill="#9dc943"/>
<path d="M1789.7 362.4l17.8 -10 -4.1 -3.9 -17.8 10z" fill="#9cc943"/>
<path d="M1793.8 366.4l17.9 -10.1 -4.2 -3.9 -17.8 10z" fill="#9cc944"/>
<path d="M1798.0 370.3l17.8 -10 -4.1 -4 -17.9 10.1z" fill="#9cc944"/>
<path d="M1802.1 374.2l17.8 -10 -4.1 -3.9 -17.8 10z" fill="#9cc944"/>
<path d="M1806.3 378.1l17.8 -10 -4.2 -3.9 -17.8 10z" fill="#9cc944"/>
<path d="M1810.4 382.0l17.8 -10 -4.1 -3.9 -17.8 10z" fill="#9bc944"/>
<path d="M1814.5 385.9l17.9 -10 -4.2 -3.9 -17.8 10z" fill="#9bc944"/>
<path d="M1818.7 389.8l17.8 -10 -4.1 -3.9 -17.9 10z" fill="#9bc945"/>
<path d="M1822.8 393.7l17.8 -10 -4.1 -3.9 -17.8 10z" fill="#9bc945"/>
<path d="M1827.0 397.6l17.8 -10 -4.2 -3.9 -17.8 10z" fill="#9bc945"/>
<path d="M1831.1 401.5l17.8 -10.1 -4.1 -3.8 -17.8 10z" fill="#9ac945"/>
<path d="M1835.2 405.4l17.9 -10.1 -4.2 -3.9 -17.8 10.1z" fill="#9ac945"/>
<path d="M1839.4 409.3l17.8 -10.1 -4.1 -3.9 -17.9 10.1z" fill="#9ac945"/>
<path d="M1843.5 413.2l17.8 -10.1 -4.1 -3.9 -17.8 10.1z" fill="#9ac945"/>
<path d="M1847.7 417.1l17.8 -10.2 -4.2 -3.8 -17.8 10.1z" fill="#9ac945"/>
<path d="M1851.8 421.0l17.8 -10.2 -4.1 -3.9 -17.8 10.2z" fill="#9ac946"/>
<path d="M1855.9 424.8l17.9 -10.1 -4.2 -3.9 -17.8 10.2z" fill="#99c946"/>
<path d="M1860.1 428.7l17.8 -10.2 -4.1 -3.8 -17.9 10.1z" fill="#99c946"/>
<path d="M1864.2 432.6l17.8 -10.2 -4.1 -3.9 -17.8 10.2z" fill="#99c946"/>
<path d="M1868.4 436.4l17.8 -10.1 -4.2 -3.9 -17.8 10.2z" fill="#99c946"/>
<path d="M1872.5 440.3l17.8 -10.2 -4.1 -3.8 -17.8 10.1z" fill="#99c946"/>
<path d="M1876.6 444.1l17.9 -10.1 -4.2 -3.9 -17.8 10.2z" fill="#99c946"/>
<path d="M1880.8 448.0l17.8 -10.2 -4.1 -3.8 -17.9 10.1z" fill="#99c946"/>
<path d="M1884.9 451.8l17.8 -10.1 -4.1 -3.9 -17.8 10.2z" fill="#99c946"/>
<path d="M1889.1 455.7l17.8 -10.2 -4.2 -3.8 -17.8 10.1z" fill="#99c946"/>
<path d="M1893.2 459.5l17.8 -10.2 -4.1 -3.8 -17.8 10.2z" fill="#99c946"/>
<path d="M1897.3 463.4l17.9 -10.2 -4.2 -3.9 -17.8 10.2z" fill="#99c946"/>
<path d="M1901.5 467.2l17.8 -10.2 -4.1 -3.8 -17.9 10.2z" fill="#98c946"/>
<path d="M1905.6 471.0l17.8 -10.2 -4.1 -3.8 -17.8 10.2z" fill="#98c947"/>
<path d="M1909.8 474.8l17.8 -10.2 -4.2 -3.8 -17.8 10.2z" fill="#98c947"/>
<path d="M1913.9 478.7l17.8 -10.2 -4.1 -3.9 -17.8 10.2z" fill="#98c947"/>
<path d="M1918.0 482.5l17.8 -10.2 -4.1 -3.8 -17.8 10.2z" fill="#98c947"/>
<path d="M1922.2 486.3l17.8 -10.2 -4.2 -3.8 -17.8 10.2z" fill="#98c947"/>
<path d="M1926.3 490.1l17.8 -10.2 -4.1 -3.8 -17.8 10.2z" fill="#98c947"/>
<path d="M1930.5 493.9l17.8 -10.2 -4.2 -3.8 -17.8 10.2z" fill="#98c947"/>
<path d="M1934.6 497.7l17.8 -10.2 -4.1 -3.8 -17.8 10.2z" fill="#98c947"/>
<path d="M1722.2 325.3l17.8 -10.2 -4.1 -4 -17.8 10.2z" fill="#8ecb4e"/>
<path d="M1726.4 329.3l17.8 -10.3 -4.2 -3.9 -17.8 10.2z" fill="#8ecb4f"/>
<path d="M1730.5 333.3l17.8 -10.3 -4.1 -4 -17.8 10.3z" fill="#8ecb4f"/>
<path d="M1734.6 337.2l17.9 -10.3 -4.2 -3.9 -17.8 10.3z" fill="#8dcb4f"/>
<path d="M1738.8 341.2l17.8 -10.3 -4.1 -4 -17.9 10.3z" fill="#8dcb4f"/>
<path d="M1742.9 345.2l17.8 -10.3 -4.1 -4 -17.8 10.3z" fill="#8dcb50"/>
<path d="M1747.1 349.2l17.8 -10.4 -4.2 -3.9 -17.8 10.3z" fill="#8ccb50"/>
<path d="M1751.2 353.1l17.8 -10.3 -4.1 -4 -17.8 10.4z" fill="#8ccb50"/>
<path d="M1755.3 357.1l17.8 -10.4 -4.1 -3.9 -17.8 10.3z" fill="#8ccb50"/>
<path d="M1759.5 361.0l17.8 -10.4 -4.2 -3.9 -17.8 10.4z" fill="#8bcb51"/>
<path d="M1763.6 365.0l17.8 -10.4 -4.1 -4 -17.8 10.4z" fill="#8bcb51"/>
<path d="M1767.8 368.9l17.8 -10.4 -4.2 -3.9 -17.8 10.4z" fill="#8bcb51"/>
<path d="M1771.9 372.9l17.8 -10.5 -4.1 -3.9 -17.8 10.4z" fill="#8bcb51"/>
<path d="M1776.0 376.8l17.8 -10.4 -4.1 -4 -17.8 10.5z" fill="#8acb51"/>
<path d="M1780.2 380.7l17.8 -10.4 -4.2 -3.9 -17.8 10.4z" fill="#8acb52"/>
<path d="M1784.3 384.7l17.8 -10.5 -4.1 -3.9 -17.8 10.4z" fill="#8acb52"/>
<path d="M1788.5 388.6l17.8 -10.5 -4.2 -3.9 -17.8 10.5z" fill="#89cb52"/>
<path d="M1792.6 392.5l17.8 -10.5 -4.1 -3.9 -17.8 10.5z" fill="#89cb52"/>
<path d="M1796.7 396.4l17.8 -10.5 -4.1 -3.9 -17.8 10.5z" fill="#89cb52"/>
<path d="M1800.9 400.4l17.8 -10.6 -4.2 -3.9 -17.8 10.5z" fill="#89cb53"/>
<path d="M1805.0 404.3l17.8 -10.6 -4.1 -3.9 -17.8 10.6z" fill="#89cb53"/>
<path d="M1809.1 408.2l17.9 -10.6 -4.2 -3.9 -17.8 10.6z" fill="#88cb53"/>
<path d="M1813.3 412.1l17.8 -10.6 -4.1 -3.9 -17.9 10.6z" fill="#88cb53"/>
<path d="M1817.4 416.0l17.8 -10.6 -4.1 -3.9 -17.8 10.6z" fill="#88cb53"/>
<path d="M1821.6 419.9l17.8 -10.6 -4.2 -3.9 -17.8 10.6z" fill="#88cb53"/>
<path d="M1825.7 423.8l17.8 -10.6 -4.1 -3.9 -17.8 10.6z" fill="#88cb53"/>
<path d="M1829.8 427.7l17.9 -10.6 -4.2 -3.9 -17.8 10.6z" fill="#87cb54"/>
<path d="M1834.0 431.5l17.8 -10.5 -4.1 -3.9 -17.9 10.6z" fill="#87cb54"/>
<path d="M1838.1 435.4l17.8 -10.6 -4.1 -3.8 -17.8 10.5z" fill="#87cb54"/>
<path d="M1842.3 439.3l17.8 -10.6 -4.2 -3.9 -17.8 10.6z" fill="#87cb54"/>
<path d="M1846.4 443.2l17.8 -10.6 -4.1 -3.9 -17.8 10.6z" fill="#87cb54"/>
<path d="M1850.5 447.0l17.9 -10.6 -4.2 -3.8 -17.8 10.6z" fill="#87cb54"/>
<path d="M1854.7 450.9l17.8 -10.6 -4.1 -3.9 -17.9 10.6z" fill="#87cb54"/>
<path d="M1858.8 454.8l17.8 -10.7 -4.1 -3.8 -17.8 10.6z" fill="#87cb54"/>
<path d="M1863.0 458.6l17.8 -10.6 -4.2 -3.9 -17.8 10.7z" fill="#86cb54"/>
<path d="M1867.1 462.5l17.8 -10.7 -4.1 -3.8 -17.8 10.6z" fill="#86cb54"/>
<path d="M1871.2 466.3l17.9 -10.6 -4.2 -3.9 -17.8 10.7z" fill="#86cb54"/>
<path d="M1875.4 470.2l17.8 -10.7 -4.1 -3.8 -17.9 10.6z" fill="#86cb55"/>
<path d="M1879.5 474.0l17.8 -10.6 -4.1 -3.9 -17.8 10.7z" fill="#86cb55"/>
<path d="M1883.7 477.8l17.8 -10.6 -4.2 -3.8 -17.8 10.6z" fill="#86cb55"/>
<path d="M1887.8 481.7l17.8 -10.7 -4.1 -3.8 -17.8 10.6z" fill="#86cb55"/>
<path d="M1891.9 485.5l17.9 -10.7 -4.2 -3.8 -17.8 10.7z" fill="#86cb55"/>
<path d="M1896.1 489.3l17.8 -10.6 -4.1 -3.9 -17.9 10.7z" fill="#86cb55"/>
<path d="M1900.2 493.1l17.8 -10.6 -4.1 -3.8 -17.8 10.6z" fill="#86cb55"/>
<path d="M1904.4 497.0l17.8 -10.7 -4.2 -3.8 -17.8 10.6z" fill="#86cb55"/>
<path d="M1908.5 500.8l17.8 -10.7 -4.1 -3.8 -17.8 10.7z" fill="#86cb55"/>
<path d="M1912.6 504.6l17.9 -10.7 -4.2 -3.8 -17.8 10.7z" fill="#86cb55"/>
<path d="M1916.8 508.4l17.8 -10.7 -4.1 -3.8 -17.9 10.7z" fill="#86cb55"/>
<path d="M1704.4 336.0l17.8 -10.7 -4.1 -4 -17.8 10.7z" fill="#7bcc5d"/>
<path d="M1708.5 340.0l17.9 -10.7 -4.2 -4 -17.8 10.7z" fill="#7bcc5d"/>
<path d="M1712.7 344.0l17.8 -10.7 -4.1 -4 -17.9 10.7z" fill="#7bcc5d"/>
<path d="M1716.8 348.0l17.8 -10.8 -4.1 -3.9 -17.8 10.7z" fill="#7acc5d"/>
<path d="M1721.0 352.0l17.8 -10.8 -4.2 -4 -17.8 10.8z" fill="#7acc5e"/>
<path d="M1725.1 356.0l17.8 -10.8 -4.1 -4 -17.8 10.8z" fill="#79cc5e"/>
<path d="M1729.2 359.9l17.9 -10.7 -4.2 -4 -17.8 10.8z" fill="#79cc5e"/>
<path d="M1733.4 363.9l17.8 -10.8 -4.1 -3.9 -17.9 10.7z" fill="#79cc5e"/>
<path d="M1737.5 367.9l17.8 -10.8 -4.1 -4 -17.8 10.8z" fill="#78cc5f"/>
<path d="M1741.7 371.9l17.8 -10.9 -4.2 -3.9 -17.8 10.8z" fill="#78cc5f"/>
<path d="M1745.8 375.8l17.8 -10.8 -4.1 -4 -17.8 10.9z" fill="#78cc5f"/>
<path d="M1749.9 379.8l17.9 -10.9 -4.2 -3.9 -17.8 10.8z" fill="#77cc5f"/>
<path d="M1754.1 383.7l17.8 -10.8 -4.1 -4 -17.9 10.9z" fill="#77cc60"/>
<path d="M1758.2 387.7l17.8 -10.9 -4.1 -3.9 -17.8 10.8z" fill="#77cc60"/>
<path d="M1762.4 391.7l17.8 -11 -4.2 -3.9 -17.8 10.9z" fill="#77cc60"/>
<path d="M1766.5 395.6l17.8 -10.9 -4.1 -4 -17.8 11z" fill="#76cc60"/>
<path d="M1770.6 399.5l17.9 -10.9 -4.2 -3.9 -17.8 10.9z" fill="#76cc61"/>
<path d="M1774.8 403.5l17.8 -11 -4.1 -3.9 -17.9 10.9z" fill="#76cc61"/>
<path d="M1778.9 407.4l17.8 -11 -4.1 -3.9 -17.8 11z" fill="#75cc61"/>
<path d="M1783.1 411.3l17.8 -10.9 -4.2 -4 -17.8 11z" fill="#75cc61"/>
<path d="M1787.2 415.3l17.8 -11 -4.1 -3.9 -17.8 10.9z" fill="#75cc61"/>
<path d="M1791.3 419.2l17.8 -11 -4.1 -3.9 -17.8 11z" fill="#75cc61"/>
<path d="M1795.5 423.1l17.8 -11 -4.2 -3.9 -17.8 11z" fill="#74cc62"/>
<path d="M1799.6 427.0l17.8 -11 -4.1 -3.9 -17.8 11z" fill="#74cc62"/>
<path d="M1803.8 430.9l17.8 -11 -4.2 -3.9 -17.8 11z" fill="#74cc62"/>
<path d="M1807.9 434.8l17.8 -11 -4.1 -3.9 -17.8 11z" fill="#74cc62"/>
<path d="M1812.0 438.7l17.8 -11 -4.1 -3.9 -17.8 11z" fill="#74cd62"/>
<path d="M1816.2 442.6l17.8 -11.1 -4.2 -3.8 -17.8 11z" fill="#74cd62"/>
<path d="M1820.3 446.5l17.8 -11.1 -4.1 -3.9 -17.8 11.1z" fill="#73cd62"/>
<path d="M1824.5 450.4l17.8 -11.1 -4.2 -3.9 -17.8 11.1z" fill="#73cd63"/>
<path d="M1828.6 454.3l17.8 -11.1 -4.1 -3.9 -17.8 11.1z" fill="#73cd63"/>
<path d="M1832.7 458.1l17.8 -11.1 -4.1 -3.8 -17.8 11.1z" fill="#73cd63"/>
<path d="M1836.9 462.0l17.8 -11.1 -4.2 -3.9 -17.8 11.1z" fill="#73cd63"/>
<path d="M1841.0 465.9l17.8 -11.1 -4.1 -3.9 -17.8 11.1z" fill="#73cd63"/>
<path d="M1845.1 469.7l17.9 -11.1 -4.2 -3.8 -17.8 11.1z" fill="#72cd63"/>
<path d="M1849.3 473.6l17.8 -11.1 -4.1 -3.9 -17.9 11.1z" fill="#72cd63"/>
<path d="M1853.4 477.4l17.8 -11.1 -4.1 -3.8 -17.8 11.1z" fill="#72cd63"/>
<path d="M1857.6 481.3l17.8 -11.1 -4.2 -3.9 -17.8 11.1z" fill="#72cd63"/>
<path d="M1861.7 485.1l17.8 -11.1 -4.1 -3.8 -17.8 11.1z" fill="#72cd63"/>
<path d="M1865.8 489.0l17.9 -11.2 -4.2 -3.8 -17.8 11.1z" fill="#72cd63"/>
<path d="M1870.0 492.8l17.8 -11.1 -4.1 -3.9 -17.9 11.2z" fill="#72cd63"/>
<path d="M1874.1 496.6l17.8 -11.1 -4.1 -3.8 -17.8 11.1z" fill="#72cd64"/>
<path d="M1878.3 500.5l17.8 -11.2 -4.2 -3.8 -17.8 11.1z" fill="#72cd64"/>
<path d="M1882.4 504.3l17.8 -11.2 -4.1 -3.8 -17.8 11.2z" fill="#72cd64"/>
<path d="M1886.5 508.1l17.9 -11.1 -4.2 -3.9 -17.8 11.2z" fill="#72cd64"/>
<path d="M1890.7 511.9l17.8 -11.1 -4.1 -3.8 -17.9 11.1z" fill="#72cd64"/>
<path d="M1894.8 515.7l17.8 -11.1 -4.1 -3.8 -17.8 11.1z" fill="#72cd64"/>
<path d="M1899.0 519.5l17.8 -11.1 -4.2 -3.8 -17.8 11.1z" fill="#72cd64"/>
<path d="M1686.6 347.1l17.8 -11.1 -4.1 -4 -17.9 11.1z" fill="#68cd6c"/>
<path d="M1690.7 351.1l17.8 -11.1 -4.1 -4 -17.8 11.1z" fill="#68cd6c"/>
<path d="M1694.9 355.1l17.8 -11.1 -4.2 -4 -17.8 11.1z" fill="#67cd6c"/>
<path d="M1699.0 359.2l17.8 -11.2 -4.1 -4 -17.8 11.1z" fill="#67cd6d"/>
<path d="M1703.1 363.2l17.9 -11.2 -4.2 -4 -17.8 11.2z" fill="#66cd6d"/>
<path d="M1707.3 367.2l17.8 -11.2 -4.1 -4 -17.9 11.2z" fill="#66cd6d"/>
<path d="M1711.4 371.2l17.8 -11.3 -4.1 -3.9 -17.8 11.2z" fill="#66cd6d"/>
<path d="M1715.6 375.2l17.8 -11.3 -4.2 -4 -17.8 11.3z" fill="#65cd6e"/>
<path d="M1719.7 379.2l17.8 -11.3 -4.1 -4 -17.8 11.3z" fill="#65cd6e"/>
<path d="M1723.8 383.2l17.9 -11.3 -4.2 -4 -17.8 11.3z" fill="#65cd6e"/>
<path d="M1728.0 387.1l17.8 -11.3 -4.1 -3.9 -17.9 11.3z" fill="#64cd6f"/>
<path d="M1732.1 391.1l17.8 -11.3 -4.1 -4 -17.8 11.3z" fill="#64cd6f"/>
<path d="M1736.3 395.1l17.8 -11.4 -4.2 -3.9 -17.8 11.3z" fill="#64cd6f"/>
<path d="M1740.4 399.1l17.8 -11.4 -4.1 -4 -17.8 11.4z" fill="#63cd6f"/>
<path d="M1744.5 403.0l17.9 -11.3 -4.2 -4 -17.8 11.4z" fill="#63cd70"/>
<path d="M1748.7 407.0l17.8 -11.4 -4.1 -3.9 -17.9 11.3z" fill="#63cd70"/>
<path d="M1752.8 411.0l17.8 -11.5 -4.1 -3.9 -17.8 11.4z" fill="#63cd70"/>
<path d="M1757.0 414.9l17.8 -11.4 -4.2 -4 -17.8 11.5z" fill="#62cd70"/>
<path d="M1761.1 418.9l17.8 -11.5 -4.1 -3.9 -17.8 11.4z" fill="#62cd70"/>
<path d="M1765.2 422.8l17.9 -11.5 -4.2 -3.9 -17.8 11.5z" fill="#62cd71"/>
<path d="M1769.4 426.7l17.8 -11.4 -4.1 -4 -17.9 11.5z" fill="#62cd71"/>
<path d="M1773.5 430.7l17.8 -11.5 -4.1 -3.9 -17.8 11.4z" fill="#61cd71"/>
<path d="M1777.7 434.6l17.8 -11.5 -4.2 -3.9 -17.8 11.5z" fill="#61cd71"/>
<path d="M1781.8 438.5l17.8 -11.5 -4.1 -3.9 -17.8 11.5z" fill="#61cd71"/>
<path d="M1785.9 442.4l17.9 -11.5 -4.2 -3.9 -17.8 11.5z" fill="#61cd72"/>
<path d="M1790.1 446.3l17.8 -11.5 -4.1 -3.9 -17.9 11.5z" fill="#61cd72"/>
<path d="M1794.2 450.3l17.8 -11.6 -4.1 -3.9 -17.8 11.5z" fill="#60cd72"/>
<path d="M1798.4 454.2l17.8 -11.6 -4.2 -3.9 -17.8 11.6z" fill="#60cd72"/>
<path d="M1802.5 458.1l17.8 -11.6 -4.1 -3.9 -17.8 11.6z" fill="#60cd72"/>
<path d="M1806.6 461.9l17.9 -11.5 -4.2 -3.9 -17.8 11.6z" fill="#60cd72"/>
<path d="M1810.8 465.8l17.8 -11.5 -4.1 -3.9 -17.9 11.5z" fill="#60cd72"/>
<path d="M1814.9 469.7l17.8 -11.6 -4.1 -3.8 -17.8 11.5z" fill="#60cd73"/>
<path d="M1819.1 473.6l17.8 -11.6 -4.2 -3.9 -17.8 11.6z" fill="#5fcd73"/>
<path d="M1823.2 477.5l17.8 -11.6 -4.1 -3.9 -17.8 11.6z" fill="#5fcd73"/>
<path d="M1827.3 481.3l17.8 -11.6 -4.1 -3.8 -17.8 11.6z" fill="#5fcd73"/>
<path d="M1831.5 485.2l17.8 -11.6 -4.2 -3.9 -17.8 11.6z" fill="#5fcd73"/>
<path d="M1835.6 489.1l17.8 -11.7 -4.1 -3.8 -17.8 11.6z" fill="#5fcd73"/>
<path d="M1839.8 492.9l17.8 -11.6 -4.2 -3.9 -17.8 11.7z" fill="#5fcd73"/>
<path d="M1843.9 496.8l17.8 -11.7 -4.1 -3.8 -17.8 11.6z" fill="#5fcd73"/>
<path d="M1848.0 500.6l17.8 -11.6 -4.1 -3.9 -17.8 11.7z" fill="#5fcd73"/>
<path d="M1852.2 504.4l17.8 -11.6 -4.2 -3.8 -17.8 11.6z" fill="#5fcd73"/>
<path d="M1856.3 508.3l17.8 -11.7 -4.1 -3.8 -17.8 11.6z" fill="#5fcd73"/>
<path d="M1860.5 512.1l17.8 -11.6 -4.2 -3.9 -17.8 11.7z" fill="#5fcd73"/>
<path d="M1864.6 515.9l17.8 -11.6 -4.1 -3.8 -17.8 11.6z" fill="#5fcd73"/>
<path d="M1868.7 519.7l17.8 -11.6 -4.1 -3.8 -17.8 11.6z" fill="#5ecd74"/>
<path d="M1872.9 523.6l17.8 -11.7 -4.2 -3.8 -17.8 11.6z" fill="#5ecd74"/>
<path d="M1877.0 527.4l17.8 -11.7 -4.1 -3.8 -17.8 11.7z" fill="#5ecd74"/>
<path d="M1881.1 531.2l17.9 -11.7 -4.2 -3.8 -17.8 11.7z" fill="#5ecd74"/>
<path d="M1668.8 358.7l17.8 -11.6 -4.2 -4 -17.8 11.5z" fill="#56cc7b"/>
<path d="M1672.9 362.7l17.8 -11.6 -4.1 -4 -17.8 11.6z" fill="#55cc7b"/>
<path d="M1677.1 366.8l17.8 -11.7 -4.2 -4 -17.8 11.6z" fill="#55cc7c"/>
<path d="M1681.2 370.8l17.8 -11.6 -4.1 -4.1 -17.8 11.7z" fill="#54cc7c"/>
<path d="M1685.3 374.8l17.8 -11.6 -4.1 -4 -17.8 11.6z" fill="#54cc7c"/>
<path d="M1689.5 378.9l17.8 -11.7 -4.2 -4 -17.8 11.6z" fill="#54cc7d"/>
<path d="M1693.6 382.9l17.8 -11.7 -4.1 -4 -17.8 11.7z" fill="#53cc7d"/>
<path d="M1697.8 386.9l17.8 -11.7 -4.2 -4 -17.8 11.7z" fill="#53cc7d"/>
<path d="M1701.9 390.9l17.8 -11.7 -4.1 -4 -17.8 11.7z" fill="#53cc7e"/>
<path d="M1706.0 394.9l17.8 -11.7 -4.1 -4 -17.8 11.7z" fill="#52cc7e"/>
<path d="M1710.2 398.9l17.8 -11.8 -4.2 -3.9 -17.8 11.7z" fill="#52cc7e"/>
<path d="M1714.3 402.9l17.8 -11.8 -4.1 -4 -17.8 11.8z" fill="#52cc7e"/>
<path d="M1718.4 406.9l17.9 -11.8 -4.2 -4 -17.8 11.8z" fill="#51cc7f"/>
<path d="M1722.6 410.9l17.8 -11.8 -4.1 -4 -17.9 11.8z" fill="#51cc7f"/>
<path d="M1726.7 414.9l17.8 -11.9 -4.1 -3.9 -17.8 11.8z" fill="#51cc7f"/>
<path d="M1730.9 418.9l17.8 -11.9 -4.2 -4 -17.8 11.9z" fill="#50cc7f"/>
<path d="M1735.0 422.9l17.8 -11.9 -4.1 -4 -17.8 11.9z" fill="#50cc80"/>
<path d="M1739.1 426.8l17.9 -11.9 -4.2 -3.9 -17.8 11.9z" fill="#50cc80"/>
<path d="M1743.3 430.8l17.8 -11.9 -4.1 -4 -17.9 11.9z" fill="#4fcc80"/>
<path d="M1747.4 434.7l17.8 -11.9 -4.1 -3.9 -17.8 11.9z" fill="#4fcc80"/>
<path d="M1751.6 438.7l17.8 -12 -4.2 -3.9 -17.8 11.9z" fill="#4fcc80"/>
<path d="M1755.7 442.6l17.8 -11.9 -4.1 -4 -17.8 12z" fill="#4fcc81"/>
<path d="M1759.8 446.6l17.9 -12 -4.2 -3.9 -17.8 11.9z" fill="#4ecc81"/>
<path d="M1764.0 450.5l17.8 -12 -4.1 -3.9 -17.9 12z" fill="#4ecc81"/>
<path d="M1768.1 454.5l17.8 -12.1 -4.1 -3.9 -17.8 12z" fill="#4ecc81"/>
<path d="M1772.3 458.4l17.8 -12.1 -4.2 -3.9 -17.8 12.1z" fill="#4ecc81"/>
<path d="M1776.4 462.3l17.8 -12 -4.1 -4 -17.8 12.1z" fill="#4ecc81"/>
<path d="M1780.5 466.2l17.9 -12 -4.2 -3.9 -17.8 12z" fill="#4dcc82"/>
<path d="M1784.7 470.1l17.8 -12 -4.1 -3.9 -17.9 12z" fill="#4dcc82"/>
<path d="M1788.8 474.0l17.8 -12.1 -4.1 -3.8 -17.8 12z" fill="#4dcc82"/>
<path d="M1793.0 477.9l17.8 -12.1 -4.2 -3.9 -17.8 12.1z" fill="#4dcc82"/>
<path d="M1797.1 481.8l17.8 -12.1 -4.1 -3.9 -17.8 12.1z" fill="#4dcb82"/>
<path d="M1801.2 485.7l17.9 -12.1 -4.2 -3.9 -17.8 12.1z" fill="#4dcb82"/>
<path d="M1805.4 489.6l17.8 -12.1 -4.1 -3.9 -17.9 12.1z" fill="#4ccb82"/>
<path d="M1809.5 493.5l17.8 -12.2 -4.1 -3.8 -17.8 12.1z" fill="#4ccb83"/>
<path d="M1813.7 497.3l17.8 -12.1 -4.2 -3.9 -17.8 12.2z" fill="#4ccb83"/>
<path d="M1817.8 501.2l17.8 -12.1 -4.1 -3.9 -17.8 12.1z" fill="#4ccb83"/>
<path d="M1821.9 505.1l17.9 -12.2 -4.2 -3.8 -17.8 12.1z" fill="#4ccb83"/>
<path d="M1826.1 508.9l17.8 -12.1 -4.1 -3.9 -17.9 12.2z" fill="#4ccb83"/>
<path d="M1830.2 512.8l17.8 -12.2 -4.1 -3.8 -17.8 12.1z" fill="#4ccb83"/>
<path d="M1834.4 516.6l17.8 -12.2 -4.2 -3.8 -17.8 12.2z" fill="#4ccb83"/>
<path d="M1838.5 520.4l17.8 -12.1 -4.1 -3.9 -17.8 12.2z" fill="#4ccb83"/>
<path d="M1842.6 524.3l17.9 -12.2 -4.2 -3.8 -17.8 12.1z" fill="#4ccb83"/>
<path d="M1846.8 528.1l17.8 -12.2 -4.1 -3.8 -17.9 12.2z" fill="#4ccb83"/>
<path d="M1850.9 531.9l17.8 -12.2 -4.1 -3.8 -17.8 12.2z" fill="#4ccb83"/>
<path d="M1855.1 535.7l17.8 -12.1 -4.2 -3.9 -17.8 12.2z" fill="#4ccb83"/>
<path d="M1859.2 539.5l17.8 -12.1 -4.1 -3.8 -17.8 12.1z" fill="#4ccb83"/>
<path d="M1863.3 543.4l17.8 -12.2 -4.1 -3.8 -17.8 12.1z" fill="#4bcb83"/>
<path d="M1651.0 370.7l17.8 -12 -4.2 -4.1 -17.8 12z" fill="#44cb8a"/>
<path d="M1655.1 374.8l17.8 -12.1 -4.1 -4 -17.8 12z" fill="#43ca8a"/>
<path d="M1659.2 378.8l17.9 -12 -4.2 -4.1 -17.8 12.1z" fill="#43ca8a"/>
<path d="M1663.4 382.9l17.8 -12.1 -4.1 -4 -17.9 12z" fill="#43ca8b"/>
<path d="M1667.5 387.0l17.8 -12.2 -4.1 -4 -17.8 12.1z" fill="#42ca8b"/>
<path d="M1671.7 391.0l17.8 -12.1 -4.2 -4.1 -17.8 12.2z" fill="#42ca8b"/>
<path d="M1675.8 395.1l17.8 -12.2 -4.1 -4 -17.8 12.1z" fill="#42ca8c"/>
<path d="M1679.9 399.1l17.9 -12.2 -4.2 -4 -17.8 12.2z" fill="#41ca8c"/>
<path d="M1684.1 403.2l17.8 -12.3 -4.1 -4 -17.9 12.2z" fill="#41ca8c"/>
<path d="M1688.2 407.2l17.8 -12.3 -4.1 -4 -17.8 12.3z" fill="#41ca8d"/>
<path d="M1692.4 411.2l17.8 -12.3 -4.2 -4 -17.8 12.3z" fill="#40ca8d"/>
<path d="M1696.5 415.2l17.8 -12.3 -4.1 -4 -17.8 12.3z" fill="#40ca8d"/>
<path d="M1700.6 419.3l17.8 -12.4 -4.1 -4 -17.8 12.3z" fill="#40ca8d"/>
<path d="M1704.8 423.3l17.8 -12.4 -4.2 -4 -17.8 12.4z" fill="#3fca8e"/>
<path d="M1708.9 427.3l17.8 -12.4 -4.1 -4 -17.8 12.4z" fill="#3fca8e"/>
<path d="M1713.1 431.3l17.8 -12.4 -4.2 -4 -17.8 12.4z" fill="#3fca8e"/>
<path d="M1717.2 435.3l17.8 -12.4 -4.1 -4 -17.8 12.4z" fill="#3fca8e"/>
<path d="M1721.3 439.3l17.8 -12.5 -4.1 -3.9 -17.8 12.4z" fill="#3eca8f"/>
<path d="M1725.5 443.2l17.8 -12.4 -4.2 -4 -17.8 12.5z" fill="#3eca8f"/>
<path d="M1729.6 447.2l17.8 -12.5 -4.1 -3.9 -17.8 12.4z" fill="#3eca8f"/>
<path d="M1733.8 451.2l17.8 -12.5 -4.2 -4 -17.8 12.5z" fill="#3eca8f"/>
<path d="M1737.9 455.2l17.8 -12.6 -4.1 -3.9 -17.8 12.5z" fill="#3eca8f"/>
<path d="M1742.0 459.1l17.8 -12.5 -4.1 -4 -17.8 12.6z" fill="#3eca90"/>
<path d="M1746.2 463.1l17.8 -12.6 -4.2 -3.9 -17.8 12.5z" fill="#3dca90"/>
<path d="M1750.3 467.0l17.8 -12.5 -4.1 -4 -17.8 12.6z" fill="#3dc990"/>
<path d="M1754.4 471.0l17.9 -12.6 -4.2 -3.9 -17.8 12.5z" fill="#3dc990"/>
<path d="M1758.6 474.9l17.8 -12.6 -4.1 -3.9 -17.9 12.6z" fill="#3dc990"/>
<path d="M1762.7 478.8l17.8 -12.6 -4.1 -3.9 -17.8 12.6z" fill="#3dc990"/>
<path d="M1766.9 482.7l17.8 -12.6 -4.2 -3.9 -17.8 12.6z" fill="#3dc991"/>
<path d="M1771.0 486.7l17.8 -12.7 -4.1 -3.9 -17.8 12.6z" fill="#3dc991"/>
<path d="M1775.1 490.6l17.9 -12.7 -4.2 -3.9 -17.8 12.7z" fill="#3cc991"/>
<path d="M1779.3 494.5l17.8 -12.7 -4.1 -3.9 -17.9 12.7z" fill="#3cc991"/>
<path d="M1783.4 498.4l17.8 -12.7 -4.1 -3.9 -17.8 12.7z" fill="#3cc991"/>
<path d="M1787.6 502.3l17.8 -12.7 -4.2 -3.9 -17.8 12.7z" fill="#3cc991"/>
<path d="M1791.7 506.1l17.8 -12.6 -4.1 -3.9 -17.8 12.7z" fill="#3cc991"/>
<path d="M1795.8 510.0l17.9 -12.7 -4.2 -3.8 -17.8 12.6z" fill="#3cc991"/>
<path d="M1800.0 513.9l17.8 -12.7 -4.1 -3.9 -17.9 12.7z" fill="#3cc992"/>
<path d="M1804.1 517.8l17.8 -12.7 -4.1 -3.9 -17.8 12.7z" fill="#3cc992"/>
<path d="M1808.3 521.6l17.8 -12.7 -4.2 -3.8 -17.8 12.7z" fill="#3cc992"/>
<path d="M1812.4 525.5l17.8 -12.7 -4.1 -3.9 -17.8 12.7z" fill="#3cc992"/>
<path d="M1816.5 529.3l17.9 -12.7 -4.2 -3.8 -17.8 12.7z" fill="#3cc992"/>
<path d="M1820.7 533.2l17.8 -12.8 -4.1 -3.8 -17.9 12.7z" fill="#3cc992"/>
<path d="M1824.8 537.0l17.8 -12.7 -4.1 -3.9 -17.8 12.8z" fill="#3cc992"/>
<path d="M1829.0 540.8l17.8 -12.7 -4.2 -3.8 -17.8 12.7z" fill="#3cc992"/>
<path d="M1833.1 544.7l17.8 -12.8 -4.1 -3.8 -17.8 12.7z" fill="#3cc992"/>
<path d="M1837.2 548.5l17.9 -12.8 -4.2 -3.8 -17.8 12.8z" fill="#3bc992"/>
<path d="M1841.4 552.3l17.8 -12.8 -4.1 -3.8 -17.9 12.8z" fill="#3bc992"/>
<path d="M1845.5 556.1l17.8 -12.7 -4.1 -3.9 -17.8 12.8z" fill="#3bc992"/>
<path d="M1633.1 383.2l17.9 -12.5 -4.2 -4.1 -17.8 12.5z" fill="#37c898"/>
<path d="M1637.3 387.3l17.8 -12.5 -4.1 -4.1 -17.9 12.5z" fill="#36c898"/>
<path d="M1641.4 391.4l17.8 -12.6 -4.1 -4 -17.8 12.5z" fill="#36c898"/>
<path d="M1645.6 395.5l17.8 -12.6 -4.2 -4.1 -17.8 12.6z" fill="#36c899"/>
<path d="M1649.7 399.6l17.8 -12.6 -4.1 -4.1 -17.8 12.6z" fill="#36c799"/>
<path d="M1653.8 403.7l17.9 -12.7 -4.2 -4 -17.8 12.6z" fill="#36c799"/>
<path d="M1658.0 407.8l17.8 -12.7 -4.1 -4.1 -17.9 12.7z" fill="#35c79a"/>
<path d="M1662.1 411.8l17.8 -12.7 -4.1 -4 -17.8 12.7z" fill="#35c79a"/>
<path d="M1666.3 415.9l17.8 -12.7 -4.2 -4.1 -17.8 12.7z" fill="#35c79a"/>
<path d="M1670.4 420.0l17.8 -12.8 -4.1 -4 -17.8 12.7z" fill="#35c79b"/>
<path d="M1674.5 424.0l17.9 -12.8 -4.2 -4 -17.8 12.8z" fill="#35c79b"/>
<path d="M1678.7 428.1l17.8 -12.9 -4.1 -4 -17.9 12.8z" fill="#34c79b"/>
<path d="M1682.8 432.1l17.8 -12.8 -4.1 -4.1 -17.8 12.9z" fill="#34c79b"/>
<path d="M1687.0 436.2l17.8 -12.9 -4.2 -4 -17.8 12.8z" fill="#34c79c"/>
<path d="M1691.1 440.2l17.8 -12.9 -4.1 -4 -17.8 12.9z" fill="#34c79c"/>
<path d="M1695.2 444.2l17.9 -12.9 -4.2 -4 -17.8 12.9z" fill="#34c79c"/>
<path d="M1699.4 448.2l17.8 -12.9 -4.1 -4 -17.9 12.9z" fill="#34c79c"/>
<path d="M1703.5 452.2l17.8 -12.9 -4.1 -4 -17.8 12.9z" fill="#33c79d"/>
<path d="M1707.7 456.2l17.8 -13 -4.2 -3.9 -17.8 12.9z" fill="#33c79d"/>
<path d="M1711.8 460.2l17.8 -13 -4.1 -4 -17.8 13z" fill="#33c69d"/>
<path d="M1715.9 464.2l17.9 -13 -4.2 -4 -17.8 13z" fill="#33c69d"/>
<path d="M1720.1 468.2l17.8 -13 -4.1 -4 -17.9 13z" fill="#33c69d"/>
<path d="M1724.2 472.2l17.8 -13.1 -4.1 -3.9 -17.8 13z" fill="#33c69e"/>
<path d="M1728.4 476.2l17.8 -13.1 -4.2 -4 -17.8 13.1z" fill="#33c69e"/>
<path d="M1732.5 480.1l17.8 -13.1 -4.1 -3.9 -17.8 13.1z" fill="#32c69e"/>
<path d="M1736.6 484.1l17.8 -13.1 -4.1 -4 -17.8 13.1z" fill="#32c69e"/>
<path d="M1740.8 488.0l17.8 -13.1 -4.2 -3.9 -17.8 13.1z" fill="#32c69e"/>
<path d="M1744.9 492.0l17.8 -13.2 -4.1 -3.9 -17.8 13.1z" fill="#32c69e"/>
<path d="M1749.1 495.9l17.8 -13.2 -4.2 -3.9 -17.8 13.2z" fill="#32c69f"/>
<path d="M1753.2 499.9l17.8 -13.2 -4.1 -4 -17.8 13.2z" fill="#32c69f"/>
<path d="M1757.3 503.8l17.8 -13.2 -4.1 -3.9 -17.8 13.2z" fill="#32c69f"/>
<path d="M1761.5 507.7l17.8 -13.2 -4.2 -3.9 -17.8 13.2z" fill="#32c69f"/>
<path d="M1765.6 511.6l17.8 -13.2 -4.1 -3.9 -17.8 13.2z" fill="#32c69f"/>
<path d="M1769.8 515.5l17.8 -13.2 -4.2 -3.9 -17.8 13.2z" fill="#32c69f"/>
<path d="M1773.9 519.4l17.8 -13.3 -4.1 -3.8 -17.8 13.2z" fill="#31c69f"/>
<path d="M1778.0 523.3l17.8 -13.3 -4.1 -3.9 -17.8 13.3z" fill="#31c69f"/>
<path d="M1782.2 527.2l17.8 -13.3 -4.2 -3.9 -17.8 13.3z" fill="#31c6a0"/>
<path d="M1786.3 531.0l17.8 -13.2 -4.1 -3.9 -17.8 13.3z" fill="#31c6a0"/>
<path d="M1790.4 534.9l17.9 -13.3 -4.2 -3.8 -17.8 13.2z" fill="#31c6a0"/>
<path d="M1794.6 538.8l17.8 -13.3 -4.1 -3.9 -17.9 13.3z" fill="#31c6a0"/>
<path d="M1798.7 542.6l17.8 -13.3 -4.1 -3.8 -17.8 13.3z" fill="#31c6a0"/>
<path d="M1802.9 546.5l17.8 -13.3 -4.2 -3.9 -17.8 13.3z" fill="#31c6a0"/>
<path d="M1807.0 550.3l17.8 -13.3 -4.1 -3.8 -17.8 13.3z" fill="#31c6a0"/>
<path d="M1811.1 554.1l17.9 -13.3 -4.2 -3.8 -17.8 13.3z" fill="#31c6a0"/>
<path d="M1815.3 558.0l17.8 -13.3 -4.1 -3.9 -17.9 13.3z" fill="#31c6a0"/>
<path d="M1819.4 561.8l17.8 -13.3 -4.1 -3.8 -17.8 13.3z" fill="#31c6a0"/>
<path d="M1823.6 565.6l17.8 -13.3 -4.2 -3.8 -17.8 13.3z" fill="#31c6a0"/>
<path d="M1827.7 569.4l17.8 -13.3 -4.1 -3.8 -17.8 13.3z" fill="#31c6a0"/>
<path d="M1615.3 396.2l17.8 -13 -4.1 -4.1 -17.8 12.9z" fill="#2ec4a5"/>
<path d="M1619.5 400.3l17.8 -13 -4.2 -4.1 -17.8 13z" fill="#2dc4a5"/>
<path d="M1623.6 404.5l17.8 -13.1 -4.1 -4.1 -17.8 13z" fill="#2dc4a5"/>
<path d="M1627.7 408.6l17.9 -13.1 -4.2 -4.1 -17.8 13.1z" fill="#2dc4a6"/>
<path d="M1631.9 412.7l17.8 -13.1 -4.1 -4.1 -17.9 13.1z" fill="#2dc4a6"/>
<path d="M1636.0 416.8l17.8 -13.1 -4.1 -4.1 -17.8 13.1z" fill="#2cc4a6"/>
<path d="M1640.2 421.0l17.8 -13.2 -4.2 -4.1 -17.8 13.1z" fill="#2cc4a7"/>
<path d="M1644.3 425.1l17.8 -13.3 -4.1 -4 -17.8 13.2z" fill="#2cc4a7"/>
<path d="M1648.4 429.2l17.9 -13.3 -4.2 -4.1 -17.8 13.3z" fill="#2cc4a7"/>
<path d="M1652.6 433.3l17.8 -13.3 -4.1 -4.1 -17.9 13.3z" fill="#2bc3a7"/>
<path d="M1656.7 437.3l17.8 -13.3 -4.1 -4 -17.8 13.3z" fill="#2bc3a8"/>
<path d="M1660.9 441.4l17.8 -13.3 -4.2 -4.1 -17.8 13.3z" fill="#2bc3a8"/>
<path d="M1665.0 445.5l17.8 -13.4 -4.1 -4 -17.8 13.3z" fill="#2bc3a8"/>
<path d="M1669.1 449.6l17.9 -13.4 -4.2 -4.1 -17.8 13.4z" fill="#2ac3a9"/>
<path d="M1673.3 453.6l17.8 -13.4 -4.1 -4 -17.9 13.4z" fill="#2ac3a9"/>
<path d="M1677.4 457.7l17.8 -13.5 -4.1 -4 -17.8 13.4z" fill="#2ac3a9"/>
<path d="M1681.6 461.7l17.8 -13.5 -4.2 -4 -17.8 13.5z" fill="#2ac3a9"/>
<path d="M1685.7 465.8l17.8 -13.6 -4.1 -4 -17.8 13.5z" fill="#29c3a9"/>
<path d="M1689.8 469.8l17.9 -13.6 -4.2 -4 -17.8 13.6z" fill="#29c3aa"/>
<path d="M1694.0 473.8l17.8 -13.6 -4.1 -4 -17.9 13.6z" fill="#29c3aa"/>
<path d="M1698.1 477.8l17.8 -13.6 -4.1 -4 -17.8 13.6z" fill="#29c3aa"/>
<path d="M1702.3 481.8l17.8 -13.6 -4.2 -4 -17.8 13.6z" fill="#28c3aa"/>
<path d="M1706.4 485.8l17.8 -13.6 -4.1 -4 -17.8 13.6z" fill="#28c3aa"/>
<path d="M1710.5 489.8l17.9 -13.6 -4.2 -4 -17.8 13.6z" fill="#28c3ab"/>
<path d="M1714.7 493.8l17.8 -13.7 -4.1 -3.9 -17.9 13.6z" fill="#28c2ab"/>
<path d="M1718.8 497.8l17.8 -13.7 -4.1 -4 -17.8 13.7z" fill="#28c2ab"/>
<path d="M1723.0 501.8l17.8 -13.8 -4.2 -3.9 -17.8 13.7z" fill="#27c2ab"/>
<path d="M1727.1 505.7l17.8 -13.7 -4.1 -4 -17.8 13.8z" fill="#27c2ab"/>
<path d="M1731.2 509.7l17.9 -13.8 -4.2 -3.9 -17.8 13.7z" fill="#27c2ab"/>
<path d="M1735.4 513.6l17.8 -13.7 -4.1 -4 -17.9 13.8z" fill="#27c2ac"/>
<path d="M1739.5 517.6l17.8 -13.8 -4.1 -3.9 -17.8 13.7z" fill="#27c2ac"/>
<path d="M1743.7 521.5l17.8 -13.8 -4.2 -3.9 -17.8 13.8z" fill="#27c2ac"/>
<path d="M1747.8 525.4l17.8 -13.8 -4.1 -3.9 -17.8 13.8z" fill="#27c2ac"/>
<path d="M1751.9 529.3l17.9 -13.8 -4.2 -3.9 -17.8 13.8z" fill="#26c2ac"/>
<path d="M1756.1 533.2l17.8 -13.8 -4.1 -3.9 -17.9 13.8z" fill="#26c2ac"/>
<path d="M1760.2 537.1l17.8 -13.8 -4.1 -3.9 -17.8 13.8z" fill="#26c2ac"/>
<path d="M1764.4 541.0l17.8 -13.8 -4.2 -3.9 -17.8 13.8z" fill="#26c2ac"/>
<path d="M1768.5 544.9l17.8 -13.9 -4.1 -3.8 -17.8 13.8z" fill="#26c2ac"/>
<path d="M1772.6 548.8l17.8 -13.9 -4.1 -3.9 -17.8 13.9z" fill="#26c2ad"/>
<path d="M1776.8 552.7l17.8 -13.9 -4.2 -3.9 -17.8 13.9z" fill="#26c2ad"/>
<path d="M1780.9 556.5l17.8 -13.9 -4.1 -3.8 -17.8 13.9z" fill="#26c2ad"/>
<path d="M1785.1 560.4l17.8 -13.9 -4.2 -3.9 -17.8 13.9z" fill="#26c2ad"/>
<path d="M1789.2 564.2l17.8 -13.9 -4.1 -3.8 -17.8 13.9z" fill="#26c2ad"/>
<path d="M1793.3 568.1l17.8 -14 -4.1 -3.8 -17.8 13.9z" fill="#26c2ad"/>
<path d="M1797.5 571.9l17.8 -13.9 -4.2 -3.9 -17.8 14z" fill="#26c2ad"/>
<path d="M1801.6 575.7l17.8 -13.9 -4.1 -3.8 -17.8 13.9z" fill="#26c2ad"/>
<path d="M1805.8 579.5l17.8 -13.9 -4.2 -3.8 -17.8 13.9z" fill="#26c2ad"/>
<path d="M1809.9 583.3l17.8 -13.9 -4.1 -3.8 -17.8 13.9z" fill="#26c2ad"/>
<path d="M1597.5 409.6l17.8 -13.4 -4.1 -4.2 -17.8 13.4z" fill="#20c1b1"/>
<path d="M1601.7 413.8l17.8 -13.5 -4.2 -4.1 -17.8 13.4z" fill="#20c1b1"/>
<path d="M1605.8 418.0l17.8 -13.5 -4.1 -4.2 -17.8 13.5z" fill="#1fc0b2"/>
<path d="M1609.9 422.2l17.8 -13.6 -4.1 -4.1 -17.8 13.5z" fill="#1ec0b2"/>
<path d="M1614.1 426.3l17.8 -13.6 -4.2 -4.1 -17.8 13.6z" fill="#1ec0b2"/>
<path d="M1618.2 430.5l17.8 -13.7 -4.1 -4.1 -17.8 13.6z" fill="#1dc0b3"/>
<path d="M1622.4 434.7l17.8 -13.7 -4.2 -4.2 -17.8 13.7z" fill="#1dc0b3"/>
<path d="M1626.5 438.8l17.8 -13.7 -4.1 -4.1 -17.8 13.7z" fill="#1cc0b3"/>
<path d="M1630.6 442.9l17.8 -13.7 -4.1 -4.1 -17.8 13.7z" fill="#1cc0b3"/>
<path d="M1634.8 447.1l17.8 -13.8 -4.2 -4.1 -17.8 13.7z" fill="#1bc0b4"/>
<path d="M1638.9 451.2l17.8 -13.9 -4.1 -4 -17.8 13.8z" fill="#1bc0b4"/>
<path d="M1643.1 455.3l17.8 -13.9 -4.2 -4.1 -17.8 13.9z" fill="#1bc0b4"/>
<path d="M1647.2 459.4l17.8 -13.9 -4.1 -4.1 -17.8 13.9z" fill="#1ac0b5"/>
<path d="M1651.3 463.5l17.8 -13.9 -4.1 -4.1 -17.8 13.9z" fill="#1abfb5"/>
<path d="M1655.5 467.6l17.8 -14 -4.2 -4 -17.8 13.9z" fill="#19bfb5"/>
<path d="M1659.6 471.7l17.8 -14 -4.1 -4.1 -17.8 14z" fill="#19bfb5"/>
<path d="M1663.7 475.8l17.9 -14.1 -4.2 -4 -17.8 14z" fill="#18bfb6"/>
<path d="M1667.9 479.8l17.8 -14 -4.1 -4.1 -17.9 14.1z" fill="#18bfb6"/>
<path d="M1672.0 483.9l17.8 -14.1 -4.1 -4 -17.8 14z" fill="#17bfb6"/>
<path d="M1676.2 488.0l17.8 -14.2 -4.2 -4 -17.8 14.1z" fill="#17bfb6"/>
<path d="M1680.3 492.0l17.8 -14.2 -4.1 -4 -17.8 14.2z" fill="#17bfb7"/>
<path d="M1684.4 496.0l17.9 -14.2 -4.2 -4 -17.8 14.2z" fill="#16bfb7"/>
<path d="M1688.6 500.1l17.8 -14.3 -4.1 -4 -17.9 14.2z" fill="#16bfb7"/>
<path d="M1692.7 504.1l17.8 -14.3 -4.1 -4 -17.8 14.3z" fill="#15bfb7"/>
<path d="M1696.9 508.1l17.8 -14.3 -4.2 -4 -17.8 14.3z" fill="#15bfb7"/>
<path d="M1701.0 512.1l17.8 -14.3 -4.1 -4 -17.8 14.3z" fill="#15bfb8"/>
<path d="M1705.1 516.1l17.9 -14.3 -4.2 -4 -17.8 14.3z" fill="#14bfb8"/>
<path d="M1709.3 520.1l17.8 -14.4 -4.1 -3.9 -17.9 14.3z" fill="#14beb8"/>
<path d="M1713.4 524.1l17.8 -14.4 -4.1 -4 -17.8 14.4z" fill="#14beb8"/>
<path d="M1717.6 528.0l17.8 -14.4 -4.2 -3.9 -17.8 14.4z" fill="#13beb8"/>
<path d="M1721.7 532.0l17.8 -14.4 -4.1 -4 -17.8 14.4z" fill="#13beb8"/>
<path d="M1725.8 535.9l17.9 -14.4 -4.2 -3.9 -17.8 14.4z" fill="#13beb9"/>
<path d="M1730.0 539.9l17.8 -14.5 -4.1 -3.9 -17.9 14.4z" fill="#13beb9"/>
<path d="M1734.1 543.8l17.8 -14.5 -4.1 -3.9 -17.8 14.5z" fill="#12beb9"/>
<path d="M1738.3 547.7l17.8 -14.5 -4.2 -3.9 -17.8 14.5z" fill="#12beb9"/>
<path d="M1742.4 551.6l17.8 -14.5 -4.1 -3.9 -17.8 14.5z" fill="#12beb9"/>
<path d="M1746.5 555.5l17.9 -14.5 -4.2 -3.9 -17.8 14.5z" fill="#12beb9"/>
<path d="M1750.7 559.4l17.8 -14.5 -4.1 -3.9 -17.9 14.5z" fill="#12beb9"/>
<path d="M1754.8 563.3l17.8 -14.5 -4.1 -3.9 -17.8 14.5z" fill="#11beb9"/>
<path d="M1759.0 567.2l17.8 -14.5 -4.2 -3.9 -17.8 14.5z" fill="#11beb9"/>
<path d="M1763.1 571.1l17.8 -14.6 -4.1 -3.8 -17.8 14.5z" fill="#11beb9"/>
<path d="M1767.2 574.9l17.9 -14.5 -4.2 -3.9 -17.8 14.6z" fill="#11beb9"/>
<path d="M1771.4 578.8l17.8 -14.6 -4.1 -3.8 -17.9 14.5z" fill="#11beb9"/>
<path d="M1775.5 582.6l17.8 -14.5 -4.1 -3.9 -17.8 14.6z" fill="#11beba"/>
<path d="M1779.7 586.5l17.8 -14.6 -4.2 -3.8 -17.8 14.5z" fill="#11beba"/>
<path d="M1783.8 590.3l17.8 -14.6 -4.1 -3.8 -17.8 14.6z" fill="#11beba"/>
<path d="M1787.9 594.1l17.9 -14.6 -4.2 -3.8 -17.8 14.6z" fill="#11beba"/>
<path d="M1792.1 597.9l17.8 -14.6 -4.1 -3.8 -17.9 14.6z" fill="#11beba"/>
<path d="M1579.7 423.5l17.8 -13.9 -4.1 -4.2 -17.8 13.9z" fill="#0bbdbd"/>
<path d="M1583.8 427.8l17.9 -14 -4.2 -4.2 -17.8 13.9z" fill="#0abdbd"/>
<path d="M1588.0 432.0l17.8 -14 -4.1 -4.2 -17.9 14z" fill="#0abdbe"/>
<path d="M1592.1 436.2l17.8 -14 -4.1 -4.2 -17.8 14z" fill="#09bcbe"/>
<path d="M1596.3 440.5l17.8 -14.2 -4.2 -4.1 -17.8 14z" fill="#09bcbe"/>
<path d="M1600.4 444.7l17.8 -14.2 -4.1 -4.2 -17.8 14.2z" fill="#08bcbf"/>
<path d="M1604.5 448.9l17.9 -14.2 -4.2 -4.2 -17.8 14.2z" fill="#08bcbf"/>
<path d="M1608.7 453.1l17.8 -14.3 -4.1 -4.1 -17.9 14.2z" fill="#07bcbf"/>
<path d="M1612.8 457.2l17.8 -14.3 -4.1 -4.1 -17.8 14.3z" fill="#07bcc0"/>
<path d="M1617.0 461.4l17.8 -14.3 -4.2 -4.2 -17.8 14.3z" fill="#06bcc0"/>
<path d="M1621.1 465.6l17.8 -14.4 -4.1 -4.1 -17.8 14.3z" fill="#06bcc0"/>
<path d="M1625.2 469.7l17.9 -14.4 -4.2 -4.1 -17.8 14.4z" fill="#05bbc1"/>
<path d="M1629.4 473.9l17.8 -14.5 -4.1 -4.1 -17.9 14.4z" fill="#05bbc1"/>
<path d="M1633.5 478.0l17.8 -14.5 -4.1 -4.1 -17.8 14.5z" fill="#05bbc1"/>
<path d="M1637.7 482.2l17.8 -14.6 -4.2 -4.1 -17.8 14.5z" fill="#04bbc2"/>
<path d="M1641.8 486.3l17.8 -14.6 -4.1 -4.1 -17.8 14.6z" fill="#04bbc2"/>
<path d="M1645.9 490.4l17.8 -14.6 -4.1 -4.1 -17.8 14.6z" fill="#03bbc2"/>
<path d="M1650.1 494.5l17.8 -14.7 -4.2 -4 -17.8 14.6z" fill="#03bbc2"/>
<path d="M1654.2 498.6l17.8 -14.7 -4.1 -4.1 -17.8 14.7z" fill="#03bbc3"/>
<path d="M1658.4 502.7l17.8 -14.7 -4.2 -4.1 -17.8 14.7z" fill="#02bbc3"/>
<path d="M1662.5 506.8l17.8 -14.8 -4.1 -4 -17.8 14.7z" fill="#02bbc3"/>
<path d="M1666.6 510.8l17.8 -14.8 -4.1 -4 -17.8 14.8z" fill="#02bac3"/>
<path d="M1670.8 514.9l17.8 -14.8 -4.2 -4.1 -17.8 14.8z" fill="#02bac4"/>
<path d="M1674.9 519.0l17.8 -14.9 -4.1 -4 -17.8 14.8z" fill="#02bac4"/>
<path d="M1679.0 523.0l17.9 -14.9 -4.2 -4 -17.8 14.9z" fill="#02bac4"/>
<path d="M1683.2 527.0l17.8 -14.9 -4.1 -4 -17.9 14.9z" fill="#02bac4"/>
<path d="M1687.3 531.0l17.8 -14.9 -4.1 -4 -17.8 14.9z" fill="#02bac4"/>
<path d="M1691.5 535.1l17.8 -15 -4.2 -4 -17.8 14.9z" fill="#02bac5"/>
<path d="M1695.6 539.1l17.8 -15 -4.1 -4 -17.8 15z" fill="#02bac5"/>
<path d="M1699.7 543.0l17.9 -15 -4.2 -3.9 -17.8 15z" fill="#02bac5"/>
<path d="M1703.9 547.0l17.8 -15 -4.1 -4 -17.9 15z" fill="#02bac5"/>
<path d="M1708.0 551.0l17.8 -15.1 -4.1 -3.9 -17.8 15z" fill="#01bac5"/>
<path d="M1712.2 555.0l17.8 -15.1 -4.2 -4 -17.8 15.1z" fill="#01bac5"/>
<path d="M1716.3 558.9l17.8 -15.1 -4.1 -3.9 -17.8 15.1z" fill="#01bac5"/>
<path d="M1720.4 562.9l17.9 -15.2 -4.2 -3.9 -17.8 15.1z" fill="#01bac6"/>
<path d="M1724.6 566.8l17.8 -15.2 -4.1 -3.9 -17.9 15.2z" fill="#01b9c6"/>
<path d="M1728.7 570.7l17.8 -15.2 -4.1 -3.9 -17.8 15.2z" fill="#01b9c6"/>
<path d="M1732.9 574.6l17.8 -15.2 -4.2 -3.9 -17.8 15.2z" fill="#01b9c6"/>
<path d="M1737.0 578.5l17.8 -15.2 -4.1 -3.9 -17.8 15.2z" fill="#01b9c6"/>
<path d="M1741.1 582.4l17.9 -15.2 -4.2 -3.9 -17.8 15.2z" fill="#01b9c6"/>
<path d="M1745.3 586.3l17.8 -15.2 -4.1 -3.9 -17.9 15.2z" fill="#01b9c6"/>
<path d="M1749.4 590.1l17.8 -15.2 -4.1 -3.8 -17.8 15.2z" fill="#01b9c6"/>
<path d="M1753.6 594.0l17.8 -15.2 -4.2 -3.9 -17.8 15.2z" fill="#01b9c6"/>
<path d="M1757.7 597.9l17.8 -15.3 -4.1 -3.8 -17.8 15.2z" fill="#01b9c6"/>
<path d="M1761.8 601.7l17.9 -15.2 -4.2 -3.9 -17.8 15.3z" fill="#01b9c6"/>
<path d="M1766.0 605.5l17.8 -15.2 -4.1 -3.8 -17.9 15.2z" fill="#01b9c6"/>
<path d="M1770.1 609.3l17.8 -15.2 -4.1 -3.8 -17.8 15.2z" fill="#01b9c6"/>
<path d="M1774.3 613.1l17.8 -15.2 -4.2 -3.8 -17.8 15.2z" fill="#01b9c6"/>
<path d="M1561.9 437.9l17.8 -14.4 -4.1 -4.2 -17.9 14.3z" fill="#01b8c9"/>
<path d="M1566.0 442.2l17.8 -14.4 -4.1 -4.3 -17.8 14.4z" fill="#01b8c9"/>
<path d="M1570.2 446.5l17.8 -14.5 -4.2 -4.2 -17.8 14.4z" fill="#01b8ca"/>
<path d="M1574.3 450.8l17.8 -14.6 -4.1 -4.2 -17.8 14.5z" fill="#01b8ca"/>
<path d="M1578.4 455.0l17.9 -14.5 -4.2 -4.3 -17.8 14.6z" fill="#01b7ca"/>
<path d="M1582.6 459.3l17.8 -14.6 -4.1 -4.2 -17.9 14.5z" fill="#02b7cb"/>
<path d="M1586.7 463.6l17.8 -14.7 -4.1 -4.2 -17.8 14.6z" fill="#02b7cb"/>
<path d="M1590.9 467.8l17.8 -14.7 -4.2 -4.2 -17.8 14.7z" fill="#03b7cb"/>
<path d="M1595.0 472.1l17.8 -14.9 -4.1 -4.1 -17.8 14.7z" fill="#03b7cc"/>
<path d="M1599.1 476.3l17.9 -14.9 -4.2 -4.2 -17.8 14.9z" fill="#03b7cc"/>
<path d="M1603.3 480.5l17.8 -14.9 -4.1 -4.2 -17.9 14.9z" fill="#04b6cc"/>
<path d="M1607.4 484.7l17.8 -15 -4.1 -4.1 -17.8 14.9z" fill="#04b6cd"/>
<path d="M1611.6 488.9l17.8 -15 -4.2 -4.2 -17.8 15z" fill="#04b6cd"/>
<path d="M1615.7 493.1l17.8 -15.1 -4.1 -4.1 -17.8 15z" fill="#05b6cd"/>
<path d="M1619.8 497.3l17.9 -15.1 -4.2 -4.2 -17.8 15.1z" fill="#05b6ce"/>
<path d="M1624.0 501.5l17.8 -15.2 -4.1 -4.1 -17.9 15.1z" fill="#05b6ce"/>
<path d="M1628.1 505.6l17.8 -15.2 -4.1 -4.1 -17.8 15.2z" fill="#06b6ce"/>
<path d="M1632.3 509.8l17.8 -15.3 -4.2 -4.1 -17.8 15.2z" fill="#06b5cf"/>
<path d="M1636.4 513.9l17.8 -15.3 -4.1 -4.1 -17.8 15.3z" fill="#06b5cf"/>
<path d="M1640.5 518.0l17.9 -15.3 -4.2 -4.1 -17.8 15.3z" fill="#06b5cf"/>
<path d="M1644.7 522.2l17.8 -15.4 -4.1 -4.1 -17.9 15.3z" fill="#07b5cf"/>
<path d="M1648.8 526.3l17.8 -15.5 -4.1 -4 -17.8 15.4z" fill="#07b5d0"/>
<path d="M1653.0 530.4l17.8 -15.5 -4.2 -4.1 -17.8 15.5z" fill="#07b5d0"/>
<path d="M1657.1 534.5l17.8 -15.5 -4.1 -4.1 -17.8 15.5z" fill="#07b5d0"/>
<path d="M1661.2 538.5l17.8 -15.5 -4.1 -4 -17.8 15.5z" fill="#08b5d0"/>
<path d="M1665.4 542.6l17.8 -15.6 -4.2 -4 -17.8 15.5z" fill="#08b4d0"/>
<path d="M1669.5 546.6l17.8 -15.6 -4.1 -4 -17.8 15.6z" fill="#08b4d1"/>
<path d="M1673.7 550.7l17.8 -15.6 -4.2 -4.1 -17.8 15.6z" fill="#09b4d1"/>
<path d="M1677.8 554.7l17.8 -15.6 -4.1 -4 -17.8 15.6z" fill="#09b4d1"/>
<path d="M1681.9 558.7l17.8 -15.7 -4.1 -3.9 -17.8 15.6z" fill="#09b4d1"/>
<path d="M1686.1 562.7l17.8 -15.7 -4.2 -4 -17.8 15.7z" fill="#0ab4d1"/>
<path d="M1690.2 566.7l17.8 -15.7 -4.1 -4 -17.8 15.7z" fill="#0ab4d2"/>
<path d="M1694.4 570.7l17.8 -15.7 -4.2 -4 -17.8 15.7z" fill="#0ab4d2"/>
<path d="M1698.5 574.7l17.8 -15.8 -4.1 -3.9 -17.8 15.7z" fill="#0ab4d2"/>
<path d="M1702.6 578.7l17.8 -15.8 -4.1 -4 -17.8 15.8z" fill="#0bb4d2"/>
<path d="M1706.8 582.6l17.8 -15.8 -4.2 -3.9 -17.8 15.8z" fill="#0bb4d2"/>
<path d="M1710.9 586.5l17.8 -15.8 -4.1 -3.9 -17.8 15.8z" fill="#0bb3d2"/>
<path d="M1715.0 590.5l17.9 -15.9 -4.2 -3.9 -17.8 15.8z" fill="#0bb3d2"/>
<path d="M1719.2 594.4l17.8 -15.9 -4.1 -3.9 -17.9 15.9z" fill="#0bb3d2"/>
<path d="M1723.3 598.3l17.8 -15.9 -4.1 -3.9 -17.8 15.9z" fill="#0bb3d2"/>
<path d="M1727.5 602.2l17.8 -15.9 -4.2 -3.9 -17.8 15.9z" fill="#0cb3d2"/>
<path d="M1731.6 606.1l17.8 -16 -4.1 -3.8 -17.8 15.9z" fill="#0cb3d3"/>
<path d="M1735.7 609.9l17.9 -15.9 -4.2 -3.9 -17.8 16z" fill="#0cb3d3"/>
<path d="M1739.9 613.8l17.8 -15.9 -4.1 -3.9 -17.9 15.9z" fill="#0cb3d3"/>
<path d="M1744.0 617.6l17.8 -15.9 -4.1 -3.8 -17.8 15.9z" fill="#0cb3d3"/>
<path d="M1748.2 621.5l17.8 -16 -4.2 -3.8 -17.8 15.9z" fill="#0cb3d3"/>
<path d="M1752.3 625.3l17.8 -16 -4.1 -3.8 -17.8 16z" fill="#0cb3d3"/>
<path d="M1756.4 629.1l17.9 -16 -4.2 -3.8 -17.8 16z" fill="#0cb3d3"/>
<path d="M1544.1 452.7l17.8 -14.8 -4.2 -4.3 -17.8 14.7z" fill="#0eb2d4"/>
<path d="M1548.2 457.0l17.8 -14.8 -4.1 -4.3 -17.8 14.8z" fill="#0fb2d4"/>
<path d="M1552.3 461.4l17.9 -14.9 -4.2 -4.3 -17.8 14.8z" fill="#10b2d5"/>
<path d="M1556.5 465.7l17.8 -14.9 -4.1 -4.3 -17.9 14.9z" fill="#10b2d5"/>
<path d="M1560.6 470.1l17.8 -15.1 -4.1 -4.2 -17.8 14.9z" fill="#11b1d6"/>
<path d="M1564.8 474.4l17.8 -15.1 -4.2 -4.3 -17.8 15.1z" fill="#12b1d6"/>
<path d="M1568.9 478.7l17.8 -15.1 -4.1 -4.3 -17.8 15.1z" fill="#12b1d6"/>
<path d="M1573.0 483.1l17.9 -15.3 -4.2 -4.2 -17.8 15.1z" fill="#12b1d7"/>
<path d="M1577.2 487.4l17.8 -15.3 -4.1 -4.3 -17.9 15.3z" fill="#13b0d7"/>
<path d="M1581.3 491.7l17.8 -15.4 -4.1 -4.2 -17.8 15.3z" fill="#13b0d7"/>
<path d="M1585.5 495.9l17.8 -15.4 -4.2 -4.2 -17.8 15.4z" fill="#14b0d8"/>
<path d="M1589.6 500.2l17.8 -15.5 -4.1 -4.2 -17.8 15.4z" fill="#14b0d8"/>
<path d="M1593.7 504.5l17.9 -15.6 -4.2 -4.2 -17.8 15.5z" fill="#15afd8"/>
<path d="M1597.9 508.7l17.8 -15.6 -4.1 -4.2 -17.9 15.6z" fill="#15afd9"/>
<path d="M1602.0 513.0l17.8 -15.7 -4.1 -4.2 -17.8 15.6z" fill="#15afd9"/>
<path d="M1606.2 517.2l17.8 -15.7 -4.2 -4.2 -17.8 15.7z" fill="#16afd9"/>
<path d="M1610.3 521.4l17.8 -15.8 -4.1 -4.1 -17.8 15.7z" fill="#16afd9"/>
<path d="M1614.4 525.6l17.9 -15.8 -4.2 -4.2 -17.8 15.8z" fill="#16aeda"/>
<path d="M1618.6 529.8l17.8 -15.9 -4.1 -4.1 -17.9 15.8z" fill="#17aeda"/>
<path d="M1622.7 534.0l17.8 -16 -4.1 -4.1 -17.8 15.9z" fill="#17aeda"/>
<path d="M1626.9 538.1l17.8 -15.9 -4.2 -4.2 -17.8 16z" fill="#17aedb"/>
<path d="M1631.0 542.3l17.8 -16 -4.1 -4.1 -17.8 15.9z" fill="#18aedb"/>
<path d="M1635.1 546.4l17.9 -16 -4.2 -4.1 -17.8 16z" fill="#18aedb"/>
<path d="M1639.3 550.6l17.8 -16.1 -4.1 -4.1 -17.9 16z" fill="#18addb"/>
<path d="M1643.4 554.7l17.8 -16.2 -4.1 -4 -17.8 16.1z" fill="#18addb"/>
<path d="M1647.6 558.8l17.8 -16.2 -4.2 -4.1 -17.8 16.2z" fill="#19addc"/>
<path d="M1651.7 562.9l17.8 -16.3 -4.1 -4 -17.8 16.2z" fill="#19addc"/>
<path d="M1655.8 567.0l17.9 -16.3 -4.2 -4.1 -17.8 16.3z" fill="#19addc"/>
<path d="M1660.0 571.0l17.8 -16.3 -4.1 -4 -17.9 16.3z" fill="#19addc"/>
<path d="M1664.1 575.1l17.8 -16.4 -4.1 -4 -17.8 16.3z" fill="#19acdc"/>
<path d="M1668.3 579.1l17.8 -16.4 -4.2 -4 -17.8 16.4z" fill="#19acdc"/>
<path d="M1672.4 583.2l17.8 -16.5 -4.1 -4 -17.8 16.4z" fill="#19acdc"/>
<path d="M1676.5 587.2l17.9 -16.5 -4.2 -4 -17.8 16.5z" fill="#19acdd"/>
<path d="M1680.7 591.2l17.8 -16.5 -4.1 -4 -17.9 16.5z" fill="#1aacdd"/>
<path d="M1684.8 595.2l17.8 -16.5 -4.1 -4 -17.8 16.5z" fill="#1aacdd"/>
<path d="M1689.0 599.2l17.8 -16.6 -4.2 -3.9 -17.8 16.5z" fill="#1aacdd"/>
<path d="M1693.1 603.1l17.8 -16.6 -4.1 -3.9 -17.8 16.6z" fill="#1aacdd"/>
<path d="M1697.2 607.1l17.8 -16.6 -4.1 -4 -17.8 16.6z" fill="#1aacdd"/>
<path d="M1701.4 611.0l17.8 -16.6 -4.2 -3.9 -17.8 16.6z" fill="#1aacdd"/>
<path d="M1705.5 614.9l17.8 -16.6 -4.1 -3.9 -17.8 16.6z" fill="#1aacdd"/>
<path d="M1709.7 618.8l17.8 -16.6 -4.2 -3.9 -17.8 16.6z" fill="#1aabdd"/>
<path d="M1713.8 622.7l17.8 -16.6 -4.1 -3.9 -17.8 16.6z" fill="#1aabdd"/>
<path d="M1717.9 626.6l17.8 -16.7 -4.1 -3.8 -17.8 16.6z" fill="#1aabdd"/>
<path d="M1722.1 630.4l17.8 -16.6 -4.2 -3.9 -17.8 16.7z" fill="#1aabdd"/>
<path d="M1726.2 634.3l17.8 -16.7 -4.1 -3.8 -17.8 16.6z" fill="#1aabdd"/>
<path d="M1730.4 638.1l17.8 -16.6 -4.2 -3.9 -17.8 16.7z" fill="#1aabdd"/>
<path d="M1734.5 642.0l17.8 -16.7 -4.1 -3.8 -17.8 16.6z" fill="#1aabdd"/>
<path d="M1738.6 645.8l17.8 -16.7 -4.1 -3.8 -17.8 16.7z" fill="#1aabdd"/>
<path d="M1526.3 467.7l17.8 -15 -4.2 -4.4 -17.8 15z" fill="#1aabdd"/>
<path d="M1530.4 472.2l17.8 -15.2 -4.1 -4.3 -17.8 15z" fill="#1babde"/>
<path d="M1534.5 476.7l17.8 -15.3 -4.1 -4.4 -17.8 15.2z" fill="#1baade"/>
<path d="M1538.7 481.1l17.8 -15.4 -4.2 -4.3 -17.8 15.3z" fill="#1baadf"/>
<path d="M1542.8 485.5l17.8 -15.4 -4.1 -4.4 -17.8 15.4z" fill="#1caadf"/>
<path d="M1547.0 489.9l17.8 -15.5 -4.2 -4.3 -17.8 15.4z" fill="#1ca9df"/>
<path d="M1551.1 494.3l17.8 -15.6 -4.1 -4.3 -17.8 15.5z" fill="#1ca9df"/>
<path d="M1555.2 498.7l17.8 -15.6 -4.1 -4.4 -17.8 15.6z" fill="#1da9e0"/>
<path d="M1559.4 503.1l17.8 -15.7 -4.2 -4.3 -17.8 15.6z" fill="#1da8e0"/>
<path d="M1563.5 507.5l17.8 -15.8 -4.1 -4.3 -17.8 15.7z" fill="#1da8e0"/>
<path d="M1567.7 511.8l17.8 -15.9 -4.2 -4.2 -17.8 15.8z" fill="#1da8e0"/>
<path d="M1571.8 516.2l17.8 -16 -4.1 -4.3 -17.8 15.9z" fill="#1ea8e1"/>
<path d="M1575.9 520.5l17.8 -16 -4.1 -4.3 -17.8 16z" fill="#1ea7e1"/>
<path d="M1580.1 524.8l17.8 -16.1 -4.2 -4.2 -17.8 16z" fill="#1ea7e1"/>
<path d="M1584.2 529.1l17.8 -16.1 -4.1 -4.3 -17.8 16.1z" fill="#1ea7e1"/>
<path d="M1588.3 533.4l17.9 -16.2 -4.2 -4.2 -17.8 16.1z" fill="#1fa6e1"/>
<path d="M1592.5 537.7l17.8 -16.3 -4.1 -4.2 -17.9 16.2z" fill="#1fa6e2"/>
<path d="M1596.6 542.0l17.8 -16.4 -4.1 -4.2 -17.8 16.3z" fill="#1fa6e2"/>
<path d="M1600.8 546.3l17.8 -16.5 -4.2 -4.2 -17.8 16.4z" fill="#1fa6e2"/>
<path d="M1604.9 550.5l17.8 -16.5 -4.1 -4.2 -17.8 16.5z" fill="#1fa5e2"/>
<path d="M1609.0 554.7l17.9 -16.6 -4.2 -4.1 -17.8 16.5z" fill="#20a5e2"/>
<path d="M1613.2 558.9l17.8 -16.6 -4.1 -4.2 -17.9 16.6z" fill="#20a5e2"/>
<path d="M1617.3 563.2l17.8 -16.8 -4.1 -4.1 -17.8 16.6z" fill="#20a5e3"/>
<path d="M1621.5 567.3l17.8 -16.7 -4.2 -4.2 -17.8 16.8z" fill="#20a4e3"/>
<path d="M1625.6 571.5l17.8 -16.8 -4.1 -4.1 -17.8 16.7z" fill="#20a4e3"/>
<path d="M1629.7 575.7l17.9 -16.9 -4.2 -4.1 -17.8 16.8z" fill="#20a4e3"/>
<path d="M1633.9 579.8l17.8 -16.9 -4.1 -4.1 -17.9 16.9z" fill="#21a4e3"/>
<path d="M1638.0 583.9l17.8 -16.9 -4.1 -4.1 -17.8 16.9z" fill="#21a4e3"/>
<path d="M1642.2 588.1l17.8 -17.1 -4.2 -4 -17.8 16.9z" fill="#21a3e3"/>
<path d="M1646.3 592.2l17.8 -17.1 -4.1 -4.1 -17.8 17.1z" fill="#21a3e3"/>
<path d="M1650.4 596.2l17.9 -17.1 -4.2 -4 -17.8 17.1z" fill="#21a3e3"/>
<path d="M1654.6 600.3l17.8 -17.1 -4.1 -4.1 -17.9 17.1z" fill="#21a3e3"/>
<path d="M1658.7 604.4l17.8 -17.2 -4.1 -4 -17.8 17.1z" fill="#21a3e4"/>
<path d="M1662.9 608.4l17.8 -17.2 -4.2 -4 -17.8 17.2z" fill="#21a3e4"/>
<path d="M1667.0 612.4l17.8 -17.2 -4.1 -4 -17.8 17.2z" fill="#21a2e4"/>
<path d="M1671.1 616.4l17.9 -17.2 -4.2 -4 -17.8 17.2z" fill="#22a2e4"/>
<path d="M1675.3 620.4l17.8 -17.3 -4.1 -3.9 -17.9 17.2z" fill="#22a2e4"/>
<path d="M1679.4 624.4l17.8 -17.3 -4.1 -4 -17.8 17.3z" fill="#22a2e4"/>
<path d="M1683.6 628.3l17.8 -17.3 -4.2 -3.9 -17.8 17.3z" fill="#22a2e4"/>
<path d="M1687.7 632.3l17.8 -17.4 -4.1 -3.9 -17.8 17.3z" fill="#22a2e4"/>
<path d="M1691.8 636.2l17.9 -17.4 -4.2 -3.9 -17.8 17.4z" fill="#22a2e4"/>
<path d="M1696.0 640.1l17.8 -17.4 -4.1 -3.9 -17.9 17.4z" fill="#22a2e4"/>
<path d="M1700.1 644.0l17.8 -17.4 -4.1 -3.9 -17.8 17.4z" fill="#22a2e4"/>
<path d="M1704.3 647.9l17.8 -17.5 -4.2 -3.8 -17.8 17.4z" fill="#22a2e4"/>
<path d="M1708.4 651.7l17.8 -17.4 -4.1 -3.9 -17.8 17.5z" fill="#22a2e4"/>
<path d="M1712.5 655.6l17.9 -17.5 -4.2 -3.8 -17.8 17.4z" fill="#22a2e4"/>
<path d="M1716.7 659.4l17.8 -17.4 -4.1 -3.9 -17.9 17.5z" fill="#22a2e4"/>
<path d="M1720.8 663.2l17.8 -17.4 -4.1 -3.8 -17.8 17.4z" fill="#22a2e4"/>
<path d="M1508.4 483.1l17.9 -15.4 -4.2 -4.4 -17.8 15.2z" fill="#21a3e4"/>
<path d="M1512.6 487.6l17.8 -15.4 -4.1 -4.5 -17.9 15.4z" fill="#22a2e4"/>
<path d="M1516.7 492.2l17.8 -15.5 -4.1 -4.5 -17.8 15.4z" fill="#22a2e4"/>
<path d="M1520.9 496.7l17.8 -15.6 -4.2 -4.4 -17.8 15.5z" fill="#22a1e4"/>
<path d="M1525.0 501.2l17.8 -15.7 -4.1 -4.4 -17.8 15.6z" fill="#23a1e4"/>
<path d="M1529.1 505.7l17.9 -15.8 -4.2 -4.4 -17.8 15.7z" fill="#23a0e5"/>
<path d="M1533.3 510.2l17.8 -15.9 -4.1 -4.4 -17.9 15.8z" fill="#23a0e5"/>
<path d="M1537.4 514.7l17.8 -16 -4.1 -4.4 -17.8 15.9z" fill="#23a0e5"/>
<path d="M1541.6 519.2l17.8 -16.1 -4.2 -4.4 -17.8 16z" fill="#249fe5"/>
<path d="M1545.7 523.7l17.8 -16.2 -4.1 -4.4 -17.8 16.1z" fill="#249fe6"/>
<path d="M1549.8 528.1l17.9 -16.3 -4.2 -4.3 -17.8 16.2z" fill="#249ee6"/>
<path d="M1554.0 532.6l17.8 -16.4 -4.1 -4.4 -17.9 16.3z" fill="#249ee6"/>
<path d="M1558.1 537.0l17.8 -16.5 -4.1 -4.3 -17.8 16.4z" fill="#249ee6"/>
<path d="M1562.3 541.4l17.8 -16.6 -4.2 -4.3 -17.8 16.5z" fill="#249de6"/>
<path d="M1566.4 545.8l17.8 -16.7 -4.1 -4.3 -17.8 16.6z" fill="#259de7"/>
<path d="M1570.5 550.2l17.8 -16.8 -4.1 -4.3 -17.8 16.7z" fill="#259de7"/>
<path d="M1574.7 554.6l17.8 -16.9 -4.2 -4.3 -17.8 16.8z" fill="#259ce7"/>
<path d="M1578.8 558.9l17.8 -16.9 -4.1 -4.3 -17.8 16.9z" fill="#259ce7"/>
<path d="M1583.0 563.3l17.8 -17 -4.2 -4.3 -17.8 16.9z" fill="#259ce7"/>
<path d="M1587.1 567.6l17.8 -17.1 -4.1 -4.2 -17.8 17z" fill="#259be8"/>
<path d="M1591.2 571.9l17.8 -17.2 -4.1 -4.2 -17.8 17.1z" fill="#259be8"/>
<path d="M1595.4 576.2l17.8 -17.3 -4.2 -4.2 -17.8 17.2z" fill="#259be8"/>
<path d="M1599.5 580.5l17.8 -17.3 -4.1 -4.3 -17.8 17.3z" fill="#269ae8"/>
<path d="M1603.7 584.7l17.8 -17.4 -4.2 -4.1 -17.8 17.3z" fill="#269ae8"/>
<path d="M1607.8 589.0l17.8 -17.5 -4.1 -4.2 -17.8 17.4z" fill="#269ae9"/>
<path d="M1611.9 593.2l17.8 -17.5 -4.1 -4.2 -17.8 17.5z" fill="#269ae9"/>
<path d="M1616.1 597.4l17.8 -17.6 -4.2 -4.1 -17.8 17.5z" fill="#2699e9"/>
<path d="M1620.2 601.6l17.8 -17.7 -4.1 -4.1 -17.8 17.6z" fill="#2699e9"/>
<path d="M1624.3 605.8l17.9 -17.7 -4.2 -4.2 -17.8 17.7z" fill="#2699e9"/>
<path d="M1628.5 609.9l17.8 -17.7 -4.1 -4.1 -17.9 17.7z" fill="#2699e9"/>
<path d="M1632.6 614.1l17.8 -17.9 -4.1 -4 -17.8 17.7z" fill="#2698ea"/>
<path d="M1636.8 618.2l17.8 -17.9 -4.2 -4.1 -17.8 17.9z" fill="#2798ea"/>
<path d="M1640.9 622.3l17.8 -17.9 -4.1 -4.1 -17.8 17.9z" fill="#2798ea"/>
<path d="M1645.0 626.4l17.9 -18 -4.2 -4 -17.8 17.9z" fill="#2798ea"/>
<path d="M1649.2 630.4l17.8 -18 -4.1 -4 -17.9 18z" fill="#2798ea"/>
<path d="M1653.3 634.5l17.8 -18.1 -4.1 -4 -17.8 18z" fill="#2798ea"/>
<path d="M1657.5 638.5l17.8 -18.1 -4.2 -4 -17.8 18.1z" fill="#2797ea"/>
<path d="M1661.6 642.5l17.8 -18.1 -4.1 -4 -17.8 18.1z" fill="#2797ea"/>
<path d="M1665.7 646.5l17.9 -18.2 -4.2 -3.9 -17.8 18.1z" fill="#2797eb"/>
<path d="M1669.9 650.5l17.8 -18.2 -4.1 -4 -17.9 18.2z" fill="#2797eb"/>
<path d="M1674.0 654.4l17.8 -18.2 -4.1 -3.9 -17.8 18.2z" fill="#2797eb"/>
<path d="M1678.2 658.3l17.8 -18.2 -4.2 -3.9 -17.8 18.2z" fill="#2797eb"/>
<path d="M1682.3 662.2l17.8 -18.2 -4.1 -3.9 -17.8 18.2z" fill="#2797eb"/>
<path d="M1686.4 666.1l17.9 -18.2 -4.2 -3.9 -17.8 18.2z" fill="#2797eb"/>
<path d="M1690.6 670.0l17.8 -18.3 -4.1 -3.8 -17.9 18.2z" fill="#2797eb"/>
<path d="M1694.7 673.9l17.8 -18.3 -4.1 -3.9 -17.8 18.3z" fill="#2797eb"/>
<path d="M1698.9 677.7l17.8 -18.3 -4.2 -3.8 -17.8 18.3z" fill="#2797eb"/>
<path d="M1703.0 681.5l17.8 -18.3 -4.1 -3.8 -17.8 18.3z" fill="#2797eb"/>
<path d="M1490.6 498.4l17.8 -15.3 -4.1 -4.6 -17.8 15.2z" fill="#2699e9"/>
<path d="M1494.8 503.1l17.8 -15.5 -4.2 -4.5 -17.8 15.3z" fill="#2699e9"/>
<path d="M1498.9 507.8l17.8 -15.6 -4.1 -4.6 -17.8 15.5z" fill="#2698ea"/>
<path d="M1503.0 512.4l17.9 -15.7 -4.2 -4.5 -17.8 15.6z" fill="#2798ea"/>
<path d="M1507.2 517.1l17.8 -15.9 -4.1 -4.5 -17.9 15.7z" fill="#2797ea"/>
<path d="M1511.3 521.7l17.8 -16 -4.1 -4.5 -17.8 15.9z" fill="#2797eb"/>
<path d="M1515.5 526.3l17.8 -16.1 -4.2 -4.5 -17.8 16z" fill="#2796eb"/>
<path d="M1519.6 530.9l17.8 -16.2 -4.1 -4.5 -17.8 16.1z" fill="#2896ec"/>
<path d="M1523.7 535.5l17.9 -16.3 -4.2 -4.5 -17.8 16.2z" fill="#2895ec"/>
<path d="M1527.9 540.1l17.8 -16.4 -4.1 -4.5 -17.9 16.3z" fill="#2895ec"/>
<path d="M1532.0 544.7l17.8 -16.6 -4.1 -4.4 -17.8 16.4z" fill="#2994ed"/>
<path d="M1536.2 549.3l17.8 -16.7 -4.2 -4.5 -17.8 16.6z" fill="#2994ed"/>
<path d="M1540.3 553.8l17.8 -16.8 -4.1 -4.4 -17.8 16.7z" fill="#2a93ed"/>
<path d="M1544.4 558.3l17.9 -16.9 -4.2 -4.4 -17.8 16.8z" fill="#2a93ee"/>
<path d="M1548.6 562.8l17.8 -17 -4.1 -4.4 -17.9 16.9z" fill="#2a93ee"/>
<path d="M1552.7 567.3l17.8 -17.1 -4.1 -4.4 -17.8 17z" fill="#2b92ee"/>
<path d="M1556.9 571.8l17.8 -17.2 -4.2 -4.4 -17.8 17.1z" fill="#2b92ee"/>
<path d="M1561.0 576.3l17.8 -17.4 -4.1 -4.3 -17.8 17.2z" fill="#2b91ef"/>
<path d="M1565.1 580.7l17.9 -17.4 -4.2 -4.4 -17.8 17.4z" fill="#2b91ef"/>
<path d="M1569.3 585.1l17.8 -17.5 -4.1 -4.3 -17.9 17.4z" fill="#2b90ef"/>
<path d="M1573.4 589.5l17.8 -17.6 -4.1 -4.3 -17.8 17.5z" fill="#2c90f0"/>
<path d="M1577.6 593.9l17.8 -17.7 -4.2 -4.3 -17.8 17.6z" fill="#2c90f0"/>
<path d="M1581.7 598.3l17.8 -17.8 -4.1 -4.3 -17.8 17.7z" fill="#2c8ff0"/>
<path d="M1585.8 602.7l17.9 -18 -4.2 -4.2 -17.8 17.8z" fill="#2c8ff1"/>
<path d="M1590.0 607.0l17.8 -18 -4.1 -4.3 -17.9 18z" fill="#2c8ff1"/>
<path d="M1594.1 611.3l17.8 -18.1 -4.1 -4.2 -17.8 18z" fill="#2c8ef1"/>
<path d="M1598.3 615.6l17.8 -18.2 -4.2 -4.2 -17.8 18.1z" fill="#2c8ef1"/>
<path d="M1602.4 619.9l17.8 -18.3 -4.1 -4.2 -17.8 18.2z" fill="#2c8ef2"/>
<path d="M1606.5 624.1l17.8 -18.3 -4.1 -4.2 -17.8 18.3z" fill="#2d8df2"/>
<path d="M1610.7 628.3l17.8 -18.4 -4.2 -4.1 -17.8 18.3z" fill="#2d8df2"/>
<path d="M1614.8 632.6l17.8 -18.5 -4.1 -4.2 -17.8 18.4z" fill="#2d8df2"/>
<path d="M1619.0 636.7l17.8 -18.5 -4.2 -4.1 -17.8 18.5z" fill="#2d8cf3"/>
<path d="M1623.1 640.9l17.8 -18.6 -4.1 -4.1 -17.8 18.5z" fill="#2d8cf3"/>
<path d="M1627.2 645.1l17.8 -18.7 -4.1 -4.1 -17.8 18.6z" fill="#2d8cf3"/>
<path d="M1631.4 649.2l17.8 -18.8 -4.2 -4 -17.8 18.7z" fill="#2d8cf3"/>
<path d="M1635.5 653.3l17.8 -18.8 -4.1 -4.1 -17.8 18.8z" fill="#2d8cf3"/>
<path d="M1639.7 657.4l17.8 -18.9 -4.2 -4 -17.8 18.8z" fill="#2d8bf3"/>
<path d="M1643.8 661.4l17.8 -18.9 -4.1 -4 -17.8 18.9z" fill="#2d8bf4"/>
<path d="M1647.9 665.4l17.8 -18.9 -4.1 -4 -17.8 18.9z" fill="#2d8bf4"/>
<path d="M1652.1 669.4l17.8 -18.9 -4.2 -4 -17.8 18.9z" fill="#2d8bf4"/>
<path d="M1656.2 673.4l17.8 -19 -4.1 -3.9 -17.8 18.9z" fill="#2d8bf4"/>
<path d="M1660.3 677.4l17.9 -19.1 -4.2 -3.9 -17.8 19z" fill="#2d8bf4"/>
<path d="M1664.5 681.3l17.8 -19.1 -4.1 -3.9 -17.9 19.1z" fill="#2d8bf4"/>
<path d="M1668.6 685.2l17.8 -19.1 -4.1 -3.9 -17.8 19.1z" fill="#2d8bf4"/>
<path d="M1672.8 689.1l17.8 -19.1 -4.2 -3.9 -17.8 19.1z" fill="#2d8af4"/>
<path d="M1676.9 693.0l17.8 -19.1 -4.1 -3.9 -17.8 19.1z" fill="#2d8af4"/>
<path d="M1681.0 696.8l17.9 -19.1 -4.2 -3.8 -17.8 19.1z" fill="#2d8af4"/>
<path d="M1685.2 700.6l17.8 -19.1 -4.1 -3.8 -17.9 19.1z" fill="#2d8af4"/>
<path d="M1472.8 513.6l17.8 -15.2 -4.1 -4.7 -17.8 15z" fill="#2c90f0"/>
<path d="M1477.0 518.4l17.8 -15.3 -4.2 -4.7 -17.8 15.2z" fill="#2c8ff0"/>
<path d="M1481.1 523.2l17.8 -15.4 -4.1 -4.7 -17.8 15.3z" fill="#2c8ff1"/>
<path d="M1485.2 528.0l17.8 -15.6 -4.1 -4.6 -17.8 15.4z" fill="#2c8ef1"/>
<path d="M1489.4 532.8l17.8 -15.7 -4.2 -4.7 -17.8 15.6z" fill="#2d8df2"/>
<path d="M1493.5 537.6l17.8 -15.9 -4.1 -4.6 -17.8 15.7z" fill="#2d8df2"/>
<path d="M1497.7 542.4l17.8 -16.1 -4.2 -4.6 -17.8 15.9z" fill="#2d8cf3"/>
<path d="M1501.8 547.1l17.8 -16.2 -4.1 -4.6 -17.8 16.1z" fill="#2d8bf3"/>
<path d="M1505.9 551.9l17.8 -16.4 -4.1 -4.6 -17.8 16.2z" fill="#2d8bf4"/>
<path d="M1510.1 556.6l17.8 -16.5 -4.2 -4.6 -17.8 16.4z" fill="#2d8af4"/>
<path d="M1514.2 561.3l17.8 -16.6 -4.1 -4.6 -17.8 16.5z" fill="#2d89f5"/>
<path d="M1518.3 566.0l17.9 -16.7 -4.2 -4.6 -17.8 16.6z" fill="#2d89f5"/>
<path d="M1522.5 570.7l17.8 -16.9 -4.1 -4.5 -17.9 16.7z" fill="#2d88f6"/>
<path d="M1526.6 575.4l17.8 -17.1 -4.1 -4.5 -17.8 16.9z" fill="#2d88f6"/>
<path d="M1530.8 580.0l17.8 -17.2 -4.2 -4.5 -17.8 17.1z" fill="#2e87f7"/>
<path d="M1534.9 584.7l17.8 -17.4 -4.1 -4.5 -17.8 17.2z" fill="#2e87f7"/>
<path d="M1539.0 589.3l17.9 -17.5 -4.2 -4.5 -17.8 17.4z" fill="#2e86f7"/>
<path d="M1543.2 593.9l17.8 -17.6 -4.1 -4.5 -17.9 17.5z" fill="#2e85f8"/>
<path d="M1547.3 598.4l17.8 -17.7 -4.1 -4.4 -17.8 17.6z" fill="#2e85f8"/>
<path d="M1551.5 603.0l17.8 -17.9 -4.2 -4.4 -17.8 17.7z" fill="#2e84f8"/>
<path d="M1555.6 607.5l17.8 -18 -4.1 -4.4 -17.8 17.9z" fill="#2e84f8"/>
<path d="M1559.7 612.1l17.9 -18.2 -4.2 -4.4 -17.8 18z" fill="#2e83f9"/>
<path d="M1563.9 616.6l17.8 -18.3 -4.1 -4.4 -17.9 18.2z" fill="#2e83f9"/>
<path d="M1568.0 621.0l17.8 -18.3 -4.1 -4.4 -17.8 18.3z" fill="#2f82f9"/>
<path d="M1572.2 625.5l17.8 -18.5 -4.2 -4.3 -17.8 18.3z" fill="#2f82f9"/>
<path d="M1576.3 629.9l17.8 -18.6 -4.1 -4.3 -17.8 18.5z" fill="#2f82fa"/>
<path d="M1580.4 634.3l17.9 -18.7 -4.2 -4.3 -17.8 18.6z" fill="#2f81fa"/>
<path d="M1584.6 638.7l17.8 -18.8 -4.1 -4.3 -17.9 18.7z" fill="#2f81fa"/>
<path d="M1588.7 643.1l17.8 -19 -4.1 -4.2 -17.8 18.8z" fill="#2f80fa"/>
<path d="M1592.9 647.4l17.8 -19.1 -4.2 -4.2 -17.8 19z" fill="#3080fa"/>
<path d="M1597.0 651.7l17.8 -19.1 -4.1 -4.3 -17.8 19.1z" fill="#3080fb"/>
<path d="M1601.1 656.0l17.9 -19.3 -4.2 -4.1 -17.8 19.1z" fill="#307ffb"/>
<path d="M1605.3 660.3l17.8 -19.4 -4.1 -4.2 -17.9 19.3z" fill="#307ffb"/>
<path d="M1609.4 664.5l17.8 -19.4 -4.1 -4.2 -17.8 19.4z" fill="#307ffb"/>
<path d="M1613.6 668.7l17.8 -19.5 -4.2 -4.1 -17.8 19.4z" fill="#307efb"/>
<path d="M1617.7 672.9l17.8 -19.6 -4.1 -4.1 -17.8 19.5z" fill="#317efb"/>
<path d="M1621.8 677.0l17.9 -19.6 -4.2 -4.1 -17.8 19.6z" fill="#317efb"/>
<path d="M1626.0 681.1l17.8 -19.7 -4.1 -4 -17.9 19.6z" fill="#317efb"/>
<path d="M1630.1 685.2l17.8 -19.8 -4.1 -4 -17.8 19.7z" fill="#317dfc"/>
<path d="M1634.3 689.3l17.8 -19.9 -4.2 -4 -17.8 19.8z" fill="#317dfc"/>
<path d="M1638.4 693.3l17.8 -19.9 -4.1 -4 -17.8 19.9z" fill="#317dfc"/>
<path d="M1642.5 697.3l17.8 -19.9 -4.1 -4 -17.8 19.9z" fill="#317dfc"/>
<path d="M1646.7 701.3l17.8 -20 -4.2 -3.9 -17.8 19.9z" fill="#317dfc"/>
<path d="M1650.8 705.2l17.8 -20 -4.1 -3.9 -17.8 20z" fill="#317dfc"/>
<path d="M1655.0 709.1l17.8 -20 -4.2 -3.9 -17.8 20z" fill="#327dfc"/>
<path d="M1659.1 713.0l17.8 -20 -4.1 -3.9 -17.8 20z" fill="#327cfc"/>
<path d="M1663.2 716.8l17.8 -20 -4.1 -3.8 -17.8 20z" fill="#327cfc"/>
<path d="M1667.4 720.6l17.8 -20 -4.2 -3.8 -17.8 20z" fill="#327cfc"/>
<path d="M1455.0 528.0l17.8 -14.4 -4.1 -4.9 -17.8 14.3z" fill="#2e86f7"/>
<path d="M1459.1 533.0l17.9 -14.6 -4.2 -4.8 -17.8 14.4z" fill="#2e85f8"/>
<path d="M1463.3 538.0l17.8 -14.8 -4.1 -4.8 -17.9 14.6z" fill="#2e84f8"/>
<path d="M1467.4 543.0l17.8 -15 -4.1 -4.8 -17.8 14.8z" fill="#2e84f9"/>
<path d="M1471.6 548.0l17.8 -15.2 -4.2 -4.8 -17.8 15z" fill="#2e83f9"/>
<path d="M1475.7 553.0l17.8 -15.4 -4.1 -4.8 -17.8 15.2z" fill="#2f82fa"/>
<path d="M1479.8 557.9l17.9 -15.5 -4.2 -4.8 -17.8 15.4z" fill="#2f81fa"/>
<path d="M1484.0 562.8l17.8 -15.7 -4.1 -4.7 -17.9 15.5z" fill="#2f80fa"/>
<path d="M1488.1 567.8l17.8 -15.9 -4.1 -4.8 -17.8 15.7z" fill="#3080fb"/>
<path d="M1492.3 572.7l17.8 -16.1 -4.2 -4.7 -17.8 15.9z" fill="#307ffb"/>
<path d="M1496.4 577.6l17.8 -16.3 -4.1 -4.7 -17.8 16.1z" fill="#317efb"/>
<path d="M1500.5 582.5l17.8 -16.5 -4.1 -4.7 -17.8 16.3z" fill="#317dfc"/>
<path d="M1504.7 587.3l17.8 -16.6 -4.2 -4.7 -17.8 16.5z" fill="#327cfc"/>
<path d="M1508.8 592.2l17.8 -16.8 -4.1 -4.7 -17.8 16.6z" fill="#327cfc"/>
<path d="M1513.0 597.0l17.8 -17 -4.2 -4.6 -17.8 16.8z" fill="#337bfc"/>
<path d="M1517.1 601.8l17.8 -17.1 -4.1 -4.7 -17.8 17z" fill="#347afd"/>
<path d="M1521.2 606.6l17.8 -17.3 -4.1 -4.6 -17.8 17.1z" fill="#3479fd"/>
<path d="M1525.4 611.4l17.8 -17.5 -4.2 -4.6 -17.8 17.3z" fill="#3579fd"/>
<path d="M1529.5 616.2l17.8 -17.8 -4.1 -4.5 -17.8 17.5z" fill="#3678fd"/>
<path d="M1533.7 620.9l17.8 -17.9 -4.2 -4.6 -17.8 17.8z" fill="#3777fe"/>
<path d="M1537.8 625.6l17.8 -18.1 -4.1 -4.5 -17.8 17.9z" fill="#3776fe"/>
<path d="M1541.9 630.3l17.8 -18.2 -4.1 -4.6 -17.8 18.1z" fill="#3876fe"/>
<path d="M1546.1 635.0l17.8 -18.4 -4.2 -4.5 -17.8 18.2z" fill="#3975fe"/>
<path d="M1550.2 639.6l17.8 -18.6 -4.1 -4.4 -17.8 18.4z" fill="#3974fe"/>
<path d="M1554.3 644.3l17.9 -18.8 -4.2 -4.5 -17.8 18.6z" fill="#3a74fe"/>
<path d="M1558.5 648.9l17.8 -19 -4.1 -4.4 -17.9 18.8z" fill="#3a73fe"/>
<path d="M1562.6 653.4l17.8 -19.1 -4.1 -4.4 -17.8 19z" fill="#3b73fe"/>
<path d="M1566.8 658.0l17.8 -19.3 -4.2 -4.4 -17.8 19.1z" fill="#3b72ff"/>
<path d="M1570.9 662.5l17.8 -19.4 -4.1 -4.4 -17.8 19.3z" fill="#3c71ff"/>
<path d="M1575.0 667.0l17.9 -19.6 -4.2 -4.3 -17.8 19.4z" fill="#3c71ff"/>
<path d="M1579.2 671.4l17.8 -19.7 -4.1 -4.3 -17.9 19.6z" fill="#3d70ff"/>
<path d="M1583.3 675.8l17.8 -19.8 -4.1 -4.3 -17.8 19.7z" fill="#3d70ff"/>
<path d="M1587.5 680.2l17.8 -19.9 -4.2 -4.3 -17.8 19.8z" fill="#3e70ff"/>
<path d="M1591.6 684.6l17.8 -20.1 -4.1 -4.2 -17.8 19.9z" fill="#3e6fff"/>
<path d="M1595.7 688.9l17.9 -20.2 -4.2 -4.2 -17.8 20.1z" fill="#3e6fff"/>
<path d="M1599.9 693.2l17.8 -20.3 -4.1 -4.2 -17.9 20.2z" fill="#3f6eff"/>
<path d="M1604.0 697.4l17.8 -20.4 -4.1 -4.1 -17.8 20.3z" fill="#3f6eff"/>
<path d="M1608.2 701.6l17.8 -20.5 -4.2 -4.1 -17.8 20.4z" fill="#3f6efe"/>
<path d="M1612.3 705.8l17.8 -20.6 -4.1 -4.1 -17.8 20.5z" fill="#3f6dfe"/>
<path d="M1616.4 709.9l17.9 -20.6 -4.2 -4.1 -17.8 20.6z" fill="#406dfe"/>
<path d="M1620.6 714.0l17.8 -20.7 -4.1 -4 -17.9 20.6z" fill="#406dfe"/>
<path d="M1624.7 718.1l17.8 -20.8 -4.1 -4 -17.8 20.7z" fill="#406dfe"/>
<path d="M1628.9 722.1l17.8 -20.8 -4.2 -4 -17.8 20.8z" fill="#406dfe"/>
<path d="M1633.0 726.1l17.8 -20.9 -4.1 -3.9 -17.8 20.8z" fill="#406cfe"/>
<path d="M1637.1 730.0l17.9 -20.9 -4.2 -3.9 -17.8 20.9z" fill="#406cfe"/>
<path d="M1641.3 733.9l17.8 -20.9 -4.1 -3.9 -17.9 20.9z" fill="#406cfe"/>
<path d="M1645.4 737.8l17.8 -21 -4.1 -3.8 -17.8 20.9z" fill="#406cfe"/>
<path d="M1649.6 741.6l17.8 -21 -4.2 -3.8 -17.8 21z" fill="#406cfe"/>
<path d="M1437.2 541.2l17.8 -13.2 -4.1 -5 -17.9 13z" fill="#327cfc"/>
<path d="M1441.3 546.4l17.8 -13.4 -4.1 -5 -17.8 13.2z" fill="#327bfc"/>
<path d="M1445.5 551.6l17.8 -13.6 -4.2 -5 -17.8 13.4z" fill="#347afd"/>
<path d="M1449.6 556.8l17.8 -13.8 -4.1 -5 -17.8 13.6z" fill="#3579fd"/>
<path d="M1453.7 562.0l17.9 -14 -4.2 -5 -17.8 13.8z" fill="#3678fd"/>
<path d="M1457.9 567.2l17.8 -14.2 -4.1 -5 -17.9 14z" fill="#3777fe"/>
<path d="M1462.0 572.3l17.8 -14.4 -4.1 -4.9 -17.8 14.2z" fill="#3876fe"/>
<path d="M1466.2 577.5l17.8 -14.7 -4.2 -4.9 -17.8 14.4z" fill="#3975fe"/>
<path d="M1470.3 582.6l17.8 -14.8 -4.1 -5 -17.8 14.7z" fill="#3a74fe"/>
<path d="M1474.4 587.8l17.9 -15.1 -4.2 -4.9 -17.8 14.8z" fill="#3b73fe"/>
<path d="M1478.6 592.9l17.8 -15.3 -4.1 -4.9 -17.9 15.1z" fill="#3c72ff"/>
<path d="M1482.7 598.0l17.8 -15.5 -4.1 -4.9 -17.8 15.3z" fill="#3d71ff"/>
<path d="M1486.9 603.1l17.8 -15.8 -4.2 -4.8 -17.8 15.5z" fill="#3e70ff"/>
<path d="M1491.0 608.2l17.8 -16 -4.1 -4.9 -17.8 15.8z" fill="#3e6fff"/>
<path d="M1495.1 613.2l17.9 -16.2 -4.2 -4.8 -17.8 16z" fill="#3f6efe"/>
<path d="M1499.3 618.3l17.8 -16.5 -4.1 -4.8 -17.9 16.2z" fill="#406dfe"/>
<path d="M1503.4 623.3l17.8 -16.7 -4.1 -4.8 -17.8 16.5z" fill="#406cfe"/>
<path d="M1507.6 628.3l17.8 -16.9 -4.2 -4.8 -17.8 16.7z" fill="#416bfe"/>
<path d="M1511.7 633.3l17.8 -17.1 -4.1 -4.8 -17.8 16.9z" fill="#426afe"/>
<path d="M1515.8 638.3l17.9 -17.4 -4.2 -4.7 -17.8 17.1z" fill="#4269fe"/>
<path d="M1520.0 643.3l17.8 -17.7 -4.1 -4.7 -17.9 17.4z" fill="#4369fe"/>
<path d="M1524.1 648.2l17.8 -17.9 -4.1 -4.7 -17.8 17.7z" fill="#4368fd"/>
<path d="M1528.3 653.1l17.8 -18.1 -4.2 -4.7 -17.8 17.9z" fill="#4367fd"/>
<path d="M1532.4 658.0l17.8 -18.4 -4.1 -4.6 -17.8 18.1z" fill="#4466fd"/>
<path d="M1536.5 662.8l17.8 -18.5 -4.1 -4.7 -17.8 18.4z" fill="#4465fd"/>
<path d="M1540.7 667.7l17.8 -18.8 -4.2 -4.6 -17.8 18.5z" fill="#4465fd"/>
<path d="M1544.8 672.5l17.8 -19.1 -4.1 -4.5 -17.8 18.8z" fill="#4564fd"/>
<path d="M1549.0 677.2l17.8 -19.2 -4.2 -4.6 -17.8 19.1z" fill="#4563fd"/>
<path d="M1553.1 682.0l17.8 -19.5 -4.1 -4.5 -17.8 19.2z" fill="#4563fc"/>
<path d="M1557.2 686.7l17.8 -19.7 -4.1 -4.5 -17.8 19.5z" fill="#4562fc"/>
<path d="M1561.4 691.3l17.8 -19.9 -4.2 -4.4 -17.8 19.7z" fill="#4561fc"/>
<path d="M1565.5 695.9l17.8 -20.1 -4.1 -4.4 -17.8 19.9z" fill="#4561fc"/>
<path d="M1569.6 700.5l17.9 -20.3 -4.2 -4.4 -17.8 20.1z" fill="#4660fc"/>
<path d="M1573.8 705.1l17.8 -20.5 -4.1 -4.4 -17.9 20.3z" fill="#4660fb"/>
<path d="M1577.9 709.6l17.8 -20.7 -4.1 -4.3 -17.8 20.5z" fill="#465ffb"/>
<path d="M1582.1 714.0l17.8 -20.8 -4.2 -4.3 -17.8 20.7z" fill="#465ffb"/>
<path d="M1586.2 718.4l17.8 -21 -4.1 -4.2 -17.8 20.8z" fill="#465efb"/>
<path d="M1590.3 722.8l17.9 -21.2 -4.2 -4.2 -17.8 21z" fill="#465efb"/>
<path d="M1594.5 727.1l17.8 -21.3 -4.1 -4.2 -17.9 21.2z" fill="#465efb"/>
<path d="M1598.6 731.4l17.8 -21.5 -4.1 -4.1 -17.8 21.3z" fill="#465dfb"/>
<path d="M1602.8 735.6l17.8 -21.6 -4.2 -4.1 -17.8 21.5z" fill="#465dfa"/>
<path d="M1606.9 739.7l17.8 -21.6 -4.1 -4.1 -17.8 21.6z" fill="#465dfa"/>
<path d="M1611.0 743.8l17.9 -21.7 -4.2 -4 -17.8 21.6z" fill="#475dfa"/>
<path d="M1615.2 747.9l17.8 -21.8 -4.1 -4 -17.9 21.7z" fill="#475cfa"/>
<path d="M1619.3 751.9l17.8 -21.9 -4.1 -3.9 -17.8 21.8z" fill="#475cfa"/>
<path d="M1623.5 755.8l17.8 -21.9 -4.2 -3.9 -17.8 21.9z" fill="#475cfa"/>
<path d="M1627.6 759.7l17.8 -21.9 -4.1 -3.9 -17.8 21.9z" fill="#475cfa"/>
<path d="M1631.7 763.5l17.9 -21.9 -4.2 -3.8 -17.8 21.9z" fill="#475cfa"/>
<path d="M1419.4 552.2l17.8 -11 -4.2 -5.2 -17.8 10.8z" fill="#3b73fe"/>
<path d="M1423.5 557.6l17.8 -11.2 -4.1 -5.2 -17.8 11z" fill="#3c72ff"/>
<path d="M1427.6 563.0l17.9 -11.4 -4.2 -5.2 -17.8 11.2z" fill="#3d70ff"/>
<path d="M1431.8 568.4l17.8 -11.6 -4.1 -5.2 -17.9 11.4z" fill="#3e6fff"/>
<path d="M1435.9 573.8l17.8 -11.8 -4.1 -5.2 -17.8 11.6z" fill="#3f6eff"/>
<path d="M1440.1 579.2l17.8 -12 -4.2 -5.2 -17.8 11.8z" fill="#406dfe"/>
<path d="M1444.2 584.6l17.8 -12.3 -4.1 -5.1 -17.8 12z" fill="#416cfe"/>
<path d="M1448.3 590.0l17.9 -12.5 -4.2 -5.2 -17.8 12.3z" fill="#416afe"/>
<path d="M1452.5 595.3l17.8 -12.7 -4.1 -5.1 -17.9 12.5z" fill="#4269fe"/>
<path d="M1456.6 600.7l17.8 -12.9 -4.1 -5.2 -17.8 12.7z" fill="#4368fe"/>
<path d="M1460.8 606.1l17.8 -13.2 -4.2 -5.1 -17.8 12.9z" fill="#4367fd"/>
<path d="M1464.9 611.4l17.8 -13.4 -4.1 -5.1 -17.8 13.2z" fill="#4466fd"/>
<path d="M1469.0 616.8l17.9 -13.7 -4.2 -5.1 -17.8 13.4z" fill="#4465fd"/>
<path d="M1473.2 622.2l17.8 -14 -4.1 -5.1 -17.9 13.7z" fill="#4564fd"/>
<path d="M1477.3 627.5l17.8 -14.3 -4.1 -5 -17.8 14z" fill="#4563fc"/>
<path d="M1481.5 632.8l17.8 -14.5 -4.2 -5.1 -17.8 14.3z" fill="#4561fc"/>
<path d="M1485.6 638.1l17.8 -14.8 -4.1 -5 -17.8 14.5z" fill="#4660fc"/>
<path d="M1489.7 643.5l17.9 -15.2 -4.2 -5 -17.8 14.8z" fill="#465ffb"/>
<path d="M1493.9 648.8l17.8 -15.5 -4.1 -5 -17.9 15.2z" fill="#465efb"/>
<path d="M1498.0 654.0l17.8 -15.7 -4.1 -5 -17.8 15.5z" fill="#465dfb"/>
<path d="M1502.2 659.3l17.8 -16 -4.2 -5 -17.8 15.7z" fill="#475cfa"/>
<path d="M1506.3 664.6l17.8 -16.4 -4.1 -4.9 -17.8 16z" fill="#475bfa"/>
<path d="M1510.4 669.8l17.9 -16.7 -4.2 -4.9 -17.8 16.4z" fill="#475af9"/>
<path d="M1514.6 675.0l17.8 -17 -4.1 -4.9 -17.9 16.7z" fill="#4759f9"/>
<path d="M1518.7 680.2l17.8 -17.4 -4.1 -4.8 -17.8 17z" fill="#4758f8"/>
<path d="M1522.9 685.3l17.8 -17.6 -4.2 -4.9 -17.8 17.4z" fill="#4758f8"/>
<path d="M1527.0 690.5l17.8 -18 -4.1 -4.8 -17.8 17.6z" fill="#4757f7"/>
<path d="M1531.1 695.6l17.9 -18.4 -4.2 -4.7 -17.8 18z" fill="#4756f6"/>
<path d="M1535.3 700.6l17.8 -18.6 -4.1 -4.8 -17.9 18.4z" fill="#4755f6"/>
<path d="M1539.4 705.7l17.8 -19 -4.1 -4.7 -17.8 18.6z" fill="#4854f5"/>
<path d="M1543.6 710.7l17.8 -19.4 -4.2 -4.6 -17.8 19z" fill="#4853f5"/>
<path d="M1547.7 715.6l17.8 -19.7 -4.1 -4.6 -17.8 19.4z" fill="#4853f4"/>
<path d="M1551.8 720.5l17.8 -20 -4.1 -4.6 -17.8 19.7z" fill="#4852f4"/>
<path d="M1556.0 725.4l17.8 -20.3 -4.2 -4.6 -17.8 20z" fill="#4851f3"/>
<path d="M1560.1 730.2l17.8 -20.6 -4.1 -4.5 -17.8 20.3z" fill="#4851f3"/>
<path d="M1564.3 735.0l17.8 -21 -4.2 -4.4 -17.8 20.6z" fill="#4850f2"/>
<path d="M1568.4 739.7l17.8 -21.3 -4.1 -4.4 -17.8 21z" fill="#484ff2"/>
<path d="M1572.5 744.3l17.8 -21.5 -4.1 -4.4 -17.8 21.3z" fill="#484ff2"/>
<path d="M1576.7 748.9l17.8 -21.8 -4.2 -4.3 -17.8 21.5z" fill="#484ef1"/>
<path d="M1580.8 753.4l17.8 -22 -4.1 -4.3 -17.8 21.8z" fill="#484ef1"/>
<path d="M1585.0 757.8l17.8 -22.2 -4.2 -4.2 -17.8 22z" fill="#484df1"/>
<path d="M1589.1 762.2l17.8 -22.5 -4.1 -4.1 -17.8 22.2z" fill="#484df0"/>
<path d="M1593.2 766.4l17.8 -22.6 -4.1 -4.1 -17.8 22.5z" fill="#484df0"/>
<path d="M1597.4 770.6l17.8 -22.7 -4.2 -4.1 -17.8 22.6z" fill="#484cf0"/>
<path d="M1601.5 774.7l17.8 -22.8 -4.1 -4 -17.8 22.7z" fill="#484cf0"/>
<path d="M1605.6 778.7l17.9 -22.9 -4.2 -3.9 -17.8 22.8z" fill="#484cef"/>
<path d="M1609.8 782.7l17.8 -23 -4.1 -3.9 -17.9 22.9z" fill="#484cef"/>
<path d="M1613.9 786.5l17.8 -23 -4.1 -3.8 -17.8 23z" fill="#484cef"/>
<path d="M1401.6 559.9l17.8 -7.7 -4.2 -5.4 -17.8 7.5z" fill="#406cfe"/>
<path d="M1405.7 565.4l17.8 -7.8 -4.1 -5.4 -17.8 7.7z" fill="#416bfe"/>
<path d="M1409.8 571.0l17.8 -8 -4.1 -5.4 -17.8 7.8z" fill="#4269fe"/>
<path d="M1414.0 576.6l17.8 -8.2 -4.2 -5.4 -17.8 8z" fill="#4368fe"/>
<path d="M1418.1 582.1l17.8 -8.3 -4.1 -5.4 -17.8 8.2z" fill="#4367fd"/>
<path d="M1422.3 587.7l17.8 -8.5 -4.2 -5.4 -17.8 8.3z" fill="#4465fd"/>
<path d="M1426.4 593.3l17.8 -8.7 -4.1 -5.4 -17.8 8.5z" fill="#4464fd"/>
<path d="M1430.5 598.8l17.8 -8.8 -4.1 -5.4 -17.8 8.7z" fill="#4563fc"/>
<path d="M1434.7 604.4l17.8 -9.1 -4.2 -5.3 -17.8 8.8z" fill="#4562fc"/>
<path d="M1438.8 610.0l17.8 -9.3 -4.1 -5.4 -17.8 9.1z" fill="#4660fc"/>
<path d="M1442.9 615.6l17.9 -9.5 -4.2 -5.4 -17.8 9.3z" fill="#465ffb"/>
<path d="M1447.1 621.2l17.8 -9.8 -4.1 -5.3 -17.9 9.5z" fill="#465efb"/>
<path d="M1451.2 626.8l17.8 -10 -4.1 -5.4 -17.8 9.8z" fill="#475cfa"/>
<path d="M1455.4 632.4l17.8 -10.2 -4.2 -5.4 -17.8 10z" fill="#475bf9"/>
<path d="M1459.5 638.0l17.8 -10.5 -4.1 -5.3 -17.8 10.2z" fill="#475af9"/>
<path d="M1463.6 643.6l17.9 -10.8 -4.2 -5.3 -17.8 10.5z" fill="#4759f8"/>
<path d="M1467.8 649.2l17.8 -11.1 -4.1 -5.3 -17.9 10.8z" fill="#4757f7"/>
<path d="M1471.9 654.8l17.8 -11.3 -4.1 -5.4 -17.8 11.1z" fill="#4756f7"/>
<path d="M1476.1 660.4l17.8 -11.6 -4.2 -5.3 -17.8 11.3z" fill="#4755f6"/>
<path d="M1480.2 666.0l17.8 -12 -4.1 -5.2 -17.8 11.6z" fill="#4854f5"/>
<path d="M1484.3 671.6l17.9 -12.3 -4.2 -5.3 -17.8 12z" fill="#4852f4"/>
<path d="M1488.5 677.2l17.8 -12.6 -4.1 -5.3 -17.9 12.3z" fill="#4851f3"/>
<path d="M1492.6 682.8l17.8 -13 -4.1 -5.2 -17.8 12.6z" fill="#4850f3"/>
<path d="M1496.8 688.4l17.8 -13.4 -4.2 -5.2 -17.8 13z" fill="#484ff2"/>
<path d="M1500.9 694.0l17.8 -13.8 -4.1 -5.2 -17.8 13.4z" fill="#484ef1"/>
<path d="M1505.0 699.5l17.9 -14.2 -4.2 -5.1 -17.8 13.8z" fill="#484cf0"/>
<path d="M1509.2 705.1l17.8 -14.6 -4.1 -5.2 -17.9 14.2z" fill="#484bef"/>
<path d="M1513.3 710.6l17.8 -15 -4.1 -5.1 -17.8 14.6z" fill="#484aee"/>
<path d="M1517.5 716.2l17.8 -15.6 -4.2 -5 -17.8 15z" fill="#4849ed"/>
<path d="M1521.6 721.7l17.8 -16 -4.1 -5.1 -17.8 15.6z" fill="#4848ec"/>
<path d="M1525.7 727.2l17.9 -16.5 -4.2 -5 -17.8 16z" fill="#4747eb"/>
<path d="M1529.9 732.7l17.8 -17.1 -4.1 -4.9 -17.9 16.5z" fill="#4745ea"/>
<path d="M1534.0 738.1l17.8 -17.6 -4.1 -4.9 -17.8 17.1z" fill="#4744e9"/>
<path d="M1538.2 743.5l17.8 -18.1 -4.2 -4.9 -17.8 17.6z" fill="#4743e7"/>
<path d="M1542.3 748.9l17.8 -18.7 -4.1 -4.8 -17.8 18.1z" fill="#4742e6"/>
<path d="M1546.4 754.2l17.9 -19.2 -4.2 -4.8 -17.8 18.7z" fill="#4741e5"/>
<path d="M1550.6 759.5l17.8 -19.8 -4.1 -4.7 -17.9 19.2z" fill="#4740e4"/>
<path d="M1554.7 764.7l17.8 -20.4 -4.1 -4.6 -17.8 19.8z" fill="#4740e3"/>
<path d="M1558.9 769.8l17.8 -20.9 -4.2 -4.6 -17.8 20.4z" fill="#473fe2"/>
<path d="M1563.0 774.9l17.8 -21.5 -4.1 -4.5 -17.8 20.9z" fill="#463ee1"/>
<path d="M1567.1 779.8l17.9 -22 -4.2 -4.4 -17.8 21.5z" fill="#463de0"/>
<path d="M1571.3 784.7l17.8 -22.5 -4.1 -4.4 -17.9 22z" fill="#463ddf"/>
<path d="M1575.4 789.4l17.8 -23 -4.1 -4.2 -17.8 22.5z" fill="#463cdf"/>
<path d="M1579.6 793.9l17.8 -23.3 -4.2 -4.2 -17.8 23z" fill="#463cde"/>
<path d="M1583.7 798.4l17.8 -23.7 -4.1 -4.1 -17.8 23.3z" fill="#463bdd"/>
<path d="M1587.8 802.6l17.8 -23.9 -4.1 -4 -17.8 23.7z" fill="#463bdd"/>
<path d="M1592.0 806.7l17.8 -24 -4.2 -4 -17.8 23.9z" fill="#463bdd"/>
<path d="M1596.1 810.6l17.8 -24.1 -4.1 -3.8 -17.8 24z" fill="#463bdd"/>
<path d="M1383.7 563.2l17.9 -3.3 -4.2 -5.6 -17.8 3.3z" fill="#4368fe"/>
<path d="M1387.9 568.8l17.8 -3.4 -4.1 -5.5 -17.9 3.3z" fill="#4367fd"/>
<path d="M1392.0 574.4l17.8 -3.4 -4.1 -5.6 -17.8 3.4z" fill="#4466fd"/>
<path d="M1396.2 580.0l17.8 -3.4 -4.2 -5.6 -17.8 3.4z" fill="#4464fd"/>
<path d="M1400.3 585.7l17.8 -3.6 -4.1 -5.5 -17.8 3.4z" fill="#4563fc"/>
<path d="M1404.4 591.3l17.9 -3.6 -4.2 -5.6 -17.8 3.6z" fill="#4561fc"/>
<path d="M1408.6 597.0l17.8 -3.7 -4.1 -5.6 -17.9 3.6z" fill="#4660fc"/>
<path d="M1412.7 602.6l17.8 -3.8 -4.1 -5.5 -17.8 3.7z" fill="#465ffb"/>
<path d="M1416.9 608.3l17.8 -3.9 -4.2 -5.6 -17.8 3.8z" fill="#465dfb"/>
<path d="M1421.0 614.0l17.8 -4 -4.1 -5.6 -17.8 3.9z" fill="#475cfa"/>
<path d="M1425.1 619.6l17.8 -4 -4.1 -5.6 -17.8 4z" fill="#475bf9"/>
<path d="M1429.3 625.3l17.8 -4.1 -4.2 -5.6 -17.8 4z" fill="#4759f8"/>
<path d="M1433.4 631.0l17.8 -4.2 -4.1 -5.6 -17.8 4.1z" fill="#4758f8"/>
<path d="M1437.6 636.7l17.8 -4.3 -4.2 -5.6 -17.8 4.2z" fill="#4756f7"/>
<path d="M1441.7 642.4l17.8 -4.4 -4.1 -5.6 -17.8 4.3z" fill="#4755f6"/>
<path d="M1445.8 648.2l17.8 -4.6 -4.1 -5.6 -17.8 4.4z" fill="#4854f5"/>
<path d="M1450.0 653.9l17.8 -4.7 -4.2 -5.6 -17.8 4.6z" fill="#4852f4"/>
<path d="M1454.1 659.6l17.8 -4.8 -4.1 -5.6 -17.8 4.7z" fill="#4851f3"/>
<path d="M1458.3 665.4l17.8 -5 -4.2 -5.6 -17.8 4.8z" fill="#484ff2"/>
<path d="M1462.4 671.1l17.8 -5.1 -4.1 -5.6 -17.8 5z" fill="#484ef1"/>
<path d="M1466.5 676.9l17.8 -5.3 -4.1 -5.6 -17.8 5.1z" fill="#484cf0"/>
<path d="M1470.7 682.7l17.8 -5.5 -4.2 -5.6 -17.8 5.3z" fill="#484bef"/>
<path d="M1474.8 688.5l17.8 -5.7 -4.1 -5.6 -17.8 5.5z" fill="#484aed"/>
<path d="M1479.0 694.2l17.8 -5.8 -4.2 -5.6 -17.8 5.7z" fill="#4848ec"/>
<path d="M1483.1 700.0l17.8 -6 -4.1 -5.6 -17.8 5.8z" fill="#4747eb"/>
<path d="M1487.2 705.8l17.8 -6.3 -4.1 -5.5 -17.8 6z" fill="#4745e9"/>
<path d="M1491.4 711.7l17.8 -6.6 -4.2 -5.6 -17.8 6.3z" fill="#4744e8"/>
<path d="M1495.5 717.5l17.8 -6.9 -4.1 -5.5 -17.8 6.6z" fill="#4742e6"/>
<path d="M1499.6 723.3l17.9 -7.1 -4.2 -5.6 -17.8 6.9z" fill="#4741e5"/>
<path d="M1503.8 729.2l17.8 -7.5 -4.1 -5.5 -17.9 7.1z" fill="#4740e3"/>
<path d="M1507.9 735.0l17.8 -7.8 -4.1 -5.5 -17.8 7.5z" fill="#473ee1"/>
<path d="M1512.1 740.9l17.8 -8.2 -4.2 -5.5 -17.8 7.8z" fill="#463ddf"/>
<path d="M1516.2 746.7l17.8 -8.6 -4.1 -5.4 -17.8 8.2z" fill="#463bde"/>
<path d="M1520.3 752.6l17.9 -9.1 -4.2 -5.4 -17.8 8.6z" fill="#463adb"/>
<path d="M1524.5 758.5l17.8 -9.6 -4.1 -5.4 -17.9 9.1z" fill="#4639d9"/>
<path d="M1528.6 764.4l17.8 -10.2 -4.1 -5.3 -17.8 9.6z" fill="#4538d7"/>
<path d="M1532.8 770.3l17.8 -10.8 -4.2 -5.3 -17.8 10.2z" fill="#4537d5"/>
<path d="M1536.9 776.2l17.8 -11.5 -4.1 -5.2 -17.8 10.8z" fill="#4536d2"/>
<path d="M1541.0 782.1l17.9 -12.3 -4.2 -5.1 -17.8 11.5z" fill="#4435d0"/>
<path d="M1545.2 788.0l17.8 -13.1 -4.1 -5.1 -17.9 12.3z" fill="#4434ce"/>
<path d="M1549.3 794.0l17.8 -14.2 -4.1 -4.9 -17.8 13.1z" fill="#4433cb"/>
<path d="M1553.5 799.9l17.8 -15.2 -4.2 -4.9 -17.8 14.2z" fill="#4332c9"/>
<path d="M1557.6 805.9l17.8 -16.5 -4.1 -4.7 -17.8 15.2z" fill="#4331c6"/>
<path d="M1561.7 811.8l17.9 -17.9 -4.2 -4.5 -17.8 16.5z" fill="#4230c4"/>
<path d="M1565.9 817.8l17.8 -19.4 -4.1 -4.5 -17.9 17.9z" fill="#422fc2"/>
<path d="M1570.0 823.8l17.8 -21.2 -4.1 -4.2 -17.8 19.4z" fill="#422fc0"/>
<path d="M1574.2 829.8l17.8 -23.1 -4.2 -4.1 -17.8 21.2z" fill="#412ebe"/>
<path d="M1578.3 835.8l17.8 -25.2 -4.1 -3.9 -17.8 23.1z" fill="#412dbc"/>
</g>
<defs>
<clipPath id="dc1"><polygon points="1442.2,518.4 1442.2,529.4 1444.4,529.4 1444.4,528.9 1450.3,524.4 1451.7,522.9 1455.9,519.4 1465.2,518.9 1465.2,518.4"/></clipPath>
<clipPath id="dc2"><polygon points="2185.7,147.1 2185.7,152.1 2191.7,152.1 2191.7,151.6 2201.1,150.1 2208.7,149.6 2208.7,147.1"/></clipPath>
<clipPath id="dc3"><polygon points="1702.4,315.3 1702.4,330.8 1706.1,330.8 1706.1,330.3 1721.3,320.8 1725.4,320.3 1725.4,315.3"/></clipPath>
<clipPath id="dc4"><polygon points="1739.6,287.5 1739.6,307.0 1749.3,307.0 1749.3,306.5 1759.0,301.0 1762.6,300.5 1762.6,287.5"/></clipPath>
<clipPath id="dc5"><polygon points="1382.4,580.9 1382.4,600.9 1405.4,600.9 1405.4,589.9 1402.8,589.4 1402.9,588.9 1402.2,587.9 1399.9,585.4 1399.2,584.4 1398.8,583.4 1398.0,582.9 1397.9,582.4 1405.4,581.9 1405.4,580.9"/></clipPath>
<clipPath id="dc6"><polygon points="1419.6,559.1 1419.6,571.6 1422.6,571.6 1422.6,571.1 1434.5,564.6 1437.4,562.6 1442.6,562.1 1442.6,559.1"/></clipPath>
<clipPath id="dc7"><polygon points="1456.8,531.1 1456.8,547.1 1461.3,547.1 1461.4,546.1 1467.0,541.1 1469.1,539.6 1469.2,539.1 1471.2,537.6 1472.4,536.1 1474.1,534.6 1479.8,534.1 1479.8,531.1"/></clipPath>
<clipPath id="dc8"><polygon points="2051.6,196.3 2051.6,201.8 2055.8,201.8 2055.8,201.3 2067.8,198.3 2074.6,197.8 2074.6,196.3"/></clipPath>
<clipPath id="dc9"><polygon points="2088.8,174.4 2088.8,192.9 2095.4,192.9 2095.4,192.4 2106.3,189.9 2111.8,189.4 2111.8,174.4"/></clipPath>
<clipPath id="dc10"><polygon points="2014.5,203.6 2014.5,213.6 2017.2,213.6 2017.2,213.1 2033.1,208.6 2037.5,208.1 2037.5,203.6"/></clipPath>
<clipPath id="dc11"><polygon points="1791.4,287.1 1791.4,303.1 1795.9,303.1 1795.9,302.6 1803.3,298.6 1811.5,294.6 1814.4,294.1 1814.4,287.1"/></clipPath>
<clipPath id="dc12"><polygon points="1534.1,540.9 1534.1,558.9 1540.5,558.9 1540.5,558.4 1541.9,557.4 1542.0,556.9 1543.3,555.9 1545.2,553.4 1548.4,550.4 1548.4,549.9 1550.2,548.4 1550.3,547.9 1552.6,545.4 1557.1,544.9 1557.1,540.9"/></clipPath>
<clipPath id="dc13"><polygon points="1571.3,517.9 1571.3,525.4 1573.9,525.4 1574.0,524.4 1575.4,523.4 1575.9,522.4 1578.7,519.9 1578.9,519.4 1579.8,518.9 1580.0,517.9"/></clipPath>
<clipPath id="dc14"><polygon points="2240.5,197.2 2240.5,202.7 2246.6,202.7 2246.6,202.2 2255.3,200.7 2263.5,200.2 2263.5,197.2"/></clipPath>
<clipPath id="dc15"><polygon points="2203.3,192.3 2203.3,211.8 2212.5,211.8 2212.5,211.3 2217.9,210.3 2226.3,209.8 2226.3,192.3"/></clipPath>
<clipPath id="dc16"><polygon points="2091.8,226.4 2091.8,239.9 2096.0,239.9 2096.0,239.4 2114.8,234.9 2114.8,226.4"/></clipPath>
<clipPath id="dc17"><polygon points="1720.0,392.7 1720.0,407.2 1723.6,407.2 1723.6,406.7 1733.2,399.7 1735.9,398.2 1737.9,396.7 1743.0,396.2 1743.0,392.7"/></clipPath>
<clipPath id="dc18"><polygon points="1757.2,360.6 1757.2,380.1 1767.9,380.1 1767.9,379.6 1770.6,378.1 1777.4,373.6 1780.2,373.1 1780.2,360.6"/></clipPath>
<clipPath id="dc19"><polygon points="1549.8,556.9 1549.8,575.4 1557.4,575.4 1559.3,572.4 1561.5,569.9 1565.1,566.4 1565.1,565.9 1566.9,564.4 1567.0,563.9 1569.0,561.9 1572.8,561.4 1572.8,556.9"/></clipPath>
<clipPath id="dc20"><polygon points="1772.9,387.0 1772.9,398.0 1775.6,398.0 1775.6,397.5 1789.0,389.0 1795.9,388.5 1795.9,387.0"/></clipPath>
<clipPath id="dc21"><polygon points="2033.1,259.4 2033.1,277.4 2039.5,277.4 2039.5,276.9 2052.5,272.9 2056.1,272.4 2056.1,259.4"/></clipPath>
<clipPath id="dc22"><polygon points="1810.0,364.4 1810.0,376.4 1812.4,376.4 1812.8,375.4 1823.2,369.4 1825.4,368.4 1826.9,367.4 1833.0,366.9 1833.0,364.4"/></clipPath>
<clipPath id="dc23"><polygon points="1568.9,579.0 1568.9,597.0 1574.8,597.0 1577.1,594.0 1578.6,592.0 1581.7,589.0 1581.7,588.5 1583.4,587.0 1583.5,586.5 1587.2,582.5 1591.9,582.0 1591.9,579.0"/></clipPath>
<clipPath id="dc24"><polygon points="2275.3,217.6 2275.3,236.1 2282.9,236.1 2282.9,235.6 2292.1,234.1 2298.3,233.6 2298.3,217.6"/></clipPath>
<clipPath id="dc25"><polygon points="2126.6,259.9 2126.6,271.9 2131.0,271.9 2131.0,271.4 2149.6,266.9 2149.6,259.9"/></clipPath>
<clipPath id="dc26"><polygon points="2089.4,268.8 2089.4,283.3 2093.5,283.3 2093.5,282.8 2109.7,278.3 2112.4,277.8 2112.4,268.8"/></clipPath>
<clipPath id="dc27"><polygon points="1866.3,364.0 1866.3,373.5 1869.1,373.5 1869.1,373.0 1882.5,366.0 1889.3,365.5 1889.3,364.0"/></clipPath>
<clipPath id="dc28"><polygon points="1586.1,593.2 1586.1,612.7 1595.3,612.7 1595.7,611.2 1597.4,609.7 1597.4,609.2 1599.5,606.7 1603.3,602.7 1603.4,602.2 1604.5,601.2 1604.6,600.7 1606.2,599.2 1609.1,598.7 1609.1,593.2"/></clipPath>
<clipPath id="dc29"><polygon points="1623.2,575.1 1623.2,576.6 1627.6,576.6 1627.6,576.1 1628.1,575.6 1628.1,575.1"/></clipPath>
<clipPath id="dc30"><polygon points="2255.3,249.8 2255.3,259.3 2259.6,259.3 2259.6,258.8 2273.2,256.3 2278.3,255.8 2278.3,249.8"/></clipPath>
<clipPath id="dc31"><polygon points="1771.9,442.7 1771.9,457.2 1775.1,457.2 1775.4,456.2 1782.3,451.2 1787.6,447.7 1789.8,446.2 1794.9,445.7 1794.9,442.7"/></clipPath>
<clipPath id="dc32"><polygon points="1809.1,412.9 1809.1,431.4 1815.8,431.4 1815.8,430.9 1829.9,421.9 1832.1,421.4 1832.1,412.9"/></clipPath>
<clipPath id="dc33"><polygon points="1600.4,606.5 1600.4,626.0 1611.1,626.0 1611.5,624.5 1613.2,623.0 1613.3,622.5 1615.3,620.0 1618.6,616.5 1618.6,616.0 1620.3,614.5 1620.5,614.0 1623.4,613.5 1623.4,606.5"/></clipPath>
<clipPath id="dc34"><polygon points="1786.3,464.9 1786.3,467.9 1791.1,467.9 1791.1,467.4 1793.8,465.4 1793.8,464.9"/></clipPath>
<clipPath id="dc35"><polygon points="1823.4,434.6 1823.4,446.1 1825.8,446.1 1825.8,445.6 1831.7,441.6 1836.0,439.1 1839.6,436.6 1846.4,436.1 1846.4,434.6"/></clipPath>
<clipPath id="dc36"><polygon points="1860.6,415.5 1860.6,423.0 1863.4,423.0 1863.4,422.5 1865.5,421.0 1868.5,419.5 1873.3,416.5 1883.6,416.0 1883.6,415.5"/></clipPath>
<clipPath id="dc37"><polygon points="1897.8,381.6 1897.8,401.1 1908.0,401.1 1908.0,400.6 1917.4,395.6 1920.8,395.1 1920.8,381.6"/></clipPath>
<clipPath id="dc38"><polygon points="1613.9,623.9 1613.9,642.4 1621.6,642.4 1623.5,639.4 1624.6,637.9 1628.2,633.9 1628.2,633.4 1629.9,631.9 1630.0,631.4 1632.5,628.4 1636.9,627.9 1636.9,623.9"/></clipPath>
<clipPath id="dc39"><polygon points="1616.9,631.0 1616.9,647.5 1621.8,647.5 1621.8,647.0 1622.8,645.5 1627.2,640.5 1627.2,640.0 1628.4,639.0 1628.5,638.5 1630.9,635.5 1631.8,635.0 1631.7,634.5 1633.0,633.0 1639.9,632.5 1639.9,631.0"/></clipPath>
<clipPath id="dc40"><polygon points="2320.3,260.7 2320.3,277.7 2325.7,277.7 2325.7,277.2 2337.7,275.2 2343.3,274.7 2343.3,260.7"/></clipPath>
<clipPath id="dc41"><polygon points="2283.2,273.8 2283.2,285.3 2287.0,285.3 2287.0,284.8 2306.2,281.3 2306.2,273.8"/></clipPath>
<clipPath id="dc42"><polygon points="1837.0,449.9 1837.0,457.9 1840.1,457.9 1840.1,457.4 1849.7,450.9 1860.0,450.4 1860.0,449.9"/></clipPath>
<clipPath id="dc43"><polygon points="1874.2,424.7 1874.2,436.2 1877.0,436.2 1877.0,435.7 1886.9,429.7 1889.1,428.7 1891.6,427.2 1897.2,426.7 1897.2,424.7"/></clipPath>
<clipPath id="dc44"><polygon points="1911.4,400.5 1911.4,416.0 1915.0,416.0 1915.0,415.5 1931.3,407.0 1934.4,406.5 1934.4,400.5"/></clipPath>
<clipPath id="dc45"><polygon points="1951.5,378.4 1951.5,397.9 1961.7,397.9 1961.7,397.4 1970.7,393.4 1974.5,392.9 1974.5,378.4"/></clipPath>
<clipPath id="dc46"><polygon points="1720.1,663.2 1719.8,664.2 1719.1,664.7 1714.6,669.7 1712.7,671.2 1708.5,675.7 1700.0,676.2 1700.0,677.2 1723.0,677.2 1723.0,663.2"/></clipPath>
<clipPath id="dc47"><polygon points="1662.9,673.7 1662.9,691.2 1668.7,691.2 1668.7,690.7 1669.7,689.7 1669.9,689.2 1674.6,683.7 1674.6,683.2 1675.7,682.2 1675.8,681.7 1680.2,676.7 1685.9,676.2 1685.9,673.7"/></clipPath>
<clipPath id="dc48"><polygon points="2350.1,342.6 2350.1,343.1 2338.7,345.6 2332.1,346.1 2332.1,347.6 2355.1,347.6 2355.1,342.6"/></clipPath>
<clipPath id="dc49"><polygon points="1868.7,539.1 1868.7,539.6 1854.6,549.6 1848.8,550.1 1848.8,553.1 1871.8,553.1 1871.8,539.1"/></clipPath>
<clipPath id="dc50"><polygon points="2220.5,347.4 2220.5,358.9 2222.8,358.9 2222.8,358.4 2240.5,353.9 2243.5,353.4 2243.5,347.4"/></clipPath>
<clipPath id="dc51"><polygon points="1885.9,496.3 1885.9,502.8 1889.6,502.8 1889.6,502.3 1897.1,497.3 1908.9,496.8 1908.9,496.3"/></clipPath>
<clipPath id="dc52"><polygon points="1923.1,465.4 1923.1,481.4 1927.1,481.4 1927.1,480.9 1932.7,477.9 1943.0,471.9 1946.1,471.4 1946.1,465.4"/></clipPath>
<clipPath id="dc53"><polygon points="1960.3,437.8 1960.3,457.8 1983.3,457.8 1983.3,457.3 1974.0,456.8 1977.6,454.8 1983.3,454.3 1983.3,437.8"/></clipPath>
</defs>
<g id="dots" fill="#0000ff" stroke="#fff" stroke-width="1.8">
<circle cx="1379.3" cy="575.9" r="8.3"/>
<circle cx="1453.7" cy="528.4" r="8.3" clip-path="url(#dc1)"/>
<circle cx="2197.2" cy="157.1" r="8.3" clip-path="url(#dc2)"/>
<circle cx="2160.1" cy="136.5" r="8.3"/>
<circle cx="2048.5" cy="165.8" r="8.3"/>
<circle cx="1713.9" cy="325.3" r="8.3" clip-path="url(#dc3)"/>
<circle cx="2011.3" cy="182.9" r="8.3"/>
<circle cx="1751.1" cy="297.5" r="8.3" clip-path="url(#dc4)"/>
<circle cx="2122.9" cy="109.7" r="8.3"/>
<circle cx="2085.7" cy="124.1" r="8.3"/>
<circle cx="1393.9" cy="590.9" r="8.3" clip-path="url(#dc5)"/>
<circle cx="1788.3" cy="262.4" r="8.3"/>
<circle cx="1431.1" cy="569.1" r="8.3" clip-path="url(#dc6)"/>
<circle cx="1468.3" cy="541.1" r="8.3" clip-path="url(#dc7)"/>
<circle cx="1974.2" cy="146.2" r="8.3"/>
<circle cx="1825.5" cy="211.0" r="8.3"/>
<circle cx="2063.1" cy="206.3" r="8.3" clip-path="url(#dc8)"/>
<circle cx="1862.6" cy="165.2" r="8.3"/>
<circle cx="2137.5" cy="168.5" r="8.3"/>
<circle cx="2100.3" cy="184.4" r="8.3" clip-path="url(#dc9)"/>
<circle cx="2026.0" cy="213.6" r="8.3" clip-path="url(#dc10)"/>
<circle cx="1937.0" cy="113.5" r="8.3"/>
<circle cx="1899.8" cy="130.6" r="8.3"/>
<circle cx="1802.9" cy="297.1" r="8.3" clip-path="url(#dc11)"/>
<circle cx="1988.8" cy="199.2" r="8.3"/>
<circle cx="1840.1" cy="246.6" r="8.3"/>
<circle cx="1877.2" cy="203.9" r="8.3"/>
<circle cx="1951.6" cy="165.3" r="8.3"/>
<circle cx="1914.4" cy="177.2" r="8.3"/>
<circle cx="1434.1" cy="623.1" r="8.3"/>
<circle cx="1471.2" cy="603.8" r="8.3"/>
<circle cx="1508.4" cy="576.2" r="8.3"/>
<circle cx="1545.6" cy="550.9" r="8.3" clip-path="url(#dc12)"/>
<circle cx="1582.8" cy="527.4" r="8.3" clip-path="url(#dc13)"/>
<circle cx="2252.0" cy="207.2" r="8.3" clip-path="url(#dc14)"/>
<circle cx="2214.8" cy="202.3" r="8.3" clip-path="url(#dc15)"/>
<circle cx="2103.3" cy="236.4" r="8.3" clip-path="url(#dc16)"/>
<circle cx="2177.6" cy="197.9" r="8.3"/>
<circle cx="1731.5" cy="402.7" r="8.3" clip-path="url(#dc17)"/>
<circle cx="2140.4" cy="206.7" r="8.3"/>
<circle cx="1768.7" cy="370.6" r="8.3" clip-path="url(#dc18)"/>
<circle cx="1805.8" cy="340.1" r="8.3"/>
<circle cx="2028.9" cy="221.3" r="8.3"/>
<circle cx="1843.0" cy="306.4" r="8.3"/>
<circle cx="1449.8" cy="638.9" r="8.3"/>
<circle cx="1486.9" cy="618.4" r="8.3"/>
<circle cx="1524.1" cy="589.4" r="8.3"/>
<circle cx="1561.3" cy="566.9" r="8.3" clip-path="url(#dc19)"/>
<circle cx="1880.2" cy="261.8" r="8.3"/>
<circle cx="1917.4" cy="221.2" r="8.3"/>
<circle cx="1991.7" cy="177.8" r="8.3"/>
<circle cx="1954.5" cy="184.4" r="8.3"/>
<circle cx="1784.4" cy="397.0" r="8.3" clip-path="url(#dc20)"/>
<circle cx="2044.6" cy="269.4" r="8.3" clip-path="url(#dc21)"/>
<circle cx="1821.5" cy="374.4" r="8.3" clip-path="url(#dc22)"/>
<circle cx="1858.7" cy="340.5" r="8.3"/>
<circle cx="1895.9" cy="299.6" r="8.3"/>
<circle cx="2007.4" cy="225.4" r="8.3"/>
<circle cx="1506.1" cy="642.9" r="8.3"/>
<circle cx="1933.1" cy="259.8" r="8.3"/>
<circle cx="1468.9" cy="659.1" r="8.3"/>
<circle cx="1970.3" cy="230.2" r="8.3"/>
<circle cx="1543.2" cy="610.9" r="8.3"/>
<circle cx="1580.4" cy="589.0" r="8.3" clip-path="url(#dc23)"/>
<circle cx="2286.8" cy="227.6" r="8.3" clip-path="url(#dc24)"/>
<circle cx="2249.6" cy="232.3" r="8.3"/>
<circle cx="2138.1" cy="269.9" r="8.3" clip-path="url(#dc25)"/>
<circle cx="2175.3" cy="248.9" r="8.3"/>
<circle cx="2100.9" cy="278.8" r="8.3" clip-path="url(#dc26)"/>
<circle cx="2212.4" cy="220.8" r="8.3"/>
<circle cx="1877.8" cy="374.0" r="8.3" clip-path="url(#dc27)"/>
<circle cx="2063.7" cy="252.3" r="8.3"/>
<circle cx="1915.0" cy="322.6" r="8.3"/>
<circle cx="1486.0" cy="672.3" r="8.3"/>
<circle cx="1523.2" cy="653.0" r="8.3"/>
<circle cx="1560.4" cy="626.5" r="8.3"/>
<circle cx="1597.6" cy="603.2" r="8.3" clip-path="url(#dc28)"/>
<circle cx="1634.7" cy="582.1" r="8.3" clip-path="url(#dc29)"/>
<circle cx="1952.2" cy="261.6" r="8.3"/>
<circle cx="2026.5" cy="215.4" r="8.3"/>
<circle cx="2266.8" cy="259.8" r="8.3" clip-path="url(#dc30)"/>
<circle cx="1989.4" cy="227.7" r="8.3"/>
<circle cx="2229.6" cy="240.3" r="8.3"/>
<circle cx="1783.4" cy="452.7" r="8.3" clip-path="url(#dc31)"/>
<circle cx="2155.2" cy="272.8" r="8.3"/>
<circle cx="2118.1" cy="286.7" r="8.3"/>
<circle cx="1820.6" cy="422.9" r="8.3" clip-path="url(#dc32)"/>
<circle cx="2192.4" cy="244.3" r="8.3"/>
<circle cx="1857.8" cy="393.0" r="8.3"/>
<circle cx="1500.3" cy="686.2" r="8.3"/>
<circle cx="1895.0" cy="360.9" r="8.3"/>
<circle cx="1537.5" cy="663.5" r="8.3"/>
<circle cx="1574.7" cy="636.9" r="8.3"/>
<circle cx="2080.9" cy="260.5" r="8.3"/>
<circle cx="1611.9" cy="616.5" r="8.3" clip-path="url(#dc33)"/>
<circle cx="1932.2" cy="315.8" r="8.3"/>
<circle cx="1969.3" cy="271.6" r="8.3"/>
<circle cx="2043.7" cy="227.3" r="8.3"/>
<circle cx="2372.0" cy="356.2" r="8.3"/>
<circle cx="1797.8" cy="473.9" r="8.3" clip-path="url(#dc34)"/>
<circle cx="2006.5" cy="238.3" r="8.3"/>
<circle cx="1834.9" cy="444.6" r="8.3" clip-path="url(#dc35)"/>
<circle cx="1872.1" cy="425.5" r="8.3" clip-path="url(#dc36)"/>
<circle cx="2095.2" cy="312.4" r="8.3"/>
<circle cx="1909.3" cy="391.6" r="8.3" clip-path="url(#dc37)"/>
<circle cx="1513.9" cy="699.7" r="8.3"/>
<circle cx="1551.1" cy="679.9" r="8.3"/>
<circle cx="1625.4" cy="633.9" r="8.3" clip-path="url(#dc38)"/>
<circle cx="1946.5" cy="353.1" r="8.3"/>
<circle cx="1588.3" cy="649.5" r="8.3"/>
<circle cx="1554.0" cy="689.8" r="8.3"/>
<circle cx="1516.9" cy="701.2" r="8.3"/>
<circle cx="1591.2" cy="660.4" r="8.3"/>
<circle cx="1628.4" cy="641.0" r="8.3" clip-path="url(#dc39)"/>
<circle cx="2058.0" cy="275.1" r="8.3"/>
<circle cx="2331.8" cy="270.7" r="8.3" clip-path="url(#dc40)"/>
<circle cx="1983.7" cy="309.4" r="8.3"/>
<circle cx="2294.7" cy="283.8" r="8.3" clip-path="url(#dc41)"/>
<circle cx="2020.8" cy="283.9" r="8.3"/>
<circle cx="1848.5" cy="459.9" r="8.3" clip-path="url(#dc42)"/>
<circle cx="1885.7" cy="434.7" r="8.3" clip-path="url(#dc43)"/>
<circle cx="1922.9" cy="410.5" r="8.3" clip-path="url(#dc44)"/>
<circle cx="2108.8" cy="315.2" r="8.3"/>
<circle cx="1960.1" cy="367.6" r="8.3"/>
<circle cx="1963.0" cy="388.4" r="8.3" clip-path="url(#dc45)"/>
<circle cx="2074.5" cy="311.7" r="8.3"/>
<circle cx="2000.2" cy="342.9" r="8.3"/>
<circle cx="2037.4" cy="318.7" r="8.3"/>
<circle cx="2071.6" cy="273.6" r="8.3"/>
<circle cx="1997.2" cy="306.9" r="8.3"/>
<circle cx="2034.4" cy="269.3" r="8.3"/>
<circle cx="2417.9" cy="362.0" r="8.3"/>
<circle cx="2380.7" cy="359.2" r="8.3"/>
<circle cx="1600.0" cy="730.0" r="8.3"/>
<circle cx="1562.8" cy="746.8" r="8.3"/>
<circle cx="1748.7" cy="654.7" r="8.3"/>
<circle cx="1637.2" cy="707.4" r="8.3"/>
<circle cx="1711.5" cy="667.2" r="8.3" clip-path="url(#dc46)"/>
<circle cx="1785.9" cy="630.5" r="8.3"/>
<circle cx="1674.4" cy="683.7" r="8.3" clip-path="url(#dc47)"/>
<circle cx="1823.1" cy="589.4" r="8.3"/>
<circle cx="2343.6" cy="337.6" r="8.3" clip-path="url(#dc48)"/>
<circle cx="1860.3" cy="543.1" r="8.3" clip-path="url(#dc49)"/>
<circle cx="2232.0" cy="357.4" r="8.3" clip-path="url(#dc50)"/>
<circle cx="2433.4" cy="397.9" r="8.3"/>
<circle cx="2306.4" cy="313.8" r="8.3"/>
<circle cx="1897.4" cy="506.3" r="8.3" clip-path="url(#dc51)"/>
<circle cx="2194.9" cy="352.3" r="8.3"/>
<circle cx="2269.2" cy="316.3" r="8.3"/>
<circle cx="1934.6" cy="475.4" r="8.3" clip-path="url(#dc52)"/>
<circle cx="1971.8" cy="447.8" r="8.3" clip-path="url(#dc53)"/>
<circle cx="2396.2" cy="382.3" r="8.3"/>
<circle cx="1578.3" cy="762.5" r="8.3"/>
<circle cx="1764.2" cy="669.1" r="8.3"/>
<circle cx="1615.5" cy="739.3" r="8.3"/>
<circle cx="2359.0" cy="382.4" r="8.3"/>
<circle cx="1727.0" cy="681.0" r="8.3"/>
<circle cx="1652.7" cy="714.8" r="8.3"/>
<circle cx="2009.0" cy="398.5" r="8.3"/>
<circle cx="1801.4" cy="642.3" r="8.3"/>
<circle cx="1689.8" cy="693.4" r="8.3"/>
<circle cx="2157.7" cy="318.2" r="8.3"/>
<circle cx="2321.9" cy="373.2" r="8.3"/>
<circle cx="2247.5" cy="407.7" r="8.3"/>
<circle cx="1838.5" cy="601.2" r="8.3"/>
<circle cx="2284.7" cy="384.3" r="8.3"/>
<circle cx="2046.1" cy="352.7" r="8.3"/>
<circle cx="2210.3" cy="407.0" r="8.3"/>
<circle cx="2120.5" cy="303.8" r="8.3"/>
<circle cx="2083.3" cy="318.8" r="8.3"/>
<circle cx="1875.7" cy="561.4" r="8.3"/>
<circle cx="1912.9" cy="530.4" r="8.3"/>
<circle cx="1950.1" cy="507.5" r="8.3"/>
<circle cx="1987.3" cy="478.0" r="8.3"/>
<circle cx="2173.2" cy="383.8" r="8.3"/>
<circle cx="2024.4" cy="433.7" r="8.3"/>
<circle cx="2136.0" cy="352.9" r="8.3"/>
<circle cx="2061.6" cy="387.7" r="8.3"/>
<circle cx="2098.8" cy="357.7" r="8.3"/>
</g>
<g id="legend">
<rect x="1427.3" y="203" width="273.7" height="89.3" fill="#fff" stroke="#262626" stroke-width="1.3"/>
<rect x="1436" y="211.5" width="87" height="31.5" fill="#8fcb4f" stroke="#262626" stroke-width="1.3"/>
<circle cx="1479.5" cy="267.5" r="7.6" fill="#0000ff" stroke="#fff" stroke-width="0.8"/>
<g font-family="'Liberation Sans',Arial,Helvetica,sans-serif" font-weight="bold" fill="#000">
<text x="1530.12" y="239.50" font-size="28.8" fill="#000">Exponential</text>
<text x="1537.88" y="279.80" font-size="28.8" fill="#000">γ vs. T, Hs</text>
</g></g>
<g id="right-labels" font-family="'Liberation Sans',Arial,Helvetica,sans-serif" font-weight="bold">
<text x="1324.60" y="647.13" font-size="32" fill="#262626">-5</text>
<text x="1335.60" y="568.34" font-size="32" fill="#262626">0</text>
<text x="1335.22" y="489.56" font-size="32" fill="#262626">5</text>
<text x="1317.85" y="410.77" font-size="32" fill="#262626">10</text>
<text x="1317.47" y="331.99" font-size="32" fill="#262626">15</text>
<text x="1317.85" y="253.20" font-size="32" fill="#262626">20</text>
<text x="1317.47" y="174.42" font-size="32" fill="#262626">25</text>
<text x="1317.85" y="95.63" font-size="32" fill="#262626">30</text>
<text x="1526.00" y="875.48" font-size="32" fill="#262626">0</text>
<text x="1357.14" y="769.46" font-size="32" fill="#262626">2000</text>
<text x="1602.45" y="896.18" font-size="32" fill="#262626">0</text>
<text x="1788.59" y="886.76" font-size="32" fill="#262626">5</text>
<text x="1973.48" y="878.09" font-size="32" fill="#262626">10</text>
<text x="2159.37" y="868.67" font-size="32" fill="#262626">15</text>
<text x="2346.14" y="860.00" font-size="32" fill="#262626">20</text>
<text x="1320.30" y="894.90" font-size="35.2" fill="#262626">h(m)</text>
<text x="1852.92" y="939.30" font-size="35.2" fill="#262626">Time (hours)</text>
<text transform="translate(1293.5,379.5) rotate(-90)" x="-41.31" y="0" font-size="35.2" fill="#262626">γ(s,t)</text>
</g>
<g id="captions" font-family="'Liberation Serif','Times New Roman',serif" fill="#000">
<text><tspan x="234.80" y="1058.4" font-size="68">(</tspan><tspan x="256.70" y="1058.4" font-size="62" font-weight="bold">a</tspan><tspan x="290.45" y="1058.4" font-size="68">)</tspan> <tspan x="324.90" y="1058.4" font-size="56" textLength="316.22" lengthAdjust="spacingAndGlyphs">Experimental</tspan> <tspan x="653.62" y="1058.4" font-size="56" textLength="355.32" lengthAdjust="spacingAndGlyphs">semivariogram</tspan></text>
<text><tspan x="1607.30" y="1058.4" font-size="68">(</tspan><tspan x="1631.12" y="1058.4" font-size="68" font-weight="bold">b</tspan><tspan x="1668.55" y="1058.4" font-size="68">)</tspan> <tspan x="1703.77" y="1058.4" font-size="56" textLength="262.67" lengthAdjust="spacingAndGlyphs">Theoretical</tspan> <tspan x="1978.49" y="1058.4" font-size="56" textLength="150.83" lengthAdjust="spacingAndGlyphs">model</tspan></text>
</g>
</svg>
</body></html>
